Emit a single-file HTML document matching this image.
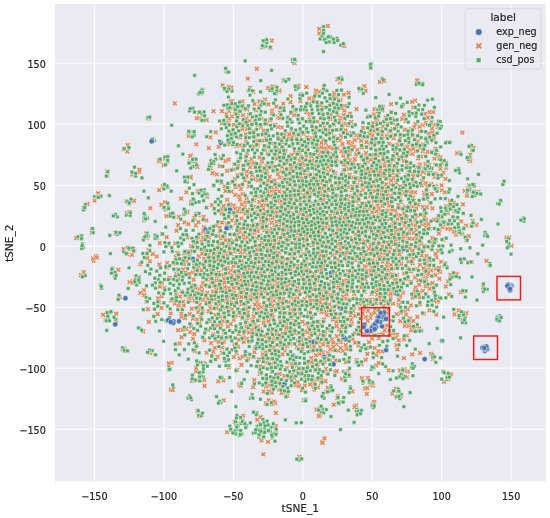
<!DOCTYPE html>
<html><head><meta charset="utf-8"><title>tSNE</title>
<style>
html,body{margin:0;padding:0;background:#fff;width:550px;height:518px;overflow:hidden}
svg{display:block}
#w{}
text{font-family:"DejaVu Sans","Liberation Sans",sans-serif;fill:#262626;stroke:#262626;stroke-width:0.2px}
</style></head><body><div id="w">
<svg width="550" height="518" viewBox="0 0 550 518">
<rect width="550" height="518" fill="#fff"/>
<g>
<rect x="55.0" y="4.0" width="490.6" height="477.5" fill="#eaeaf2"/>
<g stroke="#fff" stroke-width="1"><line x1="94.41" y1="4.0" x2="94.41" y2="481.5"/><line x1="163.86" y1="4.0" x2="163.86" y2="481.5"/><line x1="233.31" y1="4.0" x2="233.31" y2="481.5"/><line x1="302.75" y1="4.0" x2="302.75" y2="481.5"/><line x1="372.19" y1="4.0" x2="372.19" y2="481.5"/><line x1="441.64" y1="4.0" x2="441.64" y2="481.5"/><line x1="511.09" y1="4.0" x2="511.09" y2="481.5"/><line x1="55.0" y1="63.20" x2="545.6" y2="63.20"/><line x1="55.0" y1="124.20" x2="545.6" y2="124.20"/><line x1="55.0" y1="185.20" x2="545.6" y2="185.20"/><line x1="55.0" y1="246.20" x2="545.6" y2="246.20"/><line x1="55.0" y1="307.20" x2="545.6" y2="307.20"/><line x1="55.0" y1="368.20" x2="545.6" y2="368.20"/><line x1="55.0" y1="429.20" x2="545.6" y2="429.20"/></g>
<g stroke="#fff" stroke-width="0.36" transform="scale(1.3325)">
<path fill="#dd8452" d="M245 17.4l1 1 1-1 1 1-1 1 1 1-1 1-1-1-1 1-1-1 1-1-1-1zm-6.4 2.3l1 1 1-1 1 1-1 1 1 1-1 1-1-1-1 1-1-1 1-1-1-1zm1.3 5.3l1 1 1-1 1 1-1 1 1 1-1 1-1-1-1 1-1-1 1-1-1-1zm-44 8.5l1 1 1-1 1 1-1 1 1 1-1 1-1-1-1 1-1-1 1-1-1-1zm6.1 .4l1 1 1-1 1 1-1 1 1 1-1 1-1-1-1 1-1-1 1-1-1-1zm55.2-1.4l1 1 1-1 1 1-1 1 1 1-1 1-1-1-1 1-1-1 1-1-1-1zm-37.2 12.8l1 1 1-1 1 1-1 1 1 1-1 1-1-1-1 1-1-1 1-1-1-1zm57.4 3.5l1 1 1-1 1 1-1 1 1 1-1 1-1-1-1 1-1-1 1-1-1-1zm-108.7 2.7l1 1 1-1 1 1-1 1 1 1-1 1-1-1-1 1-1-1 1-1-1-1zm23-1.9l1 1 1-1 1 1-1 1 1 1-1 1-1-1-1 1-1-1 1-1-1-1zm-6.8 7.4l1 1 1-1 1 1-1 1 1 1-1 1-1-1-1 1-1-1 1-1-1-1zm26.7 1.8l1 1 1-1 1 1-1 1 1 1-1 1-1-1-1 1-1-1 1-1-1-1zm42.4 .9l1 1 1-1 1 1-1 1 1 1-1 1-1-1-1 1-1-1 1-1-1-1zm30.1-.2l1 1 1-1 1 1-1 1 1 1-1 1-1-1-1 1-1-1 1-1-1-1zm28.3-1.3l1 1 1-1 1 1-1 1 1 1-1 1-1-1-1 1-1-1 1-1-1-1zm-146.3 3.8l1 1 1-1 1 1-1 1 1 1-1 1-1-1-1 1-1-1 1-1-1-1zm6.6 1.7l1 1 1-1 1 1-1 1 1 1-1 1-1-1-1 1-1-1 1-1-1-1zm13.9 .3l1 1 1-1 1 1-1 1 1 1-1 1-1-1-1 1-1-1 1-1-1-1zm13.5 .1l1 1 1-1 1 1-1 1 1 1-1 1-1-1-1 1-1-1 1-1-1-1zm8.8 2.5l1 1 1-1 1 1-1 1 1 1-1 1-1-1-1 1-1-1 1-1-1-1zm14.4-3.8l1 1 1-1 1 1-1 1 1 1-1 1-1-1-1 1-1-1 1-1-1-1zm5.6 .5l1 1 1-1 1 1-1 1 1 1-1 1-1-1-1 1-1-1 1-1-1-1zm13.3 0l1 1 1-1 1 1-1 1 1 1-1 1-1-1-1 1-1-1 1-1-1-1zm30.3-.6l1 1 1-1 1 1-1 1 1 1-1 1-1-1-1 1-1-1 1-1-1-1zm-122.4 5.5l1 1 1-1 1 1-1 1 1 1-1 1-1-1-1 1-1-1 1-1-1-1zm67 2l1 1 1-1 1 1-1 1 1 1-1 1-1-1-1 1-1-1 1-1-1-1zm17.2 1.4l1 1 1-1 1 1-1 1 1 1-1 1-1-1-1 1-1-1 1-1-1-1zm20.2 1.3l1 1 1-1 1 1-1 1 1 1-1 1-1-1-1 1-1-1 1-1-1-1zm6.1-5.2l1 1 1-1 1 1-1 1 1 1-1 1-1-1-1 1-1-1 1-1-1-1zm-130.4 7.9l1 1 1-1 1 1-1 1 1 1-1 1-1-1-1 1-1-1 1-1-1-1zm47.3 2.3l1 1 1-1 1 1-1 1 1 1-1 1-1-1-1 1-1-1 1-1-1-1zm16.2-1.8l1 1 1-1 1 1-1 1 1 1-1 1-1-1-1 1-1-1 1-1-1-1zm17.9-.3l1 1 1-1 1 1-1 1 1 1-1 1-1-1-1 1-1-1 1-1-1-1zm5.4-1.2l1 1 1-1 1 1-1 1 1 1-1 1-1-1-1 1-1-1 1-1-1-1zm7.5-.7l1 1 1-1 1 1-1 1 1 1-1 1-1-1-1 1-1-1 1-1-1-1zm6.9 2.1l1 1 1-1 1 1-1 1 1 1-1 1-1-1-1 1-1-1 1-1-1-1zm15.4-.1l1 1 1-1 1 1-1 1 1 1-1 1-1-1-1 1-1-1 1-1-1-1zm10.5 1.6l1 1 1-1 1 1-1 1 1 1-1 1-1-1-1 1-1-1 1-1-1-1zm29.1 .9l1 1 1-1 1 1-1 1 1 1-1 1-1-1-1 1-1-1 1-1-1-1zm6.1-2.2l1 1 1-1 1 1-1 1 1 1-1 1-1-1-1 1-1-1 1-1-1-1zm8.3 1.8l1 1 1-1 1 1-1 1 1 1-1 1-1-1-1 1-1-1 1-1-1-1zm8.4 .7l1 1 1-1 1 1-1 1 1 1-1 1-1-1-1 1-1-1 1-1-1-1zm1.3-5.3l1 1 1-1 1 1-1 1 1 1-1 1-1-1-1 1-1-1 1-1-1-1zm-166.8 5.7l1 1 1-1 1 1-1 1 1 1-1 1-1-1-1 1-1-1 1-1-1-1zm15.5 2.3l1 1 1-1 1 1-1 1 1 1-1 1-1-1-1 1-1-1 1-1-1-1zm11.7 0l1 1 1-1 1 1-1 1 1 1-1 1-1-1-1 1-1-1 1-1-1-1zm13.6-1.2l1 1 1-1 1 1-1 1 1 1-1 1-1-1-1 1-1-1 1-1-1-1zm18.6 .9l1 1 1-1 1 1-1 1 1 1-1 1-1-1-1 1-1-1 1-1-1-1zm6.1 1.3l1 1 1-1 1 1-1 1 1 1-1 1-1-1-1 1-1-1 1-1-1-1zm11.2-1.4l1 1 1-1 1 1-1 1 1 1-1 1-1-1-1 1-1-1 1-1-1-1zm12 3.2l1 1 1-1 1 1-1 1 1 1-1 1-1-1-1 1-1-1 1-1-1-1zm7.4-3.5l1 1 1-1 1 1-1 1 1 1-1 1-1-1-1 1-1-1 1-1-1-1zm7.7 3.3l1 1 1-1 1 1-1 1 1 1-1 1-1-1-1 1-1-1 1-1-1-1zm4.6-3.5l1 1 1-1 1 1-1 1 1 1-1 1-1-1-1 1-1-1 1-1-1-1zm4.9 3.8l1 1 1-1 1 1-1 1 1 1-1 1-1-1-1 1-1-1 1-1-1-1zm9.5-4.4l1 1 1-1 1 1-1 1 1 1-1 1-1-1-1 1-1-1 1-1-1-1zm13.6 .1l1 1 1-1 1 1-1 1 1 1-1 1-1-1-1 1-1-1 1-1-1-1zm37.7 3.4l1 1 1-1 1 1-1 1 1 1-1 1-1-1-1 1-1-1 1-1-1-1zm6.2-1.3l1 1 1-1 1 1-1 1 1 1-1 1-1-1-1 1-1-1 1-1-1-1zm-213.2 4.9l1 1 1-1 1 1-1 1 1 1-1 1-1-1-1 1-1-1 1-1-1-1zm38-.2l1 1 1-1 1 1-1 1 1 1-1 1-1-1-1 1-1-1 1-1-1-1zm5.3 1.3l1 1 1-1 1 1-1 1 1 1-1 1-1-1-1 1-1-1 1-1-1-1zm11.5 2.5l1 1 1-1 1 1-1 1 1 1-1 1-1-1-1 1-1-1 1-1-1-1zm4.5-.5l1 1 1-1 1 1-1 1 1 1-1 1-1-1-1 1-1-1 1-1-1-1zm6.6-2.4l1 1 1-1 1 1-1 1 1 1-1 1-1-1-1 1-1-1 1-1-1-1zm4.7 1.8l1 1 1-1 1 1-1 1 1 1-1 1-1-1-1 1-1-1 1-1-1-1zm17.9 1.4l1 1 1-1 1 1-1 1 1 1-1 1-1-1-1 1-1-1 1-1-1-1zm15.7-2.7l1 1 1-1 1 1-1 1 1 1-1 1-1-1-1 1-1-1 1-1-1-1zm10.9-.6l1 1 1-1 1 1-1 1 1 1-1 1-1-1-1 1-1-1 1-1-1-1zm7 2.4l1 1 1-1 1 1-1 1 1 1-1 1-1-1-1 1-1-1 1-1-1-1zm8.8 .5l1 1 1-1 1 1-1 1 1 1-1 1-1-1-1 1-1-1 1-1-1-1zm15.4 .4l1 1 1-1 1 1-1 1 1 1-1 1-1-1-1 1-1-1 1-1-1-1zm5.5-1.5l1 1 1-1 1 1-1 1 1 1-1 1-1-1-1 1-1-1 1-1-1-1zm19.3 .6l1 1 1-1 1 1-1 1 1 1-1 1-1-1-1 1-1-1 1-1-1-1zm6.6-3.8l1 1 1-1 1 1-1 1 1 1-1 1-1-1-1 1-1-1 1-1-1-1zm4.6 .7l1 1 1-1 1 1-1 1 1 1-1 1-1-1-1 1-1-1 1-1-1-1zm7.7 .4l1 1 1-1 1 1-1 1 1 1-1 1-1-1-1 1-1-1 1-1-1-1zm-119.8 7.5l1 1 1-1 1 1-1 1 1 1-1 1-1-1-1 1-1-1 1-1-1-1zm5.6-3l1 1 1-1 1 1-1 1 1 1-1 1-1-1-1 1-1-1 1-1-1-1zm2.4 4.7l1 1 1-1 1 1-1 1 1 1-1 1-1-1-1 1-1-1 1-1-1-1zm5.7-3.1l1 1 1-1 1 1-1 1 1 1-1 1-1-1-1 1-1-1 1-1-1-1zm15.7 .3l1 1 1-1 1 1-1 1 1 1-1 1-1-1-1 1-1-1 1-1-1-1zm7.3 2.2l1 1 1-1 1 1-1 1 1 1-1 1-1-1-1 1-1-1 1-1-1-1zm53.7-1.9l1 1 1-1 1 1-1 1 1 1-1 1-1-1-1 1-1-1 1-1-1-1zm8.3 2.1l1 1 1-1 1 1-1 1 1 1-1 1-1-1-1 1-1-1 1-1-1-1zm5.1-.2l1 1 1-1 1 1-1 1 1 1-1 1-1-1-1 1-1-1 1-1-1-1zm6.1 .7l1 1 1-1 1 1-1 1 1 1-1 1-1-1-1 1-1-1 1-1-1-1zm5.4-4l1 1 1-1 1 1-1 1 1 1-1 1-1-1-1 1-1-1 1-1-1-1zm6.5 2.8l1 1 1-1 1 1-1 1 1 1-1 1-1-1-1 1-1-1 1-1-1-1zm4.8-.5l1 1 1-1 1 1-1 1 1 1-1 1-1-1-1 1-1-1 1-1-1-1zm6.7 1.8l1 1 1-1 1 1-1 1 1 1-1 1-1-1-1 1-1-1 1-1-1-1zm2-4.9l1 1 1-1 1 1-1 1 1 1-1 1-1-1-1 1-1-1 1-1-1-1zm8.8-.2l1 1 1-1 1 1-1 1 1 1-1 1-1-1-1 1-1-1 1-1-1-1zm-181.2 5.5l1 1 1-1 1 1-1 1 1 1-1 1-1-1-1 1-1-1 1-1-1-1zm12.9 4l1 1 1-1 1 1-1 1 1 1-1 1-1-1-1 1-1-1 1-1-1-1zm15.6-2.3l1 1 1-1 1 1-1 1 1 1-1 1-1-1-1 1-1-1 1-1-1-1zm6.7 2.4l1 1 1-1 1 1-1 1 1 1-1 1-1-1-1 1-1-1 1-1-1-1zm20.5-2.6l1 1 1-1 1 1-1 1 1 1-1 1-1-1-1 1-1-1 1-1-1-1zm8.1 1.3l1 1 1-1 1 1-1 1 1 1-1 1-1-1-1 1-1-1 1-1-1-1zm7.9 1.8l1 1 1-1 1 1-1 1 1 1-1 1-1-1-1 1-1-1 1-1-1-1zm8-2.2l1 1 1-1 1 1-1 1 1 1-1 1-1-1-1 1-1-1 1-1-1-1zm5.8 1.6l1 1 1-1 1 1-1 1 1 1-1 1-1-1-1 1-1-1 1-1-1-1zm8.3 1.3l1 1 1-1 1 1-1 1 1 1-1 1-1-1-1 1-1-1 1-1-1-1zm10.1-4.9l1 1 1-1 1 1-1 1 1 1-1 1-1-1-1 1-1-1 1-1-1-1zm14.9 .4l1 1 1-1 1 1-1 1 1 1-1 1-1-1-1 1-1-1 1-1-1-1zm31.8 3.8l1 1 1-1 1 1-1 1 1 1-1 1-1-1-1 1-1-1 1-1-1-1zm4.9-.3l1 1 1-1 1 1-1 1 1 1-1 1-1-1-1 1-1-1 1-1-1-1zm6.6 .8l1 1 1-1 1 1-1 1 1 1-1 1-1-1-1 1-1-1 1-1-1-1zm15.9-.4l1 1 1-1 1 1-1 1 1 1-1 1-1-1-1 1-1-1 1-1-1-1zm24.1-4.3l1 1 1-1 1 1-1 1 1 1-1 1-1-1-1 1-1-1 1-1-1-1zm-251.2 9.4l1 1 1-1 1 1-1 1 1 1-1 1-1-1-1 1-1-1 1-1-1-1zm51.5-.5l1 1 1-1 1 1-1 1 1 1-1 1-1-1-1 1-1-1 1-1-1-1zm16.9 1.8l1 1 1-1 1 1-1 1 1 1-1 1-1-1-1 1-1-1 1-1-1-1zm13.2-.6l1 1 1-1 1 1-1 1 1 1-1 1-1-1-1 1-1-1 1-1-1-1zm7.3-4l1 1 1-1 1 1-1 1 1 1-1 1-1-1-1 1-1-1 1-1-1-1zm5.7 4.2l1 1 1-1 1 1-1 1 1 1-1 1-1-1-1 1-1-1 1-1-1-1zm11.4 .8l1 1 1-1 1 1-1 1 1 1-1 1-1-1-1 1-1-1 1-1-1-1zm.1-4.9l1 1 1-1 1 1-1 1 1 1-1 1-1-1-1 1-1-1 1-1-1-1zm9.9 1.2l1 1 1-1 1 1-1 1 1 1-1 1-1-1-1 1-1-1 1-1-1-1zm7.2 2.4l1 1 1-1 1 1-1 1 1 1-1 1-1-1-1 1-1-1 1-1-1-1zm6.9 .1l1 1 1-1 1 1-1 1 1 1-1 1-1-1-1 1-1-1 1-1-1-1zm20.9 1l1 1 1-1 1 1-1 1 1 1-1 1-1-1-1 1-1-1 1-1-1-1zm8.5-5.3l1 1 1-1 1 1-1 1 1 1-1 1-1-1-1 1-1-1 1-1-1-1zm9 1.8l1 1 1-1 1 1-1 1 1 1-1 1-1-1-1 1-1-1 1-1-1-1zm16.8-1.1l1 1 1-1 1 1-1 1 1 1-1 1-1-1-1 1-1-1 1-1-1-1zm13.8 3.3l1 1 1-1 1 1-1 1 1 1-1 1-1-1-1 1-1-1 1-1-1-1zm18.2 .6l1 1 1-1 1 1-1 1 1 1-1 1-1-1-1 1-1-1 1-1-1-1zm4.5-1.4l1 1 1-1 1 1-1 1 1 1-1 1-1-1-1 1-1-1 1-1-1-1zm35.1 1.5l1 1 1-1 1 1-1 1 1 1-1 1-1-1-1 1-1-1 1-1-1-1zm-209.4 7l1 1 1-1 1 1-1 1 1 1-1 1-1-1-1 1-1-1 1-1-1-1zm13.4-5.6l1 1 1-1 1 1-1 1 1 1-1 1-1-1-1 1-1-1 1-1-1-1zm49.1 5.2l1 1 1-1 1 1-1 1 1 1-1 1-1-1-1 1-1-1 1-1-1-1zm15.6-1.9l1 1 1-1 1 1-1 1 1 1-1 1-1-1-1 1-1-1 1-1-1-1zm30.2-.6l1 1 1-1 1 1-1 1 1 1-1 1-1-1-1 1-1-1 1-1-1-1zm6.3-2.6l1 1 1-1 1 1-1 1 1 1-1 1-1-1-1 1-1-1 1-1-1-1zm9.4 4.6l1 1 1-1 1 1-1 1 1 1-1 1-1-1-1 1-1-1 1-1-1-1zm7.4-1.1l1 1 1-1 1 1-1 1 1 1-1 1-1-1-1 1-1-1 1-1-1-1zm10.6-2.2l1 1 1-1 1 1-1 1 1 1-1 1-1-1-1 1-1-1 1-1-1-1zm15.7 0l1 1 1-1 1 1-1 1 1 1-1 1-1-1-1 1-1-1 1-1-1-1zm8.5 2.9l1 1 1-1 1 1-1 1 1 1-1 1-1-1-1 1-1-1 1-1-1-1zm11.4-1.6l1 1 1-1 1 1-1 1 1 1-1 1-1-1-1 1-1-1 1-1-1-1zm5.8-2.4l1 1 1-1 1 1-1 1 1 1-1 1-1-1-1 1-1-1 1-1-1-1zm17.9 3.1l1 1 1-1 1 1-1 1 1 1-1 1-1-1-1 1-1-1 1-1-1-1zm8.3 1.4l1 1 1-1 1 1-1 1 1 1-1 1-1-1-1 1-1-1 1-1-1-1zm-233.5 5.2l1 1 1-1 1 1-1 1 1 1-1 1-1-1-1 1-1-1 1-1-1-1zm27.8 1.9l1 1 1-1 1 1-1 1 1 1-1 1-1-1-1 1-1-1 1-1-1-1zm22.1-2.3l1 1 1-1 1 1-1 1 1 1-1 1-1-1-1 1-1-1 1-1-1-1zm15.1-3.3l1 1 1-1 1 1-1 1 1 1-1 1-1-1-1 1-1-1 1-1-1-1zm10.5 .6l1 1 1-1 1 1-1 1 1 1-1 1-1-1-1 1-1-1 1-1-1-1zm15.7-.2l1 1 1-1 1 1-1 1 1 1-1 1-1-1-1 1-1-1 1-1-1-1zm15.3-.4l1 1 1-1 1 1-1 1 1 1-1 1-1-1-1 1-1-1 1-1-1-1zm12.1 1.5l1 1 1-1 1 1-1 1 1 1-1 1-1-1-1 1-1-1 1-1-1-1zm6.1-1.7l1 1 1-1 1 1-1 1 1 1-1 1-1-1-1 1-1-1 1-1-1-1zm15.2 2.4l1 1 1-1 1 1-1 1 1 1-1 1-1-1-1 1-1-1 1-1-1-1zm16.6 1.7l1 1 1-1 1 1-1 1 1 1-1 1-1-1-1 1-1-1 1-1-1-1zm27-.7l1 1 1-1 1 1-1 1 1 1-1 1-1-1-1 1-1-1 1-1-1-1zm13.2-3.1l1 1 1-1 1 1-1 1 1 1-1 1-1-1-1 1-1-1 1-1-1-1zm10 1.4l1 1 1-1 1 1-1 1 1 1-1 1-1-1-1 1-1-1 1-1-1-1zm26.8 1.8l1 1 1-1 1 1-1 1 1 1-1 1-1-1-1 1-1-1 1-1-1-1zm-195.5 3.1l1 1 1-1 1 1-1 1 1 1-1 1-1-1-1 1-1-1 1-1-1-1zm13.1 4.3l1 1 1-1 1 1-1 1 1 1-1 1-1-1-1 1-1-1 1-1-1-1zm4.9-1.1l1 1 1-1 1 1-1 1 1 1-1 1-1-1-1 1-1-1 1-1-1-1zm15.9-1.7l1 1 1-1 1 1-1 1 1 1-1 1-1-1-1 1-1-1 1-1-1-1zm6.6 .4l1 1 1-1 1 1-1 1 1 1-1 1-1-1-1 1-1-1 1-1-1-1zm5.1 .3l1 1 1-1 1 1-1 1 1 1-1 1-1-1-1 1-1-1 1-1-1-1zm8 2.5l1 1 1-1 1 1-1 1 1 1-1 1-1-1-1 1-1-1 1-1-1-1zm8.9-5.1l1 1 1-1 1 1-1 1 1 1-1 1-1-1-1 1-1-1 1-1-1-1zm9.4 .2l1 1 1-1 1 1-1 1 1 1-1 1-1-1-1 1-1-1 1-1-1-1zm7 3.5l1 1 1-1 1 1-1 1 1 1-1 1-1-1-1 1-1-1 1-1-1-1zm15.5-4l1 1 1-1 1 1-1 1 1 1-1 1-1-1-1 1-1-1 1-1-1-1zm17.7 4l1 1 1-1 1 1-1 1 1 1-1 1-1-1-1 1-1-1 1-1-1-1zm9.2-.6l1 1 1-1 1 1-1 1 1 1-1 1-1-1-1 1-1-1 1-1-1-1zm5.2-2.3l1 1 1-1 1 1-1 1 1 1-1 1-1-1-1 1-1-1 1-1-1-1zm36.1 2.6l1 1 1-1 1 1-1 1 1 1-1 1-1-1-1 1-1-1 1-1-1-1zm-239.7 4.9l1 1 1-1 1 1-1 1 1 1-1 1-1-1-1 1-1-1 1-1-1-1zm18.9-.7l1 1 1-1 1 1-1 1 1 1-1 1-1-1-1 1-1-1 1-1-1-1zm5.2-2l1 1 1-1 1 1-1 1 1 1-1 1-1-1-1 1-1-1 1-1-1-1zm38.8 4.4l1 1 1-1 1 1-1 1 1 1-1 1-1-1-1 1-1-1 1-1-1-1zm19.5-2.6l1 1 1-1 1 1-1 1 1 1-1 1-1-1-1 1-1-1 1-1-1-1zm13.5 3.5l1 1 1-1 1 1-1 1 1 1-1 1-1-1-1 1-1-1 1-1-1-1zm5.1-3.7l1 1 1-1 1 1-1 1 1 1-1 1-1-1-1 1-1-1 1-1-1-1zm9 3.7l1 1 1-1 1 1-1 1 1 1-1 1-1-1-1 1-1-1 1-1-1-1zm19.6-1.3l1 1 1-1 1 1-1 1 1 1-1 1-1-1-1 1-1-1 1-1-1-1zm12.4-.6l1 1 1-1 1 1-1 1 1 1-1 1-1-1-1 1-1-1 1-1-1-1zm5.8-2.1l1 1 1-1 1 1-1 1 1 1-1 1-1-1-1 1-1-1 1-1-1-1zm9.2 3.4l1 1 1-1 1 1-1 1 1 1-1 1-1-1-1 1-1-1 1-1-1-1zm6-1.5l1 1 1-1 1 1-1 1 1 1-1 1-1-1-1 1-1-1 1-1-1-1zm48.8-2.2l1 1 1-1 1 1-1 1 1 1-1 1-1-1-1 1-1-1 1-1-1-1zm16.1 4.3l1 1 1-1 1 1-1 1 1 1-1 1-1-1-1 1-1-1 1-1-1-1zm1.3-4.4l1 1 1-1 1 1-1 1 1 1-1 1-1-1-1 1-1-1 1-1-1-1zm6 1.1l1 1 1-1 1 1-1 1 1 1-1 1-1-1-1 1-1-1 1-1-1-1zm16 1.3l1 1 1-1 1 1-1 1 1 1-1 1-1-1-1 1-1-1 1-1-1-1zm-154.7 8.2l1 1 1-1 1 1-1 1 1 1-1 1-1-1-1 1-1-1 1-1-1-1zm10.1-.8l1 1 1-1 1 1-1 1 1 1-1 1-1-1-1 1-1-1 1-1-1-1zm14.5-.5l1 1 1-1 1 1-1 1 1 1-1 1-1-1-1 1-1-1 1-1-1-1zm6 1.1l1 1 1-1 1 1-1 1 1 1-1 1-1-1-1 1-1-1 1-1-1-1zm12.1 .5l1 1 1-1 1 1-1 1 1 1-1 1-1-1-1 1-1-1 1-1-1-1zm29.6 0l1 1 1-1 1 1-1 1 1 1-1 1-1-1-1 1-1-1 1-1-1-1zm9-5.6l1 1 1-1 1 1-1 1 1 1-1 1-1-1-1 1-1-1 1-1-1-1zm3.4 5l1 1 1-1 1 1-1 1 1 1-1 1-1-1-1 1-1-1 1-1-1-1zm6.5-1.5l1 1 1-1 1 1-1 1 1 1-1 1-1-1-1 1-1-1 1-1-1-1zm4.6-2.2l1 1 1-1 1 1-1 1 1 1-1 1-1-1-1 1-1-1 1-1-1-1zm5.1 4.1l1 1 1-1 1 1-1 1 1 1-1 1-1-1-1 1-1-1 1-1-1-1zm8.6-2.9l1 1 1-1 1 1-1 1 1 1-1 1-1-1-1 1-1-1 1-1-1-1zm11.1-.6l1 1 1-1 1 1-1 1 1 1-1 1-1-1-1 1-1-1 1-1-1-1zm19.3-1.5l1 1 1-1 1 1-1 1 1 1-1 1-1-1-1 1-1-1 1-1-1-1zm39.2 3.2l1 1 1-1 1 1-1 1 1 1-1 1-1-1-1 1-1-1 1-1-1-1zm-236.4 3.8l1 1 1-1 1 1-1 1 1 1-1 1-1-1-1 1-1-1 1-1-1-1zm20.4 1.6l1 1 1-1 1 1-1 1 1 1-1 1-1-1-1 1-1-1 1-1-1-1zm11.8 1.7l1 1 1-1 1 1-1 1 1 1-1 1-1-1-1 1-1-1 1-1-1-1zm55.2 .2l1 1 1-1 1 1-1 1 1 1-1 1-1-1-1 1-1-1 1-1-1-1zm6-1.6l1 1 1-1 1 1-1 1 1 1-1 1-1-1-1 1-1-1 1-1-1-1zm12.4-.4l1 1 1-1 1 1-1 1 1 1-1 1-1-1-1 1-1-1 1-1-1-1zm7 1.2l1 1 1-1 1 1-1 1 1 1-1 1-1-1-1 1-1-1 1-1-1-1zm40.2-2.7l1 1 1-1 1 1-1 1 1 1-1 1-1-1-1 1-1-1 1-1-1-1zm28.1 2.3l1 1 1-1 1 1-1 1 1 1-1 1-1-1-1 1-1-1 1-1-1-1zm11-.6l1 1 1-1 1 1-1 1 1 1-1 1-1-1-1 1-1-1 1-1-1-1zm19.9-1.5l1 1 1-1 1 1-1 1 1 1-1 1-1-1-1 1-1-1 1-1-1-1zm19.6-1l1 1 1-1 1 1-1 1 1 1-1 1-1-1-1 1-1-1 1-1-1-1zm8 2l1 1 1-1 1 1-1 1 1 1-1 1-1-1-1 1-1-1 1-1-1-1zm-285.2 3.4l1 1 1-1 1 1-1 1 1 1-1 1-1-1-1 1-1-1 1-1-1-1zm24.7 3.8l1 1 1-1 1 1-1 1 1 1-1 1-1-1-1 1-1-1 1-1-1-1zm37.3-2l1 1 1-1 1 1-1 1 1 1-1 1-1-1-1 1-1-1 1-1-1-1zm7.7 2.5l1 1 1-1 1 1-1 1 1 1-1 1-1-1-1 1-1-1 1-1-1-1zm26.9-1.7l1 1 1-1 1 1-1 1 1 1-1 1-1-1-1 1-1-1 1-1-1-1zm9-2.8l1 1 1-1 1 1-1 1 1 1-1 1-1-1-1 1-1-1 1-1-1-1zm11.2 .8l1 1 1-1 1 1-1 1 1 1-1 1-1-1-1 1-1-1 1-1-1-1zm20.2 3l1 1 1-1 1 1-1 1 1 1-1 1-1-1-1 1-1-1 1-1-1-1zm13.9-.5l1 1 1-1 1 1-1 1 1 1-1 1-1-1-1 1-1-1 1-1-1-1zm21.6 2.1l1 1 1-1 1 1-1 1 1 1-1 1-1-1-1 1-1-1 1-1-1-1zm5.5-.7l1 1 1-1 1 1-1 1 1 1-1 1-1-1-1 1-1-1 1-1-1-1zm3.1-4.5l1 1 1-1 1 1-1 1 1 1-1 1-1-1-1 1-1-1 1-1-1-1zm5.8 2.5l1 1 1-1 1 1-1 1 1 1-1 1-1-1-1 1-1-1 1-1-1-1zm16.2 1.8l1 1 1-1 1 1-1 1 1 1-1 1-1-1-1 1-1-1 1-1-1-1zm11.5-3.2l1 1 1-1 1 1-1 1 1 1-1 1-1-1-1 1-1-1 1-1-1-1zm5.8 2.8l1 1 1-1 1 1-1 1 1 1-1 1-1-1-1 1-1-1 1-1-1-1zm12.4-1.7l1 1 1-1 1 1-1 1 1 1-1 1-1-1-1 1-1-1 1-1-1-1zm15.9 3.1l1 1 1-1 1 1-1 1 1 1-1 1-1-1-1 1-1-1 1-1-1-1zm17.8-.4l1 1 1-1 1 1-1 1 1 1-1 1-1-1-1 1-1-1 1-1-1-1zm-276.8 3.8l1 1 1-1 1 1-1 1 1 1-1 1-1-1-1 1-1-1 1-1-1-1zm49.2 .3l1 1 1-1 1 1-1 1 1 1-1 1-1-1-1 1-1-1 1-1-1-1zm10.4-.3l1 1 1-1 1 1-1 1 1 1-1 1-1-1-1 1-1-1 1-1-1-1zm31.9-.2l1 1 1-1 1 1-1 1 1 1-1 1-1-1-1 1-1-1 1-1-1-1zm5.9 1.1l1 1 1-1 1 1-1 1 1 1-1 1-1-1-1 1-1-1 1-1-1-1zm5.5 .3l1 1 1-1 1 1-1 1 1 1-1 1-1-1-1 1-1-1 1-1-1-1zm4.9-1.3l1 1 1-1 1 1-1 1 1 1-1 1-1-1-1 1-1-1 1-1-1-1zm8.2 .6l1 1 1-1 1 1-1 1 1 1-1 1-1-1-1 1-1-1 1-1-1-1zm5.6 1.2l1 1 1-1 1 1-1 1 1 1-1 1-1-1-1 1-1-1 1-1-1-1zm5.3-2.5l1 1 1-1 1 1-1 1 1 1-1 1-1-1-1 1-1-1 1-1-1-1zm4.5 2.9l1 1 1-1 1 1-1 1 1 1-1 1-1-1-1 1-1-1 1-1-1-1zm11.3-3.8l1 1 1-1 1 1-1 1 1 1-1 1-1-1-1 1-1-1 1-1-1-1zm6 2.9l1 1 1-1 1 1-1 1 1 1-1 1-1-1-1 1-1-1 1-1-1-1zm25.9-.4l1 1 1-1 1 1-1 1 1 1-1 1-1-1-1 1-1-1 1-1-1-1zm20.6 .9l1 1 1-1 1 1-1 1 1 1-1 1-1-1-1 1-1-1 1-1-1-1zm9.4-1.1l1 1 1-1 1 1-1 1 1 1-1 1-1-1-1 1-1-1 1-1-1-1zm9 0l1 1 1-1 1 1-1 1 1 1-1 1-1-1-1 1-1-1 1-1-1-1zm6.1-2.7l1 1 1-1 1 1-1 1 1 1-1 1-1-1-1 1-1-1 1-1-1-1zm13.4 4.1l1 1 1-1 1 1-1 1 1 1-1 1-1-1-1 1-1-1 1-1-1-1zm17-4.4l1 1 1-1 1 1-1 1 1 1-1 1-1-1-1 1-1-1 1-1-1-1zm4.7 5.2l1 1 1-1 1 1-1 1 1 1-1 1-1-1-1 1-1-1 1-1-1-1zm29-5.4l1 1 1-1 1 1-1 1 1 1-1 1-1-1-1 1-1-1 1-1-1-1zm-252.2 6.6l1 1 1-1 1 1-1 1 1 1-1 1-1-1-1 1-1-1 1-1-1-1zm29.7 2.2l1 1 1-1 1 1-1 1 1 1-1 1-1-1-1 1-1-1 1-1-1-1zm13.2-1.8l1 1 1-1 1 1-1 1 1 1-1 1-1-1-1 1-1-1 1-1-1-1zm10.9 1.1l1 1 1-1 1 1-1 1 1 1-1 1-1-1-1 1-1-1 1-1-1-1zm22.7 1.8l1 1 1-1 1 1-1 1 1 1-1 1-1-1-1 1-1-1 1-1-1-1zm4.6-.6l1 1 1-1 1 1-1 1 1 1-1 1-1-1-1 1-1-1 1-1-1-1zm4.9 1.3l1 1 1-1 1 1-1 1 1 1-1 1-1-1-1 1-1-1 1-1-1-1zm20.2 1.1l1 1 1-1 1 1-1 1 1 1-1 1-1-1-1 1-1-1 1-1-1-1zm19-2.1l1 1 1-1 1 1-1 1 1 1-1 1-1-1-1 1-1-1 1-1-1-1zm9-.3l1 1 1-1 1 1-1 1 1 1-1 1-1-1-1 1-1-1 1-1-1-1zm21.7-2.7l1 1 1-1 1 1-1 1 1 1-1 1-1-1-1 1-1-1 1-1-1-1zm11.1 2.6l1 1 1-1 1 1-1 1 1 1-1 1-1-1-1 1-1-1 1-1-1-1zm6.5 1.4l1 1 1-1 1 1-1 1 1 1-1 1-1-1-1 1-1-1 1-1-1-1zm8.6-2.6l1 1 1-1 1 1-1 1 1 1-1 1-1-1-1 1-1-1 1-1-1-1zm21.1 2.8l1 1 1-1 1 1-1 1 1 1-1 1-1-1-1 1-1-1 1-1-1-1zm14.6-2.4l1 1 1-1 1 1-1 1 1 1-1 1-1-1-1 1-1-1 1-1-1-1zm14.6 2.4l1 1 1-1 1 1-1 1 1 1-1 1-1-1-1 1-1-1 1-1-1-1zm5-4.1l1 1 1-1 1 1-1 1 1 1-1 1-1-1-1 1-1-1 1-1-1-1zm10.2 3.9l1 1 1-1 1 1-1 1 1 1-1 1-1-1-1 1-1-1 1-1-1-1zm-234.9 1.6l1 1 1-1 1 1-1 1 1 1-1 1-1-1-1 1-1-1 1-1-1-1zm25.8 3.4l1 1 1-1 1 1-1 1 1 1-1 1-1-1-1 1-1-1 1-1-1-1zm4.7-2.1l1 1 1-1 1 1-1 1 1 1-1 1-1-1-1 1-1-1 1-1-1-1zm8.7 2.2l1 1 1-1 1 1-1 1 1 1-1 1-1-1-1 1-1-1 1-1-1-1zm5.9 1.5l1 1 1-1 1 1-1 1 1 1-1 1-1-1-1 1-1-1 1-1-1-1zm13.6-3.6l1 1 1-1 1 1-1 1 1 1-1 1-1-1-1 1-1-1 1-1-1-1zm21.2 2.3l1 1 1-1 1 1-1 1 1 1-1 1-1-1-1 1-1-1 1-1-1-1zm24.9-.1l1 1 1-1 1 1-1 1 1 1-1 1-1-1-1 1-1-1 1-1-1-1zm18.7 1.4l1 1 1-1 1 1-1 1 1 1-1 1-1-1-1 1-1-1 1-1-1-1zm15.8-1.2l1 1 1-1 1 1-1 1 1 1-1 1-1-1-1 1-1-1 1-1-1-1zm6.1-1.8l1 1 1-1 1 1-1 1 1 1-1 1-1-1-1 1-1-1 1-1-1-1zm23.6 .3l1 1 1-1 1 1-1 1 1 1-1 1-1-1-1 1-1-1 1-1-1-1zm7.3 2.5l1 1 1-1 1 1-1 1 1 1-1 1-1-1-1 1-1-1 1-1-1-1zm5.4-2.8l1 1 1-1 1 1-1 1 1 1-1 1-1-1-1 1-1-1 1-1-1-1zm15.5-1.9l1 1 1-1 1 1-1 1 1 1-1 1-1-1-1 1-1-1 1-1-1-1zm.5 5.1l1 1 1-1 1 1-1 1 1 1-1 1-1-1-1 1-1-1 1-1-1-1zm13.4-2.9l1 1 1-1 1 1-1 1 1 1-1 1-1-1-1 1-1-1 1-1-1-1zm18.3 .3l1 1 1-1 1 1-1 1 1 1-1 1-1-1-1 1-1-1 1-1-1-1zm20.3 .5l1 1 1-1 1 1-1 1 1 1-1 1-1-1-1 1-1-1 1-1-1-1zm-288.6 5.8l1 1 1-1 1 1-1 1 1 1-1 1-1-1-1 1-1-1 1-1-1-1zm17.6 .4l1 1 1-1 1 1-1 1 1 1-1 1-1-1-1 1-1-1 1-1-1-1zm63.8 .5l1 1 1-1 1 1-1 1 1 1-1 1-1-1-1 1-1-1 1-1-1-1zm44.8 1.5l1 1 1-1 1 1-1 1 1 1-1 1-1-1-1 1-1-1 1-1-1-1zm16.9-2.5l1 1 1-1 1 1-1 1 1 1-1 1-1-1-1 1-1-1 1-1-1-1zm7.2-.4l1 1 1-1 1 1-1 1 1 1-1 1-1-1-1 1-1-1 1-1-1-1zm5.7-2l1 1 1-1 1 1-1 1 1 1-1 1-1-1-1 1-1-1 1-1-1-1zm1.2 4.7l1 1 1-1 1 1-1 1 1 1-1 1-1-1-1 1-1-1 1-1-1-1zm8.2-1.6l1 1 1-1 1 1-1 1 1 1-1 1-1-1-1 1-1-1 1-1-1-1zm19-2.3l1 1 1-1 1 1-1 1 1 1-1 1-1-1-1 1-1-1 1-1-1-1zm20.5 2.7l1 1 1-1 1 1-1 1 1 1-1 1-1-1-1 1-1-1 1-1-1-1zm4.9-1l1 1 1-1 1 1-1 1 1 1-1 1-1-1-1 1-1-1 1-1-1-1zm6.7 1.3l1 1 1-1 1 1-1 1 1 1-1 1-1-1-1 1-1-1 1-1-1-1zm4.8-2.2l1 1 1-1 1 1-1 1 1 1-1 1-1-1-1 1-1-1 1-1-1-1zm8.6 1.9l1 1 1-1 1 1-1 1 1 1-1 1-1-1-1 1-1-1 1-1-1-1zm6.2 1.6l1 1 1-1 1 1-1 1 1 1-1 1-1-1-1 1-1-1 1-1-1-1zm7.3-4.5l1 1 1-1 1 1-1 1 1 1-1 1-1-1-1 1-1-1 1-1-1-1zm17.6-.3l1 1 1-1 1 1-1 1 1 1-1 1-1-1-1 1-1-1 1-1-1-1zm17 3.6l1 1 1-1 1 1-1 1 1 1-1 1-1-1-1 1-1-1 1-1-1-1zm-289.8 2.8l1 1 1-1 1 1-1 1 1 1-1 1-1-1-1 1-1-1 1-1-1-1zm52.8-.2l1 1 1-1 1 1-1 1 1 1-1 1-1-1-1 1-1-1 1-1-1-1zm9.9 4l1 1 1-1 1 1-1 1 1 1-1 1-1-1-1 1-1-1 1-1-1-1zm5.2-4.6l1 1 1-1 1 1-1 1 1 1-1 1-1-1-1 1-1-1 1-1-1-1zm6.5 4.7l1 1 1-1 1 1-1 1 1 1-1 1-1-1-1 1-1-1 1-1-1-1zm9.1-4.4l1 1 1-1 1 1-1 1 1 1-1 1-1-1-1 1-1-1 1-1-1-1zm7 2.2l1 1 1-1 1 1-1 1 1 1-1 1-1-1-1 1-1-1 1-1-1-1zm9.2-2.3l1 1 1-1 1 1-1 1 1 1-1 1-1-1-1 1-1-1 1-1-1-1zm8.9 .9l1 1 1-1 1 1-1 1 1 1-1 1-1-1-1 1-1-1 1-1-1-1zm5.5 3.3l1 1 1-1 1 1-1 1 1 1-1 1-1-1-1 1-1-1 1-1-1-1zm11.9-3l1 1 1-1 1 1-1 1 1 1-1 1-1-1-1 1-1-1 1-1-1-1zm56.6-.6l1 1 1-1 1 1-1 1 1 1-1 1-1-1-1 1-1-1 1-1-1-1zm18.7-.8l1 1 1-1 1 1-1 1 1 1-1 1-1-1-1 1-1-1 1-1-1-1zm18.2 3.3l1 1 1-1 1 1-1 1 1 1-1 1-1-1-1 1-1-1 1-1-1-1zm36.1 1.3l1 1 1-1 1 1-1 1 1 1-1 1-1-1-1 1-1-1 1-1-1-1zm10.9-.9l1 1 1-1 1 1-1 1 1 1-1 1-1-1-1 1-1-1 1-1-1-1zm9.3-1.7l1 1 1-1 1 1-1 1 1 1-1 1-1-1-1 1-1-1 1-1-1-1zm18.8-2.7l1 1 1-1 1 1-1 1 1 1-1 1-1-1-1 1-1-1 1-1-1-1zm28.2 1l1 1 1-1 1 1-1 1 1 1-1 1-1-1-1 1-1-1 1-1-1-1zm-280 8.5l1 1 1-1 1 1-1 1 1 1-1 1-1-1-1 1-1-1 1-1-1-1zm11.6 1.1l1 1 1-1 1 1-1 1 1 1-1 1-1-1-1 1-1-1 1-1-1-1zm14.6-4.2l1 1 1-1 1 1-1 1 1 1-1 1-1-1-1 1-1-1 1-1-1-1zm22.2 2.4l1 1 1-1 1 1-1 1 1 1-1 1-1-1-1 1-1-1 1-1-1-1zm8.1 2.4l1 1 1-1 1 1-1 1 1 1-1 1-1-1-1 1-1-1 1-1-1-1zm19.7 .4l1 1 1-1 1 1-1 1 1 1-1 1-1-1-1 1-1-1 1-1-1-1zm15.4-4.1l1 1 1-1 1 1-1 1 1 1-1 1-1-1-1 1-1-1 1-1-1-1zm4.9 2.8l1 1 1-1 1 1-1 1 1 1-1 1-1-1-1 1-1-1 1-1-1-1zm6-2.6l1 1 1-1 1 1-1 1 1 1-1 1-1-1-1 1-1-1 1-1-1-1zm10.3 2.8l1 1 1-1 1 1-1 1 1 1-1 1-1-1-1 1-1-1 1-1-1-1zm6.7-1.3l1 1 1-1 1 1-1 1 1 1-1 1-1-1-1 1-1-1 1-1-1-1zm5.3-2.5l1 1 1-1 1 1-1 1 1 1-1 1-1-1-1 1-1-1 1-1-1-1zm27.4 1.8l1 1 1-1 1 1-1 1 1 1-1 1-1-1-1 1-1-1 1-1-1-1zm8.5 1.1l1 1 1-1 1 1-1 1 1 1-1 1-1-1-1 1-1-1 1-1-1-1zm26.9 1.1l1 1 1-1 1 1-1 1 1 1-1 1-1-1-1 1-1-1 1-1-1-1zm4.5 1.1l1 1 1-1 1 1-1 1 1 1-1 1-1-1-1 1-1-1 1-1-1-1zm14.7-5.4l1 1 1-1 1 1-1 1 1 1-1 1-1-1-1 1-1-1 1-1-1-1zm11.1 4.3l1 1 1-1 1 1-1 1 1 1-1 1-1-1-1 1-1-1 1-1-1-1zm5.6-1.7l1 1 1-1 1 1-1 1 1 1-1 1-1-1-1 1-1-1 1-1-1-1zm5.3 1.9l1 1 1-1 1 1-1 1 1 1-1 1-1-1-1 1-1-1 1-1-1-1zm55-3.7l1 1 1-1 1 1-1 1 1 1-1 1-1-1-1 1-1-1 1-1-1-1zm-288.3 6.5l1 1 1-1 1 1-1 1 1 1-1 1-1-1-1 1-1-1 1-1-1-1zm22.1 1.5l1 1 1-1 1 1-1 1 1 1-1 1-1-1-1 1-1-1 1-1-1-1zm14.2 .6l1 1 1-1 1 1-1 1 1 1-1 1-1-1-1 1-1-1 1-1-1-1zm10.6-1.5l1 1 1-1 1 1-1 1 1 1-1 1-1-1-1 1-1-1 1-1-1-1zm22.3 1l1 1 1-1 1 1-1 1 1 1-1 1-1-1-1 1-1-1 1-1-1-1zm10.8 1.7l1 1 1-1 1 1-1 1 1 1-1 1-1-1-1 1-1-1 1-1-1-1zm6.3-2.6l1 1 1-1 1 1-1 1 1 1-1 1-1-1-1 1-1-1 1-1-1-1zm24.9 .2l1 1 1-1 1 1-1 1 1 1-1 1-1-1-1 1-1-1 1-1-1-1zm18.5 .1l1 1 1-1 1 1-1 1 1 1-1 1-1-1-1 1-1-1 1-1-1-1zm10-.3l1 1 1-1 1 1-1 1 1 1-1 1-1-1-1 1-1-1 1-1-1-1zm11.5 2.4l1 1 1-1 1 1-1 1 1 1-1 1-1-1-1 1-1-1 1-1-1-1zm26.6-1.1l1 1 1-1 1 1-1 1 1 1-1 1-1-1-1 1-1-1 1-1-1-1zm27.8 1.6l1 1 1-1 1 1-1 1 1 1-1 1-1-1-1 1-1-1 1-1-1-1zm5.6-2.1l1 1 1-1 1 1-1 1 1 1-1 1-1-1-1 1-1-1 1-1-1-1zm20.9 .8l1 1 1-1 1 1-1 1 1 1-1 1-1-1-1 1-1-1 1-1-1-1zm-257.3 2.5l1 1 1-1 1 1-1 1 1 1-1 1-1-1-1 1-1-1 1-1-1-1zm35 2.7l1 1 1-1 1 1-1 1 1 1-1 1-1-1-1 1-1-1 1-1-1-1zm7.1-2.2l1 1 1-1 1 1-1 1 1 1-1 1-1-1-1 1-1-1 1-1-1-1zm7.2 2.3l1 1 1-1 1 1-1 1 1 1-1 1-1-1-1 1-1-1 1-1-1-1zm5.6 2.4l1 1 1-1 1 1-1 1 1 1-1 1-1-1-1 1-1-1 1-1-1-1zm15.2-5l1 1 1-1 1 1-1 1 1 1-1 1-1-1-1 1-1-1 1-1-1-1zm18.4 0l1 1 1-1 1 1-1 1 1 1-1 1-1-1-1 1-1-1 1-1-1-1zm9.3 3l1 1 1-1 1 1-1 1 1 1-1 1-1-1-1 1-1-1 1-1-1-1zm17.1-.2l1 1 1-1 1 1-1 1 1 1-1 1-1-1-1 1-1-1 1-1-1-1zm9.5 1.8l1 1 1-1 1 1-1 1 1 1-1 1-1-1-1 1-1-1 1-1-1-1zm10-1.8l1 1 1-1 1 1-1 1 1 1-1 1-1-1-1 1-1-1 1-1-1-1zm11.9-1.7l1 1 1-1 1 1-1 1 1 1-1 1-1-1-1 1-1-1 1-1-1-1zm23.9-.8l1 1 1-1 1 1-1 1 1 1-1 1-1-1-1 1-1-1 1-1-1-1zm15.5 3.1l1 1 1-1 1 1-1 1 1 1-1 1-1-1-1 1-1-1 1-1-1-1zm7.5-1.3l1 1 1-1 1 1-1 1 1 1-1 1-1-1-1 1-1-1 1-1-1-1zm15.7 2.8l1 1 1-1 1 1-1 1 1 1-1 1-1-1-1 1-1-1 1-1-1-1zm.4-5.5l1 1 1-1 1 1-1 1 1 1-1 1-1-1-1 1-1-1 1-1-1-1zm6.6 4.9l1 1 1-1 1 1-1 1 1 1-1 1-1-1-1 1-1-1 1-1-1-1zm29-1.4l1 1 1-1 1 1-1 1 1 1-1 1-1-1-1 1-1-1 1-1-1-1zm7.6-3.3l1 1 1-1 1 1-1 1 1 1-1 1-1-1-1 1-1-1 1-1-1-1zm28.4 1.1l1 1 1-1 1 1-1 1 1 1-1 1-1-1-1 1-1-1 1-1-1-1zm13.9-.8l1 1 1-1 1 1-1 1 1 1-1 1-1-1-1 1-1-1 1-1-1-1zm-304.4 10.7l1 1 1-1 1 1-1 1 1 1-1 1-1-1-1 1-1-1 1-1-1-1zm25.2 .3l1 1 1-1 1 1-1 1 1 1-1 1-1-1-1 1-1-1 1-1-1-1zm45.5-4.5l1 1 1-1 1 1-1 1 1 1-1 1-1-1-1 1-1-1 1-1-1-1zm6.1-.1l1 1 1-1 1 1-1 1 1 1-1 1-1-1-1 1-1-1 1-1-1-1zm9.5 3.8l1 1 1-1 1 1-1 1 1 1-1 1-1-1-1 1-1-1 1-1-1-1zm11.6 .5l1 1 1-1 1 1-1 1 1 1-1 1-1-1-1 1-1-1 1-1-1-1zm5.6-1.9l1 1 1-1 1 1-1 1 1 1-1 1-1-1-1 1-1-1 1-1-1-1zm10 1.7l1 1 1-1 1 1-1 1 1 1-1 1-1-1-1 1-1-1 1-1-1-1zm28.7-2.4l1 1 1-1 1 1-1 1 1 1-1 1-1-1-1 1-1-1 1-1-1-1zm13.9 .8l1 1 1-1 1 1-1 1 1 1-1 1-1-1-1 1-1-1 1-1-1-1zm6.2-1.5l1 1 1-1 1 1-1 1 1 1-1 1-1-1-1 1-1-1 1-1-1-1zm9.1-.7l1 1 1-1 1 1-1 1 1 1-1 1-1-1-1 1-1-1 1-1-1-1zm11.5-.6l1 1 1-1 1 1-1 1 1 1-1 1-1-1-1 1-1-1 1-1-1-1zm6.8-.6l1 1 1-1 1 1-1 1 1 1-1 1-1-1-1 1-1-1 1-1-1-1zm10.6 2.2l1 1 1-1 1 1-1 1 1 1-1 1-1-1-1 1-1-1 1-1-1-1zm9.8-.9l1 1 1-1 1 1-1 1 1 1-1 1-1-1-1 1-1-1 1-1-1-1zm20.1 .3l1 1 1-1 1 1-1 1 1 1-1 1-1-1-1 1-1-1 1-1-1-1zm6.2-1.4l1 1 1-1 1 1-1 1 1 1-1 1-1-1-1 1-1-1 1-1-1-1zm24 4.9l1 1 1-1 1 1-1 1 1 1-1 1-1-1-1 1-1-1 1-1-1-1zm5.7 0l1 1 1-1 1 1-1 1 1 1-1 1-1-1-1 1-1-1 1-1-1-1zm.2-4.6l1 1 1-1 1 1-1 1 1 1-1 1-1-1-1 1-1-1 1-1-1-1zm11.1 4.5l1 1 1-1 1 1-1 1 1 1-1 1-1-1-1 1-1-1 1-1-1-1zm4.7-.7l1 1 1-1 1 1-1 1 1 1-1 1-1-1-1 1-1-1 1-1-1-1zm-241.2 2.5l1 1 1-1 1 1-1 1 1 1-1 1-1-1-1 1-1-1 1-1-1-1zm25.7 .4l1 1 1-1 1 1-1 1 1 1-1 1-1-1-1 1-1-1 1-1-1-1zm7.1 .9l1 1 1-1 1 1-1 1 1 1-1 1-1-1-1 1-1-1 1-1-1-1zm30.8 3.3l1 1 1-1 1 1-1 1 1 1-1 1-1-1-1 1-1-1 1-1-1-1zm27.2-4.1l1 1 1-1 1 1-1 1 1 1-1 1-1-1-1 1-1-1 1-1-1-1zm5.6 .9l1 1 1-1 1 1-1 1 1 1-1 1-1-1-1 1-1-1 1-1-1-1zm17 2.6l1 1 1-1 1 1-1 1 1 1-1 1-1-1-1 1-1-1 1-1-1-1zm11.5-3.9l1 1 1-1 1 1-1 1 1 1-1 1-1-1-1 1-1-1 1-1-1-1zm31.2 2.5l1 1 1-1 1 1-1 1 1 1-1 1-1-1-1 1-1-1 1-1-1-1zm38 2.2l1 1 1-1 1 1-1 1 1 1-1 1-1-1-1 1-1-1 1-1-1-1zm10.2-3.2l1 1 1-1 1 1-1 1 1 1-1 1-1-1-1 1-1-1 1-1-1-1zm8 .6l1 1 1-1 1 1-1 1 1 1-1 1-1-1-1 1-1-1 1-1-1-1zm-238 5.5l1 1 1-1 1 1-1 1 1 1-1 1-1-1-1 1-1-1 1-1-1-1zm32.1 2l1 1 1-1 1 1-1 1 1 1-1 1-1-1-1 1-1-1 1-1-1-1zm12-2.7l1 1 1-1 1 1-1 1 1 1-1 1-1-1-1 1-1-1 1-1-1-1zm24.4 2.8l1 1 1-1 1 1-1 1 1 1-1 1-1-1-1 1-1-1 1-1-1-1zm4.9-1l1 1 1-1 1 1-1 1 1 1-1 1-1-1-1 1-1-1 1-1-1-1zm6-2.3l1 1 1-1 1 1-1 1 1 1-1 1-1-1-1 1-1-1 1-1-1-1zm16.6 1.7l1 1 1-1 1 1-1 1 1 1-1 1-1-1-1 1-1-1 1-1-1-1zm5.8-2l1 1 1-1 1 1-1 1 1 1-1 1-1-1-1 1-1-1 1-1-1-1zm9.7 4l1 1 1-1 1 1-1 1 1 1-1 1-1-1-1 1-1-1 1-1-1-1zm4.8-4.1l1 1 1-1 1 1-1 1 1 1-1 1-1-1-1 1-1-1 1-1-1-1zm29 .3l1 1 1-1 1 1-1 1 1 1-1 1-1-1-1 1-1-1 1-1-1-1zm15.2 .3l1 1 1-1 1 1-1 1 1 1-1 1-1-1-1 1-1-1 1-1-1-1zm9.6 4.2l1 1 1-1 1 1-1 1 1 1-1 1-1-1-1 1-1-1 1-1-1-1zm18-4l1 1 1-1 1 1-1 1 1 1-1 1-1-1-1 1-1-1 1-1-1-1zm7.1 .6l1 1 1-1 1 1-1 1 1 1-1 1-1-1-1 1-1-1 1-1-1-1zm13.3 .2l1 1 1-1 1 1-1 1 1 1-1 1-1-1-1 1-1-1 1-1-1-1zm5.3 1.2l1 1 1-1 1 1-1 1 1 1-1 1-1-1-1 1-1-1 1-1-1-1zm21.5 1.4l1 1 1-1 1 1-1 1 1 1-1 1-1-1-1 1-1-1 1-1-1-1zm6.2 0l1 1 1-1 1 1-1 1 1 1-1 1-1-1-1 1-1-1 1-1-1-1zm17.1-3.4l1 1 1-1 1 1-1 1 1 1-1 1-1-1-1 1-1-1 1-1-1-1zm13.8 3.8l1 1 1-1 1 1-1 1 1 1-1 1-1-1-1 1-1-1 1-1-1-1zm14.4-3.3l1 1 1-1 1 1-1 1 1 1-1 1-1-1-1 1-1-1 1-1-1-1zm-272.9 7.6l1 1 1-1 1 1-1 1 1 1-1 1-1-1-1 1-1-1 1-1-1-1zm54.6 .4l1 1 1-1 1 1-1 1 1 1-1 1-1-1-1 1-1-1 1-1-1-1zm8.1 1.6l1 1 1-1 1 1-1 1 1 1-1 1-1-1-1 1-1-1 1-1-1-1zm3.1-5.3l1 1 1-1 1 1-1 1 1 1-1 1-1-1-1 1-1-1 1-1-1-1zm6.6 .9l1 1 1-1 1 1-1 1 1 1-1 1-1-1-1 1-1-1 1-1-1-1zm39.8-.1l1 1 1-1 1 1-1 1 1 1-1 1-1-1-1 1-1-1 1-1-1-1zm7.7-1.2l1 1 1-1 1 1-1 1 1 1-1 1-1-1-1 1-1-1 1-1-1-1zm13.7 4.3l1 1 1-1 1 1-1 1 1 1-1 1-1-1-1 1-1-1 1-1-1-1zm27-3.4l1 1 1-1 1 1-1 1 1 1-1 1-1-1-1 1-1-1 1-1-1-1zm7.1 2.2l1 1 1-1 1 1-1 1 1 1-1 1-1-1-1 1-1-1 1-1-1-1zm8.3-2l1 1 1-1 1 1-1 1 1 1-1 1-1-1-1 1-1-1 1-1-1-1zm9.2 4.5l1 1 1-1 1 1-1 1 1 1-1 1-1-1-1 1-1-1 1-1-1-1zm3.8-4.5l1 1 1-1 1 1-1 1 1 1-1 1-1-1-1 1-1-1 1-1-1-1zm17-.3l1 1 1-1 1 1-1 1 1 1-1 1-1-1-1 1-1-1 1-1-1-1zm6.6-.6l1 1 1-1 1 1-1 1 1 1-1 1-1-1-1 1-1-1 1-1-1-1zm23.3-.3l1 1 1-1 1 1-1 1 1 1-1 1-1-1-1 1-1-1 1-1-1-1zm1.9 5.7l1 1 1-1 1 1-1 1 1 1-1 1-1-1-1 1-1-1 1-1-1-1zm9.4-4l1 1 1-1 1 1-1 1 1 1-1 1-1-1-1 1-1-1 1-1-1-1zm-227.1 5.4l1 1 1-1 1 1-1 1 1 1-1 1-1-1-1 1-1-1 1-1-1-1zm9.3 .6l1 1 1-1 1 1-1 1 1 1-1 1-1-1-1 1-1-1 1-1-1-1zm12.1 .8l1 1 1-1 1 1-1 1 1 1-1 1-1-1-1 1-1-1 1-1-1-1zm6.1-1.4l1 1 1-1 1 1-1 1 1 1-1 1-1-1-1 1-1-1 1-1-1-1zm21.3-.6l1 1 1-1 1 1-1 1 1 1-1 1-1-1-1 1-1-1 1-1-1-1zm6.3 2.5l1 1 1-1 1 1-1 1 1 1-1 1-1-1-1 1-1-1 1-1-1-1zm7.2-1.7l1 1 1-1 1 1-1 1 1 1-1 1-1-1-1 1-1-1 1-1-1-1zm33.4-.8l1 1 1-1 1 1-1 1 1 1-1 1-1-1-1 1-1-1 1-1-1-1zm5.2 4.1l1 1 1-1 1 1-1 1 1 1-1 1-1-1-1 1-1-1 1-1-1-1zm5.3 .4l1 1 1-1 1 1-1 1 1 1-1 1-1-1-1 1-1-1 1-1-1-1zm17.6 .6l1 1 1-1 1 1-1 1 1 1-1 1-1-1-1 1-1-1 1-1-1-1zm1.7-5.6l1 1 1-1 1 1-1 1 1 1-1 1-1-1-1 1-1-1 1-1-1-1zm3.9 4.5l1 1 1-1 1 1-1 1 1 1-1 1-1-1-1 1-1-1 1-1-1-1zm9.7 1l1 1 1-1 1 1-1 1 1 1-1 1-1-1-1 1-1-1 1-1-1-1zm.4-5.7l1 1 1-1 1 1-1 1 1 1-1 1-1-1-1 1-1-1 1-1-1-1zm36.2 .4l1 1 1-1 1 1-1 1 1 1-1 1-1-1-1 1-1-1 1-1-1-1zm5.8 3.1l1 1 1-1 1 1-1 1 1 1-1 1-1-1-1 1-1-1 1-1-1-1zm7.9 .2l1 1 1-1 1 1-1 1 1 1-1 1-1-1-1 1-1-1 1-1-1-1zm15.8-.4l1 1 1-1 1 1-1 1 1 1-1 1-1-1-1 1-1-1 1-1-1-1zm-227.9 7l1 1 1-1 1 1-1 1 1 1-1 1-1-1-1 1-1-1 1-1-1-1zm23.8-3.3l1 1 1-1 1 1-1 1 1 1-1 1-1-1-1 1-1-1 1-1-1-1zm7.3 3.6l1 1 1-1 1 1-1 1 1 1-1 1-1-1-1 1-1-1 1-1-1-1zm9.8-.5l1 1 1-1 1 1-1 1 1 1-1 1-1-1-1 1-1-1 1-1-1-1zm8 .1l1 1 1-1 1 1-1 1 1 1-1 1-1-1-1 1-1-1 1-1-1-1zm7.8-3.6l1 1 1-1 1 1-1 1 1 1-1 1-1-1-1 1-1-1 1-1-1-1zm6.2 0l1 1 1-1 1 1-1 1 1 1-1 1-1-1-1 1-1-1 1-1-1-1zm7.7-.5l1 1 1-1 1 1-1 1 1 1-1 1-1-1-1 1-1-1 1-1-1-1zm7.4 1.7l1 1 1-1 1 1-1 1 1 1-1 1-1-1-1 1-1-1 1-1-1-1zm9-.8l1 1 1-1 1 1-1 1 1 1-1 1-1-1-1 1-1-1 1-1-1-1zm2.7 4.7l1 1 1-1 1 1-1 1 1 1-1 1-1-1-1 1-1-1 1-1-1-1zm16.7-5.2l1 1 1-1 1 1-1 1 1 1-1 1-1-1-1 1-1-1 1-1-1-1zm10.2 .8l1 1 1-1 1 1-1 1 1 1-1 1-1-1-1 1-1-1 1-1-1-1zm30.9 4.6l1 1 1-1 1 1-1 1 1 1-1 1-1-1-1 1-1-1 1-1-1-1zm20.9-4.8l1 1 1-1 1 1-1 1 1 1-1 1-1-1-1 1-1-1 1-1-1-1zm17.2 .3l1 1 1-1 1 1-1 1 1 1-1 1-1-1-1 1-1-1 1-1-1-1zm8.7-.4l1 1 1-1 1 1-1 1 1 1-1 1-1-1-1 1-1-1 1-1-1-1zm22 1.4l1 1 1-1 1 1-1 1 1 1-1 1-1-1-1 1-1-1 1-1-1-1zm18.8-.6l1 1 1-1 1 1-1 1 1 1-1 1-1-1-1 1-1-1 1-1-1-1zm5.1 3.2l1 1 1-1 1 1-1 1 1 1-1 1-1-1-1 1-1-1 1-1-1-1zm13.7-.2l1 1 1-1 1 1-1 1 1 1-1 1-1-1-1 1-1-1 1-1-1-1zm8.8-.9l1 1 1-1 1 1-1 1 1 1-1 1-1-1-1 1-1-1 1-1-1-1zm-270.7 5.3l1 1 1-1 1 1-1 1 1 1-1 1-1-1-1 1-1-1 1-1-1-1zm7.9 .3l1 1 1-1 1 1-1 1 1 1-1 1-1-1-1 1-1-1 1-1-1-1zm24.6 1l1 1 1-1 1 1-1 1 1 1-1 1-1-1-1 1-1-1 1-1-1-1zm36.1-1.9l1 1 1-1 1 1-1 1 1 1-1 1-1-1-1 1-1-1 1-1-1-1zm10 1.4l1 1 1-1 1 1-1 1 1 1-1 1-1-1-1 1-1-1 1-1-1-1zm7.3-3.4l1 1 1-1 1 1-1 1 1 1-1 1-1-1-1 1-1-1 1-1-1-1zm37.1 .3l1 1 1-1 1 1-1 1 1 1-1 1-1-1-1 1-1-1 1-1-1-1zm16.2 .7l1 1 1-1 1 1-1 1 1 1-1 1-1-1-1 1-1-1 1-1-1-1zm14 4.2l1 1 1-1 1 1-1 1 1 1-1 1-1-1-1 1-1-1 1-1-1-1zm10.7-3l1 1 1-1 1 1-1 1 1 1-1 1-1-1-1 1-1-1 1-1-1-1zm10.7-.9l1 1 1-1 1 1-1 1 1 1-1 1-1-1-1 1-1-1 1-1-1-1zm10.2 3.9l1 1 1-1 1 1-1 1 1 1-1 1-1-1-1 1-1-1 1-1-1-1zm7.2-4.7l1 1 1-1 1 1-1 1 1 1-1 1-1-1-1 1-1-1 1-1-1-1zm6.8 .3l1 1 1-1 1 1-1 1 1 1-1 1-1-1-1 1-1-1 1-1-1-1zm13.2 .2l1 1 1-1 1 1-1 1 1 1-1 1-1-1-1 1-1-1 1-1-1-1zm22-.9l1 1 1-1 1 1-1 1 1 1-1 1-1-1-1 1-1-1 1-1-1-1zm33.8 2.1l1 1 1-1 1 1-1 1 1 1-1 1-1-1-1 1-1-1 1-1-1-1zm-239.5 8.8l1 1 1-1 1 1-1 1 1 1-1 1-1-1-1 1-1-1 1-1-1-1zm29.6-1.1l1 1 1-1 1 1-1 1 1 1-1 1-1-1-1 1-1-1 1-1-1-1zm19.2-.1l1 1 1-1 1 1-1 1 1 1-1 1-1-1-1 1-1-1 1-1-1-1zm20.9-.4l1 1 1-1 1 1-1 1 1 1-1 1-1-1-1 1-1-1 1-1-1-1zm6.9 1.1l1 1 1-1 1 1-1 1 1 1-1 1-1-1-1 1-1-1 1-1-1-1zm7.1-1.1l1 1 1-1 1 1-1 1 1 1-1 1-1-1-1 1-1-1 1-1-1-1zm11.2-2.2l1 1 1-1 1 1-1 1 1 1-1 1-1-1-1 1-1-1 1-1-1-1zm5.5-.1l1 1 1-1 1 1-1 1 1 1-1 1-1-1-1 1-1-1 1-1-1-1zm19.9 4.2l1 1 1-1 1 1-1 1 1 1-1 1-1-1-1 1-1-1 1-1-1-1zm10.9-3.9l1 1 1-1 1 1-1 1 1 1-1 1-1-1-1 1-1-1 1-1-1-1zm6.6 1.8l1 1 1-1 1 1-1 1 1 1-1 1-1-1-1 1-1-1 1-1-1-1zm14.1 .1l1 1 1-1 1 1-1 1 1 1-1 1-1-1-1 1-1-1 1-1-1-1zm14.7-3l1 1 1-1 1 1-1 1 1 1-1 1-1-1-1 1-1-1 1-1-1-1zm4.4 2.9l1 1 1-1 1 1-1 1 1 1-1 1-1-1-1 1-1-1 1-1-1-1zm11.8-2.5l1 1 1-1 1 1-1 1 1 1-1 1-1-1-1 1-1-1 1-1-1-1zm13.5 .2l1 1 1-1 1 1-1 1 1 1-1 1-1-1-1 1-1-1 1-1-1-1zm10.8 1.9l1 1 1-1 1 1-1 1 1 1-1 1-1-1-1 1-1-1 1-1-1-1zm-178.3 6.5l1 1 1-1 1 1-1 1 1 1-1 1-1-1-1 1-1-1 1-1-1-1zm6.4-3.8l1 1 1-1 1 1-1 1 1 1-1 1-1-1-1 1-1-1 1-1-1-1zm2.1 5.1l1 1 1-1 1 1-1 1 1 1-1 1-1-1-1 1-1-1 1-1-1-1zm23.4-5.1l1 1 1-1 1 1-1 1 1 1-1 1-1-1-1 1-1-1 1-1-1-1zm32.5 3.3l1 1 1-1 1 1-1 1 1 1-1 1-1-1-1 1-1-1 1-1-1-1zm5 .4l1 1 1-1 1 1-1 1 1 1-1 1-1-1-1 1-1-1 1-1-1-1zm9.1-1.9l1 1 1-1 1 1-1 1 1 1-1 1-1-1-1 1-1-1 1-1-1-1zm17.7 2.4l1 1 1-1 1 1-1 1 1 1-1 1-1-1-1 1-1-1 1-1-1-1zm8.3-2.4l1 1 1-1 1 1-1 1 1 1-1 1-1-1-1 1-1-1 1-1-1-1zm12 1.3l1 1 1-1 1 1-1 1 1 1-1 1-1-1-1 1-1-1 1-1-1-1zm4.4 1.4l1 1 1-1 1 1-1 1 1 1-1 1-1-1-1 1-1-1 1-1-1-1zm7.5 .9l1 1 1-1 1 1-1 1 1 1-1 1-1-1-1 1-1-1 1-1-1-1zm4-5.2l1 1 1-1 1 1-1 1 1 1-1 1-1-1-1 1-1-1 1-1-1-1zm18.7 1.2l1 1 1-1 1 1-1 1 1 1-1 1-1-1-1 1-1-1 1-1-1-1zm10.6 .5l1 1 1-1 1 1-1 1 1 1-1 1-1-1-1 1-1-1 1-1-1-1zm7.3 .8l1 1 1-1 1 1-1 1 1 1-1 1-1-1-1 1-1-1 1-1-1-1zm-173.3 6.2l1 1 1-1 1 1-1 1 1 1-1 1-1-1-1 1-1-1 1-1-1-1zm21.3-2.7l1 1 1-1 1 1-1 1 1 1-1 1-1-1-1 1-1-1 1-1-1-1zm8 5.6l1 1 1-1 1 1-1 1 1 1-1 1-1-1-1 1-1-1 1-1-1-1zm.3-5.7l1 1 1-1 1 1-1 1 1 1-1 1-1-1-1 1-1-1 1-1-1-1zm14.3 2.8l1 1 1-1 1 1-1 1 1 1-1 1-1-1-1 1-1-1 1-1-1-1zm39.6 1.7l1 1 1-1 1 1-1 1 1 1-1 1-1-1-1 1-1-1 1-1-1-1zm7.3 .6l1 1 1-1 1 1-1 1 1 1-1 1-1-1-1 1-1-1 1-1-1-1zm29.7-2l1 1 1-1 1 1-1 1 1 1-1 1-1-1-1 1-1-1 1-1-1-1zm6.9 .5l1 1 1-1 1 1-1 1 1 1-1 1-1-1-1 1-1-1 1-1-1-1zm9.6 .5l1 1 1-1 1 1-1 1 1 1-1 1-1-1-1 1-1-1 1-1-1-1zm7.9-2.6l1 1 1-1 1 1-1 1 1 1-1 1-1-1-1 1-1-1 1-1-1-1zm-183.4 4.8l1 1 1-1 1 1-1 1 1 1-1 1-1-1-1 1-1-1 1-1-1-1zm19.6 2.3l1 1 1-1 1 1-1 1 1 1-1 1-1-1-1 1-1-1 1-1-1-1zm33-.5l1 1 1-1 1 1-1 1 1 1-1 1-1-1-1 1-1-1 1-1-1-1zm9 1.3l1 1 1-1 1 1-1 1 1 1-1 1-1-1-1 1-1-1 1-1-1-1zm15-2.7l1 1 1-1 1 1-1 1 1 1-1 1-1-1-1 1-1-1 1-1-1-1zm14.5 3.6l1 1 1-1 1 1-1 1 1 1-1 1-1-1-1 1-1-1 1-1-1-1zm6.4-1.4l1 1 1-1 1 1-1 1 1 1-1 1-1-1-1 1-1-1 1-1-1-1zm6.2-1.7l1 1 1-1 1 1-1 1 1 1-1 1-1-1-1 1-1-1 1-1-1-1zm5.3 .9l1 1 1-1 1 1-1 1 1 1-1 1-1-1-1 1-1-1 1-1-1-1zm33.4-.5l1 1 1-1 1 1-1 1 1 1-1 1-1-1-1 1-1-1 1-1-1-1zm6.8 4.3l1 1 1-1 1 1-1 1 1 1-1 1-1-1-1 1-1-1 1-1-1-1zm7.7-4.3l1 1 1-1 1 1-1 1 1 1-1 1-1-1-1 1-1-1 1-1-1-1zm25.3 2.7l1 1 1-1 1 1-1 1 1 1-1 1-1-1-1 1-1-1 1-1-1-1zm5.5-4.3l1 1 1-1 1 1-1 1 1 1-1 1-1-1-1 1-1-1 1-1-1-1zm1.3 5.1l1 1 1-1 1 1-1 1 1 1-1 1-1-1-1 1-1-1 1-1-1-1zm4.5-2.6l1 1 1-1 1 1-1 1 1 1-1 1-1-1-1 1-1-1 1-1-1-1zm11.2-1.6l1 1 1-1 1 1-1 1 1 1-1 1-1-1-1 1-1-1 1-1-1-1zm11.2 3.7l1 1 1-1 1 1-1 1 1 1-1 1-1-1-1 1-1-1 1-1-1-1zm5.9-1l1 1 1-1 1 1-1 1 1 1-1 1-1-1-1 1-1-1 1-1-1-1zm8.3 .6l1 1 1-1 1 1-1 1 1 1-1 1-1-1-1 1-1-1 1-1-1-1zm-194.8 6.8l1 1 1-1 1 1-1 1 1 1-1 1-1-1-1 1-1-1 1-1-1-1zm29.7-1.5l1 1 1-1 1 1-1 1 1 1-1 1-1-1-1 1-1-1 1-1-1-1zm10.1-.4l1 1 1-1 1 1-1 1 1 1-1 1-1-1-1 1-1-1 1-1-1-1zm11.3-1.4l1 1 1-1 1 1-1 1 1 1-1 1-1-1-1 1-1-1 1-1-1-1zm20.3 2.9l1 1 1-1 1 1-1 1 1 1-1 1-1-1-1 1-1-1 1-1-1-1zm7-2.8l1 1 1-1 1 1-1 1 1 1-1 1-1-1-1 1-1-1 1-1-1-1zm13.8 2.3l1 1 1-1 1 1-1 1 1 1-1 1-1-1-1 1-1-1 1-1-1-1zm12.5-2.6l1 1 1-1 1 1-1 1 1 1-1 1-1-1-1 1-1-1 1-1-1-1zm5.4 3.1l1 1 1-1 1 1-1 1 1 1-1 1-1-1-1 1-1-1 1-1-1-1zm8.9-1.5l1 1 1-1 1 1-1 1 1 1-1 1-1-1-1 1-1-1 1-1-1-1zm13.9-1.8l1 1 1-1 1 1-1 1 1 1-1 1-1-1-1 1-1-1 1-1-1-1zm5.7 3l1 1 1-1 1 1-1 1 1 1-1 1-1-1-1 1-1-1 1-1-1-1zm35.7-2.9l1 1 1-1 1 1-1 1 1 1-1 1-1-1-1 1-1-1 1-1-1-1zm-149.8 4.9l1 1 1-1 1 1-1 1 1 1-1 1-1-1-1 1-1-1 1-1-1-1zm18.3 2.2l1 1 1-1 1 1-1 1 1 1-1 1-1-1-1 1-1-1 1-1-1-1zm6.3 1.7l1 1 1-1 1 1-1 1 1 1-1 1-1-1-1 1-1-1 1-1-1-1zm33.2-3.3l1 1 1-1 1 1-1 1 1 1-1 1-1-1-1 1-1-1 1-1-1-1zm19.7 .1l1 1 1-1 1 1-1 1 1 1-1 1-1-1-1 1-1-1 1-1-1-1zm5.7 3.9l1 1 1-1 1 1-1 1 1 1-1 1-1-1-1 1-1-1 1-1-1-1zm24.7 .4l1 1 1-1 1 1-1 1 1 1-1 1-1-1-1 1-1-1 1-1-1-1zm20.9-4.3l1 1 1-1 1 1-1 1 1 1-1 1-1-1-1 1-1-1 1-1-1-1zm9.6 3.6l1 1 1-1 1 1-1 1 1 1-1 1-1-1-1 1-1-1 1-1-1-1zm8.4 0l1 1 1-1 1 1-1 1 1 1-1 1-1-1-1 1-1-1 1-1-1-1zm6 .9l1 1 1-1 1 1-1 1 1 1-1 1-1-1-1 1-1-1 1-1-1-1zm-155.6 1.3l1 1 1-1 1 1-1 1 1 1-1 1-1-1-1 1-1-1 1-1-1-1zm44.5 .4l1 1 1-1 1 1-1 1 1 1-1 1-1-1-1 1-1-1 1-1-1-1zm31.5-1.3l1 1 1-1 1 1-1 1 1 1-1 1-1-1-1 1-1-1 1-1-1-1zm19.3 .9l1 1 1-1 1 1-1 1 1 1-1 1-1-1-1 1-1-1 1-1-1-1zm5.8-.9l1 1 1-1 1 1-1 1 1 1-1 1-1-1-1 1-1-1 1-1-1-1zm4.9 5l1 1 1-1 1 1-1 1 1 1-1 1-1-1-1 1-1-1 1-1-1-1zm15.1-.4l1 1 1-1 1 1-1 1 1 1-1 1-1-1-1 1-1-1 1-1-1-1zm4.6-.3l1 1 1-1 1 1-1 1 1 1-1 1-1-1-1 1-1-1 1-1-1-1zm62.3-2.5l1 1 1-1 1 1-1 1 1 1-1 1-1-1-1 1-1-1 1-1-1-1zm-193.2 4.3l1 1 1-1 1 1-1 1 1 1-1 1-1-1-1 1-1-1 1-1-1-1zm8 0l1 1 1-1 1 1-1 1 1 1-1 1-1-1-1 1-1-1 1-1-1-1zm14.4 .2l1 1 1-1 1 1-1 1 1 1-1 1-1-1-1 1-1-1 1-1-1-1zm11.9 2.9l1 1 1-1 1 1-1 1 1 1-1 1-1-1-1 1-1-1 1-1-1-1zm10.4 2.2l1 1 1-1 1 1-1 1 1 1-1 1-1-1-1 1-1-1 1-1-1-1zm.8-5.4l1 1 1-1 1 1-1 1 1 1-1 1-1-1-1 1-1-1 1-1-1-1zm12.7 .8l1 1 1-1 1 1-1 1 1 1-1 1-1-1-1 1-1-1 1-1-1-1zm11 0l1 1 1-1 1 1-1 1 1 1-1 1-1-1-1 1-1-1 1-1-1-1zm1 5.1l1 1 1-1 1 1-1 1 1 1-1 1-1-1-1 1-1-1 1-1-1-1zm6.4-2.1l1 1 1-1 1 1-1 1 1 1-1 1-1-1-1 1-1-1 1-1-1-1zm13.2-2.1l1 1 1-1 1 1-1 1 1 1-1 1-1-1-1 1-1-1 1-1-1-1zm5.7 .4l1 1 1-1 1 1-1 1 1 1-1 1-1-1-1 1-1-1 1-1-1-1zm39.2 2.3l1 1 1-1 1 1-1 1 1 1-1 1-1-1-1 1-1-1 1-1-1-1zm53.2-3.1l1 1 1-1 1 1-1 1 1 1-1 1-1-1-1 1-1-1 1-1-1-1zm-204.9 5.8l1 1 1-1 1 1-1 1 1 1-1 1-1-1-1 1-1-1 1-1-1-1zm75.8 2.4l1 1 1-1 1 1-1 1 1 1-1 1-1-1-1 1-1-1 1-1-1-1zm5.4-2.3l1 1 1-1 1 1-1 1 1 1-1 1-1-1-1 1-1-1 1-1-1-1zm6.1 4.4l1 1 1-1 1 1-1 1 1 1-1 1-1-1-1 1-1-1 1-1-1-1zm10.8-3.8l1 1 1-1 1 1-1 1 1 1-1 1-1-1-1 1-1-1 1-1-1-1zm18.5 1l1 1 1-1 1 1-1 1 1 1-1 1-1-1-1 1-1-1 1-1-1-1zm19.3-.2l1 1 1-1 1 1-1 1 1 1-1 1-1-1-1 1-1-1 1-1-1-1zm9.7-2.2l1 1 1-1 1 1-1 1 1 1-1 1-1-1-1 1-1-1 1-1-1-1zm20.6 3.7l1 1 1-1 1 1-1 1 1 1-1 1-1-1-1 1-1-1 1-1-1-1zm-126.6 5.2l1 1 1-1 1 1-1 1 1 1-1 1-1-1-1 1-1-1 1-1-1-1zm60.1-.2l1 1 1-1 1 1-1 1 1 1-1 1-1-1-1 1-1-1 1-1-1-1zm25.1-1.3l1 1 1-1 1 1-1 1 1 1-1 1-1-1-1 1-1-1 1-1-1-1zm26.8 4l1 1 1-1 1 1-1 1 1 1-1 1-1-1-1 1-1-1 1-1-1-1zm20.6-5.4l1 1 1-1 1 1-1 1 1 1-1 1-1-1-1 1-1-1 1-1-1-1zm-96.5 5.7l1 1 1-1 1 1-1 1 1 1-1 1-1-1-1 1-1-1 1-1-1-1zm46.5 .4l1 1 1-1 1 1-1 1 1 1-1 1-1-1-1 1-1-1 1-1-1-1zm-101 8.7l1 1 1-1 1 1-1 1 1 1-1 1-1-1-1 1-1-1 1-1-1-1zm31.5 1.1l1 1 1-1 1 1-1 1 1 1-1 1-1-1-1 1-1-1 1-1-1-1zm12.1 1.5l1 1 1-1 1 1-1 1 1 1-1 1-1-1-1 1-1-1 1-1-1-1zm13.9-5.1l1 1 1-1 1 1-1 1 1 1-1 1-1-1-1 1-1-1 1-1-1-1zm33.1 1.3l1 1 1-1 1 1-1 1 1 1-1 1-1-1-1 1-1-1 1-1-1-1zm30.2-1.7l1 1 1-1 1 1-1 1 1 1-1 1-1-1-1 1-1-1 1-1-1-1zm-94.2 7.1l1 1 1-1 1 1-1 1 1 1-1 1-1-1-1 1-1-1 1-1-1-1zm23.3 2.7l1 1 1-1 1 1-1 1 1 1-1 1-1-1-1 1-1-1 1-1-1-1zm-28.9 5l1 1 1-1 1 1-1 1 1 1-1 1-1-1-1 1-1-1 1-1-1-1zm7.9 .4l1 1 1-1 1 1-1 1 1 1-1 1-1-1-1 1-1-1 1-1-1-1zm28.7-1.3l1 1 1-1 1 1-1 1 1 1-1 1-1-1-1 1-1-1 1-1-1-1zm-10.9 7.2l1 1 1-1 1 1-1 1 1 1-1 1-1-1-1 1-1-1 1-1-1-1zm5 1l1 1 1-1 1 1-1 1 1 1-1 1-1-1-1 1-1-1 1-1-1-1zm41 .7l1 1 1-1 1 1-1 1 1 1-1 1-1-1-1 1-1-1 1-1-1-1zm-44.6 8.7l1 1 1-1 1 1-1 1 1 1-1 1-1-1-1 1-1-1 1-1-1-1zm27.1 1.9l1 1 1-1 1 1-1 1 1 1-1 1-1-1-1 1-1-1 1-1-1-1z"/>
<path fill="#dd8452" d="M238.6 23.1l1 1 1-1 1 1-1 1 1 1-1 1-1-1-1 1-1-1 1-1-1-1zm-39.6 6.4l1 1 1-1 1 1-1 1 1 1-1 1-1-1-1 1-1-1 1-1-1-1zm-29.6 22.2l1 1 1-1 1 1-1 1 1 1-1 1-1-1-1 1-1-1 1-1-1-1zm42.6 6.4l1 1 1-1 1 1-1 1 1 1-1 1-1-1-1 1-1-1 1-1-1-1zm42.8-.3l1 1 1-1 1 1-1 1 1 1-1 1-1-1-1 1-1-1 1-1-1-1zm32.5 1l1 1 1-1 1 1-1 1 1 1-1 1-1-1-1 1-1-1 1-1-1-1zm24.8-.4l1 1 1-1 1 1-1 1 1 1-1 1-1-1-1 1-1-1 1-1-1-1zm-141.4 4.9l1 1 1-1 1 1-1 1 1 1-1 1-1-1-1 1-1-1 1-1-1-1zm18.4 3.7l1 1 1-1 1 1-1 1 1 1-1 1-1-1-1 1-1-1 1-1-1-1zm14.6-4.1l1 1 1-1 1 1-1 1 1 1-1 1-1-1-1 1-1-1 1-1-1-1zm4.8 3l1 1 1-1 1 1-1 1 1 1-1 1-1-1-1 1-1-1 1-1-1-1zm14.3-3.7l1 1 1-1 1 1-1 1 1 1-1 1-1-1-1 1-1-1 1-1-1-1zm15.7 4.7l1 1 1-1 1 1-1 1 1 1-1 1-1-1-1 1-1-1 1-1-1-1zm4.6-1l1 1 1-1 1 1-1 1 1 1-1 1-1-1-1 1-1-1 1-1-1-1zm30.2 .2l1 1 1-1 1 1-1 1 1 1-1 1-1-1-1 1-1-1 1-1-1-1zm-75.4 6.6l1 1 1-1 1 1-1 1 1 1-1 1-1-1-1 1-1-1 1-1-1-1zm33.2-.8l1 1 1-1 1 1-1 1 1 1-1 1-1-1-1 1-1-1 1-1-1-1zm26-2.8l1 1 1-1 1 1-1 1 1 1-1 1-1-1-1 1-1-1 1-1-1-1zm-83.6 4.8l1 1 1-1 1 1-1 1 1 1-1 1-1-1-1 1-1-1 1-1-1-1zm7.9 3.2l1 1 1-1 1 1-1 1 1 1-1 1-1-1-1 1-1-1 1-1-1-1zm25 .8l1 1 1-1 1 1-1 1 1 1-1 1-1-1-1 1-1-1 1-1-1-1zm30.6-3.4l1 1 1-1 1 1-1 1 1 1-1 1-1-1-1 1-1-1 1-1-1-1zm4.5 4.1l1 1 1-1 1 1-1 1 1 1-1 1-1-1-1 1-1-1 1-1-1-1zm7.3-4.4l1 1 1-1 1 1-1 1 1 1-1 1-1-1-1 1-1-1 1-1-1-1zm59.4 .2l1 1 1-1 1 1-1 1 1 1-1 1-1-1-1 1-1-1 1-1-1-1zm-164.5 5.7l1 1 1-1 1 1-1 1 1 1-1 1-1-1-1 1-1-1 1-1-1-1zm42.3 4l1 1 1-1 1 1-1 1 1 1-1 1-1-1-1 1-1-1 1-1-1-1zm17.1-.9l1 1 1-1 1 1-1 1 1 1-1 1-1-1-1 1-1-1 1-1-1-1zm16.9 1.1l1 1 1-1 1 1-1 1 1 1-1 1-1-1-1 1-1-1 1-1-1-1zm8.8-2l1 1 1-1 1 1-1 1 1 1-1 1-1-1-1 1-1-1 1-1-1-1zm12.5 1.3l1 1 1-1 1 1-1 1 1 1-1 1-1-1-1 1-1-1 1-1-1-1zm16.1-2.7l1 1 1-1 1 1-1 1 1 1-1 1-1-1-1 1-1-1 1-1-1-1zm22.4 2.9l1 1 1-1 1 1-1 1 1 1-1 1-1-1-1 1-1-1 1-1-1-1zm12.9-1.9l1 1 1-1 1 1-1 1 1 1-1 1-1-1-1 1-1-1 1-1-1-1zm9.5 2.3l1 1 1-1 1 1-1 1 1 1-1 1-1-1-1 1-1-1 1-1-1-1zm-155.5 2.5l1 1 1-1 1 1-1 1 1 1-1 1-1-1-1 1-1-1 1-1-1-1zm43.2 3.3l1 1 1-1 1 1-1 1 1 1-1 1-1-1-1 1-1-1 1-1-1-1zm5.4-2.9l1 1 1-1 1 1-1 1 1 1-1 1-1-1-1 1-1-1 1-1-1-1zm6.4 1l1 1 1-1 1 1-1 1 1 1-1 1-1-1-1 1-1-1 1-1-1-1zm6-2.1l1 1 1-1 1 1-1 1 1 1-1 1-1-1-1 1-1-1 1-1-1-1zm26.8 1.8l1 1 1-1 1 1-1 1 1 1-1 1-1-1-1 1-1-1 1-1-1-1zm12.3-.5l1 1 1-1 1 1-1 1 1 1-1 1-1-1-1 1-1-1 1-1-1-1zm8.1-1.1l1 1 1-1 1 1-1 1 1 1-1 1-1-1-1 1-1-1 1-1-1-1zm48.6 2.6l1 1 1-1 1 1-1 1 1 1-1 1-1-1-1 1-1-1 1-1-1-1zm15.1 1.4l1 1 1-1 1 1-1 1 1 1-1 1-1-1-1 1-1-1 1-1-1-1zm4.4-1l1 1 1-1 1 1-1 1 1 1-1 1-1-1-1 1-1-1 1-1-1-1zm-149.3 7.6l1 1 1-1 1 1-1 1 1 1-1 1-1-1-1 1-1-1 1-1-1-1zm.8-5.2l1 1 1-1 1 1-1 1 1 1-1 1-1-1-1 1-1-1 1-1-1-1zm9.9 3.3l1 1 1-1 1 1-1 1 1 1-1 1-1-1-1 1-1-1 1-1-1-1zm23.3-1.6l1 1 1-1 1 1-1 1 1 1-1 1-1-1-1 1-1-1 1-1-1-1zm26.1 .4l1 1 1-1 1 1-1 1 1 1-1 1-1-1-1 1-1-1 1-1-1-1zm8.6-.1l1 1 1-1 1 1-1 1 1 1-1 1-1-1-1 1-1-1 1-1-1-1zm13.6 .2l1 1 1-1 1 1-1 1 1 1-1 1-1-1-1 1-1-1 1-1-1-1zm24-.6l1 1 1-1 1 1-1 1 1 1-1 1-1-1-1 1-1-1 1-1-1-1zm13.6 1.7l1 1 1-1 1 1-1 1 1 1-1 1-1-1-1 1-1-1 1-1-1-1zm20.3-1.8l1 1 1-1 1 1-1 1 1 1-1 1-1-1-1 1-1-1 1-1-1-1zm13.8 .3l1 1 1-1 1 1-1 1 1 1-1 1-1-1-1 1-1-1 1-1-1-1zm-187.1 6.6l1 1 1-1 1 1-1 1 1 1-1 1-1-1-1 1-1-1 1-1-1-1zm20.3-2.6l1 1 1-1 1 1-1 1 1 1-1 1-1-1-1 1-1-1 1-1-1-1zm30.8 2.2l1 1 1-1 1 1-1 1 1 1-1 1-1-1-1 1-1-1 1-1-1-1zm5-.4l1 1 1-1 1 1-1 1 1 1-1 1-1-1-1 1-1-1 1-1-1-1zm16-.2l1 1 1-1 1 1-1 1 1 1-1 1-1-1-1 1-1-1 1-1-1-1zm8.7 2.7l1 1 1-1 1 1-1 1 1 1-1 1-1-1-1 1-1-1 1-1-1-1zm5.5-3.3l1 1 1-1 1 1-1 1 1 1-1 1-1-1-1 1-1-1 1-1-1-1zm6.2 3.3l1 1 1-1 1 1-1 1 1 1-1 1-1-1-1 1-1-1 1-1-1-1zm45.6-2.1l1 1 1-1 1 1-1 1 1 1-1 1-1-1-1 1-1-1 1-1-1-1zm7-.2l1 1 1-1 1 1-1 1 1 1-1 1-1-1-1 1-1-1 1-1-1-1zm7.2 .1l1 1 1-1 1 1-1 1 1 1-1 1-1-1-1 1-1-1 1-1-1-1zm19.9 .6l1 1 1-1 1 1-1 1 1 1-1 1-1-1-1 1-1-1 1-1-1-1zm12 .6l1 1 1-1 1 1-1 1 1 1-1 1-1-1-1 1-1-1 1-1-1-1zm-151.9 3.5l1 1 1-1 1 1-1 1 1 1-1 1-1-1-1 1-1-1 1-1-1-1zm6.2 2.8l1 1 1-1 1 1-1 1 1 1-1 1-1-1-1 1-1-1 1-1-1-1zm23.6-1.3l1 1 1-1 1 1-1 1 1 1-1 1-1-1-1 1-1-1 1-1-1-1zm8.5 2.4l1 1 1-1 1 1-1 1 1 1-1 1-1-1-1 1-1-1 1-1-1-1zm32.1-2.9l1 1 1-1 1 1-1 1 1 1-1 1-1-1-1 1-1-1 1-1-1-1zm22-2l1 1 1-1 1 1-1 1 1 1-1 1-1-1-1 1-1-1 1-1-1-1zm14.4 3.8l1 1 1-1 1 1-1 1 1 1-1 1-1-1-1 1-1-1 1-1-1-1zm8.6 1l1 1 1-1 1 1-1 1 1 1-1 1-1-1-1 1-1-1 1-1-1-1zm7.6 1l1 1 1-1 1 1-1 1 1 1-1 1-1-1-1 1-1-1 1-1-1-1zm5.1-2.2l1 1 1-1 1 1-1 1 1 1-1 1-1-1-1 1-1-1 1-1-1-1zm4.9-1.5l1 1 1-1 1 1-1 1 1 1-1 1-1-1-1 1-1-1 1-1-1-1zm48.5 3.7l1 1 1-1 1 1-1 1 1 1-1 1-1-1-1 1-1-1 1-1-1-1zm-262.4 1l1 1 1-1 1 1-1 1 1 1-1 1-1-1-1 1-1-1 1-1-1-1zm107.7 2.8l1 1 1-1 1 1-1 1 1 1-1 1-1-1-1 1-1-1 1-1-1-1zm12.1 .8l1 1 1-1 1 1-1 1 1 1-1 1-1-1-1 1-1-1 1-1-1-1zm13.7-3.1l1 1 1-1 1 1-1 1 1 1-1 1-1-1-1 1-1-1 1-1-1-1zm10.5 2.4l1 1 1-1 1 1-1 1 1 1-1 1-1-1-1 1-1-1 1-1-1-1zm20.7 1.9l1 1 1-1 1 1-1 1 1 1-1 1-1-1-1 1-1-1 1-1-1-1zm4.8-1.3l1 1 1-1 1 1-1 1 1 1-1 1-1-1-1 1-1-1 1-1-1-1zm26.2-1l1 1 1-1 1 1-1 1 1 1-1 1-1-1-1 1-1-1 1-1-1-1zm23.2-.9l1 1 1-1 1 1-1 1 1 1-1 1-1-1-1 1-1-1 1-1-1-1zm16.8 3.4l1 1 1-1 1 1-1 1 1 1-1 1-1-1-1 1-1-1 1-1-1-1zm14.3-2l1 1 1-1 1 1-1 1 1 1-1 1-1-1-1 1-1-1 1-1-1-1zm-219.3 4l1 1 1-1 1 1-1 1 1 1-1 1-1-1-1 1-1-1 1-1-1-1zm18.6 2.1l1 1 1-1 1 1-1 1 1 1-1 1-1-1-1 1-1-1 1-1-1-1zm23.3-2.9l1 1 1-1 1 1-1 1 1 1-1 1-1-1-1 1-1-1 1-1-1-1zm6 1.5l1 1 1-1 1 1-1 1 1 1-1 1-1-1-1 1-1-1 1-1-1-1zm25.1 1.5l1 1 1-1 1 1-1 1 1 1-1 1-1-1-1 1-1-1 1-1-1-1zm25.1-2.3l1 1 1-1 1 1-1 1 1 1-1 1-1-1-1 1-1-1 1-1-1-1zm8.1-1.7l1 1 1-1 1 1-1 1 1 1-1 1-1-1-1 1-1-1 1-1-1-1zm4.4 3.2l1 1 1-1 1 1-1 1 1 1-1 1-1-1-1 1-1-1 1-1-1-1zm17.4-3.3l1 1 1-1 1 1-1 1 1 1-1 1-1-1-1 1-1-1 1-1-1-1zm33.3 4.3l1 1 1-1 1 1-1 1 1 1-1 1-1-1-1 1-1-1 1-1-1-1zm14.4-3.5l1 1 1-1 1 1-1 1 1 1-1 1-1-1-1 1-1-1 1-1-1-1zm7.8 4.3l1 1 1-1 1 1-1 1 1 1-1 1-1-1-1 1-1-1 1-1-1-1zm6.6-3.3l1 1 1-1 1 1-1 1 1 1-1 1-1-1-1 1-1-1 1-1-1-1zm-233.3 9.7l1 1 1-1 1 1-1 1 1 1-1 1-1-1-1 1-1-1 1-1-1-1zm24.2-1.3l1 1 1-1 1 1-1 1 1 1-1 1-1-1-1 1-1-1 1-1-1-1zm43.4-2l1 1 1-1 1 1-1 1 1 1-1 1-1-1-1 1-1-1 1-1-1-1zm16.9-.6l1 1 1-1 1 1-1 1 1 1-1 1-1-1-1 1-1-1 1-1-1-1zm17.6 2.7l1 1 1-1 1 1-1 1 1 1-1 1-1-1-1 1-1-1 1-1-1-1zm5-2.1l1 1 1-1 1 1-1 1 1 1-1 1-1-1-1 1-1-1 1-1-1-1zm9.7 3.5l1 1 1-1 1 1-1 1 1 1-1 1-1-1-1 1-1-1 1-1-1-1zm8.2-3.2l1 1 1-1 1 1-1 1 1 1-1 1-1-1-1 1-1-1 1-1-1-1zm10.4 .7l1 1 1-1 1 1-1 1 1 1-1 1-1-1-1 1-1-1 1-1-1-1zm6.9-2.5l1 1 1-1 1 1-1 1 1 1-1 1-1-1-1 1-1-1 1-1-1-1zm7.6 4.1l1 1 1-1 1 1-1 1 1 1-1 1-1-1-1 1-1-1 1-1-1-1zm17.4-4.7l1 1 1-1 1 1-1 1 1 1-1 1-1-1-1 1-1-1 1-1-1-1zm15-.1l1 1 1-1 1 1-1 1 1 1-1 1-1-1-1 1-1-1 1-1-1-1zm8.8 .9l1 1 1-1 1 1-1 1 1 1-1 1-1-1-1 1-1-1 1-1-1-1zm16.7 4.4l1 1 1-1 1 1-1 1 1 1-1 1-1-1-1 1-1-1 1-1-1-1zm6.9-1.9l1 1 1-1 1 1-1 1 1 1-1 1-1-1-1 1-1-1 1-1-1-1zm11.4 1.4l1 1 1-1 1 1-1 1 1 1-1 1-1-1-1 1-1-1 1-1-1-1zm8.1-.8l1 1 1-1 1 1-1 1 1 1-1 1-1-1-1 1-1-1 1-1-1-1zm-171.7 5.7l1 1 1-1 1 1-1 1 1 1-1 1-1-1-1 1-1-1 1-1-1-1zm16.5-2.9l1 1 1-1 1 1-1 1 1 1-1 1-1-1-1 1-1-1 1-1-1-1zm25.5 2.2l1 1 1-1 1 1-1 1 1 1-1 1-1-1-1 1-1-1 1-1-1-1zm23.5-1.5l1 1 1-1 1 1-1 1 1 1-1 1-1-1-1 1-1-1 1-1-1-1zm25.9 3.4l1 1 1-1 1 1-1 1 1 1-1 1-1-1-1 1-1-1 1-1-1-1zm6.4 .5l1 1 1-1 1 1-1 1 1 1-1 1-1-1-1 1-1-1 1-1-1-1zm2.5-5l1 1 1-1 1 1-1 1 1 1-1 1-1-1-1 1-1-1 1-1-1-1zm17.5 4.8l1 1 1-1 1 1-1 1 1 1-1 1-1-1-1 1-1-1 1-1-1-1zm12-1.2l1 1 1-1 1 1-1 1 1 1-1 1-1-1-1 1-1-1 1-1-1-1zm6.8-3.6l1 1 1-1 1 1-1 1 1 1-1 1-1-1-1 1-1-1 1-1-1-1zm12 4.1l1 1 1-1 1 1-1 1 1 1-1 1-1-1-1 1-1-1 1-1-1-1zm28.6-3.7l1 1 1-1 1 1-1 1 1 1-1 1-1-1-1 1-1-1 1-1-1-1zm12.4-.4l1 1 1-1 1 1-1 1 1 1-1 1-1-1-1 1-1-1 1-1-1-1zm1.8 4.7l1 1 1-1 1 1-1 1 1 1-1 1-1-1-1 1-1-1 1-1-1-1zm-212.1 5.6l1 1 1-1 1 1-1 1 1 1-1 1-1-1-1 1-1-1 1-1-1-1zm51.8-2.7l1 1 1-1 1 1-1 1 1 1-1 1-1-1-1 1-1-1 1-1-1-1zm25.1 .1l1 1 1-1 1 1-1 1 1 1-1 1-1-1-1 1-1-1 1-1-1-1zm10.4 1l1 1 1-1 1 1-1 1 1 1-1 1-1-1-1 1-1-1 1-1-1-1zm11.4 .5l1 1 1-1 1 1-1 1 1 1-1 1-1-1-1 1-1-1 1-1-1-1zm31.2-1.2l1 1 1-1 1 1-1 1 1 1-1 1-1-1-1 1-1-1 1-1-1-1zm4.8 1.7l1 1 1-1 1 1-1 1 1 1-1 1-1-1-1 1-1-1 1-1-1-1zm22.5-.3l1 1 1-1 1 1-1 1 1 1-1 1-1-1-1 1-1-1 1-1-1-1zm13.8-.2l1 1 1-1 1 1-1 1 1 1-1 1-1-1-1 1-1-1 1-1-1-1zm10.9 2l1 1 1-1 1 1-1 1 1 1-1 1-1-1-1 1-1-1 1-1-1-1zm.9-5l1 1 1-1 1 1-1 1 1 1-1 1-1-1-1 1-1-1 1-1-1-1zm7.9 2.2l1 1 1-1 1 1-1 1 1 1-1 1-1-1-1 1-1-1 1-1-1-1zm6.5-.4l1 1 1-1 1 1-1 1 1 1-1 1-1-1-1 1-1-1 1-1-1-1zm-245.9 7.5l1 1 1-1 1 1-1 1 1 1-1 1-1-1-1 1-1-1 1-1-1-1zm74.6-1.6l1 1 1-1 1 1-1 1 1 1-1 1-1-1-1 1-1-1 1-1-1-1zm6.3 2.4l1 1 1-1 1 1-1 1 1 1-1 1-1-1-1 1-1-1 1-1-1-1zm21.9 .5l1 1 1-1 1 1-1 1 1 1-1 1-1-1-1 1-1-1 1-1-1-1zm4.4-4.5l1 1 1-1 1 1-1 1 1 1-1 1-1-1-1 1-1-1 1-1-1-1zm22.6 5.2l1 1 1-1 1 1-1 1 1 1-1 1-1-1-1 1-1-1 1-1-1-1zm6-3.2l1 1 1-1 1 1-1 1 1 1-1 1-1-1-1 1-1-1 1-1-1-1zm5.8 2.1l1 1 1-1 1 1-1 1 1 1-1 1-1-1-1 1-1-1 1-1-1-1zm.4-4.4l1 1 1-1 1 1-1 1 1 1-1 1-1-1-1 1-1-1 1-1-1-1zm16.4 1.2l1 1 1-1 1 1-1 1 1 1-1 1-1-1-1 1-1-1 1-1-1-1zm15 .2l1 1 1-1 1 1-1 1 1 1-1 1-1-1-1 1-1-1 1-1-1-1zm4.7 3.5l1 1 1-1 1 1-1 1 1 1-1 1-1-1-1 1-1-1 1-1-1-1zm12.6-3.6l1 1 1-1 1 1-1 1 1 1-1 1-1-1-1 1-1-1 1-1-1-1zm7.6 3.6l1 1 1-1 1 1-1 1 1 1-1 1-1-1-1 1-1-1 1-1-1-1zm18.4-.1l1 1 1-1 1 1-1 1 1 1-1 1-1-1-1 1-1-1 1-1-1-1zm7.6-1.6l1 1 1-1 1 1-1 1 1 1-1 1-1-1-1 1-1-1 1-1-1-1zm9.4 2l1 1 1-1 1 1-1 1 1 1-1 1-1-1-1 1-1-1 1-1-1-1zm26.6-2.4l1 1 1-1 1 1-1 1 1 1-1 1-1-1-1 1-1-1 1-1-1-1zm14.8-1l1 1 1-1 1 1-1 1 1 1-1 1-1-1-1 1-1-1 1-1-1-1zm7.4 2.1l1 1 1-1 1 1-1 1 1 1-1 1-1-1-1 1-1-1 1-1-1-1zm-290.4 7.6l1 1 1-1 1 1-1 1 1 1-1 1-1-1-1 1-1-1 1-1-1-1zm5.3-2.4l1 1 1-1 1 1-1 1 1 1-1 1-1-1-1 1-1-1 1-1-1-1zm23.8 .4l1 1 1-1 1 1-1 1 1 1-1 1-1-1-1 1-1-1 1-1-1-1zm5.9-.4l1 1 1-1 1 1-1 1 1 1-1 1-1-1-1 1-1-1 1-1-1-1zm23.1 1.2l1 1 1-1 1 1-1 1 1 1-1 1-1-1-1 1-1-1 1-1-1-1zm19.7-.5l1 1 1-1 1 1-1 1 1 1-1 1-1-1-1 1-1-1 1-1-1-1zm50.1-3.8l1 1 1-1 1 1-1 1 1 1-1 1-1-1-1 1-1-1 1-1-1-1zm28.1 1.6l1 1 1-1 1 1-1 1 1 1-1 1-1-1-1 1-1-1 1-1-1-1zm9.6-1.2l1 1 1-1 1 1-1 1 1 1-1 1-1-1-1 1-1-1 1-1-1-1zm3.5 4.7l1 1 1-1 1 1-1 1 1 1-1 1-1-1-1 1-1-1 1-1-1-1zm14.1-.4l1 1 1-1 1 1-1 1 1 1-1 1-1-1-1 1-1-1 1-1-1-1zm7.3-2.3l1 1 1-1 1 1-1 1 1 1-1 1-1-1-1 1-1-1 1-1-1-1zm6.8-2.5l1 1 1-1 1 1-1 1 1 1-1 1-1-1-1 1-1-1 1-1-1-1zm14.8-.1l1 1 1-1 1 1-1 1 1 1-1 1-1-1-1 1-1-1 1-1-1-1zm7.5 2.1l1 1 1-1 1 1-1 1 1 1-1 1-1-1-1 1-1-1 1-1-1-1zm35-.1l1 1 1-1 1 1-1 1 1 1-1 1-1-1-1 1-1-1 1-1-1-1zm-223.1 9.8l1 1 1-1 1 1-1 1 1 1-1 1-1-1-1 1-1-1 1-1-1-1zm27.1-1.8l1 1 1-1 1 1-1 1 1 1-1 1-1-1-1 1-1-1 1-1-1-1zm16.3 1.6l1 1 1-1 1 1-1 1 1 1-1 1-1-1-1 1-1-1 1-1-1-1zm18.5-5l1 1 1-1 1 1-1 1 1 1-1 1-1-1-1 1-1-1 1-1-1-1zm8.7 .7l1 1 1-1 1 1-1 1 1 1-1 1-1-1-1 1-1-1 1-1-1-1zm7.6-.4l1 1 1-1 1 1-1 1 1 1-1 1-1-1-1 1-1-1 1-1-1-1zm8.1 1.2l1 1 1-1 1 1-1 1 1 1-1 1-1-1-1 1-1-1 1-1-1-1zm21.4 2.1l1 1 1-1 1 1-1 1 1 1-1 1-1-1-1 1-1-1 1-1-1-1zm6.2-3.4l1 1 1-1 1 1-1 1 1 1-1 1-1-1-1 1-1-1 1-1-1-1zm9.8 .5l1 1 1-1 1 1-1 1 1 1-1 1-1-1-1 1-1-1 1-1-1-1zm5.2-.5l1 1 1-1 1 1-1 1 1 1-1 1-1-1-1 1-1-1 1-1-1-1zm10.1 4.4l1 1 1-1 1 1-1 1 1 1-1 1-1-1-1 1-1-1 1-1-1-1zm5.8-5.1l1 1 1-1 1 1-1 1 1 1-1 1-1-1-1 1-1-1 1-1-1-1zm5.1 3.5l1 1 1-1 1 1-1 1 1 1-1 1-1-1-1 1-1-1 1-1-1-1zm37.5-.3l1 1 1-1 1 1-1 1 1 1-1 1-1-1-1 1-1-1 1-1-1-1zm9.6 .7l1 1 1-1 1 1-1 1 1 1-1 1-1-1-1 1-1-1 1-1-1-1zm5.7-1.1l1 1 1-1 1 1-1 1 1 1-1 1-1-1-1 1-1-1 1-1-1-1zm9.9-1.1l1 1 1-1 1 1-1 1 1 1-1 1-1-1-1 1-1-1 1-1-1-1zm7.6 .2l1 1 1-1 1 1-1 1 1 1-1 1-1-1-1 1-1-1 1-1-1-1zm7.2 1.1l1 1 1-1 1 1-1 1 1 1-1 1-1-1-1 1-1-1 1-1-1-1zm12.5-1.6l1 1 1-1 1 1-1 1 1 1-1 1-1-1-1 1-1-1 1-1-1-1zm-202.9 8l1 1 1-1 1 1-1 1 1 1-1 1-1-1-1 1-1-1 1-1-1-1zm11.6 .8l1 1 1-1 1 1-1 1 1 1-1 1-1-1-1 1-1-1 1-1-1-1zm7-.9l1 1 1-1 1 1-1 1 1 1-1 1-1-1-1 1-1-1 1-1-1-1zm13.5-2.5l1 1 1-1 1 1-1 1 1 1-1 1-1-1-1 1-1-1 1-1-1-1zm25.5-1l1 1 1-1 1 1-1 1 1 1-1 1-1-1-1 1-1-1 1-1-1-1zm4.9 1.9l1 1 1-1 1 1-1 1 1 1-1 1-1-1-1 1-1-1 1-1-1-1zm28.1-.7l1 1 1-1 1 1-1 1 1 1-1 1-1-1-1 1-1-1 1-1-1-1zm33.6 2.8l1 1 1-1 1 1-1 1 1 1-1 1-1-1-1 1-1-1 1-1-1-1zm12.7-1.8l1 1 1-1 1 1-1 1 1 1-1 1-1-1-1 1-1-1 1-1-1-1zm8.2-2.1l1 1 1-1 1 1-1 1 1 1-1 1-1-1-1 1-1-1 1-1-1-1zm7.6 4.4l1 1 1-1 1 1-1 1 1 1-1 1-1-1-1 1-1-1 1-1-1-1zm22.3-.9l1 1 1-1 1 1-1 1 1 1-1 1-1-1-1 1-1-1 1-1-1-1zm16.4 2.3l1 1 1-1 1 1-1 1 1 1-1 1-1-1-1 1-1-1 1-1-1-1zm5.7-.3l1 1 1-1 1 1-1 1 1 1-1 1-1-1-1 1-1-1 1-1-1-1zm5-4.8l1 1 1-1 1 1-1 1 1 1-1 1-1-1-1 1-1-1 1-1-1-1zm-228 5.2l1 1 1-1 1 1-1 1 1 1-1 1-1-1-1 1-1-1 1-1-1-1zm33.1 3l1 1 1-1 1 1-1 1 1 1-1 1-1-1-1 1-1-1 1-1-1-1zm21 1.1l1 1 1-1 1 1-1 1 1 1-1 1-1-1-1 1-1-1 1-1-1-1zm7.9-1.2l1 1 1-1 1 1-1 1 1 1-1 1-1-1-1 1-1-1 1-1-1-1zm13.2-2.3l1 1 1-1 1 1-1 1 1 1-1 1-1-1-1 1-1-1 1-1-1-1zm20.4 1.4l1 1 1-1 1 1-1 1 1 1-1 1-1-1-1 1-1-1 1-1-1-1zm14.9 3.2l1 1 1-1 1 1-1 1 1 1-1 1-1-1-1 1-1-1 1-1-1-1zm4.5-5l1 1 1-1 1 1-1 1 1 1-1 1-1-1-1 1-1-1 1-1-1-1zm7.2-.1l1 1 1-1 1 1-1 1 1 1-1 1-1-1-1 1-1-1 1-1-1-1zm12.4 .1l1 1 1-1 1 1-1 1 1 1-1 1-1-1-1 1-1-1 1-1-1-1zm1.3 5.3l1 1 1-1 1 1-1 1 1 1-1 1-1-1-1 1-1-1 1-1-1-1zm5.7-2.9l1 1 1-1 1 1-1 1 1 1-1 1-1-1-1 1-1-1 1-1-1-1zm20.3 .3l1 1 1-1 1 1-1 1 1 1-1 1-1-1-1 1-1-1 1-1-1-1zm8.6 2.4l1 1 1-1 1 1-1 1 1 1-1 1-1-1-1 1-1-1 1-1-1-1zm18.3-2.2l1 1 1-1 1 1-1 1 1 1-1 1-1-1-1 1-1-1 1-1-1-1zm4.5-2.3l1 1 1-1 1 1-1 1 1 1-1 1-1-1-1 1-1-1 1-1-1-1zm18-.7l1 1 1-1 1 1-1 1 1 1-1 1-1-1-1 1-1-1 1-1-1-1zm.1 5.4l1 1 1-1 1 1-1 1 1 1-1 1-1-1-1 1-1-1 1-1-1-1zm12.2-.3l1 1 1-1 1 1-1 1 1 1-1 1-1-1-1 1-1-1 1-1-1-1zm-243.3 4.7l1 1 1-1 1 1-1 1 1 1-1 1-1-1-1 1-1-1 1-1-1-1zm21 0l1 1 1-1 1 1-1 1 1 1-1 1-1-1-1 1-1-1 1-1-1-1zm12 .5l1 1 1-1 1 1-1 1 1 1-1 1-1-1-1 1-1-1 1-1-1-1zm10.9-2.4l1 1 1-1 1 1-1 1 1 1-1 1-1-1-1 1-1-1 1-1-1-1zm20.2 .4l1 1 1-1 1 1-1 1 1 1-1 1-1-1-1 1-1-1 1-1-1-1zm5.2 1.7l1 1 1-1 1 1-1 1 1 1-1 1-1-1-1 1-1-1 1-1-1-1zm10.6-.4l1 1 1-1 1 1-1 1 1 1-1 1-1-1-1 1-1-1 1-1-1-1zm22.5-.1l1 1 1-1 1 1-1 1 1 1-1 1-1-1-1 1-1-1 1-1-1-1zm7.6-2l1 1 1-1 1 1-1 1 1 1-1 1-1-1-1 1-1-1 1-1-1-1zm9.1 1l1 1 1-1 1 1-1 1 1 1-1 1-1-1-1 1-1-1 1-1-1-1zm29.3 2.1l1 1 1-1 1 1-1 1 1 1-1 1-1-1-1 1-1-1 1-1-1-1zm33.2-.1l1 1 1-1 1 1-1 1 1 1-1 1-1-1-1 1-1-1 1-1-1-1zm12-.7l1 1 1-1 1 1-1 1 1 1-1 1-1-1-1 1-1-1 1-1-1-1zm14.6-1.1l1 1 1-1 1 1-1 1 1 1-1 1-1-1-1 1-1-1 1-1-1-1zm11.3-2l1 1 1-1 1 1-1 1 1 1-1 1-1-1-1 1-1-1 1-1-1-1zm5.3 4.3l1 1 1-1 1 1-1 1 1 1-1 1-1-1-1 1-1-1 1-1-1-1zm16-1.1l1 1 1-1 1 1-1 1 1 1-1 1-1-1-1 1-1-1 1-1-1-1zm16.4-2.4l1 1 1-1 1 1-1 1 1 1-1 1-1-1-1 1-1-1 1-1-1-1zm-284.7 4.4l1 1 1-1 1 1-1 1 1 1-1 1-1-1-1 1-1-1 1-1-1-1zm83.3 3.2l1 1 1-1 1 1-1 1 1 1-1 1-1-1-1 1-1-1 1-1-1-1zm8.1-1.9l1 1 1-1 1 1-1 1 1 1-1 1-1-1-1 1-1-1 1-1-1-1zm11.2-1.3l1 1 1-1 1 1-1 1 1 1-1 1-1-1-1 1-1-1 1-1-1-1zm3.9 5.2l1 1 1-1 1 1-1 1 1 1-1 1-1-1-1 1-1-1 1-1-1-1zm7.5-1.5l1 1 1-1 1 1-1 1 1 1-1 1-1-1-1 1-1-1 1-1-1-1zm5.3-1.7l1 1 1-1 1 1-1 1 1 1-1 1-1-1-1 1-1-1 1-1-1-1zm21.4 3l1 1 1-1 1 1-1 1 1 1-1 1-1-1-1 1-1-1 1-1-1-1zm13-3.6l1 1 1-1 1 1-1 1 1 1-1 1-1-1-1 1-1-1 1-1-1-1zm5.1 3.7l1 1 1-1 1 1-1 1 1 1-1 1-1-1-1 1-1-1 1-1-1-1zm24.2-.5l1 1 1-1 1 1-1 1 1 1-1 1-1-1-1 1-1-1 1-1-1-1zm11-2.2l1 1 1-1 1 1-1 1 1 1-1 1-1-1-1 1-1-1 1-1-1-1zm18.7 1.4l1 1 1-1 1 1-1 1 1 1-1 1-1-1-1 1-1-1 1-1-1-1zm12.8-1.9l1 1 1-1 1 1-1 1 1 1-1 1-1-1-1 1-1-1 1-1-1-1zm12.3 .4l1 1 1-1 1 1-1 1 1 1-1 1-1-1-1 1-1-1 1-1-1-1zm5.3 1.6l1 1 1-1 1 1-1 1 1 1-1 1-1-1-1 1-1-1 1-1-1-1zm20.3-2.4l1 1 1-1 1 1-1 1 1 1-1 1-1-1-1 1-1-1 1-1-1-1zm25.6 1.8l1 1 1-1 1 1-1 1 1 1-1 1-1-1-1 1-1-1 1-1-1-1zm32.1-2.3l1 1 1-1 1 1-1 1 1 1-1 1-1-1-1 1-1-1 1-1-1-1zm-289.6 8.7l1 1 1-1 1 1-1 1 1 1-1 1-1-1-1 1-1-1 1-1-1-1zm49 1.7l1 1 1-1 1 1-1 1 1 1-1 1-1-1-1 1-1-1 1-1-1-1zm58.8-1.8l1 1 1-1 1 1-1 1 1 1-1 1-1-1-1 1-1-1 1-1-1-1zm11.9-2.3l1 1 1-1 1 1-1 1 1 1-1 1-1-1-1 1-1-1 1-1-1-1zm16.7 0l1 1 1-1 1 1-1 1 1 1-1 1-1-1-1 1-1-1 1-1-1-1zm34.3-.3l1 1 1-1 1 1-1 1 1 1-1 1-1-1-1 1-1-1 1-1-1-1zm26.8 .8l1 1 1-1 1 1-1 1 1 1-1 1-1-1-1 1-1-1 1-1-1-1zm19.5 3l1 1 1-1 1 1-1 1 1 1-1 1-1-1-1 1-1-1 1-1-1-1zm6.4-4.7l1 1 1-1 1 1-1 1 1 1-1 1-1-1-1 1-1-1 1-1-1-1zm-246.2 10.7l1 1 1-1 1 1-1 1 1 1-1 1-1-1-1 1-1-1 1-1-1-1zm29.3-2.7l1 1 1-1 1 1-1 1 1 1-1 1-1-1-1 1-1-1 1-1-1-1zm11.6-1l1 1 1-1 1 1-1 1 1 1-1 1-1-1-1 1-1-1 1-1-1-1zm23.7 2.1l1 1 1-1 1 1-1 1 1 1-1 1-1-1-1 1-1-1 1-1-1-1zm9.5 1.6l1 1 1-1 1 1-1 1 1 1-1 1-1-1-1 1-1-1 1-1-1-1zm12.4-2.8l1 1 1-1 1 1-1 1 1 1-1 1-1-1-1 1-1-1 1-1-1-1zm7.5-2l1 1 1-1 1 1-1 1 1 1-1 1-1-1-1 1-1-1 1-1-1-1zm9.9 1.4l1 1 1-1 1 1-1 1 1 1-1 1-1-1-1 1-1-1 1-1-1-1zm4.9 2.7l1 1 1-1 1 1-1 1 1 1-1 1-1-1-1 1-1-1 1-1-1-1zm7.4-2.5l1 1 1-1 1 1-1 1 1 1-1 1-1-1-1 1-1-1 1-1-1-1zm9 .1l1 1 1-1 1 1-1 1 1 1-1 1-1-1-1 1-1-1 1-1-1-1zm14.5-1.4l1 1 1-1 1 1-1 1 1 1-1 1-1-1-1 1-1-1 1-1-1-1zm4.7 5.1l1 1 1-1 1 1-1 1 1 1-1 1-1-1-1 1-1-1 1-1-1-1zm.8-4.6l1 1 1-1 1 1-1 1 1 1-1 1-1-1-1 1-1-1 1-1-1-1zm4.5-.9l1 1 1-1 1 1-1 1 1 1-1 1-1-1-1 1-1-1 1-1-1-1zm2 4.9l1 1 1-1 1 1-1 1 1 1-1 1-1-1-1 1-1-1 1-1-1-1zm14.8 .7l1 1 1-1 1 1-1 1 1 1-1 1-1-1-1 1-1-1 1-1-1-1zm13.3-3.3l1 1 1-1 1 1-1 1 1 1-1 1-1-1-1 1-1-1 1-1-1-1zm10.5-1.8l1 1 1-1 1 1-1 1 1 1-1 1-1-1-1 1-1-1 1-1-1-1zm16.9 5.3l1 1 1-1 1 1-1 1 1 1-1 1-1-1-1 1-1-1 1-1-1-1zm4.5-2.5l1 1 1-1 1 1-1 1 1 1-1 1-1-1-1 1-1-1 1-1-1-1zm7.3-1.9l1 1 1-1 1 1-1 1 1 1-1 1-1-1-1 1-1-1 1-1-1-1zm7.4-.8l1 1 1-1 1 1-1 1 1 1-1 1-1-1-1 1-1-1 1-1-1-1zm23.9 2.5l1 1 1-1 1 1-1 1 1 1-1 1-1-1-1 1-1-1 1-1-1-1zm6.8-1.7l1 1 1-1 1 1-1 1 1 1-1 1-1-1-1 1-1-1 1-1-1-1zm-167 8.1l1 1 1-1 1 1-1 1 1 1-1 1-1-1-1 1-1-1 1-1-1-1zm28.7 1.1l1 1 1-1 1 1-1 1 1 1-1 1-1-1-1 1-1-1 1-1-1-1zm24.2-.5l1 1 1-1 1 1-1 1 1 1-1 1-1-1-1 1-1-1 1-1-1-1zm11.2 .1l1 1 1-1 1 1-1 1 1 1-1 1-1-1-1 1-1-1 1-1-1-1zm5.8 1l1 1 1-1 1 1-1 1 1 1-1 1-1-1-1 1-1-1 1-1-1-1zm15.7-1.4l1 1 1-1 1 1-1 1 1 1-1 1-1-1-1 1-1-1 1-1-1-1zm9.3-2l1 1 1-1 1 1-1 1 1 1-1 1-1-1-1 1-1-1 1-1-1-1zm11.7-1.7l1 1 1-1 1 1-1 1 1 1-1 1-1-1-1 1-1-1 1-1-1-1zm23.7 4.7l1 1 1-1 1 1-1 1 1 1-1 1-1-1-1 1-1-1 1-1-1-1zm10.9-1.9l1 1 1-1 1 1-1 1 1 1-1 1-1-1-1 1-1-1 1-1-1-1zm5.4-1.7l1 1 1-1 1 1-1 1 1 1-1 1-1-1-1 1-1-1 1-1-1-1zm24.6 .2l1 1 1-1 1 1-1 1 1 1-1 1-1-1-1 1-1-1 1-1-1-1zm22.9 .1l1 1 1-1 1 1-1 1 1 1-1 1-1-1-1 1-1-1 1-1-1-1zm-291.1 7.6l1 1 1-1 1 1-1 1 1 1-1 1-1-1-1 1-1-1 1-1-1-1zm25.9-1.7l1 1 1-1 1 1-1 1 1 1-1 1-1-1-1 1-1-1 1-1-1-1zm50.3 2.1l1 1 1-1 1 1-1 1 1 1-1 1-1-1-1 1-1-1 1-1-1-1zm5.3-.1l1 1 1-1 1 1-1 1 1 1-1 1-1-1-1 1-1-1 1-1-1-1zm4.9 .1l1 1 1-1 1 1-1 1 1 1-1 1-1-1-1 1-1-1 1-1-1-1zm11.7 .6l1 1 1-1 1 1-1 1 1 1-1 1-1-1-1 1-1-1 1-1-1-1zm12.6-2.2l1 1 1-1 1 1-1 1 1 1-1 1-1-1-1 1-1-1 1-1-1-1zm18.2 1.9l1 1 1-1 1 1-1 1 1 1-1 1-1-1-1 1-1-1 1-1-1-1zm4.7-2.4l1 1 1-1 1 1-1 1 1 1-1 1-1-1-1 1-1-1 1-1-1-1zm26.6 3.6l1 1 1-1 1 1-1 1 1 1-1 1-1-1-1 1-1-1 1-1-1-1zm12.4-1l1 1 1-1 1 1-1 1 1 1-1 1-1-1-1 1-1-1 1-1-1-1zm5.3-2.8l1 1 1-1 1 1-1 1 1 1-1 1-1-1-1 1-1-1 1-1-1-1zm11 2.3l1 1 1-1 1 1-1 1 1 1-1 1-1-1-1 1-1-1 1-1-1-1zm18.2 1l1 1 1-1 1 1-1 1 1 1-1 1-1-1-1 1-1-1 1-1-1-1zm11.9-.5l1 1 1-1 1 1-1 1 1 1-1 1-1-1-1 1-1-1 1-1-1-1zm36.7-.6l1 1 1-1 1 1-1 1 1 1-1 1-1-1-1 1-1-1 1-1-1-1zm4.9-1.6l1 1 1-1 1 1-1 1 1 1-1 1-1-1-1 1-1-1 1-1-1-1zm6.8 1.2l1 1 1-1 1 1-1 1 1 1-1 1-1-1-1 1-1-1 1-1-1-1zm-228.7 5.7l1 1 1-1 1 1-1 1 1 1-1 1-1-1-1 1-1-1 1-1-1-1zm20 2.5l1 1 1-1 1 1-1 1 1 1-1 1-1-1-1 1-1-1 1-1-1-1zm23.7-2.5l1 1 1-1 1 1-1 1 1 1-1 1-1-1-1 1-1-1 1-1-1-1zm9.1 .3l1 1 1-1 1 1-1 1 1 1-1 1-1-1-1 1-1-1 1-1-1-1zm9.6 .3l1 1 1-1 1 1-1 1 1 1-1 1-1-1-1 1-1-1 1-1-1-1zm12.3 1.8l1 1 1-1 1 1-1 1 1 1-1 1-1-1-1 1-1-1 1-1-1-1zm30.7-4.5l1 1 1-1 1 1-1 1 1 1-1 1-1-1-1 1-1-1 1-1-1-1zm6.8 1.7l1 1 1-1 1 1-1 1 1 1-1 1-1-1-1 1-1-1 1-1-1-1zm14.9 0l1 1 1-1 1 1-1 1 1 1-1 1-1-1-1 1-1-1 1-1-1-1zm9.5 1.2l1 1 1-1 1 1-1 1 1 1-1 1-1-1-1 1-1-1 1-1-1-1zm32.9 .9l1 1 1-1 1 1-1 1 1 1-1 1-1-1-1 1-1-1 1-1-1-1zm28.4-1l1 1 1-1 1 1-1 1 1 1-1 1-1-1-1 1-1-1 1-1-1-1zm12-2.4l1 1 1-1 1 1-1 1 1 1-1 1-1-1-1 1-1-1 1-1-1-1zm18.3 1.1l1 1 1-1 1 1-1 1 1 1-1 1-1-1-1 1-1-1 1-1-1-1zm6.5 1.9l1 1 1-1 1 1-1 1 1 1-1 1-1-1-1 1-1-1 1-1-1-1zm-185 4.2l1 1 1-1 1 1-1 1 1 1-1 1-1-1-1 1-1-1 1-1-1-1zm17.5 .2l1 1 1-1 1 1-1 1 1 1-1 1-1-1-1 1-1-1 1-1-1-1zm25.4 1.8l1 1 1-1 1 1-1 1 1 1-1 1-1-1-1 1-1-1 1-1-1-1zm18.5-3.1l1 1 1-1 1 1-1 1 1 1-1 1-1-1-1 1-1-1 1-1-1-1zm10.5 2l1 1 1-1 1 1-1 1 1 1-1 1-1-1-1 1-1-1 1-1-1-1zm9.6 2.6l1 1 1-1 1 1-1 1 1 1-1 1-1-1-1 1-1-1 1-1-1-1zm9.8-4.1l1 1 1-1 1 1-1 1 1 1-1 1-1-1-1 1-1-1 1-1-1-1zm18.4 1.4l1 1 1-1 1 1-1 1 1 1-1 1-1-1-1 1-1-1 1-1-1-1zm7.8 2.4l1 1 1-1 1 1-1 1 1 1-1 1-1-1-1 1-1-1 1-1-1-1zm4.9 .6l1 1 1-1 1 1-1 1 1 1-1 1-1-1-1 1-1-1 1-1-1-1zm6.5-4.2l1 1 1-1 1 1-1 1 1 1-1 1-1-1-1 1-1-1 1-1-1-1zm7.7-.2l1 1 1-1 1 1-1 1 1 1-1 1-1-1-1 1-1-1 1-1-1-1zm7 3l1 1 1-1 1 1-1 1 1 1-1 1-1-1-1 1-1-1 1-1-1-1zm5-2.8l1 1 1-1 1 1-1 1 1 1-1 1-1-1-1 1-1-1 1-1-1-1zm12 .8l1 1 1-1 1 1-1 1 1 1-1 1-1-1-1 1-1-1 1-1-1-1zm-206.5 4.1l1 1 1-1 1 1-1 1 1 1-1 1-1-1-1 1-1-1 1-1-1-1zm13.3 4l1 1 1-1 1 1-1 1 1 1-1 1-1-1-1 1-1-1 1-1-1-1zm16.4-1.3l1 1 1-1 1 1-1 1 1 1-1 1-1-1-1 1-1-1 1-1-1-1zm11.5-2.9l1 1 1-1 1 1-1 1 1 1-1 1-1-1-1 1-1-1 1-1-1-1zm11.9 2.7l1 1 1-1 1 1-1 1 1 1-1 1-1-1-1 1-1-1 1-1-1-1zm15.4 .8l1 1 1-1 1 1-1 1 1 1-1 1-1-1-1 1-1-1 1-1-1-1zm13.5-1.1l1 1 1-1 1 1-1 1 1 1-1 1-1-1-1 1-1-1 1-1-1-1zm13.8 2.9l1 1 1-1 1 1-1 1 1 1-1 1-1-1-1 1-1-1 1-1-1-1zm3.7-5.6l1 1 1-1 1 1-1 1 1 1-1 1-1-1-1 1-1-1 1-1-1-1zm32.4 2.2l1 1 1-1 1 1-1 1 1 1-1 1-1-1-1 1-1-1 1-1-1-1zm22.7 2.7l1 1 1-1 1 1-1 1 1 1-1 1-1-1-1 1-1-1 1-1-1-1zm23.1-3.1l1 1 1-1 1 1-1 1 1 1-1 1-1-1-1 1-1-1 1-1-1-1zm28.6 .1l1 1 1-1 1 1-1 1 1 1-1 1-1-1-1 1-1-1 1-1-1-1zm34.2-2l1 1 1-1 1 1-1 1 1 1-1 1-1-1-1 1-1-1 1-1-1-1zm-224.7 11.9l1 1 1-1 1 1-1 1 1 1-1 1-1-1-1 1-1-1 1-1-1-1zm16.6-1.8l1 1 1-1 1 1-1 1 1 1-1 1-1-1-1 1-1-1 1-1-1-1zm12-.5l1 1 1-1 1 1-1 1 1 1-1 1-1-1-1 1-1-1 1-1-1-1zm7.7-.7l1 1 1-1 1 1-1 1 1 1-1 1-1-1-1 1-1-1 1-1-1-1zm9.9-2.3l1 1 1-1 1 1-1 1 1 1-1 1-1-1-1 1-1-1 1-1-1-1zm10.4 2.2l1 1 1-1 1 1-1 1 1 1-1 1-1-1-1 1-1-1 1-1-1-1zm18.3 2.3l1 1 1-1 1 1-1 1 1 1-1 1-1-1-1 1-1-1 1-1-1-1zm12-.9l1 1 1-1 1 1-1 1 1 1-1 1-1-1-1 1-1-1 1-1-1-1zm8.7-2.6l1 1 1-1 1 1-1 1 1 1-1 1-1-1-1 1-1-1 1-1-1-1zm9.3-.5l1 1 1-1 1 1-1 1 1 1-1 1-1-1-1 1-1-1 1-1-1-1zm18.9 .6l1 1 1-1 1 1-1 1 1 1-1 1-1-1-1 1-1-1 1-1-1-1zm27 .9l1 1 1-1 1 1-1 1 1 1-1 1-1-1-1 1-1-1 1-1-1-1zm10.2-.2l1 1 1-1 1 1-1 1 1 1-1 1-1-1-1 1-1-1 1-1-1-1zm12.7 .2l1 1 1-1 1 1-1 1 1 1-1 1-1-1-1 1-1-1 1-1-1-1zm4.5-2.6l1 1 1-1 1 1-1 1 1 1-1 1-1-1-1 1-1-1 1-1-1-1zm28.5 1.4l1 1 1-1 1 1-1 1 1 1-1 1-1-1-1 1-1-1 1-1-1-1zm-250.5 9.6l1 1 1-1 1 1-1 1 1 1-1 1-1-1-1 1-1-1 1-1-1-1zm79.2-2.4l1 1 1-1 1 1-1 1 1 1-1 1-1-1-1 1-1-1 1-1-1-1zm5 2.6l1 1 1-1 1 1-1 1 1 1-1 1-1-1-1 1-1-1 1-1-1-1zm5.8-5.2l1 1 1-1 1 1-1 1 1 1-1 1-1-1-1 1-1-1 1-1-1-1zm13.3 5.5l1 1 1-1 1 1-1 1 1 1-1 1-1-1-1 1-1-1 1-1-1-1zm10.1-3.3l1 1 1-1 1 1-1 1 1 1-1 1-1-1-1 1-1-1 1-1-1-1zm7.5 3.1l1 1 1-1 1 1-1 1 1 1-1 1-1-1-1 1-1-1 1-1-1-1zm6.2-.9l1 1 1-1 1 1-1 1 1 1-1 1-1-1-1 1-1-1 1-1-1-1zm10-.7l1 1 1-1 1 1-1 1 1 1-1 1-1-1-1 1-1-1 1-1-1-1zm17.1-.6l1 1 1-1 1 1-1 1 1 1-1 1-1-1-1 1-1-1 1-1-1-1zm19.2-.7l1 1 1-1 1 1-1 1 1 1-1 1-1-1-1 1-1-1 1-1-1-1zm7.4-2.1l1 1 1-1 1 1-1 1 1 1-1 1-1-1-1 1-1-1 1-1-1-1zm30.2 .7l1 1 1-1 1 1-1 1 1 1-1 1-1-1-1 1-1-1 1-1-1-1zm12.3 2.6l1 1 1-1 1 1-1 1 1 1-1 1-1-1-1 1-1-1 1-1-1-1zm17.4 .5l1 1 1-1 1 1-1 1 1 1-1 1-1-1-1 1-1-1 1-1-1-1zm-181.8 2.6l1 1 1-1 1 1-1 1 1 1-1 1-1-1-1 1-1-1 1-1-1-1zm8.4 1.3l1 1 1-1 1 1-1 1 1 1-1 1-1-1-1 1-1-1 1-1-1-1zm5.1 3.4l1 1 1-1 1 1-1 1 1 1-1 1-1-1-1 1-1-1 1-1-1-1zm1-4.8l1 1 1-1 1 1-1 1 1 1-1 1-1-1-1 1-1-1 1-1-1-1zm24.6 2.2l1 1 1-1 1 1-1 1 1 1-1 1-1-1-1 1-1-1 1-1-1-1zm39.4 2.6l1 1 1-1 1 1-1 1 1 1-1 1-1-1-1 1-1-1 1-1-1-1zm6.7-2l1 1 1-1 1 1-1 1 1 1-1 1-1-1-1 1-1-1 1-1-1-1zm13.8 1.2l1 1 1-1 1 1-1 1 1 1-1 1-1-1-1 1-1-1 1-1-1-1zm39.3-3.8l1 1 1-1 1 1-1 1 1 1-1 1-1-1-1 1-1-1 1-1-1-1zm18.6 2.4l1 1 1-1 1 1-1 1 1 1-1 1-1-1-1 1-1-1 1-1-1-1zm11.1 .6l1 1 1-1 1 1-1 1 1 1-1 1-1-1-1 1-1-1 1-1-1-1zm44.4-3.2l1 1 1-1 1 1-1 1 1 1-1 1-1-1-1 1-1-1 1-1-1-1zm-215.1 10l1 1 1-1 1 1-1 1 1 1-1 1-1-1-1 1-1-1 1-1-1-1zm9.8-2.8l1 1 1-1 1 1-1 1 1 1-1 1-1-1-1 1-1-1 1-1-1-1zm17.2-1.6l1 1 1-1 1 1-1 1 1 1-1 1-1-1-1 1-1-1 1-1-1-1zm10.4 1.6l1 1 1-1 1 1-1 1 1 1-1 1-1-1-1 1-1-1 1-1-1-1zm46.4 2.1l1 1 1-1 1 1-1 1 1 1-1 1-1-1-1 1-1-1 1-1-1-1zm23.7-3.5l1 1 1-1 1 1-1 1 1 1-1 1-1-1-1 1-1-1 1-1-1-1zm17.5-.4l1 1 1-1 1 1-1 1 1 1-1 1-1-1-1 1-1-1 1-1-1-1zm10.1 3.2l1 1 1-1 1 1-1 1 1 1-1 1-1-1-1 1-1-1 1-1-1-1zm47 2.1l1 1 1-1 1 1-1 1 1 1-1 1-1-1-1 1-1-1 1-1-1-1zm-169.9 2.3l1 1 1-1 1 1-1 1 1 1-1 1-1-1-1 1-1-1 1-1-1-1zm6.5 2l1 1 1-1 1 1-1 1 1 1-1 1-1-1-1 1-1-1 1-1-1-1zm10.4-.1l1 1 1-1 1 1-1 1 1 1-1 1-1-1-1 1-1-1 1-1-1-1zm9.5 .3l1 1 1-1 1 1-1 1 1 1-1 1-1-1-1 1-1-1 1-1-1-1zm10.6-2.4l1 1 1-1 1 1-1 1 1 1-1 1-1-1-1 1-1-1 1-1-1-1zm9.5-.6l1 1 1-1 1 1-1 1 1 1-1 1-1-1-1 1-1-1 1-1-1-1zm5.7 2.1l1 1 1-1 1 1-1 1 1 1-1 1-1-1-1 1-1-1 1-1-1-1zm29.7 .8l1 1 1-1 1 1-1 1 1 1-1 1-1-1-1 1-1-1 1-1-1-1zm11.1-.4l1 1 1-1 1 1-1 1 1 1-1 1-1-1-1 1-1-1 1-1-1-1zm4.7 .4l1 1 1-1 1 1-1 1 1 1-1 1-1-1-1 1-1-1 1-1-1-1zm12.2-2l1 1 1-1 1 1-1 1 1 1-1 1-1-1-1 1-1-1 1-1-1-1zm24.6 0l1 1 1-1 1 1-1 1 1 1-1 1-1-1-1 1-1-1 1-1-1-1zm14.9-.6l1 1 1-1 1 1-1 1 1 1-1 1-1-1-1 1-1-1 1-1-1-1zm8 4.3l1 1 1-1 1 1-1 1 1 1-1 1-1-1-1 1-1-1 1-1-1-1zm-168.4 3.2l1 1 1-1 1 1-1 1 1 1-1 1-1-1-1 1-1-1 1-1-1-1zm12.4 1.4l1 1 1-1 1 1-1 1 1 1-1 1-1-1-1 1-1-1 1-1-1-1zm11.1-1.7l1 1 1-1 1 1-1 1 1 1-1 1-1-1-1 1-1-1 1-1-1-1zm47.2 3.2l1 1 1-1 1 1-1 1 1 1-1 1-1-1-1 1-1-1 1-1-1-1zm4.6-5l1 1 1-1 1 1-1 1 1 1-1 1-1-1-1 1-1-1 1-1-1-1zm7.6 2.6l1 1 1-1 1 1-1 1 1 1-1 1-1-1-1 1-1-1 1-1-1-1zm10.6-.7l1 1 1-1 1 1-1 1 1 1-1 1-1-1-1 1-1-1 1-1-1-1zm27.5-1l1 1 1-1 1 1-1 1 1 1-1 1-1-1-1 1-1-1 1-1-1-1zm10.6 .6l1 1 1-1 1 1-1 1 1 1-1 1-1-1-1 1-1-1 1-1-1-1zm9 3.6l1 1 1-1 1 1-1 1 1 1-1 1-1-1-1 1-1-1 1-1-1-1zm22.1-1.8l1 1 1-1 1 1-1 1 1 1-1 1-1-1-1 1-1-1 1-1-1-1zm-205.1 3.2l1 1 1-1 1 1-1 1 1 1-1 1-1-1-1 1-1-1 1-1-1-1zm20.2 2.8l1 1 1-1 1 1-1 1 1 1-1 1-1-1-1 1-1-1 1-1-1-1zm47.3-.9l1 1 1-1 1 1-1 1 1 1-1 1-1-1-1 1-1-1 1-1-1-1zm17.6 .9l1 1 1-1 1 1-1 1 1 1-1 1-1-1-1 1-1-1 1-1-1-1zm36.3-1.6l1 1 1-1 1 1-1 1 1 1-1 1-1-1-1 1-1-1 1-1-1-1zm19.5 .1l1 1 1-1 1 1-1 1 1 1-1 1-1-1-1 1-1-1 1-1-1-1zm9.1 1l1 1 1-1 1 1-1 1 1 1-1 1-1-1-1 1-1-1 1-1-1-1zm11.5-1.4l1 1 1-1 1 1-1 1 1 1-1 1-1-1-1 1-1-1 1-1-1-1zm6.4-1.2l1 1 1-1 1 1-1 1 1 1-1 1-1-1-1 1-1-1 1-1-1-1zm23.6 1.6l1 1 1-1 1 1-1 1 1 1-1 1-1-1-1 1-1-1 1-1-1-1zm-157.3 9.2l1 1 1-1 1 1-1 1 1 1-1 1-1-1-1 1-1-1 1-1-1-1zm26.2-.4l1 1 1-1 1 1-1 1 1 1-1 1-1-1-1 1-1-1 1-1-1-1zm37.6-4.3l1 1 1-1 1 1-1 1 1 1-1 1-1-1-1 1-1-1 1-1-1-1zm28.6 5.2l1 1 1-1 1 1-1 1 1 1-1 1-1-1-1 1-1-1 1-1-1-1zm.1-4.9l1 1 1-1 1 1-1 1 1 1-1 1-1-1-1 1-1-1 1-1-1-1zm11.2 3.4l1 1 1-1 1 1-1 1 1 1-1 1-1-1-1 1-1-1 1-1-1-1zm13.3-.2l1 1 1-1 1 1-1 1 1 1-1 1-1-1-1 1-1-1 1-1-1-1zm8.2-1l1 1 1-1 1 1-1 1 1 1-1 1-1-1-1 1-1-1 1-1-1-1zm7.6 1.3l1 1 1-1 1 1-1 1 1 1-1 1-1-1-1 1-1-1 1-1-1-1zm24.9 .7l1 1 1-1 1 1-1 1 1 1-1 1-1-1-1 1-1-1 1-1-1-1zm40.6-3.1l1 1 1-1 1 1-1 1 1 1-1 1-1-1-1 1-1-1 1-1-1-1zm-177.8 9.3l1 1 1-1 1 1-1 1 1 1-1 1-1-1-1 1-1-1 1-1-1-1zm24.9-4.2l1 1 1-1 1 1-1 1 1 1-1 1-1-1-1 1-1-1 1-1-1-1zm9.2-.7l1 1 1-1 1 1-1 1 1 1-1 1-1-1-1 1-1-1 1-1-1-1zm16.8 1.9l1 1 1-1 1 1-1 1 1 1-1 1-1-1-1 1-1-1 1-1-1-1zm31.4 1.2l1 1 1-1 1 1-1 1 1 1-1 1-1-1-1 1-1-1 1-1-1-1zm10.1 .9l1 1 1-1 1 1-1 1 1 1-1 1-1-1-1 1-1-1 1-1-1-1zm5-1l1 1 1-1 1 1-1 1 1 1-1 1-1-1-1 1-1-1 1-1-1-1zm8.2 1.7l1 1 1-1 1 1-1 1 1 1-1 1-1-1-1 1-1-1 1-1-1-1zm18.5-5.3l1 1 1-1 1 1-1 1 1 1-1 1-1-1-1 1-1-1 1-1-1-1zm32.4 3.9l1 1 1-1 1 1-1 1 1 1-1 1-1-1-1 1-1-1 1-1-1-1zm-96.4 5.7l1 1 1-1 1 1-1 1 1 1-1 1-1-1-1 1-1-1 1-1-1-1zm6.3-.7l1 1 1-1 1 1-1 1 1 1-1 1-1-1-1 1-1-1 1-1-1-1zm10.4-1.3l1 1 1-1 1 1-1 1 1 1-1 1-1-1-1 1-1-1 1-1-1-1zm14.2 4l1 1 1-1 1 1-1 1 1 1-1 1-1-1-1 1-1-1 1-1-1-1zm23.8-3.5l1 1 1-1 1 1-1 1 1 1-1 1-1-1-1 1-1-1 1-1-1-1zm40.2 1l1 1 1-1 1 1-1 1 1 1-1 1-1-1-1 1-1-1 1-1-1-1zm33.5-1.9l1 1 1-1 1 1-1 1 1 1-1 1-1-1-1 1-1-1 1-1-1-1zm-191.6 5.6l1 1 1-1 1 1-1 1 1 1-1 1-1-1-1 1-1-1 1-1-1-1zm9.5 3.6l1 1 1-1 1 1-1 1 1 1-1 1-1-1-1 1-1-1 1-1-1-1zm10.3-3.5l1 1 1-1 1 1-1 1 1 1-1 1-1-1-1 1-1-1 1-1-1-1zm16.8 3.4l1 1 1-1 1 1-1 1 1 1-1 1-1-1-1 1-1-1 1-1-1-1zm23.5 1.6l1 1 1-1 1 1-1 1 1 1-1 1-1-1-1 1-1-1 1-1-1-1zm24.6-1.7l1 1 1-1 1 1-1 1 1 1-1 1-1-1-1 1-1-1 1-1-1-1zm6.6 .5l1 1 1-1 1 1-1 1 1 1-1 1-1-1-1 1-1-1 1-1-1-1zm10.7 1l1 1 1-1 1 1-1 1 1 1-1 1-1-1-1 1-1-1 1-1-1-1zm33.7-2l1 1 1-1 1 1-1 1 1 1-1 1-1-1-1 1-1-1 1-1-1-1zm-150.1 3.8l1 1 1-1 1 1-1 1 1 1-1 1-1-1-1 1-1-1 1-1-1-1zm84.9 1.5l1 1 1-1 1 1-1 1 1 1-1 1-1-1-1 1-1-1 1-1-1-1zm50-.5l1 1 1-1 1 1-1 1 1 1-1 1-1-1-1 1-1-1 1-1-1-1zm10.8 1.9l1 1 1-1 1 1-1 1 1 1-1 1-1-1-1 1-1-1 1-1-1-1zm-73.7 4.9l1 1 1-1 1 1-1 1 1 1-1 1-1-1-1 1-1-1 1-1-1-1zm5 2l1 1 1-1 1 1-1 1 1 1-1 1-1-1-1 1-1-1 1-1-1-1zm46.9-5.2l1 1 1-1 1 1-1 1 1 1-1 1-1-1-1 1-1-1 1-1-1-1zm27.4 4.3l1 1 1-1 1 1-1 1 1 1-1 1-1-1-1 1-1-1 1-1-1-1zm20.2-4.3l1 1 1-1 1 1-1 1 1 1-1 1-1-1-1 1-1-1 1-1-1-1zm-152.9 11l1 1 1-1 1 1-1 1 1 1-1 1-1-1-1 1-1-1 1-1-1-1zm89.3-1l1 1 1-1 1 1-1 1 1 1-1 1-1-1-1 1-1-1 1-1-1-1zm31.1 1.3l1 1 1-1 1 1-1 1 1 1-1 1-1-1-1 1-1-1 1-1-1-1zm-86 3.3l1 1 1-1 1 1-1 1 1 1-1 1-1-1-1 1-1-1 1-1-1-1zm13 1.2l1 1 1-1 1 1-1 1 1 1-1 1-1-1-1 1-1-1 1-1-1-1zm43.6-.8l1 1 1-1 1 1-1 1 1 1-1 1-1-1-1 1-1-1 1-1-1-1zm-61.6 5.6l1 1 1-1 1 1-1 1 1 1-1 1-1-1-1 1-1-1 1-1-1-1zm5.3-.2l1 1 1-1 1 1-1 1 1 1-1 1-1-1-1 1-1-1 1-1-1-1zm24.1 1.9l1 1 1-1 1 1-1 1 1 1-1 1-1-1-1 1-1-1 1-1-1-1zm-30.1 5.3l1 1 1-1 1 1-1 1 1 1-1 1-1-1-1 1-1-1 1-1-1-1zm64.9 6.8l1 1 1-1 1 1-1 1 1 1-1 1-1-1-1 1-1-1 1-1-1-1zm-17.7 12.9l1 1 1-1 1 1-1 1 1 1-1 1-1-1-1 1-1-1 1-1-1-1z"/>
<path fill="#dd8452" d="M203 28.5l1 1 1-1 1 1-1 1 1 1-1 1-1-1-1 1-1-1 1-1-1-1zm49.2 29.1l1 1 1-1 1 1-1 1 1 1-1 1-1-1-1 1-1-1 1-1-1-1zm-16.2 8.4l1 1 1-1 1 1-1 1 1 1-1 1-1-1-1 1-1-1 1-1-1-1zm33.8-1.4l1 1 1-1 1 1-1 1 1 1-1 1-1-1-1 1-1-1 1-1-1-1zm-18.2 6.5l1 1 1-1 1 1-1 1 1 1-1 1-1-1-1 1-1-1 1-1-1-1zm-79.4 3.1l1 1 1-1 1 1-1 1 1 1-1 1-1-1-1 1-1-1 1-1-1-1zm22.1 2.7l1 1 1-1 1 1-1 1 1 1-1 1-1-1-1 1-1-1 1-1-1-1zm6-.6l1 1 1-1 1 1-1 1 1 1-1 1-1-1-1 1-1-1 1-1-1-1zm39.2 .7l1 1 1-1 1 1-1 1 1 1-1 1-1-1-1 1-1-1 1-1-1-1zm10.5 .9l1 1 1-1 1 1-1 1 1 1-1 1-1-1-1 1-1-1 1-1-1-1zm-101.6 4.8l1 1 1-1 1 1-1 1 1 1-1 1-1-1-1 1-1-1 1-1-1-1zm30-2.3l1 1 1-1 1 1-1 1 1 1-1 1-1-1-1 1-1-1 1-1-1-1zm39.2 2.6l1 1 1-1 1 1-1 1 1 1-1 1-1-1-1 1-1-1 1-1-1-1zm37.8-3.8l1 1 1-1 1 1-1 1 1 1-1 1-1-1-1 1-1-1 1-1-1-1zm6.3 4.1l1 1 1-1 1 1-1 1 1 1-1 1-1-1-1 1-1-1 1-1-1-1zm14.7 1.6l1 1 1-1 1 1-1 1 1 1-1 1-1-1-1 1-1-1 1-1-1-1zm5.9-3.2l1 1 1-1 1 1-1 1 1 1-1 1-1-1-1 1-1-1 1-1-1-1zm-98.5 5.4l1 1 1-1 1 1-1 1 1 1-1 1-1-1-1 1-1-1 1-1-1-1zm13.9 1l1 1 1-1 1 1-1 1 1 1-1 1-1-1-1 1-1-1 1-1-1-1zm11.3-1.5l1 1 1-1 1 1-1 1 1 1-1 1-1-1-1 1-1-1 1-1-1-1zm22.3 .9l1 1 1-1 1 1-1 1 1 1-1 1-1-1-1 1-1-1 1-1-1-1zm5.8 1.7l1 1 1-1 1 1-1 1 1 1-1 1-1-1-1 1-1-1 1-1-1-1zm16.9-.6l1 1 1-1 1 1-1 1 1 1-1 1-1-1-1 1-1-1 1-1-1-1zm28.1-1.4l1 1 1-1 1 1-1 1 1 1-1 1-1-1-1 1-1-1 1-1-1-1zm7.8 3.7l1 1 1-1 1 1-1 1 1 1-1 1-1-1-1 1-1-1 1-1-1-1zm20.9 .1l1 1 1-1 1 1-1 1 1 1-1 1-1-1-1 1-1-1 1-1-1-1zm9.3-4.7l1 1 1-1 1 1-1 1 1 1-1 1-1-1-1 1-1-1 1-1-1-1zm-143 5.9l1 1 1-1 1 1-1 1 1 1-1 1-1-1-1 1-1-1 1-1-1-1zm15.3-.2l1 1 1-1 1 1-1 1 1 1-1 1-1-1-1 1-1-1 1-1-1-1zm4.5 4l1 1 1-1 1 1-1 1 1 1-1 1-1-1-1 1-1-1 1-1-1-1zm8.7-4.3l1 1 1-1 1 1-1 1 1 1-1 1-1-1-1 1-1-1 1-1-1-1zm23.3 5l1 1 1-1 1 1-1 1 1 1-1 1-1-1-1 1-1-1 1-1-1-1zm7.8-1.7l1 1 1-1 1 1-1 1 1 1-1 1-1-1-1 1-1-1 1-1-1-1zm5 1.3l1 1 1-1 1 1-1 1 1 1-1 1-1-1-1 1-1-1 1-1-1-1zm18.4-4.5l1 1 1-1 1 1-1 1 1 1-1 1-1-1-1 1-1-1 1-1-1-1zm17.2 .5l1 1 1-1 1 1-1 1 1 1-1 1-1-1-1 1-1-1 1-1-1-1zm-102.2 7l1 1 1-1 1 1-1 1 1 1-1 1-1-1-1 1-1-1 1-1-1-1zm8.3-.5l1 1 1-1 1 1-1 1 1 1-1 1-1-1-1 1-1-1 1-1-1-1zm5.3 1l1 1 1-1 1 1-1 1 1 1-1 1-1-1-1 1-1-1 1-1-1-1zm10.2 2.3l1 1 1-1 1 1-1 1 1 1-1 1-1-1-1 1-1-1 1-1-1-1zm10.1 .4l1 1 1-1 1 1-1 1 1 1-1 1-1-1-1 1-1-1 1-1-1-1zm11.2-3.6l1 1 1-1 1 1-1 1 1 1-1 1-1-1-1 1-1-1 1-1-1-1zm14.8 1.1l1 1 1-1 1 1-1 1 1 1-1 1-1-1-1 1-1-1 1-1-1-1zm6.4 3l1 1 1-1 1 1-1 1 1 1-1 1-1-1-1 1-1-1 1-1-1-1zm5.8-.6l1 1 1-1 1 1-1 1 1 1-1 1-1-1-1 1-1-1 1-1-1-1zm9.5-4.4l1 1 1-1 1 1-1 1 1 1-1 1-1-1-1 1-1-1 1-1-1-1zm9.8 1.4l1 1 1-1 1 1-1 1 1 1-1 1-1-1-1 1-1-1 1-1-1-1zm9.7-1l1 1 1-1 1 1-1 1 1 1-1 1-1-1-1 1-1-1 1-1-1-1zm32.8 1.4l1 1 1-1 1 1-1 1 1 1-1 1-1-1-1 1-1-1 1-1-1-1zm-138 5.9l1 1 1-1 1 1-1 1 1 1-1 1-1-1-1 1-1-1 1-1-1-1zm11.7 1.3l1 1 1-1 1 1-1 1 1 1-1 1-1-1-1 1-1-1 1-1-1-1zm40.7-3l1 1 1-1 1 1-1 1 1 1-1 1-1-1-1 1-1-1 1-1-1-1zm8.2 .8l1 1 1-1 1 1-1 1 1 1-1 1-1-1-1 1-1-1 1-1-1-1zm30.3 2.5l1 1 1-1 1 1-1 1 1 1-1 1-1-1-1 1-1-1 1-1-1-1zm15-1.6l1 1 1-1 1 1-1 1 1 1-1 1-1-1-1 1-1-1 1-1-1-1zm5.1-.1l1 1 1-1 1 1-1 1 1 1-1 1-1-1-1 1-1-1 1-1-1-1zm8.9 .2l1 1 1-1 1 1-1 1 1 1-1 1-1-1-1 1-1-1 1-1-1-1zm6.6 .8l1 1 1-1 1 1-1 1 1 1-1 1-1-1-1 1-1-1 1-1-1-1zm7.1 1.8l1 1 1-1 1 1-1 1 1 1-1 1-1-1-1 1-1-1 1-1-1-1zm4.7-1.7l1 1 1-1 1 1-1 1 1 1-1 1-1-1-1 1-1-1 1-1-1-1zm5.1 2.3l1 1 1-1 1 1-1 1 1 1-1 1-1-1-1 1-1-1 1-1-1-1zm9.5-5.4l1 1 1-1 1 1-1 1 1 1-1 1-1-1-1 1-1-1 1-1-1-1zm-229.3 8.1l1 1 1-1 1 1-1 1 1 1-1 1-1-1-1 1-1-1 1-1-1-1zm47.2 3.3l1 1 1-1 1 1-1 1 1 1-1 1-1-1-1 1-1-1 1-1-1-1zm56-4.8l1 1 1-1 1 1-1 1 1 1-1 1-1-1-1 1-1-1 1-1-1-1zm4.4 .8l1 1 1-1 1 1-1 1 1 1-1 1-1-1-1 1-1-1 1-1-1-1zm5.3 2.7l1 1 1-1 1 1-1 1 1 1-1 1-1-1-1 1-1-1 1-1-1-1zm5.7-2.6l1 1 1-1 1 1-1 1 1 1-1 1-1-1-1 1-1-1 1-1-1-1zm4.7 3.2l1 1 1-1 1 1-1 1 1 1-1 1-1-1-1 1-1-1 1-1-1-1zm5.5-2l1 1 1-1 1 1-1 1 1 1-1 1-1-1-1 1-1-1 1-1-1-1zm9.2 2.8l1 1 1-1 1 1-1 1 1 1-1 1-1-1-1 1-1-1 1-1-1-1zm15.9-1.5l1 1 1-1 1 1-1 1 1 1-1 1-1-1-1 1-1-1 1-1-1-1zm9.3-1.2l1 1 1-1 1 1-1 1 1 1-1 1-1-1-1 1-1-1 1-1-1-1zm37.7-.8l1 1 1-1 1 1-1 1 1 1-1 1-1-1-1 1-1-1 1-1-1-1zm6.2 1.2l1 1 1-1 1 1-1 1 1 1-1 1-1-1-1 1-1-1 1-1-1-1zm25.1-.2l1 1 1-1 1 1-1 1 1 1-1 1-1-1-1 1-1-1 1-1-1-1zm-202.4 7l1 1 1-1 1 1-1 1 1 1-1 1-1-1-1 1-1-1 1-1-1-1zm21.5 .1l1 1 1-1 1 1-1 1 1 1-1 1-1-1-1 1-1-1 1-1-1-1zm40.7 .2l1 1 1-1 1 1-1 1 1 1-1 1-1-1-1 1-1-1 1-1-1-1zm16.9 .8l1 1 1-1 1 1-1 1 1 1-1 1-1-1-1 1-1-1 1-1-1-1zm8.8-3.6l1 1 1-1 1 1-1 1 1 1-1 1-1-1-1 1-1-1 1-1-1-1zm14.5 .7l1 1 1-1 1 1-1 1 1 1-1 1-1-1-1 1-1-1 1-1-1-1zm37.5 2.6l1 1 1-1 1 1-1 1 1 1-1 1-1-1-1 1-1-1 1-1-1-1zm15.7-3.2l1 1 1-1 1 1-1 1 1 1-1 1-1-1-1 1-1-1 1-1-1-1zm8 2.2l1 1 1-1 1 1-1 1 1 1-1 1-1-1-1 1-1-1 1-1-1-1zm-130.9 4.9l1 1 1-1 1 1-1 1 1 1-1 1-1-1-1 1-1-1 1-1-1-1zm17.8-2.9l1 1 1-1 1 1-1 1 1 1-1 1-1-1-1 1-1-1 1-1-1-1zm9.4 5.3l1 1 1-1 1 1-1 1 1 1-1 1-1-1-1 1-1-1 1-1-1-1zm28.4-.7l1 1 1-1 1 1-1 1 1 1-1 1-1-1-1 1-1-1 1-1-1-1zm12.6 .2l1 1 1-1 1 1-1 1 1 1-1 1-1-1-1 1-1-1 1-1-1-1zm10.3-3.7l1 1 1-1 1 1-1 1 1 1-1 1-1-1-1 1-1-1 1-1-1-1zm8 2.8l1 1 1-1 1 1-1 1 1 1-1 1-1-1-1 1-1-1 1-1-1-1zm14.7-1.7l1 1 1-1 1 1-1 1 1 1-1 1-1-1-1 1-1-1 1-1-1-1zm15.1-2.2l1 1 1-1 1 1-1 1 1 1-1 1-1-1-1 1-1-1 1-1-1-1zm11 3.3l1 1 1-1 1 1-1 1 1 1-1 1-1-1-1 1-1-1 1-1-1-1zm12.3-1.1l1 1 1-1 1 1-1 1 1 1-1 1-1-1-1 1-1-1 1-1-1-1zm14.4 2.8l1 1 1-1 1 1-1 1 1 1-1 1-1-1-1 1-1-1 1-1-1-1zm-133.6 3l1 1 1-1 1 1-1 1 1 1-1 1-1-1-1 1-1-1 1-1-1-1zm22-.8l1 1 1-1 1 1-1 1 1 1-1 1-1-1-1 1-1-1 1-1-1-1zm30.8 1.3l1 1 1-1 1 1-1 1 1 1-1 1-1-1-1 1-1-1 1-1-1-1zm8-.8l1 1 1-1 1 1-1 1 1 1-1 1-1-1-1 1-1-1 1-1-1-1zm25.5 2l1 1 1-1 1 1-1 1 1 1-1 1-1-1-1 1-1-1 1-1-1-1zm8.8-2.7l1 1 1-1 1 1-1 1 1 1-1 1-1-1-1 1-1-1 1-1-1-1zm12.2 1.4l1 1 1-1 1 1-1 1 1 1-1 1-1-1-1 1-1-1 1-1-1-1zm9.3 1.7l1 1 1-1 1 1-1 1 1 1-1 1-1-1-1 1-1-1 1-1-1-1zm27.9-2.7l1 1 1-1 1 1-1 1 1 1-1 1-1-1-1 1-1-1 1-1-1-1zm-198.9 9.7l1 1 1-1 1 1-1 1 1 1-1 1-1-1-1 1-1-1 1-1-1-1zm55.5-1.2l1 1 1-1 1 1-1 1 1 1-1 1-1-1-1 1-1-1 1-1-1-1zm32.4 1.2l1 1 1-1 1 1-1 1 1 1-1 1-1-1-1 1-1-1 1-1-1-1zm.2-4.4l1 1 1-1 1 1-1 1 1 1-1 1-1-1-1 1-1-1 1-1-1-1zm7.2-.9l1 1 1-1 1 1-1 1 1 1-1 1-1-1-1 1-1-1 1-1-1-1zm5.2 3.9l1 1 1-1 1 1-1 1 1 1-1 1-1-1-1 1-1-1 1-1-1-1zm11.7 1.9l1 1 1-1 1 1-1 1 1 1-1 1-1-1-1 1-1-1 1-1-1-1zm4.7-3.5l1 1 1-1 1 1-1 1 1 1-1 1-1-1-1 1-1-1 1-1-1-1zm13.7-1.3l1 1 1-1 1 1-1 1 1 1-1 1-1-1-1 1-1-1 1-1-1-1zm35 2.1l1 1 1-1 1 1-1 1 1 1-1 1-1-1-1 1-1-1 1-1-1-1zm13.6-.5l1 1 1-1 1 1-1 1 1 1-1 1-1-1-1 1-1-1 1-1-1-1zm13.1 1.3l1 1 1-1 1 1-1 1 1 1-1 1-1-1-1 1-1-1 1-1-1-1zm7.2-.9l1 1 1-1 1 1-1 1 1 1-1 1-1-1-1 1-1-1 1-1-1-1zm28.2 .9l1 1 1-1 1 1-1 1 1 1-1 1-1-1-1 1-1-1 1-1-1-1zm-202.9 4.5l1 1 1-1 1 1-1 1 1 1-1 1-1-1-1 1-1-1 1-1-1-1zm24.9 .2l1 1 1-1 1 1-1 1 1 1-1 1-1-1-1 1-1-1 1-1-1-1zm8.5 1.8l1 1 1-1 1 1-1 1 1 1-1 1-1-1-1 1-1-1 1-1-1-1zm9.5-.3l1 1 1-1 1 1-1 1 1 1-1 1-1-1-1 1-1-1 1-1-1-1zm11.9-1.8l1 1 1-1 1 1-1 1 1 1-1 1-1-1-1 1-1-1 1-1-1-1zm56.1-1.2l1 1 1-1 1 1-1 1 1 1-1 1-1-1-1 1-1-1 1-1-1-1zm18.9 1.6l1 1 1-1 1 1-1 1 1 1-1 1-1-1-1 1-1-1 1-1-1-1zm16.6-2.7l1 1 1-1 1 1-1 1 1 1-1 1-1-1-1 1-1-1 1-1-1-1zm8 3.5l1 1 1-1 1 1-1 1 1 1-1 1-1-1-1 1-1-1 1-1-1-1zm5.6-.5l1 1 1-1 1 1-1 1 1 1-1 1-1-1-1 1-1-1 1-1-1-1zm28.3-2.3l1 1 1-1 1 1-1 1 1 1-1 1-1-1-1 1-1-1 1-1-1-1zm13.3 4.9l1 1 1-1 1 1-1 1 1 1-1 1-1-1-1 1-1-1 1-1-1-1zm-254.8 4.6l1 1 1-1 1 1-1 1 1 1-1 1-1-1-1 1-1-1 1-1-1-1zm88.5 .5l1 1 1-1 1 1-1 1 1 1-1 1-1-1-1 1-1-1 1-1-1-1zm12.7-1.9l1 1 1-1 1 1-1 1 1 1-1 1-1-1-1 1-1-1 1-1-1-1zm31.8-.2l1 1 1-1 1 1-1 1 1 1-1 1-1-1-1 1-1-1 1-1-1-1zm10.5 2.6l1 1 1-1 1 1-1 1 1 1-1 1-1-1-1 1-1-1 1-1-1-1zm15.9 .1l1 1 1-1 1 1-1 1 1 1-1 1-1-1-1 1-1-1 1-1-1-1zm3.2-5l1 1 1-1 1 1-1 1 1 1-1 1-1-1-1 1-1-1 1-1-1-1zm2.1 5.2l1 1 1-1 1 1-1 1 1 1-1 1-1-1-1 1-1-1 1-1-1-1zm6.7-1.6l1 1 1-1 1 1-1 1 1 1-1 1-1-1-1 1-1-1 1-1-1-1zm26.5-3.8l1 1 1-1 1 1-1 1 1 1-1 1-1-1-1 1-1-1 1-1-1-1zm-172.5 6.5l1 1 1-1 1 1-1 1 1 1-1 1-1-1-1 1-1-1 1-1-1-1zm50.7 5.2l1 1 1-1 1 1-1 1 1 1-1 1-1-1-1 1-1-1 1-1-1-1zm9.5-.2l1 1 1-1 1 1-1 1 1 1-1 1-1-1-1 1-1-1 1-1-1-1zm6.5-1.5l1 1 1-1 1 1-1 1 1 1-1 1-1-1-1 1-1-1 1-1-1-1zm11.5 1.7l1 1 1-1 1 1-1 1 1 1-1 1-1-1-1 1-1-1 1-1-1-1zm19-4.6l1 1 1-1 1 1-1 1 1 1-1 1-1-1-1 1-1-1 1-1-1-1zm5.5 .8l1 1 1-1 1 1-1 1 1 1-1 1-1-1-1 1-1-1 1-1-1-1zm6.6 1l1 1 1-1 1 1-1 1 1 1-1 1-1-1-1 1-1-1 1-1-1-1zm52.1 2.2l1 1 1-1 1 1-1 1 1 1-1 1-1-1-1 1-1-1 1-1-1-1zm8.2-.3l1 1 1-1 1 1-1 1 1 1-1 1-1-1-1 1-1-1 1-1-1-1zm8.3-4.4l1 1 1-1 1 1-1 1 1 1-1 1-1-1-1 1-1-1 1-1-1-1zm4.9 1.6l1 1 1-1 1 1-1 1 1 1-1 1-1-1-1 1-1-1 1-1-1-1zm8.5 1.3l1 1 1-1 1 1-1 1 1 1-1 1-1-1-1 1-1-1 1-1-1-1zm7.9-1l1 1 1-1 1 1-1 1 1 1-1 1-1-1-1 1-1-1 1-1-1-1zm14.6-.9l1 1 1-1 1 1-1 1 1 1-1 1-1-1-1 1-1-1 1-1-1-1zm-226.3 7.5l1 1 1-1 1 1-1 1 1 1-1 1-1-1-1 1-1-1 1-1-1-1zm21.5-1.4l1 1 1-1 1 1-1 1 1 1-1 1-1-1-1 1-1-1 1-1-1-1zm17.2-.5l1 1 1-1 1 1-1 1 1 1-1 1-1-1-1 1-1-1 1-1-1-1zm58.2-.1l1 1 1-1 1 1-1 1 1 1-1 1-1-1-1 1-1-1 1-1-1-1zm21.6 4.5l1 1 1-1 1 1-1 1 1 1-1 1-1-1-1 1-1-1 1-1-1-1zm13-1.2l1 1 1-1 1 1-1 1 1 1-1 1-1-1-1 1-1-1 1-1-1-1zm28.2-3.9l1 1 1-1 1 1-1 1 1 1-1 1-1-1-1 1-1-1 1-1-1-1zm5.7 2.1l1 1 1-1 1 1-1 1 1 1-1 1-1-1-1 1-1-1 1-1-1-1zm44.6 .4l1 1 1-1 1 1-1 1 1 1-1 1-1-1-1 1-1-1 1-1-1-1zm-169.7 4.6l1 1 1-1 1 1-1 1 1 1-1 1-1-1-1 1-1-1 1-1-1-1zm6-1.3l1 1 1-1 1 1-1 1 1 1-1 1-1-1-1 1-1-1 1-1-1-1zm10.1 5.5l1 1 1-1 1 1-1 1 1 1-1 1-1-1-1 1-1-1 1-1-1-1zm8.6 0l1 1 1-1 1 1-1 1 1 1-1 1-1-1-1 1-1-1 1-1-1-1zm.4-5.4l1 1 1-1 1 1-1 1 1 1-1 1-1-1-1 1-1-1 1-1-1-1zm35.8 4.1l1 1 1-1 1 1-1 1 1 1-1 1-1-1-1 1-1-1 1-1-1-1zm6.1 0l1 1 1-1 1 1-1 1 1 1-1 1-1-1-1 1-1-1 1-1-1-1zm5-1.7l1 1 1-1 1 1-1 1 1 1-1 1-1-1-1 1-1-1 1-1-1-1zm6 1.7l1 1 1-1 1 1-1 1 1 1-1 1-1-1-1 1-1-1 1-1-1-1zm14.6-.5l1 1 1-1 1 1-1 1 1 1-1 1-1-1-1 1-1-1 1-1-1-1zm16.2-3.1l1 1 1-1 1 1-1 1 1 1-1 1-1-1-1 1-1-1 1-1-1-1zm15.1 4.4l1 1 1-1 1 1-1 1 1 1-1 1-1-1-1 1-1-1 1-1-1-1zm7.6-3.7l1 1 1-1 1 1-1 1 1 1-1 1-1-1-1 1-1-1 1-1-1-1zm23 2.4l1 1 1-1 1 1-1 1 1 1-1 1-1-1-1 1-1-1 1-1-1-1zm5.2-1l1 1 1-1 1 1-1 1 1 1-1 1-1-1-1 1-1-1 1-1-1-1zm7.7 .1l1 1 1-1 1 1-1 1 1 1-1 1-1-1-1 1-1-1 1-1-1-1zm15-.7l1 1 1-1 1 1-1 1 1 1-1 1-1-1-1 1-1-1 1-1-1-1zm18.5 1.8l1 1 1-1 1 1-1 1 1 1-1 1-1-1-1 1-1-1 1-1-1-1zm-195.3 6.4l1 1 1-1 1 1-1 1 1 1-1 1-1-1-1 1-1-1 1-1-1-1zm33.4 0l1 1 1-1 1 1-1 1 1 1-1 1-1-1-1 1-1-1 1-1-1-1zm8.3-4.6l1 1 1-1 1 1-1 1 1 1-1 1-1-1-1 1-1-1 1-1-1-1zm7.8 3.8l1 1 1-1 1 1-1 1 1 1-1 1-1-1-1 1-1-1 1-1-1-1zm32.1-2.5l1 1 1-1 1 1-1 1 1 1-1 1-1-1-1 1-1-1 1-1-1-1zm12.7-.8l1 1 1-1 1 1-1 1 1 1-1 1-1-1-1 1-1-1 1-1-1-1zm7.1 3.9l1 1 1-1 1 1-1 1 1 1-1 1-1-1-1 1-1-1 1-1-1-1zm12.2-4l1 1 1-1 1 1-1 1 1 1-1 1-1-1-1 1-1-1 1-1-1-1zm18 1.7l1 1 1-1 1 1-1 1 1 1-1 1-1-1-1 1-1-1 1-1-1-1zm16.3 2.9l1 1 1-1 1 1-1 1 1 1-1 1-1-1-1 1-1-1 1-1-1-1zm4.9-1.3l1 1 1-1 1 1-1 1 1 1-1 1-1-1-1 1-1-1 1-1-1-1zm15-3l1 1 1-1 1 1-1 1 1 1-1 1-1-1-1 1-1-1 1-1-1-1zm19.8 4.3l1 1 1-1 1 1-1 1 1 1-1 1-1-1-1 1-1-1 1-1-1-1zm-195.9 6.9l1 1 1-1 1 1-1 1 1 1-1 1-1-1-1 1-1-1 1-1-1-1zm18.4-.1l1 1 1-1 1 1-1 1 1 1-1 1-1-1-1 1-1-1 1-1-1-1zm3.7-5l1 1 1-1 1 1-1 1 1 1-1 1-1-1-1 1-1-1 1-1-1-1zm9.2 .3l1 1 1-1 1 1-1 1 1 1-1 1-1-1-1 1-1-1 1-1-1-1zm4.5 3.7l1 1 1-1 1 1-1 1 1 1-1 1-1-1-1 1-1-1 1-1-1-1zm11-2.9l1 1 1-1 1 1-1 1 1 1-1 1-1-1-1 1-1-1 1-1-1-1zm6-.1l1 1 1-1 1 1-1 1 1 1-1 1-1-1-1 1-1-1 1-1-1-1zm13.4-1.5l1 1 1-1 1 1-1 1 1 1-1 1-1-1-1 1-1-1 1-1-1-1zm2.2 5.3l1 1 1-1 1 1-1 1 1 1-1 1-1-1-1 1-1-1 1-1-1-1zm8.4-1.6l1 1 1-1 1 1-1 1 1 1-1 1-1-1-1 1-1-1 1-1-1-1zm5.4-.3l1 1 1-1 1 1-1 1 1 1-1 1-1-1-1 1-1-1 1-1-1-1zm11.8 2.1l1 1 1-1 1 1-1 1 1 1-1 1-1-1-1 1-1-1 1-1-1-1zm6.4-.5l1 1 1-1 1 1-1 1 1 1-1 1-1-1-1 1-1-1 1-1-1-1zm19.4-1.5l1 1 1-1 1 1-1 1 1 1-1 1-1-1-1 1-1-1 1-1-1-1zm4.8 1.3l1 1 1-1 1 1-1 1 1 1-1 1-1-1-1 1-1-1 1-1-1-1zm5.2-4.3l1 1 1-1 1 1-1 1 1 1-1 1-1-1-1 1-1-1 1-1-1-1zm20.6 2.8l1 1 1-1 1 1-1 1 1 1-1 1-1-1-1 1-1-1 1-1-1-1zm16.2-1.5l1 1 1-1 1 1-1 1 1 1-1 1-1-1-1 1-1-1 1-1-1-1zm14.3 1.1l1 1 1-1 1 1-1 1 1 1-1 1-1-1-1 1-1-1 1-1-1-1zm-229.8 6.8l1 1 1-1 1 1-1 1 1 1-1 1-1-1-1 1-1-1 1-1-1-1zm46.9 1.4l1 1 1-1 1 1-1 1 1 1-1 1-1-1-1 1-1-1 1-1-1-1zm8.8-.9l1 1 1-1 1 1-1 1 1 1-1 1-1-1-1 1-1-1 1-1-1-1zm19.6-2.3l1 1 1-1 1 1-1 1 1 1-1 1-1-1-1 1-1-1 1-1-1-1zm10.9 3.7l1 1 1-1 1 1-1 1 1 1-1 1-1-1-1 1-1-1 1-1-1-1zm15.4-5.4l1 1 1-1 1 1-1 1 1 1-1 1-1-1-1 1-1-1 1-1-1-1zm23.5 2.9l1 1 1-1 1 1-1 1 1 1-1 1-1-1-1 1-1-1 1-1-1-1zm28.2 1.3l1 1 1-1 1 1-1 1 1 1-1 1-1-1-1 1-1-1 1-1-1-1zm8.6-3.4l1 1 1-1 1 1-1 1 1 1-1 1-1-1-1 1-1-1 1-1-1-1zm33.8 1.3l1 1 1-1 1 1-1 1 1 1-1 1-1-1-1 1-1-1 1-1-1-1zm5.1 .3l1 1 1-1 1 1-1 1 1 1-1 1-1-1-1 1-1-1 1-1-1-1zm15.5-.4l1 1 1-1 1 1-1 1 1 1-1 1-1-1-1 1-1-1 1-1-1-1zm4.9-1l1 1 1-1 1 1-1 1 1 1-1 1-1-1-1 1-1-1 1-1-1-1zm-246.5 7.6l1 1 1-1 1 1-1 1 1 1-1 1-1-1-1 1-1-1 1-1-1-1zm42.6-1.7l1 1 1-1 1 1-1 1 1 1-1 1-1-1-1 1-1-1 1-1-1-1zm18.5-.7l1 1 1-1 1 1-1 1 1 1-1 1-1-1-1 1-1-1 1-1-1-1zm4.6 4.6l1 1 1-1 1 1-1 1 1 1-1 1-1-1-1 1-1-1 1-1-1-1zm15.5-.2l1 1 1-1 1 1-1 1 1 1-1 1-1-1-1 1-1-1 1-1-1-1zm8.2-2.8l1 1 1-1 1 1-1 1 1 1-1 1-1-1-1 1-1-1 1-1-1-1zm6 .2l1 1 1-1 1 1-1 1 1 1-1 1-1-1-1 1-1-1 1-1-1-1zm24.2-.6l1 1 1-1 1 1-1 1 1 1-1 1-1-1-1 1-1-1 1-1-1-1zm5.8 3.7l1 1 1-1 1 1-1 1 1 1-1 1-1-1-1 1-1-1 1-1-1-1zm3.5-5l1 1 1-1 1 1-1 1 1 1-1 1-1-1-1 1-1-1 1-1-1-1zm6-.5l1 1 1-1 1 1-1 1 1 1-1 1-1-1-1 1-1-1 1-1-1-1zm12.6 2.9l1 1 1-1 1 1-1 1 1 1-1 1-1-1-1 1-1-1 1-1-1-1zm18.6-.9l1 1 1-1 1 1-1 1 1 1-1 1-1-1-1 1-1-1 1-1-1-1zm20.9 1.6l1 1 1-1 1 1-1 1 1 1-1 1-1-1-1 1-1-1 1-1-1-1zm21.3-3.1l1 1 1-1 1 1-1 1 1 1-1 1-1-1-1 1-1-1 1-1-1-1zm6.5 3.7l1 1 1-1 1 1-1 1 1 1-1 1-1-1-1 1-1-1 1-1-1-1zm6.3 .8l1 1 1-1 1 1-1 1 1 1-1 1-1-1-1 1-1-1 1-1-1-1zm-161.3 1.4l1 1 1-1 1 1-1 1 1 1-1 1-1-1-1 1-1-1 1-1-1-1zm15.9-.3l1 1 1-1 1 1-1 1 1 1-1 1-1-1-1 1-1-1 1-1-1-1zm43.6 2.7l1 1 1-1 1 1-1 1 1 1-1 1-1-1-1 1-1-1 1-1-1-1zm7.5 2.2l1 1 1-1 1 1-1 1 1 1-1 1-1-1-1 1-1-1 1-1-1-1zm16.9 0l1 1 1-1 1 1-1 1 1 1-1 1-1-1-1 1-1-1 1-1-1-1zm14-2.6l1 1 1-1 1 1-1 1 1 1-1 1-1-1-1 1-1-1 1-1-1-1zm12.9 1.4l1 1 1-1 1 1-1 1 1 1-1 1-1-1-1 1-1-1 1-1-1-1zm6.7-2.3l1 1 1-1 1 1-1 1 1 1-1 1-1-1-1 1-1-1 1-1-1-1zm24.9-1.2l1 1 1-1 1 1-1 1 1 1-1 1-1-1-1 1-1-1 1-1-1-1zm45.4 .4l1 1 1-1 1 1-1 1 1 1-1 1-1-1-1 1-1-1 1-1-1-1zm2.3 4.9l1 1 1-1 1 1-1 1 1 1-1 1-1-1-1 1-1-1 1-1-1-1zm7.8 .1l1 1 1-1 1 1-1 1 1 1-1 1-1-1-1 1-1-1 1-1-1-1zm-193.3 5.4l1 1 1-1 1 1-1 1 1 1-1 1-1-1-1 1-1-1 1-1-1-1zm5.5-.8l1 1 1-1 1 1-1 1 1 1-1 1-1-1-1 1-1-1 1-1-1-1zm4.9-2.2l1 1 1-1 1 1-1 1 1 1-1 1-1-1-1 1-1-1 1-1-1-1zm4.7-.4l1 1 1-1 1 1-1 1 1 1-1 1-1-1-1 1-1-1 1-1-1-1zm7.1-.8l1 1 1-1 1 1-1 1 1 1-1 1-1-1-1 1-1-1 1-1-1-1zm13 2.6l1 1 1-1 1 1-1 1 1 1-1 1-1-1-1 1-1-1 1-1-1-1zm4.6-.8l1 1 1-1 1 1-1 1 1 1-1 1-1-1-1 1-1-1 1-1-1-1zm29.8 .1l1 1 1-1 1 1-1 1 1 1-1 1-1-1-1 1-1-1 1-1-1-1zm14.3 0l1 1 1-1 1 1-1 1 1 1-1 1-1-1-1 1-1-1 1-1-1-1zm10.8 1.8l1 1 1-1 1 1-1 1 1 1-1 1-1-1-1 1-1-1 1-1-1-1zm9.5 .2l1 1 1-1 1 1-1 1 1 1-1 1-1-1-1 1-1-1 1-1-1-1zm8.8 .8l1 1 1-1 1 1-1 1 1 1-1 1-1-1-1 1-1-1 1-1-1-1zm6-.6l1 1 1-1 1 1-1 1 1 1-1 1-1-1-1 1-1-1 1-1-1-1zm17.2 .1l1 1 1-1 1 1-1 1 1 1-1 1-1-1-1 1-1-1 1-1-1-1zm15.7-4.2l1 1 1-1 1 1-1 1 1 1-1 1-1-1-1 1-1-1 1-1-1-1zm-188.6 8.8l1 1 1-1 1 1-1 1 1 1-1 1-1-1-1 1-1-1 1-1-1-1zm4.6-3l1 1 1-1 1 1-1 1 1 1-1 1-1-1-1 1-1-1 1-1-1-1zm48.1 4.4l1 1 1-1 1 1-1 1 1 1-1 1-1-1-1 1-1-1 1-1-1-1zm42.6-3.6l1 1 1-1 1 1-1 1 1 1-1 1-1-1-1 1-1-1 1-1-1-1zm7.6 2.9l1 1 1-1 1 1-1 1 1 1-1 1-1-1-1 1-1-1 1-1-1-1zm14.5-1.8l1 1 1-1 1 1-1 1 1 1-1 1-1-1-1 1-1-1 1-1-1-1zm6.4 2.4l1 1 1-1 1 1-1 1 1 1-1 1-1-1-1 1-1-1 1-1-1-1zm12-.3l1 1 1-1 1 1-1 1 1 1-1 1-1-1-1 1-1-1 1-1-1-1zm8.9 .8l1 1 1-1 1 1-1 1 1 1-1 1-1-1-1 1-1-1 1-1-1-1zm22-5l1 1 1-1 1 1-1 1 1 1-1 1-1-1-1 1-1-1 1-1-1-1zm41.8 3.6l1 1 1-1 1 1-1 1 1 1-1 1-1-1-1 1-1-1 1-1-1-1zm9.3-3.4l1 1 1-1 1 1-1 1 1 1-1 1-1-1-1 1-1-1 1-1-1-1zm-194.1 8.3l1 1 1-1 1 1-1 1 1 1-1 1-1-1-1 1-1-1 1-1-1-1zm23.2-.3l1 1 1-1 1 1-1 1 1 1-1 1-1-1-1 1-1-1 1-1-1-1zm5.1 2.8l1 1 1-1 1 1-1 1 1 1-1 1-1-1-1 1-1-1 1-1-1-1zm8.2 .2l1 1 1-1 1 1-1 1 1 1-1 1-1-1-1 1-1-1 1-1-1-1zm14.2-5.3l1 1 1-1 1 1-1 1 1 1-1 1-1-1-1 1-1-1 1-1-1-1zm6.1-.2l1 1 1-1 1 1-1 1 1 1-1 1-1-1-1 1-1-1 1-1-1-1zm23.5 3.3l1 1 1-1 1 1-1 1 1 1-1 1-1-1-1 1-1-1 1-1-1-1zm31.4 .4l1 1 1-1 1 1-1 1 1 1-1 1-1-1-1 1-1-1 1-1-1-1zm4.9-2l1 1 1-1 1 1-1 1 1 1-1 1-1-1-1 1-1-1 1-1-1-1zm16.7 .8l1 1 1-1 1 1-1 1 1 1-1 1-1-1-1 1-1-1 1-1-1-1zm18.4-1.8l1 1 1-1 1 1-1 1 1 1-1 1-1-1-1 1-1-1 1-1-1-1zm8.2 4l1 1 1-1 1 1-1 1 1 1-1 1-1-1-1 1-1-1 1-1-1-1zm10.6-3.3l1 1 1-1 1 1-1 1 1 1-1 1-1-1-1 1-1-1 1-1-1-1zm6.5 3l1 1 1-1 1 1-1 1 1 1-1 1-1-1-1 1-1-1 1-1-1-1zm14.1-4.1l1 1 1-1 1 1-1 1 1 1-1 1-1-1-1 1-1-1 1-1-1-1zm-206.3 7.8l1 1 1-1 1 1-1 1 1 1-1 1-1-1-1 1-1-1 1-1-1-1zm13.2 .8l1 1 1-1 1 1-1 1 1 1-1 1-1-1-1 1-1-1 1-1-1-1zm10.6-1.8l1 1 1-1 1 1-1 1 1 1-1 1-1-1-1 1-1-1 1-1-1-1zm34.7 1.6l1 1 1-1 1 1-1 1 1 1-1 1-1-1-1 1-1-1 1-1-1-1zm22.8-1.7l1 1 1-1 1 1-1 1 1 1-1 1-1-1-1 1-1-1 1-1-1-1zm16.1 2l1 1 1-1 1 1-1 1 1 1-1 1-1-1-1 1-1-1 1-1-1-1zm15.2 2.1l1 1 1-1 1 1-1 1 1 1-1 1-1-1-1 1-1-1 1-1-1-1zm7.8 0l1 1 1-1 1 1-1 1 1 1-1 1-1-1-1 1-1-1 1-1-1-1zm14.9-.1l1 1 1-1 1 1-1 1 1 1-1 1-1-1-1 1-1-1 1-1-1-1zm19 .5l1 1 1-1 1 1-1 1 1 1-1 1-1-1-1 1-1-1 1-1-1-1zm22.6-2l1 1 1-1 1 1-1 1 1 1-1 1-1-1-1 1-1-1 1-1-1-1zm7.9 .7l1 1 1-1 1 1-1 1 1 1-1 1-1-1-1 1-1-1 1-1-1-1zm16.7-.3l1 1 1-1 1 1-1 1 1 1-1 1-1-1-1 1-1-1 1-1-1-1zm5.2-.1l1 1 1-1 1 1-1 1 1 1-1 1-1-1-1 1-1-1 1-1-1-1zm-180.8 6.1l1 1 1-1 1 1-1 1 1 1-1 1-1-1-1 1-1-1 1-1-1-1zm8.1-3.9l1 1 1-1 1 1-1 1 1 1-1 1-1-1-1 1-1-1 1-1-1-1zm6.8-.2l1 1 1-1 1 1-1 1 1 1-1 1-1-1-1 1-1-1 1-1-1-1zm32.3 3.2l1 1 1-1 1 1-1 1 1 1-1 1-1-1-1 1-1-1 1-1-1-1zm12.7 .4l1 1 1-1 1 1-1 1 1 1-1 1-1-1-1 1-1-1 1-1-1-1zm62.7-3.3l1 1 1-1 1 1-1 1 1 1-1 1-1-1-1 1-1-1 1-1-1-1zm72.2 .1l1 1 1-1 1 1-1 1 1 1-1 1-1-1-1 1-1-1 1-1-1-1zm-247.6 9.2l1 1 1-1 1 1-1 1 1 1-1 1-1-1-1 1-1-1 1-1-1-1zm61.1 .9l1 1 1-1 1 1-1 1 1 1-1 1-1-1-1 1-1-1 1-1-1-1zm9.7-2l1 1 1-1 1 1-1 1 1 1-1 1-1-1-1 1-1-1 1-1-1-1zm19.3 2.1l1 1 1-1 1 1-1 1 1 1-1 1-1-1-1 1-1-1 1-1-1-1zm10.3-2.7l1 1 1-1 1 1-1 1 1 1-1 1-1-1-1 1-1-1 1-1-1-1zm17.4-1.8l1 1 1-1 1 1-1 1 1 1-1 1-1-1-1 1-1-1 1-1-1-1zm12.6 4.6l1 1 1-1 1 1-1 1 1 1-1 1-1-1-1 1-1-1 1-1-1-1zm9.3 .8l1 1 1-1 1 1-1 1 1 1-1 1-1-1-1 1-1-1 1-1-1-1zm20.8-5.5l1 1 1-1 1 1-1 1 1 1-1 1-1-1-1 1-1-1 1-1-1-1zm6.9 5.4l1 1 1-1 1 1-1 1 1 1-1 1-1-1-1 1-1-1 1-1-1-1zm12.8-2.3l1 1 1-1 1 1-1 1 1 1-1 1-1-1-1 1-1-1 1-1-1-1zm8.8-2.6l1 1 1-1 1 1-1 1 1 1-1 1-1-1-1 1-1-1 1-1-1-1zm15.8 4.6l1 1 1-1 1 1-1 1 1 1-1 1-1-1-1 1-1-1 1-1-1-1zm5.5-4.5l1 1 1-1 1 1-1 1 1 1-1 1-1-1-1 1-1-1 1-1-1-1zm6.1 3.9l1 1 1-1 1 1-1 1 1 1-1 1-1-1-1 1-1-1 1-1-1-1zm7 .5l1 1 1-1 1 1-1 1 1 1-1 1-1-1-1 1-1-1 1-1-1-1zm41.4-1.2l1 1 1-1 1 1-1 1 1 1-1 1-1-1-1 1-1-1 1-1-1-1zm-155.7 2.2l1 1 1-1 1 1-1 1 1 1-1 1-1-1-1 1-1-1 1-1-1-1zm8.3 2.3l1 1 1-1 1 1-1 1 1 1-1 1-1-1-1 1-1-1 1-1-1-1zm6.1-1.3l1 1 1-1 1 1-1 1 1 1-1 1-1-1-1 1-1-1 1-1-1-1zm26.8-.7l1 1 1-1 1 1-1 1 1 1-1 1-1-1-1 1-1-1 1-1-1-1zm7.4 4.2l1 1 1-1 1 1-1 1 1 1-1 1-1-1-1 1-1-1 1-1-1-1zm36.9-.9l1 1 1-1 1 1-1 1 1 1-1 1-1-1-1 1-1-1 1-1-1-1zm24.5 .2l1 1 1-1 1 1-1 1 1 1-1 1-1-1-1 1-1-1 1-1-1-1zm-160.7 5.7l1 1 1-1 1 1-1 1 1 1-1 1-1-1-1 1-1-1 1-1-1-1zm21.2-.3l1 1 1-1 1 1-1 1 1 1-1 1-1-1-1 1-1-1 1-1-1-1zm27.8 1.1l1 1 1-1 1 1-1 1 1 1-1 1-1-1-1 1-1-1 1-1-1-1zm6.7-.3l1 1 1-1 1 1-1 1 1 1-1 1-1-1-1 1-1-1 1-1-1-1zm19.2 1.2l1 1 1-1 1 1-1 1 1 1-1 1-1-1-1 1-1-1 1-1-1-1zm21.2-.2l1 1 1-1 1 1-1 1 1 1-1 1-1-1-1 1-1-1 1-1-1-1zm18.6-.8l1 1 1-1 1 1-1 1 1 1-1 1-1-1-1 1-1-1 1-1-1-1zm38 .9l1 1 1-1 1 1-1 1 1 1-1 1-1-1-1 1-1-1 1-1-1-1zm14.2-3.6l1 1 1-1 1 1-1 1 1 1-1 1-1-1-1 1-1-1 1-1-1-1zm-146.4 6.2l1 1 1-1 1 1-1 1 1 1-1 1-1-1-1 1-1-1 1-1-1-1zm18.9-.2l1 1 1-1 1 1-1 1 1 1-1 1-1-1-1 1-1-1 1-1-1-1zm10 3.7l1 1 1-1 1 1-1 1 1 1-1 1-1-1-1 1-1-1 1-1-1-1zm18.8 0l1 1 1-1 1 1-1 1 1 1-1 1-1-1-1 1-1-1 1-1-1-1zm16.4-4.4l1 1 1-1 1 1-1 1 1 1-1 1-1-1-1 1-1-1 1-1-1-1zm19.6-.5l1 1 1-1 1 1-1 1 1 1-1 1-1-1-1 1-1-1 1-1-1-1zm22.3 .6l1 1 1-1 1 1-1 1 1 1-1 1-1-1-1 1-1-1 1-1-1-1zm10.4 .7l1 1 1-1 1 1-1 1 1 1-1 1-1-1-1 1-1-1 1-1-1-1zm7.9 .3l1 1 1-1 1 1-1 1 1 1-1 1-1-1-1 1-1-1 1-1-1-1zm-120.2 5.5l1 1 1-1 1 1-1 1 1 1-1 1-1-1-1 1-1-1 1-1-1-1zm38.1 3.4l1 1 1-1 1 1-1 1 1 1-1 1-1-1-1 1-1-1 1-1-1-1zm8.3-1l1 1 1-1 1 1-1 1 1 1-1 1-1-1-1 1-1-1 1-1-1-1zm12.7-3.2l1 1 1-1 1 1-1 1 1 1-1 1-1-1-1 1-1-1 1-1-1-1zm23.6 .6l1 1 1-1 1 1-1 1 1 1-1 1-1-1-1 1-1-1 1-1-1-1zm12.6-1.1l1 1 1-1 1 1-1 1 1 1-1 1-1-1-1 1-1-1 1-1-1-1zm-20 7.8l1 1 1-1 1 1-1 1 1 1-1 1-1-1-1 1-1-1 1-1-1-1zm17.7 .3l1 1 1-1 1 1-1 1 1 1-1 1-1-1-1 1-1-1 1-1-1-1zm-97.9 4l1 1 1-1 1 1-1 1 1 1-1 1-1-1-1 1-1-1 1-1-1-1zm16.1 .6l1 1 1-1 1 1-1 1 1 1-1 1-1-1-1 1-1-1 1-1-1-1zm10.9 1.2l1 1 1-1 1 1-1 1 1 1-1 1-1-1-1 1-1-1 1-1-1-1zm81.3 1l1 1 1-1 1 1-1 1 1 1-1 1-1-1-1 1-1-1 1-1-1-1zm6.7-.2l1 1 1-1 1 1-1 1 1 1-1 1-1-1-1 1-1-1 1-1-1-1zm-127.1 6.1l1 1 1-1 1 1-1 1 1 1-1 1-1-1-1 1-1-1 1-1-1-1zm48-1.2l1 1 1-1 1 1-1 1 1 1-1 1-1-1-1 1-1-1 1-1-1-1zm8.7 4.1l1 1 1-1 1 1-1 1 1 1-1 1-1-1-1 1-1-1 1-1-1-1zm11.3-2.8l1 1 1-1 1 1-1 1 1 1-1 1-1-1-1 1-1-1 1-1-1-1zm7.6-1.8l1 1 1-1 1 1-1 1 1 1-1 1-1-1-1 1-1-1 1-1-1-1zm12.2 1l1 1 1-1 1 1-1 1 1 1-1 1-1-1-1 1-1-1 1-1-1-1zm7.9 3.7l1 1 1-1 1 1-1 1 1 1-1 1-1-1-1 1-1-1 1-1-1-1zm60.6-.8l1 1 1-1 1 1-1 1 1 1-1 1-1-1-1 1-1-1 1-1-1-1zm-93.9 2.3l1 1 1-1 1 1-1 1 1 1-1 1-1-1-1 1-1-1 1-1-1-1zm6.8 3.2l1 1 1-1 1 1-1 1 1 1-1 1-1-1-1 1-1-1 1-1-1-1zm18.1 .3l1 1 1-1 1 1-1 1 1 1-1 1-1-1-1 1-1-1 1-1-1-1zm6.6-.3l1 1 1-1 1 1-1 1 1 1-1 1-1-1-1 1-1-1 1-1-1-1zm20.8-1.6l1 1 1-1 1 1-1 1 1 1-1 1-1-1-1 1-1-1 1-1-1-1zm43.3 1l1 1 1-1 1 1-1 1 1 1-1 1-1-1-1 1-1-1 1-1-1-1zm31.3 1.3l1 1 1-1 1 1-1 1 1 1-1 1-1-1-1 1-1-1 1-1-1-1zm-188.8 1.1l1 1 1-1 1 1-1 1 1 1-1 1-1-1-1 1-1-1 1-1-1-1zm54.2 3.6l1 1 1-1 1 1-1 1 1 1-1 1-1-1-1 1-1-1 1-1-1-1zm22.5 .6l1 1 1-1 1 1-1 1 1 1-1 1-1-1-1 1-1-1 1-1-1-1zm51.1 1.4l1 1 1-1 1 1-1 1 1 1-1 1-1-1-1 1-1-1 1-1-1-1zm2.3-4.7l1 1 1-1 1 1-1 1 1 1-1 1-1-1-1 1-1-1 1-1-1-1zm-76.3 7.2l1 1 1-1 1 1-1 1 1 1-1 1-1-1-1 1-1-1 1-1-1-1zm9.6 1.1l1 1 1-1 1 1-1 1 1 1-1 1-1-1-1 1-1-1 1-1-1-1zm24.8-2.4l1 1 1-1 1 1-1 1 1 1-1 1-1-1-1 1-1-1 1-1-1-1zm62.5 .7l1 1 1-1 1 1-1 1 1 1-1 1-1-1-1 1-1-1 1-1-1-1zm-99 9.6l1 1 1-1 1 1-1 1 1 1-1 1-1-1-1 1-1-1 1-1-1-1zm5.9-1.4l1 1 1-1 1 1-1 1 1 1-1 1-1-1-1 1-1-1 1-1-1-1zm92.2-3.2l1 1 1-1 1 1-1 1 1 1-1 1-1-1-1 1-1-1 1-1-1-1zm-56.9 8.1l1 1 1-1 1 1-1 1 1 1-1 1-1-1-1 1-1-1 1-1-1-1zm26.6-1.9l1 1 1-1 1 1-1 1 1 1-1 1-1-1-1 1-1-1 1-1-1-1zm-25.3 28l1 1 1-1 1 1-1 1 1 1-1 1-1-1-1 1-1-1 1-1-1-1z"/>
<path fill="#dd8452" d="M269.4 66l1 1 1-1 1 1-1 1 1 1-1 1-1-1-1 1-1-1 1-1-1-1zm-33.6 2.7l1 1 1-1 1 1-1 1 1 1-1 1-1-1-1 1-1-1 1-1-1-1zm13.2 1.5l1 1 1-1 1 1-1 1 1 1-1 1-1-1-1 1-1-1 1-1-1-1zm-69 8.1l1 1 1-1 1 1-1 1 1 1-1 1-1-1-1 1-1-1 1-1-1-1zm13.6-4.2l1 1 1-1 1 1-1 1 1 1-1 1-1-1-1 1-1-1 1-1-1-1zm-17.3 9.1l1 1 1-1 1 1-1 1 1 1-1 1-1-1-1 1-1-1 1-1-1-1zm14.8-2.3l1 1 1-1 1 1-1 1 1 1-1 1-1-1-1 1-1-1 1-1-1-1zm40.4 2.5l1 1 1-1 1 1-1 1 1 1-1 1-1-1-1 1-1-1 1-1-1-1zm20.7 1l1 1 1-1 1 1-1 1 1 1-1 1-1-1-1 1-1-1 1-1-1-1zm33.7-3.5l1 1 1-1 1 1-1 1 1 1-1 1-1-1-1 1-1-1 1-1-1-1zm35.5 1.3l1 1 1-1 1 1-1 1 1 1-1 1-1-1-1 1-1-1 1-1-1-1zm-137.5 8.1l1 1 1-1 1 1-1 1 1 1-1 1-1-1-1 1-1-1 1-1-1-1zm45.6-1l1 1 1-1 1 1-1 1 1 1-1 1-1-1-1 1-1-1 1-1-1-1zm28-2.3l1 1 1-1 1 1-1 1 1 1-1 1-1-1-1 1-1-1 1-1-1-1zm21.5 3.4l1 1 1-1 1 1-1 1 1 1-1 1-1-1-1 1-1-1 1-1-1-1zm15-.1l1 1 1-1 1 1-1 1 1 1-1 1-1-1-1 1-1-1 1-1-1-1zm-69.6 6.3l1 1 1-1 1 1-1 1 1 1-1 1-1-1-1 1-1-1 1-1-1-1zm29.5-1.3l1 1 1-1 1 1-1 1 1 1-1 1-1-1-1 1-1-1 1-1-1-1zm-63.8 7.5l1 1 1-1 1 1-1 1 1 1-1 1-1-1-1 1-1-1 1-1-1-1zm28-2.1l1 1 1-1 1 1-1 1 1 1-1 1-1-1-1 1-1-1 1-1-1-1zm16.5-3.5l1 1 1-1 1 1-1 1 1 1-1 1-1-1-1 1-1-1 1-1-1-1zm10.7 2l1 1 1-1 1 1-1 1 1 1-1 1-1-1-1 1-1-1 1-1-1-1zm4.6 1.4l1 1 1-1 1 1-1 1 1 1-1 1-1-1-1 1-1-1 1-1-1-1zm18.3 .6l1 1 1-1 1 1-1 1 1 1-1 1-1-1-1 1-1-1 1-1-1-1zm39.6-3.8l1 1 1-1 1 1-1 1 1 1-1 1-1-1-1 1-1-1 1-1-1-1zm11.8 4.2l1 1 1-1 1 1-1 1 1 1-1 1-1-1-1 1-1-1 1-1-1-1zm-149.6 4.5l1 1 1-1 1 1-1 1 1 1-1 1-1-1-1 1-1-1 1-1-1-1zm27.8 1.5l1 1 1-1 1 1-1 1 1 1-1 1-1-1-1 1-1-1 1-1-1-1zm36.6-2.9l1 1 1-1 1 1-1 1 1 1-1 1-1-1-1 1-1-1 1-1-1-1zm5.8 .7l1 1 1-1 1 1-1 1 1 1-1 1-1-1-1 1-1-1 1-1-1-1zm33.7 3l1 1 1-1 1 1-1 1 1 1-1 1-1-1-1 1-1-1 1-1-1-1zm10.9-3.8l1 1 1-1 1 1-1 1 1 1-1 1-1-1-1 1-1-1 1-1-1-1zm13.9-.4l1 1 1-1 1 1-1 1 1 1-1 1-1-1-1 1-1-1 1-1-1-1zm13.7-.1l1 1 1-1 1 1-1 1 1 1-1 1-1-1-1 1-1-1 1-1-1-1zm-106.3 7.4l1 1 1-1 1 1-1 1 1 1-1 1-1-1-1 1-1-1 1-1-1-1zm42.7-2l1 1 1-1 1 1-1 1 1 1-1 1-1-1-1 1-1-1 1-1-1-1zm6.4 2.1l1 1 1-1 1 1-1 1 1 1-1 1-1-1-1 1-1-1 1-1-1-1zm5.5-.5l1 1 1-1 1 1-1 1 1 1-1 1-1-1-1 1-1-1 1-1-1-1zm18.6 3.1l1 1 1-1 1 1-1 1 1 1-1 1-1-1-1 1-1-1 1-1-1-1zm26.1-1.1l1 1 1-1 1 1-1 1 1 1-1 1-1-1-1 1-1-1 1-1-1-1zm10.9-1.6l1 1 1-1 1 1-1 1 1 1-1 1-1-1-1 1-1-1 1-1-1-1zm-137.6 6.5l1 1 1-1 1 1-1 1 1 1-1 1-1-1-1 1-1-1 1-1-1-1zm9-.6l1 1 1-1 1 1-1 1 1 1-1 1-1-1-1 1-1-1 1-1-1-1zm19.2-.3l1 1 1-1 1 1-1 1 1 1-1 1-1-1-1 1-1-1 1-1-1-1zm5.1 3.1l1 1 1-1 1 1-1 1 1 1-1 1-1-1-1 1-1-1 1-1-1-1zm4.9-1.9l1 1 1-1 1 1-1 1 1 1-1 1-1-1-1 1-1-1 1-1-1-1zm6.9 .3l1 1 1-1 1 1-1 1 1 1-1 1-1-1-1 1-1-1 1-1-1-1zm8 2.2l1 1 1-1 1 1-1 1 1 1-1 1-1-1-1 1-1-1 1-1-1-1zm5.1-1.2l1 1 1-1 1 1-1 1 1 1-1 1-1-1-1 1-1-1 1-1-1-1zm9-2.4l1 1 1-1 1 1-1 1 1 1-1 1-1-1-1 1-1-1 1-1-1-1zm13.3 2.9l1 1 1-1 1 1-1 1 1 1-1 1-1-1-1 1-1-1 1-1-1-1zm33.2 .3l1 1 1-1 1 1-1 1 1 1-1 1-1-1-1 1-1-1 1-1-1-1zm4.5-.1l1 1 1-1 1 1-1 1 1 1-1 1-1-1-1 1-1-1 1-1-1-1zm32.6-4.4l1 1 1-1 1 1-1 1 1 1-1 1-1-1-1 1-1-1 1-1-1-1zm-207.7 6l1 1 1-1 1 1-1 1 1 1-1 1-1-1-1 1-1-1 1-1-1-1zm59.6 .5l1 1 1-1 1 1-1 1 1 1-1 1-1-1-1 1-1-1 1-1-1-1zm60.4 .9l1 1 1-1 1 1-1 1 1 1-1 1-1-1-1 1-1-1 1-1-1-1zm19 1.6l1 1 1-1 1 1-1 1 1 1-1 1-1-1-1 1-1-1 1-1-1-1zm19.2-3.6l1 1 1-1 1 1-1 1 1 1-1 1-1-1-1 1-1-1 1-1-1-1zm20.5 4.4l1 1 1-1 1 1-1 1 1 1-1 1-1-1-1 1-1-1 1-1-1-1zm17.6-.1l1 1 1-1 1 1-1 1 1 1-1 1-1-1-1 1-1-1 1-1-1-1zm-129.9 3.7l1 1 1-1 1 1-1 1 1 1-1 1-1-1-1 1-1-1 1-1-1-1zm8.1 .3l1 1 1-1 1 1-1 1 1 1-1 1-1-1-1 1-1-1 1-1-1-1zm5 1.1l1 1 1-1 1 1-1 1 1 1-1 1-1-1-1 1-1-1 1-1-1-1zm10.9 1l1 1 1-1 1 1-1 1 1 1-1 1-1-1-1 1-1-1 1-1-1-1zm5.8-1.3l1 1 1-1 1 1-1 1 1 1-1 1-1-1-1 1-1-1 1-1-1-1zm26.7-1.5l1 1 1-1 1 1-1 1 1 1-1 1-1-1-1 1-1-1 1-1-1-1zm16.7 .4l1 1 1-1 1 1-1 1 1 1-1 1-1-1-1 1-1-1 1-1-1-1zm20.3-.8l1 1 1-1 1 1-1 1 1 1-1 1-1-1-1 1-1-1 1-1-1-1zm2.5 4.4l1 1 1-1 1 1-1 1 1 1-1 1-1-1-1 1-1-1 1-1-1-1zm9.9-4.9l1 1 1-1 1 1-1 1 1 1-1 1-1-1-1 1-1-1 1-1-1-1zm18 1.9l1 1 1-1 1 1-1 1 1 1-1 1-1-1-1 1-1-1 1-1-1-1zm10.4-1.7l1 1 1-1 1 1-1 1 1 1-1 1-1-1-1 1-1-1 1-1-1-1zm-139.7 5.1l1 1 1-1 1 1-1 1 1 1-1 1-1-1-1 1-1-1 1-1-1-1zm32.4 3l1 1 1-1 1 1-1 1 1 1-1 1-1-1-1 1-1-1 1-1-1-1zm10.8 2.3l1 1 1-1 1 1-1 1 1 1-1 1-1-1-1 1-1-1 1-1-1-1zm11.1-1.5l1 1 1-1 1 1-1 1 1 1-1 1-1-1-1 1-1-1 1-1-1-1zm15.8 .3l1 1 1-1 1 1-1 1 1 1-1 1-1-1-1 1-1-1 1-1-1-1zm39.6-3.9l1 1 1-1 1 1-1 1 1 1-1 1-1-1-1 1-1-1 1-1-1-1zm27.3 4.6l1 1 1-1 1 1-1 1 1 1-1 1-1-1-1 1-1-1 1-1-1-1zm5.7-.5l1 1 1-1 1 1-1 1 1 1-1 1-1-1-1 1-1-1 1-1-1-1zm-174.9 4.9l1 1 1-1 1 1-1 1 1 1-1 1-1-1-1 1-1-1 1-1-1-1zm19.8-2.9l1 1 1-1 1 1-1 1 1 1-1 1-1-1-1 1-1-1 1-1-1-1zm29.2 1.9l1 1 1-1 1 1-1 1 1 1-1 1-1-1-1 1-1-1 1-1-1-1zm5.8 0l1 1 1-1 1 1-1 1 1 1-1 1-1-1-1 1-1-1 1-1-1-1zm86.5-.7l1 1 1-1 1 1-1 1 1 1-1 1-1-1-1 1-1-1 1-1-1-1zm8.3-.5l1 1 1-1 1 1-1 1 1 1-1 1-1-1-1 1-1-1 1-1-1-1zm4.9 1l1 1 1-1 1 1-1 1 1 1-1 1-1-1-1 1-1-1 1-1-1-1zm48.2 .1l1 1 1-1 1 1-1 1 1 1-1 1-1-1-1 1-1-1 1-1-1-1zm-159.7 8.1l1 1 1-1 1 1-1 1 1 1-1 1-1-1-1 1-1-1 1-1-1-1zm5.3-1.1l1 1 1-1 1 1-1 1 1 1-1 1-1-1-1 1-1-1 1-1-1-1zm16.4 .6l1 1 1-1 1 1-1 1 1 1-1 1-1-1-1 1-1-1 1-1-1-1zm23.6-1.8l1 1 1-1 1 1-1 1 1 1-1 1-1-1-1 1-1-1 1-1-1-1zm12.1-.1l1 1 1-1 1 1-1 1 1 1-1 1-1-1-1 1-1-1 1-1-1-1zm11.3 2.4l1 1 1-1 1 1-1 1 1 1-1 1-1-1-1 1-1-1 1-1-1-1zm6.3-1l1 1 1-1 1 1-1 1 1 1-1 1-1-1-1 1-1-1 1-1-1-1zm10.8-3l1 1 1-1 1 1-1 1 1 1-1 1-1-1-1 1-1-1 1-1-1-1zm19.8 .3l1 1 1-1 1 1-1 1 1 1-1 1-1-1-1 1-1-1 1-1-1-1zm9.7 .4l1 1 1-1 1 1-1 1 1 1-1 1-1-1-1 1-1-1 1-1-1-1zm27.7 2.2l1 1 1-1 1 1-1 1 1 1-1 1-1-1-1 1-1-1 1-1-1-1zm-156.2 3l1 1 1-1 1 1-1 1 1 1-1 1-1-1-1 1-1-1 1-1-1-1zm21 3.1l1 1 1-1 1 1-1 1 1 1-1 1-1-1-1 1-1-1 1-1-1-1zm15.1 1.2l1 1 1-1 1 1-1 1 1 1-1 1-1-1-1 1-1-1 1-1-1-1zm8.3 .4l1 1 1-1 1 1-1 1 1 1-1 1-1-1-1 1-1-1 1-1-1-1zm5.4-4.5l1 1 1-1 1 1-1 1 1 1-1 1-1-1-1 1-1-1 1-1-1-1zm24.1 3.1l1 1 1-1 1 1-1 1 1 1-1 1-1-1-1 1-1-1 1-1-1-1zm10.7 1.3l1 1 1-1 1 1-1 1 1 1-1 1-1-1-1 1-1-1 1-1-1-1zm5.2 0l1 1 1-1 1 1-1 1 1 1-1 1-1-1-1 1-1-1 1-1-1-1zm9.9-2.3l1 1 1-1 1 1-1 1 1 1-1 1-1-1-1 1-1-1 1-1-1-1zm10.8-1.4l1 1 1-1 1 1-1 1 1 1-1 1-1-1-1 1-1-1 1-1-1-1zm45.3 .7l1 1 1-1 1 1-1 1 1 1-1 1-1-1-1 1-1-1 1-1-1-1zm-162.5 4.6l1 1 1-1 1 1-1 1 1 1-1 1-1-1-1 1-1-1 1-1-1-1zm9.6 .6l1 1 1-1 1 1-1 1 1 1-1 1-1-1-1 1-1-1 1-1-1-1zm23.6-.9l1 1 1-1 1 1-1 1 1 1-1 1-1-1-1 1-1-1 1-1-1-1zm15.7 3.5l1 1 1-1 1 1-1 1 1 1-1 1-1-1-1 1-1-1 1-1-1-1zm13.3 1.7l1 1 1-1 1 1-1 1 1 1-1 1-1-1-1 1-1-1 1-1-1-1zm5.5-3l1 1 1-1 1 1-1 1 1 1-1 1-1-1-1 1-1-1 1-1-1-1zm13 1.4l1 1 1-1 1 1-1 1 1 1-1 1-1-1-1 1-1-1 1-1-1-1zm9.3-.1l1 1 1-1 1 1-1 1 1 1-1 1-1-1-1 1-1-1 1-1-1-1zm11 1.6l1 1 1-1 1 1-1 1 1 1-1 1-1-1-1 1-1-1 1-1-1-1zm8.6-2.5l1 1 1-1 1 1-1 1 1 1-1 1-1-1-1 1-1-1 1-1-1-1zm10.7 .4l1 1 1-1 1 1-1 1 1 1-1 1-1-1-1 1-1-1 1-1-1-1zm21-1.1l1 1 1-1 1 1-1 1 1 1-1 1-1-1-1 1-1-1 1-1-1-1zm13 3.1l1 1 1-1 1 1-1 1 1 1-1 1-1-1-1 1-1-1 1-1-1-1zm-134.7 4.1l1 1 1-1 1 1-1 1 1 1-1 1-1-1-1 1-1-1 1-1-1-1zm19.4-2.2l1 1 1-1 1 1-1 1 1 1-1 1-1-1-1 1-1-1 1-1-1-1zm11.2 1.7l1 1 1-1 1 1-1 1 1 1-1 1-1-1-1 1-1-1 1-1-1-1zm28.5 2.3l1 1 1-1 1 1-1 1 1 1-1 1-1-1-1 1-1-1 1-1-1-1zm33.6-.3l1 1 1-1 1 1-1 1 1 1-1 1-1-1-1 1-1-1 1-1-1-1zm24.9-.8l1 1 1-1 1 1-1 1 1 1-1 1-1-1-1 1-1-1 1-1-1-1zm9.8-.9l1 1 1-1 1 1-1 1 1 1-1 1-1-1-1 1-1-1 1-1-1-1zm12.9 .1l1 1 1-1 1 1-1 1 1 1-1 1-1-1-1 1-1-1 1-1-1-1zm11.5-2.2l1 1 1-1 1 1-1 1 1 1-1 1-1-1-1 1-1-1 1-1-1-1zm7.9 2.8l1 1 1-1 1 1-1 1 1 1-1 1-1-1-1 1-1-1 1-1-1-1zm-197.7 4.1l1 1 1-1 1 1-1 1 1 1-1 1-1-1-1 1-1-1 1-1-1-1zm8.5 .6l1 1 1-1 1 1-1 1 1 1-1 1-1-1-1 1-1-1 1-1-1-1zm9.3 2.3l1 1 1-1 1 1-1 1 1 1-1 1-1-1-1 1-1-1 1-1-1-1zm11.6-4.4l1 1 1-1 1 1-1 1 1 1-1 1-1-1-1 1-1-1 1-1-1-1zm7.6 2l1 1 1-1 1 1-1 1 1 1-1 1-1-1-1 1-1-1 1-1-1-1zm8.6-.3l1 1 1-1 1 1-1 1 1 1-1 1-1-1-1 1-1-1 1-1-1-1zm12.9 1.3l1 1 1-1 1 1-1 1 1 1-1 1-1-1-1 1-1-1 1-1-1-1zm35.6 .9l1 1 1-1 1 1-1 1 1 1-1 1-1-1-1 1-1-1 1-1-1-1zm25.1-3.7l1 1 1-1 1 1-1 1 1 1-1 1-1-1-1 1-1-1 1-1-1-1zm6.4 .2l1 1 1-1 1 1-1 1 1 1-1 1-1-1-1 1-1-1 1-1-1-1zm13.6 4.7l1 1 1-1 1 1-1 1 1 1-1 1-1-1-1 1-1-1 1-1-1-1zm6.2-5.1l1 1 1-1 1 1-1 1 1 1-1 1-1-1-1 1-1-1 1-1-1-1zm8.8 3.2l1 1 1-1 1 1-1 1 1 1-1 1-1-1-1 1-1-1 1-1-1-1zm9.4-1.2l1 1 1-1 1 1-1 1 1 1-1 1-1-1-1 1-1-1 1-1-1-1zm22.2-.4l1 1 1-1 1 1-1 1 1 1-1 1-1-1-1 1-1-1 1-1-1-1zm-172.9 7.3l1 1 1-1 1 1-1 1 1 1-1 1-1-1-1 1-1-1 1-1-1-1zm16.4-2.5l1 1 1-1 1 1-1 1 1 1-1 1-1-1-1 1-1-1 1-1-1-1zm5.7 3.8l1 1 1-1 1 1-1 1 1 1-1 1-1-1-1 1-1-1 1-1-1-1zm5.3 .6l1 1 1-1 1 1-1 1 1 1-1 1-1-1-1 1-1-1 1-1-1-1zm5.9-4.3l1 1 1-1 1 1-1 1 1 1-1 1-1-1-1 1-1-1 1-1-1-1zm19.6 .5l1 1 1-1 1 1-1 1 1 1-1 1-1-1-1 1-1-1 1-1-1-1zm8.1 0l1 1 1-1 1 1-1 1 1 1-1 1-1-1-1 1-1-1 1-1-1-1zm6.9 3.1l1 1 1-1 1 1-1 1 1 1-1 1-1-1-1 1-1-1 1-1-1-1zm25.8-3.1l1 1 1-1 1 1-1 1 1 1-1 1-1-1-1 1-1-1 1-1-1-1zm5.2-.1l1 1 1-1 1 1-1 1 1 1-1 1-1-1-1 1-1-1 1-1-1-1zm34.3 .6l1 1 1-1 1 1-1 1 1 1-1 1-1-1-1 1-1-1 1-1-1-1zm7.3 .3l1 1 1-1 1 1-1 1 1 1-1 1-1-1-1 1-1-1 1-1-1-1zm-208.9 8.8l1 1 1-1 1 1-1 1 1 1-1 1-1-1-1 1-1-1 1-1-1-1zm42.6-3.5l1 1 1-1 1 1-1 1 1 1-1 1-1-1-1 1-1-1 1-1-1-1zm10 .5l1 1 1-1 1 1-1 1 1 1-1 1-1-1-1 1-1-1 1-1-1-1zm11 1.5l1 1 1-1 1 1-1 1 1 1-1 1-1-1-1 1-1-1 1-1-1-1zm20-2l1 1 1-1 1 1-1 1 1 1-1 1-1-1-1 1-1-1 1-1-1-1zm22.1 1.8l1 1 1-1 1 1-1 1 1 1-1 1-1-1-1 1-1-1 1-1-1-1zm19.3 .5l1 1 1-1 1 1-1 1 1 1-1 1-1-1-1 1-1-1 1-1-1-1zm17.9-2.1l1 1 1-1 1 1-1 1 1 1-1 1-1-1-1 1-1-1 1-1-1-1zm12.1-.1l1 1 1-1 1 1-1 1 1 1-1 1-1-1-1 1-1-1 1-1-1-1zm11.2 1.4l1 1 1-1 1 1-1 1 1 1-1 1-1-1-1 1-1-1 1-1-1-1zm6.8-2.3l1 1 1-1 1 1-1 1 1 1-1 1-1-1-1 1-1-1 1-1-1-1zm5.7 2.3l1 1 1-1 1 1-1 1 1 1-1 1-1-1-1 1-1-1 1-1-1-1zm21.5 2.5l1 1 1-1 1 1-1 1 1 1-1 1-1-1-1 1-1-1 1-1-1-1zm-228.3 4.7l1 1 1-1 1 1-1 1 1 1-1 1-1-1-1 1-1-1 1-1-1-1zm37.8 .4l1 1 1-1 1 1-1 1 1 1-1 1-1-1-1 1-1-1 1-1-1-1zm29.8-.8l1 1 1-1 1 1-1 1 1 1-1 1-1-1-1 1-1-1 1-1-1-1zm8.9-.6l1 1 1-1 1 1-1 1 1 1-1 1-1-1-1 1-1-1 1-1-1-1zm20.6-2l1 1 1-1 1 1-1 1 1 1-1 1-1-1-1 1-1-1 1-1-1-1zm10.6-1.2l1 1 1-1 1 1-1 1 1 1-1 1-1-1-1 1-1-1 1-1-1-1zm36.5 5.3l1 1 1-1 1 1-1 1 1 1-1 1-1-1-1 1-1-1 1-1-1-1zm16.8-.3l1 1 1-1 1 1-1 1 1 1-1 1-1-1-1 1-1-1 1-1-1-1zm9.3 .9l1 1 1-1 1 1-1 1 1 1-1 1-1-1-1 1-1-1 1-1-1-1zm10.3-.6l1 1 1-1 1 1-1 1 1 1-1 1-1-1-1 1-1-1 1-1-1-1zm7 .7l1 1 1-1 1 1-1 1 1 1-1 1-1-1-1 1-1-1 1-1-1-1zm25.6-5.3l1 1 1-1 1 1-1 1 1 1-1 1-1-1-1 1-1-1 1-1-1-1zm30.5 1.9l1 1 1-1 1 1-1 1 1 1-1 1-1-1-1 1-1-1 1-1-1-1zm-186.6 6.1l1 1 1-1 1 1-1 1 1 1-1 1-1-1-1 1-1-1 1-1-1-1zm8.2 .5l1 1 1-1 1 1-1 1 1 1-1 1-1-1-1 1-1-1 1-1-1-1zm19 .1l1 1 1-1 1 1-1 1 1 1-1 1-1-1-1 1-1-1 1-1-1-1zm18.1 1.3l1 1 1-1 1 1-1 1 1 1-1 1-1-1-1 1-1-1 1-1-1-1zm4.6 1.4l1 1 1-1 1 1-1 1 1 1-1 1-1-1-1 1-1-1 1-1-1-1zm9.4-4.5l1 1 1-1 1 1-1 1 1 1-1 1-1-1-1 1-1-1 1-1-1-1zm12.4 1.2l1 1 1-1 1 1-1 1 1 1-1 1-1-1-1 1-1-1 1-1-1-1zm19.8 2.2l1 1 1-1 1 1-1 1 1 1-1 1-1-1-1 1-1-1 1-1-1-1zm5.8-.7l1 1 1-1 1 1-1 1 1 1-1 1-1-1-1 1-1-1 1-1-1-1zm5.1-.6l1 1 1-1 1 1-1 1 1 1-1 1-1-1-1 1-1-1 1-1-1-1zm58.6-1.6l1 1 1-1 1 1-1 1 1 1-1 1-1-1-1 1-1-1 1-1-1-1zm5.1-1.2l1 1 1-1 1 1-1 1 1 1-1 1-1-1-1 1-1-1 1-1-1-1zm-163.5 9.9l1 1 1-1 1 1-1 1 1 1-1 1-1-1-1 1-1-1 1-1-1-1zm29.9-4.6l1 1 1-1 1 1-1 1 1 1-1 1-1-1-1 1-1-1 1-1-1-1zm5.2 5.2l1 1 1-1 1 1-1 1 1 1-1 1-1-1-1 1-1-1 1-1-1-1zm19.5-4.4l1 1 1-1 1 1-1 1 1 1-1 1-1-1-1 1-1-1 1-1-1-1zm8.5 3.3l1 1 1-1 1 1-1 1 1 1-1 1-1-1-1 1-1-1 1-1-1-1zm13 .1l1 1 1-1 1 1-1 1 1 1-1 1-1-1-1 1-1-1 1-1-1-1zm55.5-1.1l1 1 1-1 1 1-1 1 1 1-1 1-1-1-1 1-1-1 1-1-1-1zm12.1 2.6l1 1 1-1 1 1-1 1 1 1-1 1-1-1-1 1-1-1 1-1-1-1zm9.7-4l1 1 1-1 1 1-1 1 1 1-1 1-1-1-1 1-1-1 1-1-1-1zm6.2 2.9l1 1 1-1 1 1-1 1 1 1-1 1-1-1-1 1-1-1 1-1-1-1zm28.6-3.3l1 1 1-1 1 1-1 1 1 1-1 1-1-1-1 1-1-1 1-1-1-1zm-223.4 9.2l1 1 1-1 1 1-1 1 1 1-1 1-1-1-1 1-1-1 1-1-1-1zm58.2-4.4l1 1 1-1 1 1-1 1 1 1-1 1-1-1-1 1-1-1 1-1-1-1zm15.9 3.9l1 1 1-1 1 1-1 1 1 1-1 1-1-1-1 1-1-1 1-1-1-1zm13.1-1.3l1 1 1-1 1 1-1 1 1 1-1 1-1-1-1 1-1-1 1-1-1-1zm17.4-1.6l1 1 1-1 1 1-1 1 1 1-1 1-1-1-1 1-1-1 1-1-1-1zm42.8-.2l1 1 1-1 1 1-1 1 1 1-1 1-1-1-1 1-1-1 1-1-1-1zm19.9 3l1 1 1-1 1 1-1 1 1 1-1 1-1-1-1 1-1-1 1-1-1-1zm33.7 1.9l1 1 1-1 1 1-1 1 1 1-1 1-1-1-1 1-1-1 1-1-1-1zm21.6-.9l1 1 1-1 1 1-1 1 1 1-1 1-1-1-1 1-1-1 1-1-1-1zm-183.5 6.5l1 1 1-1 1 1-1 1 1 1-1 1-1-1-1 1-1-1 1-1-1-1zm7.6-4.6l1 1 1-1 1 1-1 1 1 1-1 1-1-1-1 1-1-1 1-1-1-1zm21.5 4.5l1 1 1-1 1 1-1 1 1 1-1 1-1-1-1 1-1-1 1-1-1-1zm10-2.2l1 1 1-1 1 1-1 1 1 1-1 1-1-1-1 1-1-1 1-1-1-1zm6.5-.8l1 1 1-1 1 1-1 1 1 1-1 1-1-1-1 1-1-1 1-1-1-1zm7.7 1.4l1 1 1-1 1 1-1 1 1 1-1 1-1-1-1 1-1-1 1-1-1-1zm10.5-.7l1 1 1-1 1 1-1 1 1 1-1 1-1-1-1 1-1-1 1-1-1-1zm5.1-1.9l1 1 1-1 1 1-1 1 1 1-1 1-1-1-1 1-1-1 1-1-1-1zm21.2 1.2l1 1 1-1 1 1-1 1 1 1-1 1-1-1-1 1-1-1 1-1-1-1zm11.4 2l1 1 1-1 1 1-1 1 1 1-1 1-1-1-1 1-1-1 1-1-1-1zm16.1-1.8l1 1 1-1 1 1-1 1 1 1-1 1-1-1-1 1-1-1 1-1-1-1zm26.7 3l1 1 1-1 1 1-1 1 1 1-1 1-1-1-1 1-1-1 1-1-1-1zm10.9-4.8l1 1 1-1 1 1-1 1 1 1-1 1-1-1-1 1-1-1 1-1-1-1zm-160.1 10.8l1 1 1-1 1 1-1 1 1 1-1 1-1-1-1 1-1-1 1-1-1-1zm22.6-1.8l1 1 1-1 1 1-1 1 1 1-1 1-1-1-1 1-1-1 1-1-1-1zm10.9 1l1 1 1-1 1 1-1 1 1 1-1 1-1-1-1 1-1-1 1-1-1-1zm5.5 .8l1 1 1-1 1 1-1 1 1 1-1 1-1-1-1 1-1-1 1-1-1-1zm7.1 .3l1 1 1-1 1 1-1 1 1 1-1 1-1-1-1 1-1-1 1-1-1-1zm12.4-1.4l1 1 1-1 1 1-1 1 1 1-1 1-1-1-1 1-1-1 1-1-1-1zm13.2-.4l1 1 1-1 1 1-1 1 1 1-1 1-1-1-1 1-1-1 1-1-1-1zm17.9-2.4l1 1 1-1 1 1-1 1 1 1-1 1-1-1-1 1-1-1 1-1-1-1zm26.8 .6l1 1 1-1 1 1-1 1 1 1-1 1-1-1-1 1-1-1 1-1-1-1zm12.2-.7l1 1 1-1 1 1-1 1 1 1-1 1-1-1-1 1-1-1 1-1-1-1zm6.6 3.3l1 1 1-1 1 1-1 1 1 1-1 1-1-1-1 1-1-1 1-1-1-1zm15 .8l1 1 1-1 1 1-1 1 1 1-1 1-1-1-1 1-1-1 1-1-1-1zm11.5-4.2l1 1 1-1 1 1-1 1 1 1-1 1-1-1-1 1-1-1 1-1-1-1zm7.4 1.5l1 1 1-1 1 1-1 1 1 1-1 1-1-1-1 1-1-1 1-1-1-1zm14.2-2.5l1 1 1-1 1 1-1 1 1 1-1 1-1-1-1 1-1-1 1-1-1-1zm-168.6 6.1l1 1 1-1 1 1-1 1 1 1-1 1-1-1-1 1-1-1 1-1-1-1zm55.5 4.3l1 1 1-1 1 1-1 1 1 1-1 1-1-1-1 1-1-1 1-1-1-1zm8.2-3.6l1 1 1-1 1 1-1 1 1 1-1 1-1-1-1 1-1-1 1-1-1-1zm21.6 1.7l1 1 1-1 1 1-1 1 1 1-1 1-1-1-1 1-1-1 1-1-1-1zm22.6-2.4l1 1 1-1 1 1-1 1 1 1-1 1-1-1-1 1-1-1 1-1-1-1zm6.9 2.7l1 1 1-1 1 1-1 1 1 1-1 1-1-1-1 1-1-1 1-1-1-1zm5.1 1.9l1 1 1-1 1 1-1 1 1 1-1 1-1-1-1 1-1-1 1-1-1-1zm8.5-.9l1 1 1-1 1 1-1 1 1 1-1 1-1-1-1 1-1-1 1-1-1-1zm18.1-3l1 1 1-1 1 1-1 1 1 1-1 1-1-1-1 1-1-1 1-1-1-1zm33.4-.7l1 1 1-1 1 1-1 1 1 1-1 1-1-1-1 1-1-1 1-1-1-1zm-177.3 8.6l1 1 1-1 1 1-1 1 1 1-1 1-1-1-1 1-1-1 1-1-1-1zm22.7-1.7l1 1 1-1 1 1-1 1 1 1-1 1-1-1-1 1-1-1 1-1-1-1zm7.2-.3l1 1 1-1 1 1-1 1 1 1-1 1-1-1-1 1-1-1 1-1-1-1zm16.1 2.6l1 1 1-1 1 1-1 1 1 1-1 1-1-1-1 1-1-1 1-1-1-1zm6 .3l1 1 1-1 1 1-1 1 1 1-1 1-1-1-1 1-1-1 1-1-1-1zm7-2.2l1 1 1-1 1 1-1 1 1 1-1 1-1-1-1 1-1-1 1-1-1-1zm10.1-.5l1 1 1-1 1 1-1 1 1 1-1 1-1-1-1 1-1-1 1-1-1-1zm6.8 1.1l1 1 1-1 1 1-1 1 1 1-1 1-1-1-1 1-1-1 1-1-1-1zm14.7-.8l1 1 1-1 1 1-1 1 1 1-1 1-1-1-1 1-1-1 1-1-1-1zm4.9 .9l1 1 1-1 1 1-1 1 1 1-1 1-1-1-1 1-1-1 1-1-1-1zm46.2 1.4l1 1 1-1 1 1-1 1 1 1-1 1-1-1-1 1-1-1 1-1-1-1zm15.6-3.1l1 1 1-1 1 1-1 1 1 1-1 1-1-1-1 1-1-1 1-1-1-1zm38.3 1l1 1 1-1 1 1-1 1 1 1-1 1-1-1-1 1-1-1 1-1-1-1zm-205.4 5.8l1 1 1-1 1 1-1 1 1 1-1 1-1-1-1 1-1-1 1-1-1-1zm29.5-.3l1 1 1-1 1 1-1 1 1 1-1 1-1-1-1 1-1-1 1-1-1-1zm20.9 1.6l1 1 1-1 1 1-1 1 1 1-1 1-1-1-1 1-1-1 1-1-1-1zm8.6 2.1l1 1 1-1 1 1-1 1 1 1-1 1-1-1-1 1-1-1 1-1-1-1zm8-.7l1 1 1-1 1 1-1 1 1 1-1 1-1-1-1 1-1-1 1-1-1-1zm45.6-3.8l1 1 1-1 1 1-1 1 1 1-1 1-1-1-1 1-1-1 1-1-1-1zm6.8 .7l1 1 1-1 1 1-1 1 1 1-1 1-1-1-1 1-1-1 1-1-1-1zm24.4 .4l1 1 1-1 1 1-1 1 1 1-1 1-1-1-1 1-1-1 1-1-1-1zm24.6 2.8l1 1 1-1 1 1-1 1 1 1-1 1-1-1-1 1-1-1 1-1-1-1zm-127 5.5l1 1 1-1 1 1-1 1 1 1-1 1-1-1-1 1-1-1 1-1-1-1zm32.2-1.9l1 1 1-1 1 1-1 1 1 1-1 1-1-1-1 1-1-1 1-1-1-1zm35.4 2.5l1 1 1-1 1 1-1 1 1 1-1 1-1-1-1 1-1-1 1-1-1-1zm27.7 .2l1 1 1-1 1 1-1 1 1 1-1 1-1-1-1 1-1-1 1-1-1-1zm33 0l1 1 1-1 1 1-1 1 1 1-1 1-1-1-1 1-1-1 1-1-1-1zm-129.4 7l1 1 1-1 1 1-1 1 1 1-1 1-1-1-1 1-1-1 1-1-1-1zm42.1-4.8l1 1 1-1 1 1-1 1 1 1-1 1-1-1-1 1-1-1 1-1-1-1zm11.9-.2l1 1 1-1 1 1-1 1 1 1-1 1-1-1-1 1-1-1 1-1-1-1zm46.2 4.3l1 1 1-1 1 1-1 1 1 1-1 1-1-1-1 1-1-1 1-1-1-1zm4.9-.3l1 1 1-1 1 1-1 1 1 1-1 1-1-1-1 1-1-1 1-1-1-1zm8.4-2.1l1 1 1-1 1 1-1 1 1 1-1 1-1-1-1 1-1-1 1-1-1-1zm-124.6 4.7l1 1 1-1 1 1-1 1 1 1-1 1-1-1-1 1-1-1 1-1-1-1zm19.2 0l1 1 1-1 1 1-1 1 1 1-1 1-1-1-1 1-1-1 1-1-1-1zm14.7-.7l1 1 1-1 1 1-1 1 1 1-1 1-1-1-1 1-1-1 1-1-1-1zm10.5 1.4l1 1 1-1 1 1-1 1 1 1-1 1-1-1-1 1-1-1 1-1-1-1zm12.5 1.1l1 1 1-1 1 1-1 1 1 1-1 1-1-1-1 1-1-1 1-1-1-1zm10.7 1.9l1 1 1-1 1 1-1 1 1 1-1 1-1-1-1 1-1-1 1-1-1-1zm4.5 .4l1 1 1-1 1 1-1 1 1 1-1 1-1-1-1 1-1-1 1-1-1-1zm6-1.6l1 1 1-1 1 1-1 1 1 1-1 1-1-1-1 1-1-1 1-1-1-1zm-46.8 5.2l1 1 1-1 1 1-1 1 1 1-1 1-1-1-1 1-1-1 1-1-1-1zm8.4-1.2l1 1 1-1 1 1-1 1 1 1-1 1-1-1-1 1-1-1 1-1-1-1zm32.2 2.6l1 1 1-1 1 1-1 1 1 1-1 1-1-1-1 1-1-1 1-1-1-1zm15.7-4.3l1 1 1-1 1 1-1 1 1 1-1 1-1-1-1 1-1-1 1-1-1-1zm-92.4 6.5l1 1 1-1 1 1-1 1 1 1-1 1-1-1-1 1-1-1 1-1-1-1zm18.9-.1l1 1 1-1 1 1-1 1 1 1-1 1-1-1-1 1-1-1 1-1-1-1zm33.6 4.5l1 1 1-1 1 1-1 1 1 1-1 1-1-1-1 1-1-1 1-1-1-1zm18.2-.4l1 1 1-1 1 1-1 1 1 1-1 1-1-1-1 1-1-1 1-1-1-1zm-27 3.1l1 1 1-1 1 1-1 1 1 1-1 1-1-1-1 1-1-1 1-1-1-1zm15.2 3.2l1 1 1-1 1 1-1 1 1 1-1 1-1-1-1 1-1-1 1-1-1-1zm-22.5 4.7l1 1 1-1 1 1-1 1 1 1-1 1-1-1-1 1-1-1 1-1-1-1zm9.8 2.1l1 1 1-1 1 1-1 1 1 1-1 1-1-1-1 1-1-1 1-1-1-1zm22.8-2l1 1 1-1 1 1-1 1 1 1-1 1-1-1-1 1-1-1 1-1-1-1zm26.1 2.1l1 1 1-1 1 1-1 1 1 1-1 1-1-1-1 1-1-1 1-1-1-1zm-25.7 3.5l1 1 1-1 1 1-1 1 1 1-1 1-1-1-1 1-1-1 1-1-1-1zm5.9 2.2l1 1 1-1 1 1-1 1 1 1-1 1-1-1-1 1-1-1 1-1-1-1zm5.7-4.7l1 1 1-1 1 1-1 1 1 1-1 1-1-1-1 1-1-1 1-1-1-1zm34.3 2l1 1 1-1 1 1-1 1 1 1-1 1-1-1-1 1-1-1 1-1-1-1zm-80.8 5.9l1 1 1-1 1 1-1 1 1 1-1 1-1-1-1 1-1-1 1-1-1-1zm101 3l1 1 1-1 1 1-1 1 1 1-1 1-1-1-1 1-1-1 1-1-1-1zm-32.7 8.6l1 1 1-1 1 1-1 1 1 1-1 1-1-1-1 1-1-1 1-1-1-1zm-22.6 23.5l1 1 1-1 1 1-1 1 1 1-1 1-1-1-1 1-1-1 1-1-1-1z"/>
<path fill="#dd8452" d="M249.8 67.6l1 1 1-1 1 1-1 1 1 1-1 1-1-1-1 1-1-1 1-1-1-1zm-76.4 11.2l1 1 1-1 1 1-1 1 1 1-1 1-1-1-1 1-1-1 1-1-1-1zm7.5-4.7l1 1 1-1 1 1-1 1 1 1-1 1-1-1-1 1-1-1 1-1-1-1zm9 1.9l1 1 1-1 1 1-1 1 1 1-1 1-1-1-1 1-1-1 1-1-1-1zm-12.1 8.3l1 1 1-1 1 1-1 1 1 1-1 1-1-1-1 1-1-1 1-1-1-1zm-4.8 1l1 1 1-1 1 1-1 1 1 1-1 1-1-1-1 1-1-1 1-1-1-1zm13.2 3.6l1 1 1-1 1 1-1 1 1 1-1 1-1-1-1 1-1-1 1-1-1-1zm-6.6 2.7l1 1 1-1 1 1-1 1 1 1-1 1-1-1-1 1-1-1 1-1-1-1zm70.1 0l1 1 1-1 1 1-1 1 1 1-1 1-1-1-1 1-1-1 1-1-1-1zm32.8 2.9l1 1 1-1 1 1-1 1 1 1-1 1-1-1-1 1-1-1 1-1-1-1zm27.3-1l1 1 1-1 1 1-1 1 1 1-1 1-1-1-1 1-1-1 1-1-1-1zm-93.7 5.3l1 1 1-1 1 1-1 1 1 1-1 1-1-1-1 1-1-1 1-1-1-1zm53.5 .2l1 1 1-1 1 1-1 1 1 1-1 1-1-1-1 1-1-1 1-1-1-1zm16.3 3.3l1 1 1-1 1 1-1 1 1 1-1 1-1-1-1 1-1-1 1-1-1-1zm35.1-4.2l1 1 1-1 1 1-1 1 1 1-1 1-1-1-1 1-1-1 1-1-1-1zm-148 5.9l1 1 1-1 1 1-1 1 1 1-1 1-1-1-1 1-1-1 1-1-1-1zm23-.4l1 1 1-1 1 1-1 1 1 1-1 1-1-1-1 1-1-1 1-1-1-1zm10.6 4.6l1 1 1-1 1 1-1 1 1 1-1 1-1-1-1 1-1-1 1-1-1-1zm44.4-4.8l1 1 1-1 1 1-1 1 1 1-1 1-1-1-1 1-1-1 1-1-1-1zm19.5 5.3l1 1 1-1 1 1-1 1 1 1-1 1-1-1-1 1-1-1 1-1-1-1zm15.1-1.1l1 1 1-1 1 1-1 1 1 1-1 1-1-1-1 1-1-1 1-1-1-1zm-101.1 5.5l1 1 1-1 1 1-1 1 1 1-1 1-1-1-1 1-1-1 1-1-1-1zm58.4-3.8l1 1 1-1 1 1-1 1 1 1-1 1-1-1-1 1-1-1 1-1-1-1zm38.6 2.8l1 1 1-1 1 1-1 1 1 1-1 1-1-1-1 1-1-1 1-1-1-1zm25-1.7l1 1 1-1 1 1-1 1 1 1-1 1-1-1-1 1-1-1 1-1-1-1zm-188 7.9l1 1 1-1 1 1-1 1 1 1-1 1-1-1-1 1-1-1 1-1-1-1zm71 1.9l1 1 1-1 1 1-1 1 1 1-1 1-1-1-1 1-1-1 1-1-1-1zm25.3 0l1 1 1-1 1 1-1 1 1 1-1 1-1-1-1 1-1-1 1-1-1-1zm10.9 .3l1 1 1-1 1 1-1 1 1 1-1 1-1-1-1 1-1-1 1-1-1-1zm14.3-2.1l1 1 1-1 1 1-1 1 1 1-1 1-1-1-1 1-1-1 1-1-1-1zm9.2 .3l1 1 1-1 1 1-1 1 1 1-1 1-1-1-1 1-1-1 1-1-1-1zm6 .7l1 1 1-1 1 1-1 1 1 1-1 1-1-1-1 1-1-1 1-1-1-1zm6.4-.9l1 1 1-1 1 1-1 1 1 1-1 1-1-1-1 1-1-1 1-1-1-1zm15.5-.6l1 1 1-1 1 1-1 1 1 1-1 1-1-1-1 1-1-1 1-1-1-1zm13.5 .3l1 1 1-1 1 1-1 1 1 1-1 1-1-1-1 1-1-1 1-1-1-1zm12.4-2.8l1 1 1-1 1 1-1 1 1 1-1 1-1-1-1 1-1-1 1-1-1-1zm27.7 4.7l1 1 1-1 1 1-1 1 1 1-1 1-1-1-1 1-1-1 1-1-1-1zm-153 2.4l1 1 1-1 1 1-1 1 1 1-1 1-1-1-1 1-1-1 1-1-1-1zm6.8-1l1 1 1-1 1 1-1 1 1 1-1 1-1-1-1 1-1-1 1-1-1-1zm9.2 4.2l1 1 1-1 1 1-1 1 1 1-1 1-1-1-1 1-1-1 1-1-1-1zm5.3-.1l1 1 1-1 1 1-1 1 1 1-1 1-1-1-1 1-1-1 1-1-1-1zm20.7 1.1l1 1 1-1 1 1-1 1 1 1-1 1-1-1-1 1-1-1 1-1-1-1zm12.2-2.8l1 1 1-1 1 1-1 1 1 1-1 1-1-1-1 1-1-1 1-1-1-1zm6.9 2.1l1 1 1-1 1 1-1 1 1 1-1 1-1-1-1 1-1-1 1-1-1-1zm8.2-.3l1 1 1-1 1 1-1 1 1 1-1 1-1-1-1 1-1-1 1-1-1-1zm18.6 1.3l1 1 1-1 1 1-1 1 1 1-1 1-1-1-1 1-1-1 1-1-1-1zm23.5-2.6l1 1 1-1 1 1-1 1 1 1-1 1-1-1-1 1-1-1 1-1-1-1zm15.6-1.9l1 1 1-1 1 1-1 1 1 1-1 1-1-1-1 1-1-1 1-1-1-1zm9.3-1l1 1 1-1 1 1-1 1 1 1-1 1-1-1-1 1-1-1 1-1-1-1zm2.6 5.5l1 1 1-1 1 1-1 1 1 1-1 1-1-1-1 1-1-1 1-1-1-1zm4.6-5.4l1 1 1-1 1 1-1 1 1 1-1 1-1-1-1 1-1-1 1-1-1-1zm-107.2 7l1 1 1-1 1 1-1 1 1 1-1 1-1-1-1 1-1-1 1-1-1-1zm32.7 2.3l1 1 1-1 1 1-1 1 1 1-1 1-1-1-1 1-1-1 1-1-1-1zm10.1-2.1l1 1 1-1 1 1-1 1 1 1-1 1-1-1-1 1-1-1 1-1-1-1zm31 1.4l1 1 1-1 1 1-1 1 1 1-1 1-1-1-1 1-1-1 1-1-1-1zm10.2-3l1 1 1-1 1 1-1 1 1 1-1 1-1-1-1 1-1-1 1-1-1-1zm11.1 3.4l1 1 1-1 1 1-1 1 1 1-1 1-1-1-1 1-1-1 1-1-1-1zm16.9-2.3l1 1 1-1 1 1-1 1 1 1-1 1-1-1-1 1-1-1 1-1-1-1zm-158.3 9.5l1 1 1-1 1 1-1 1 1 1-1 1-1-1-1 1-1-1 1-1-1-1zm27.6-3.8l1 1 1-1 1 1-1 1 1 1-1 1-1-1-1 1-1-1 1-1-1-1zm7.2 .7l1 1 1-1 1 1-1 1 1 1-1 1-1-1-1 1-1-1 1-1-1-1zm23.2 0l1 1 1-1 1 1-1 1 1 1-1 1-1-1-1 1-1-1 1-1-1-1zm11.9-.4l1 1 1-1 1 1-1 1 1 1-1 1-1-1-1 1-1-1 1-1-1-1zm43.6 .1l1 1 1-1 1 1-1 1 1 1-1 1-1-1-1 1-1-1 1-1-1-1zm18 3.5l1 1 1-1 1 1-1 1 1 1-1 1-1-1-1 1-1-1 1-1-1-1zm27 .5l1 1 1-1 1 1-1 1 1 1-1 1-1-1-1 1-1-1 1-1-1-1zm-131.1 6.7l1 1 1-1 1 1-1 1 1 1-1 1-1-1-1 1-1-1 1-1-1-1zm26.9-4.3l1 1 1-1 1 1-1 1 1 1-1 1-1-1-1 1-1-1 1-1-1-1zm18 3.2l1 1 1-1 1 1-1 1 1 1-1 1-1-1-1 1-1-1 1-1-1-1zm10.7-4.5l1 1 1-1 1 1-1 1 1 1-1 1-1-1-1 1-1-1 1-1-1-1zm4.5 .7l1 1 1-1 1 1-1 1 1 1-1 1-1-1-1 1-1-1 1-1-1-1zm12 4.9l1 1 1-1 1 1-1 1 1 1-1 1-1-1-1 1-1-1 1-1-1-1zm13.2-3.7l1 1 1-1 1 1-1 1 1 1-1 1-1-1-1 1-1-1 1-1-1-1zm13.8 1.3l1 1 1-1 1 1-1 1 1 1-1 1-1-1-1 1-1-1 1-1-1-1zm25.2-1.1l1 1 1-1 1 1-1 1 1 1-1 1-1-1-1 1-1-1 1-1-1-1zm-165 4.1l1 1 1-1 1 1-1 1 1 1-1 1-1-1-1 1-1-1 1-1-1-1zm24.6 2.1l1 1 1-1 1 1-1 1 1 1-1 1-1-1-1 1-1-1 1-1-1-1zm10.5 .7l1 1 1-1 1 1-1 1 1 1-1 1-1-1-1 1-1-1 1-1-1-1zm29.5 1.5l1 1 1-1 1 1-1 1 1 1-1 1-1-1-1 1-1-1 1-1-1-1zm70.9-.3l1 1 1-1 1 1-1 1 1 1-1 1-1-1-1 1-1-1 1-1-1-1zm10.1 0l1 1 1-1 1 1-1 1 1 1-1 1-1-1-1 1-1-1 1-1-1-1zm9.6-1l1 1 1-1 1 1-1 1 1 1-1 1-1-1-1 1-1-1 1-1-1-1zm27.3 .5l1 1 1-1 1 1-1 1 1 1-1 1-1-1-1 1-1-1 1-1-1-1zm-161.5 5.6l1 1 1-1 1 1-1 1 1 1-1 1-1-1-1 1-1-1 1-1-1-1zm27.4-3.1l1 1 1-1 1 1-1 1 1 1-1 1-1-1-1 1-1-1 1-1-1-1zm11.2-.4l1 1 1-1 1 1-1 1 1 1-1 1-1-1-1 1-1-1 1-1-1-1zm6.9 4.7l1 1 1-1 1 1-1 1 1 1-1 1-1-1-1 1-1-1 1-1-1-1zm20-.1l1 1 1-1 1 1-1 1 1 1-1 1-1-1-1 1-1-1 1-1-1-1zm10.3-.6l1 1 1-1 1 1-1 1 1 1-1 1-1-1-1 1-1-1 1-1-1-1zm8.9 1.4l1 1 1-1 1 1-1 1 1 1-1 1-1-1-1 1-1-1 1-1-1-1zm3.4-4.7l1 1 1-1 1 1-1 1 1 1-1 1-1-1-1 1-1-1 1-1-1-1zm5.2 .5l1 1 1-1 1 1-1 1 1 1-1 1-1-1-1 1-1-1 1-1-1-1zm71.2 3.9l1 1 1-1 1 1-1 1 1 1-1 1-1-1-1 1-1-1 1-1-1-1zm-153.8 2.4l1 1 1-1 1 1-1 1 1 1-1 1-1-1-1 1-1-1 1-1-1-1zm22.7 1.2l1 1 1-1 1 1-1 1 1 1-1 1-1-1-1 1-1-1 1-1-1-1zm5.9-.5l1 1 1-1 1 1-1 1 1 1-1 1-1-1-1 1-1-1 1-1-1-1zm12.9-2.2l1 1 1-1 1 1-1 1 1 1-1 1-1-1-1 1-1-1 1-1-1-1zm17.1 4.6l1 1 1-1 1 1-1 1 1 1-1 1-1-1-1 1-1-1 1-1-1-1zm34.7-1.2l1 1 1-1 1 1-1 1 1 1-1 1-1-1-1 1-1-1 1-1-1-1zm12.5-2.1l1 1 1-1 1 1-1 1 1 1-1 1-1-1-1 1-1-1 1-1-1-1zm4.7 .5l1 1 1-1 1 1-1 1 1 1-1 1-1-1-1 1-1-1 1-1-1-1zm14.1 3.7l1 1 1-1 1 1-1 1 1 1-1 1-1-1-1 1-1-1 1-1-1-1zm-152.3 5.9l1 1 1-1 1 1-1 1 1 1-1 1-1-1-1 1-1-1 1-1-1-1zm31.1-2.4l1 1 1-1 1 1-1 1 1 1-1 1-1-1-1 1-1-1 1-1-1-1zm5.5-3.2l1 1 1-1 1 1-1 1 1 1-1 1-1-1-1 1-1-1 1-1-1-1zm15.1 1.5l1 1 1-1 1 1-1 1 1 1-1 1-1-1-1 1-1-1 1-1-1-1zm25.4 .6l1 1 1-1 1 1-1 1 1 1-1 1-1-1-1 1-1-1 1-1-1-1zm18.4-1.7l1 1 1-1 1 1-1 1 1 1-1 1-1-1-1 1-1-1 1-1-1-1zm8.3 1.3l1 1 1-1 1 1-1 1 1 1-1 1-1-1-1 1-1-1 1-1-1-1zm4.3 0l1 1 1-1 1 1-1 1 1 1-1 1-1-1-1 1-1-1 1-1-1-1zm27.5-.2l1 1 1-1 1 1-1 1 1 1-1 1-1-1-1 1-1-1 1-1-1-1zm40.6 .7l1 1 1-1 1 1-1 1 1 1-1 1-1-1-1 1-1-1 1-1-1-1zm19.1-1.7l1 1 1-1 1 1-1 1 1 1-1 1-1-1-1 1-1-1 1-1-1-1zm-177.1 9.9l1 1 1-1 1 1-1 1 1 1-1 1-1-1-1 1-1-1 1-1-1-1zm26.8-3.7l1 1 1-1 1 1-1 1 1 1-1 1-1-1-1 1-1-1 1-1-1-1zm9-.1l1 1 1-1 1 1-1 1 1 1-1 1-1-1-1 1-1-1 1-1-1-1zm5.7 5.4l1 1 1-1 1 1-1 1 1 1-1 1-1-1-1 1-1-1 1-1-1-1zm7.5-3l1 1 1-1 1 1-1 1 1 1-1 1-1-1-1 1-1-1 1-1-1-1zm26.6 3l1 1 1-1 1 1-1 1 1 1-1 1-1-1-1 1-1-1 1-1-1-1zm7.8-2.8l1 1 1-1 1 1-1 1 1 1-1 1-1-1-1 1-1-1 1-1-1-1zm5.9 1.3l1 1 1-1 1 1-1 1 1 1-1 1-1-1-1 1-1-1 1-1-1-1zm5.6-2.4l1 1 1-1 1 1-1 1 1 1-1 1-1-1-1 1-1-1 1-1-1-1zm31.1 .4l1 1 1-1 1 1-1 1 1 1-1 1-1-1-1 1-1-1 1-1-1-1zm32.1-1.9l1 1 1-1 1 1-1 1 1 1-1 1-1-1-1 1-1-1 1-1-1-1zm-184.4 9.7l1 1 1-1 1 1-1 1 1 1-1 1-1-1-1 1-1-1 1-1-1-1zm4.5 .6l1 1 1-1 1 1-1 1 1 1-1 1-1-1-1 1-1-1 1-1-1-1zm16.7-2.1l1 1 1-1 1 1-1 1 1 1-1 1-1-1-1 1-1-1 1-1-1-1zm13.9 1.5l1 1 1-1 1 1-1 1 1 1-1 1-1-1-1 1-1-1 1-1-1-1zm17.9-.4l1 1 1-1 1 1-1 1 1 1-1 1-1-1-1 1-1-1 1-1-1-1zm30.3-.3l1 1 1-1 1 1-1 1 1 1-1 1-1-1-1 1-1-1 1-1-1-1zm33.7 2.2l1 1 1-1 1 1-1 1 1 1-1 1-1-1-1 1-1-1 1-1-1-1zm12.3-.5l1 1 1-1 1 1-1 1 1 1-1 1-1-1-1 1-1-1 1-1-1-1zm12.4-2.7l1 1 1-1 1 1-1 1 1 1-1 1-1-1-1 1-1-1 1-1-1-1zm14.1-.6l1 1 1-1 1 1-1 1 1 1-1 1-1-1-1 1-1-1 1-1-1-1zm8.5-1.3l1 1 1-1 1 1-1 1 1 1-1 1-1-1-1 1-1-1 1-1-1-1zm-153.9 8l1 1 1-1 1 1-1 1 1 1-1 1-1-1-1 1-1-1 1-1-1-1zm16.4 1.2l1 1 1-1 1 1-1 1 1 1-1 1-1-1-1 1-1-1 1-1-1-1zm7.6 .6l1 1 1-1 1 1-1 1 1 1-1 1-1-1-1 1-1-1 1-1-1-1zm8.5-2.6l1 1 1-1 1 1-1 1 1 1-1 1-1-1-1 1-1-1 1-1-1-1zm28.9 4l1 1 1-1 1 1-1 1 1 1-1 1-1-1-1 1-1-1 1-1-1-1zm24.7-3.6l1 1 1-1 1 1-1 1 1 1-1 1-1-1-1 1-1-1 1-1-1-1zm7.7 1.9l1 1 1-1 1 1-1 1 1 1-1 1-1-1-1 1-1-1 1-1-1-1zm26.5 .1l1 1 1-1 1 1-1 1 1 1-1 1-1-1-1 1-1-1 1-1-1-1zm22.3-.3l1 1 1-1 1 1-1 1 1 1-1 1-1-1-1 1-1-1 1-1-1-1zm-166.1 2.9l1 1 1-1 1 1-1 1 1 1-1 1-1-1-1 1-1-1 1-1-1-1zm13.4 .3l1 1 1-1 1 1-1 1 1 1-1 1-1-1-1 1-1-1 1-1-1-1zm19.4 2.3l1 1 1-1 1 1-1 1 1 1-1 1-1-1-1 1-1-1 1-1-1-1zm16.4 1.3l1 1 1-1 1 1-1 1 1 1-1 1-1-1-1 1-1-1 1-1-1-1zm4.5 1.2l1 1 1-1 1 1-1 1 1 1-1 1-1-1-1 1-1-1 1-1-1-1zm40.6-3.8l1 1 1-1 1 1-1 1 1 1-1 1-1-1-1 1-1-1 1-1-1-1zm30.6 2.3l1 1 1-1 1 1-1 1 1 1-1 1-1-1-1 1-1-1 1-1-1-1zm26.3-.1l1 1 1-1 1 1-1 1 1 1-1 1-1-1-1 1-1-1 1-1-1-1zm7.2-.4l1 1 1-1 1 1-1 1 1 1-1 1-1-1-1 1-1-1 1-1-1-1zm15.8-1.3l1 1 1-1 1 1-1 1 1 1-1 1-1-1-1 1-1-1 1-1-1-1zm-186.9 5.6l1 1 1-1 1 1-1 1 1 1-1 1-1-1-1 1-1-1 1-1-1-1zm27.8 1.2l1 1 1-1 1 1-1 1 1 1-1 1-1-1-1 1-1-1 1-1-1-1zm24.8 0l1 1 1-1 1 1-1 1 1 1-1 1-1-1-1 1-1-1 1-1-1-1zm19.4-.8l1 1 1-1 1 1-1 1 1 1-1 1-1-1-1 1-1-1 1-1-1-1zm7.7-1.9l1 1 1-1 1 1-1 1 1 1-1 1-1-1-1 1-1-1 1-1-1-1zm13.9 2.1l1 1 1-1 1 1-1 1 1 1-1 1-1-1-1 1-1-1 1-1-1-1zm16-1.1l1 1 1-1 1 1-1 1 1 1-1 1-1-1-1 1-1-1 1-1-1-1zm16.6 1.8l1 1 1-1 1 1-1 1 1 1-1 1-1-1-1 1-1-1 1-1-1-1zm9.1 .1l1 1 1-1 1 1-1 1 1 1-1 1-1-1-1 1-1-1 1-1-1-1zm37.4 .3l1 1 1-1 1 1-1 1 1 1-1 1-1-1-1 1-1-1 1-1-1-1zm22.2 .1l1 1 1-1 1 1-1 1 1 1-1 1-1-1-1 1-1-1 1-1-1-1zm-136.2 3l1 1 1-1 1 1-1 1 1 1-1 1-1-1-1 1-1-1 1-1-1-1zm5.2 1l1 1 1-1 1 1-1 1 1 1-1 1-1-1-1 1-1-1 1-1-1-1zm9.1 1.8l1 1 1-1 1 1-1 1 1 1-1 1-1-1-1 1-1-1 1-1-1-1zm9.1-3.8l1 1 1-1 1 1-1 1 1 1-1 1-1-1-1 1-1-1 1-1-1-1zm4 5.5l1 1 1-1 1 1-1 1 1 1-1 1-1-1-1 1-1-1 1-1-1-1zm6.4-4.3l1 1 1-1 1 1-1 1 1 1-1 1-1-1-1 1-1-1 1-1-1-1zm10.7 .8l1 1 1-1 1 1-1 1 1 1-1 1-1-1-1 1-1-1 1-1-1-1zm46.6 .1l1 1 1-1 1 1-1 1 1 1-1 1-1-1-1 1-1-1 1-1-1-1zm19.6 2.8l1 1 1-1 1 1-1 1 1 1-1 1-1-1-1 1-1-1 1-1-1-1zm-195.5 6.1l1 1 1-1 1 1-1 1 1 1-1 1-1-1-1 1-1-1 1-1-1-1zm58.5-2.6l1 1 1-1 1 1-1 1 1 1-1 1-1-1-1 1-1-1 1-1-1-1zm10.3-.2l1 1 1-1 1 1-1 1 1 1-1 1-1-1-1 1-1-1 1-1-1-1zm20.3-.4l1 1 1-1 1 1-1 1 1 1-1 1-1-1-1 1-1-1 1-1-1-1zm8.4 3.6l1 1 1-1 1 1-1 1 1 1-1 1-1-1-1 1-1-1 1-1-1-1zm7.3-5.3l1 1 1-1 1 1-1 1 1 1-1 1-1-1-1 1-1-1 1-1-1-1zm25 5l1 1 1-1 1 1-1 1 1 1-1 1-1-1-1 1-1-1 1-1-1-1zm25.1 .2l1 1 1-1 1 1-1 1 1 1-1 1-1-1-1 1-1-1 1-1-1-1zm19.9-2.9l1 1 1-1 1 1-1 1 1 1-1 1-1-1-1 1-1-1 1-1-1-1zm5.9-.7l1 1 1-1 1 1-1 1 1 1-1 1-1-1-1 1-1-1 1-1-1-1zm10.1 .5l1 1 1-1 1 1-1 1 1 1-1 1-1-1-1 1-1-1 1-1-1-1zm12.3 2.2l1 1 1-1 1 1-1 1 1 1-1 1-1-1-1 1-1-1 1-1-1-1zm17.2-2.3l1 1 1-1 1 1-1 1 1 1-1 1-1-1-1 1-1-1 1-1-1-1zm-155.7 5.7l1 1 1-1 1 1-1 1 1 1-1 1-1-1-1 1-1-1 1-1-1-1zm5.7 3.4l1 1 1-1 1 1-1 1 1 1-1 1-1-1-1 1-1-1 1-1-1-1zm13.1 .4l1 1 1-1 1 1-1 1 1 1-1 1-1-1-1 1-1-1 1-1-1-1zm41.6-.2l1 1 1-1 1 1-1 1 1 1-1 1-1-1-1 1-1-1 1-1-1-1zm25.2-1.5l1 1 1-1 1 1-1 1 1 1-1 1-1-1-1 1-1-1 1-1-1-1zm5.5 .9l1 1 1-1 1 1-1 1 1 1-1 1-1-1-1 1-1-1 1-1-1-1zm9.1 .1l1 1 1-1 1 1-1 1 1 1-1 1-1-1-1 1-1-1 1-1-1-1zm27.8 .1l1 1 1-1 1 1-1 1 1 1-1 1-1-1-1 1-1-1 1-1-1-1zm30.1-4.3l1 1 1-1 1 1-1 1 1 1-1 1-1-1-1 1-1-1 1-1-1-1zm-182.2 6.5l1 1 1-1 1 1-1 1 1 1-1 1-1-1-1 1-1-1 1-1-1-1zm10.1 .9l1 1 1-1 1 1-1 1 1 1-1 1-1-1-1 1-1-1 1-1-1-1zm6.2 2.9l1 1 1-1 1 1-1 1 1 1-1 1-1-1-1 1-1-1 1-1-1-1zm5 .4l1 1 1-1 1 1-1 1 1 1-1 1-1-1-1 1-1-1 1-1-1-1zm17.1-2.6l1 1 1-1 1 1-1 1 1 1-1 1-1-1-1 1-1-1 1-1-1-1zm34.5 2.5l1 1 1-1 1 1-1 1 1 1-1 1-1-1-1 1-1-1 1-1-1-1zm5.7-1.5l1 1 1-1 1 1-1 1 1 1-1 1-1-1-1 1-1-1 1-1-1-1zm26.2-1.2l1 1 1-1 1 1-1 1 1 1-1 1-1-1-1 1-1-1 1-1-1-1zm33.1 3.1l1 1 1-1 1 1-1 1 1 1-1 1-1-1-1 1-1-1 1-1-1-1zm-149.3 .6l1 1 1-1 1 1-1 1 1 1-1 1-1-1-1 1-1-1 1-1-1-1zm46.7 1.9l1 1 1-1 1 1-1 1 1 1-1 1-1-1-1 1-1-1 1-1-1-1zm13.1-1.8l1 1 1-1 1 1-1 1 1 1-1 1-1-1-1 1-1-1 1-1-1-1zm4.5 .8l1 1 1-1 1 1-1 1 1 1-1 1-1-1-1 1-1-1 1-1-1-1zm5.5 2.1l1 1 1-1 1 1-1 1 1 1-1 1-1-1-1 1-1-1 1-1-1-1zm29.7-.2l1 1 1-1 1 1-1 1 1 1-1 1-1-1-1 1-1-1 1-1-1-1zm8.4 .8l1 1 1-1 1 1-1 1 1 1-1 1-1-1-1 1-1-1 1-1-1-1zm16.8 .3l1 1 1-1 1 1-1 1 1 1-1 1-1-1-1 1-1-1 1-1-1-1zm16.2-1.6l1 1 1-1 1 1-1 1 1 1-1 1-1-1-1 1-1-1 1-1-1-1zm20.5-1.4l1 1 1-1 1 1-1 1 1 1-1 1-1-1-1 1-1-1 1-1-1-1zm18.5 2.7l1 1 1-1 1 1-1 1 1 1-1 1-1-1-1 1-1-1 1-1-1-1zm-140.4 5.6l1 1 1-1 1 1-1 1 1 1-1 1-1-1-1 1-1-1 1-1-1-1zm43.3-1.6l1 1 1-1 1 1-1 1 1 1-1 1-1-1-1 1-1-1 1-1-1-1zm6.3 2.5l1 1 1-1 1 1-1 1 1 1-1 1-1-1-1 1-1-1 1-1-1-1zm7.6 .6l1 1 1-1 1 1-1 1 1 1-1 1-1-1-1 1-1-1 1-1-1-1zm28.7-.7l1 1 1-1 1 1-1 1 1 1-1 1-1-1-1 1-1-1 1-1-1-1zm11.2-2.1l1 1 1-1 1 1-1 1 1 1-1 1-1-1-1 1-1-1 1-1-1-1zm13.6 2.3l1 1 1-1 1 1-1 1 1 1-1 1-1-1-1 1-1-1 1-1-1-1zm-111.5 5.4l1 1 1-1 1 1-1 1 1 1-1 1-1-1-1 1-1-1 1-1-1-1zm19.1-3.3l1 1 1-1 1 1-1 1 1 1-1 1-1-1-1 1-1-1 1-1-1-1zm5.1 4.9l1 1 1-1 1 1-1 1 1 1-1 1-1-1-1 1-1-1 1-1-1-1zm10.2-1.6l1 1 1-1 1 1-1 1 1 1-1 1-1-1-1 1-1-1 1-1-1-1zm50.9 .4l1 1 1-1 1 1-1 1 1 1-1 1-1-1-1 1-1-1 1-1-1-1zm55.2-2.6l1 1 1-1 1 1-1 1 1 1-1 1-1-1-1 1-1-1 1-1-1-1zm-92.7 6.9l1 1 1-1 1 1-1 1 1 1-1 1-1-1-1 1-1-1 1-1-1-1zm16.5 .3l1 1 1-1 1 1-1 1 1 1-1 1-1-1-1 1-1-1 1-1-1-1zm57.2 1.6l1 1 1-1 1 1-1 1 1 1-1 1-1-1-1 1-1-1 1-1-1-1zm22.8-1.2l1 1 1-1 1 1-1 1 1 1-1 1-1-1-1 1-1-1 1-1-1-1zm-145.3 6.2l1 1 1-1 1 1-1 1 1 1-1 1-1-1-1 1-1-1 1-1-1-1zm44.6 .3l1 1 1-1 1 1-1 1 1 1-1 1-1-1-1 1-1-1 1-1-1-1zm7.2-2.5l1 1 1-1 1 1-1 1 1 1-1 1-1-1-1 1-1-1 1-1-1-1zm8.1 4.5l1 1 1-1 1 1-1 1 1 1-1 1-1-1-1 1-1-1 1-1-1-1zm23-.3l1 1 1-1 1 1-1 1 1 1-1 1-1-1-1 1-1-1 1-1-1-1zm24.9-3.6l1 1 1-1 1 1-1 1 1 1-1 1-1-1-1 1-1-1 1-1-1-1zm22.9 2.4l1 1 1-1 1 1-1 1 1 1-1 1-1-1-1 1-1-1 1-1-1-1zm-114 3.1l1 1 1-1 1 1-1 1 1 1-1 1-1-1-1 1-1-1 1-1-1-1zm16.1-.4l1 1 1-1 1 1-1 1 1 1-1 1-1-1-1 1-1-1 1-1-1-1zm5.9-.5l1 1 1-1 1 1-1 1 1 1-1 1-1-1-1 1-1-1 1-1-1-1zm27.3 4.1l1 1 1-1 1 1-1 1 1 1-1 1-1-1-1 1-1-1 1-1-1-1zm7.6-3.2l1 1 1-1 1 1-1 1 1 1-1 1-1-1-1 1-1-1 1-1-1-1zm-73.1 8.1l1 1 1-1 1 1-1 1 1 1-1 1-1-1-1 1-1-1 1-1-1-1zm30.6 1.2l1 1 1-1 1 1-1 1 1 1-1 1-1-1-1 1-1-1 1-1-1-1zm7.4 .1l1 1 1-1 1 1-1 1 1 1-1 1-1-1-1 1-1-1 1-1-1-1zm22.2-4.2l1 1 1-1 1 1-1 1 1 1-1 1-1-1-1 1-1-1 1-1-1-1zm10.1 4.9l1 1 1-1 1 1-1 1 1 1-1 1-1-1-1 1-1-1 1-1-1-1zm10.9-4.7l1 1 1-1 1 1-1 1 1 1-1 1-1-1-1 1-1-1 1-1-1-1zm-44.2 11.5l1 1 1-1 1 1-1 1 1 1-1 1-1-1-1 1-1-1 1-1-1-1zm21.8 3l1 1 1-1 1 1-1 1 1 1-1 1-1-1-1 1-1-1 1-1-1-1zm12.8-1l1 1 1-1 1 1-1 1 1 1-1 1-1-1-1 1-1-1 1-1-1-1zm-19 5.8l1 1 1-1 1 1-1 1 1 1-1 1-1-1-1 1-1-1 1-1-1-1zm10.3 3l1 1 1-1 1 1-1 1 1 1-1 1-1-1-1 1-1-1 1-1-1-1zm-30.1 5.7l1 1 1-1 1 1-1 1 1 1-1 1-1-1-1 1-1-1 1-1-1-1zm7.6-3.6l1 1 1-1 1 1-1 1 1 1-1 1-1-1-1 1-1-1 1-1-1-1zm91.9 7.2l1 1 1-1 1 1-1 1 1 1-1 1-1-1-1 1-1-1 1-1-1-1z"/>
<path fill="#dd8452" d="M168.9 83.7l1 1 1-1 1 1-1 1 1 1-1 1-1-1-1 1-1-1 1-1-1-1zm6.6-3.6l1 1 1-1 1 1-1 1 1 1-1 1-1-1-1 1-1-1 1-1-1-1zm5.8 4.3l1 1 1-1 1 1-1 1 1 1-1 1-1-1-1 1-1-1 1-1-1-1zm.1-4.5l1 1 1-1 1 1-1 1 1 1-1 1-1-1-1 1-1-1 1-1-1-1zm69.3 9.1l1 1 1-1 1 1-1 1 1 1-1 1-1-1-1 1-1-1 1-1-1-1zm35.6 3.8l1 1 1-1 1 1-1 1 1 1-1 1-1-1-1 1-1-1 1-1-1-1zm-31.4 7.1l1 1 1-1 1 1-1 1 1 1-1 1-1-1-1 1-1-1 1-1-1-1zm34.4 .3l1 1 1-1 1 1-1 1 1 1-1 1-1-1-1 1-1-1 1-1-1-1zm34.2-2.8l1 1 1-1 1 1-1 1 1 1-1 1-1-1-1 1-1-1 1-1-1-1zm-131 6.3l1 1 1-1 1 1-1 1 1 1-1 1-1-1-1 1-1-1 1-1-1-1zm57.2 3.1l1 1 1-1 1 1-1 1 1 1-1 1-1-1-1 1-1-1 1-1-1-1zm24.3-2.1l1 1 1-1 1 1-1 1 1 1-1 1-1-1-1 1-1-1 1-1-1-1zm-92.6 4.9l1 1 1-1 1 1-1 1 1 1-1 1-1-1-1 1-1-1 1-1-1-1zm27.5 1.1l1 1 1-1 1 1-1 1 1 1-1 1-1-1-1 1-1-1 1-1-1-1zm31 1.3l1 1 1-1 1 1-1 1 1 1-1 1-1-1-1 1-1-1 1-1-1-1zm5.6 2.5l1 1 1-1 1 1-1 1 1 1-1 1-1-1-1 1-1-1 1-1-1-1zm21.7-4l1 1 1-1 1 1-1 1 1 1-1 1-1-1-1 1-1-1 1-1-1-1zm15.2 4l1 1 1-1 1 1-1 1 1 1-1 1-1-1-1 1-1-1 1-1-1-1zm26.7-4.9l1 1 1-1 1 1-1 1 1 1-1 1-1-1-1 1-1-1 1-1-1-1zm-66 10.4l1 1 1-1 1 1-1 1 1 1-1 1-1-1-1 1-1-1 1-1-1-1zm8.6-2.2l1 1 1-1 1 1-1 1 1 1-1 1-1-1-1 1-1-1 1-1-1-1zm8.6-1.9l1 1 1-1 1 1-1 1 1 1-1 1-1-1-1 1-1-1 1-1-1-1zm5 1.5l1 1 1-1 1 1-1 1 1 1-1 1-1-1-1 1-1-1 1-1-1-1zm29 .6l1 1 1-1 1 1-1 1 1 1-1 1-1-1-1 1-1-1 1-1-1-1zm24.2 3l1 1 1-1 1 1-1 1 1 1-1 1-1-1-1 1-1-1 1-1-1-1zm-124.5 1.1l1 1 1-1 1 1-1 1 1 1-1 1-1-1-1 1-1-1 1-1-1-1zm5.1 .5l1 1 1-1 1 1-1 1 1 1-1 1-1-1-1 1-1-1 1-1-1-1zm11.5 .5l1 1 1-1 1 1-1 1 1 1-1 1-1-1-1 1-1-1 1-1-1-1zm5.9 3.7l1 1 1-1 1 1-1 1 1 1-1 1-1-1-1 1-1-1 1-1-1-1zm4.5-2.5l1 1 1-1 1 1-1 1 1 1-1 1-1-1-1 1-1-1 1-1-1-1zm4.4-.8l1 1 1-1 1 1-1 1 1 1-1 1-1-1-1 1-1-1 1-1-1-1zm31.5 2.2l1 1 1-1 1 1-1 1 1 1-1 1-1-1-1 1-1-1 1-1-1-1zm.1-4.3l1 1 1-1 1 1-1 1 1 1-1 1-1-1-1 1-1-1 1-1-1-1zm34.3 1.5l1 1 1-1 1 1-1 1 1 1-1 1-1-1-1 1-1-1 1-1-1-1zm20.6 .3l1 1 1-1 1 1-1 1 1 1-1 1-1-1-1 1-1-1 1-1-1-1zm17.6 1.4l1 1 1-1 1 1-1 1 1 1-1 1-1-1-1 1-1-1 1-1-1-1zm-114.4 7.7l1 1 1-1 1 1-1 1 1 1-1 1-1-1-1 1-1-1 1-1-1-1zm11.7-.6l1 1 1-1 1 1-1 1 1 1-1 1-1-1-1 1-1-1 1-1-1-1zm8.8-2.7l1 1 1-1 1 1-1 1 1 1-1 1-1-1-1 1-1-1 1-1-1-1zm18.7 2.6l1 1 1-1 1 1-1 1 1 1-1 1-1-1-1 1-1-1 1-1-1-1zm15.5-3.8l1 1 1-1 1 1-1 1 1 1-1 1-1-1-1 1-1-1 1-1-1-1zm11.6 3.3l1 1 1-1 1 1-1 1 1 1-1 1-1-1-1 1-1-1 1-1-1-1zm16.2 .2l1 1 1-1 1 1-1 1 1 1-1 1-1-1-1 1-1-1 1-1-1-1zm7.3-2.1l1 1 1-1 1 1-1 1 1 1-1 1-1-1-1 1-1-1 1-1-1-1zm20.3 1.7l1 1 1-1 1 1-1 1 1 1-1 1-1-1-1 1-1-1 1-1-1-1zm-160.2 4.5l1 1 1-1 1 1-1 1 1 1-1 1-1-1-1 1-1-1 1-1-1-1zm27.6-2.1l1 1 1-1 1 1-1 1 1 1-1 1-1-1-1 1-1-1 1-1-1-1zm7.6 .2l1 1 1-1 1 1-1 1 1 1-1 1-1-1-1 1-1-1 1-1-1-1zm2.7 5.2l1 1 1-1 1 1-1 1 1 1-1 1-1-1-1 1-1-1 1-1-1-1zm2.1-5.3l1 1 1-1 1 1-1 1 1 1-1 1-1-1-1 1-1-1 1-1-1-1zm24.6 4.6l1 1 1-1 1 1-1 1 1 1-1 1-1-1-1 1-1-1 1-1-1-1zm13.1-4.7l1 1 1-1 1 1-1 1 1 1-1 1-1-1-1 1-1-1 1-1-1-1zm66.6 1.6l1 1 1-1 1 1-1 1 1 1-1 1-1-1-1 1-1-1 1-1-1-1zm21.1 2.1l1 1 1-1 1 1-1 1 1 1-1 1-1-1-1 1-1-1 1-1-1-1zm-177 6.7l1 1 1-1 1 1-1 1 1 1-1 1-1-1-1 1-1-1 1-1-1-1zm14.8-2.4l1 1 1-1 1 1-1 1 1 1-1 1-1-1-1 1-1-1 1-1-1-1zm51.1 3l1 1 1-1 1 1-1 1 1 1-1 1-1-1-1 1-1-1 1-1-1-1zm20.1-3.2l1 1 1-1 1 1-1 1 1 1-1 1-1-1-1 1-1-1 1-1-1-1zm4.4 3.4l1 1 1-1 1 1-1 1 1 1-1 1-1-1-1 1-1-1 1-1-1-1zm5.3-2.5l1 1 1-1 1 1-1 1 1 1-1 1-1-1-1 1-1-1 1-1-1-1zm5.9 .9l1 1 1-1 1 1-1 1 1 1-1 1-1-1-1 1-1-1 1-1-1-1zm14.1-.6l1 1 1-1 1 1-1 1 1 1-1 1-1-1-1 1-1-1 1-1-1-1zm15.4-3.1l1 1 1-1 1 1-1 1 1 1-1 1-1-1-1 1-1-1 1-1-1-1zm32.7 3.5l1 1 1-1 1 1-1 1 1 1-1 1-1-1-1 1-1-1 1-1-1-1zm5.9 .9l1 1 1-1 1 1-1 1 1 1-1 1-1-1-1 1-1-1 1-1-1-1zm-135.7 7.2l1 1 1-1 1 1-1 1 1 1-1 1-1-1-1 1-1-1 1-1-1-1zm11.3-5l1 1 1-1 1 1-1 1 1 1-1 1-1-1-1 1-1-1 1-1-1-1zm8.3 2.9l1 1 1-1 1 1-1 1 1 1-1 1-1-1-1 1-1-1 1-1-1-1zm57.3-1.9l1 1 1-1 1 1-1 1 1 1-1 1-1-1-1 1-1-1 1-1-1-1zm22.1 2.7l1 1 1-1 1 1-1 1 1 1-1 1-1-1-1 1-1-1 1-1-1-1zm-114.7 2.1l1 1 1-1 1 1-1 1 1 1-1 1-1-1-1 1-1-1 1-1-1-1zm5.5 5.1l1 1 1-1 1 1-1 1 1 1-1 1-1-1-1 1-1-1 1-1-1-1zm36.7-.4l1 1 1-1 1 1-1 1 1 1-1 1-1-1-1 1-1-1 1-1-1-1zm16.6 .2l1 1 1-1 1 1-1 1 1 1-1 1-1-1-1 1-1-1 1-1-1-1zm8.9-3l1 1 1-1 1 1-1 1 1 1-1 1-1-1-1 1-1-1 1-1-1-1zm17.3-1l1 1 1-1 1 1-1 1 1 1-1 1-1-1-1 1-1-1 1-1-1-1zm16 1.3l1 1 1-1 1 1-1 1 1 1-1 1-1-1-1 1-1-1 1-1-1-1zm-79.6 6.4l1 1 1-1 1 1-1 1 1 1-1 1-1-1-1 1-1-1 1-1-1-1zm25.9-2.1l1 1 1-1 1 1-1 1 1 1-1 1-1-1-1 1-1-1 1-1-1-1zm18.4 .3l1 1 1-1 1 1-1 1 1 1-1 1-1-1-1 1-1-1 1-1-1-1zm25.5-.9l1 1 1-1 1 1-1 1 1 1-1 1-1-1-1 1-1-1 1-1-1-1zm25.6 4.6l1 1 1-1 1 1-1 1 1 1-1 1-1-1-1 1-1-1 1-1-1-1zm11.1-2.5l1 1 1-1 1 1-1 1 1 1-1 1-1-1-1 1-1-1 1-1-1-1zm-108.2 8.8l1 1 1-1 1 1-1 1 1 1-1 1-1-1-1 1-1-1 1-1-1-1zm6.4-4.3l1 1 1-1 1 1-1 1 1 1-1 1-1-1-1 1-1-1 1-1-1-1zm7.4 3l1 1 1-1 1 1-1 1 1 1-1 1-1-1-1 1-1-1 1-1-1-1zm11.3-1.6l1 1 1-1 1 1-1 1 1 1-1 1-1-1-1 1-1-1 1-1-1-1zm15.2-.8l1 1 1-1 1 1-1 1 1 1-1 1-1-1-1 1-1-1 1-1-1-1zm5.7 2.4l1 1 1-1 1 1-1 1 1 1-1 1-1-1-1 1-1-1 1-1-1-1zm17.6-1.1l1 1 1-1 1 1-1 1 1 1-1 1-1-1-1 1-1-1 1-1-1-1zm4.6-1.4l1 1 1-1 1 1-1 1 1 1-1 1-1-1-1 1-1-1 1-1-1-1zm10.6-1.3l1 1 1-1 1 1-1 1 1 1-1 1-1-1-1 1-1-1 1-1-1-1zm11.3-.2l1 1 1-1 1 1-1 1 1 1-1 1-1-1-1 1-1-1 1-1-1-1zm11.7 4l1 1 1-1 1 1-1 1 1 1-1 1-1-1-1 1-1-1 1-1-1-1zm43.4-3.6l1 1 1-1 1 1-1 1 1 1-1 1-1-1-1 1-1-1 1-1-1-1zm-157.4 8.7l1 1 1-1 1 1-1 1 1 1-1 1-1-1-1 1-1-1 1-1-1-1zm20.7 1.6l1 1 1-1 1 1-1 1 1 1-1 1-1-1-1 1-1-1 1-1-1-1zm9.9-3.7l1 1 1-1 1 1-1 1 1 1-1 1-1-1-1 1-1-1 1-1-1-1zm5.9 .2l1 1 1-1 1 1-1 1 1 1-1 1-1-1-1 1-1-1 1-1-1-1zm6.1 2.8l1 1 1-1 1 1-1 1 1 1-1 1-1-1-1 1-1-1 1-1-1-1zm95 .1l1 1 1-1 1 1-1 1 1 1-1 1-1-1-1 1-1-1 1-1-1-1zm20.5-3.3l1 1 1-1 1 1-1 1 1 1-1 1-1-1-1 1-1-1 1-1-1-1zm-189.6 5.7l1 1 1-1 1 1-1 1 1 1-1 1-1-1-1 1-1-1 1-1-1-1zm41.2 1.3l1 1 1-1 1 1-1 1 1 1-1 1-1-1-1 1-1-1 1-1-1-1zm17.3 2.6l1 1 1-1 1 1-1 1 1 1-1 1-1-1-1 1-1-1 1-1-1-1zm9.6-1l1 1 1-1 1 1-1 1 1 1-1 1-1-1-1 1-1-1 1-1-1-1zm18-2.7l1 1 1-1 1 1-1 1 1 1-1 1-1-1-1 1-1-1 1-1-1-1zm14.8 1.2l1 1 1-1 1 1-1 1 1 1-1 1-1-1-1 1-1-1 1-1-1-1zm21 .6l1 1 1-1 1 1-1 1 1 1-1 1-1-1-1 1-1-1 1-1-1-1zm13.5 2.2l1 1 1-1 1 1-1 1 1 1-1 1-1-1-1 1-1-1 1-1-1-1zm6.5 .1l1 1 1-1 1 1-1 1 1 1-1 1-1-1-1 1-1-1 1-1-1-1zm25.1-1.2l1 1 1-1 1 1-1 1 1 1-1 1-1-1-1 1-1-1 1-1-1-1zm-155.2 8.1l1 1 1-1 1 1-1 1 1 1-1 1-1-1-1 1-1-1 1-1-1-1zm7.2 0l1 1 1-1 1 1-1 1 1 1-1 1-1-1-1 1-1-1 1-1-1-1zm7.8-2.5l1 1 1-1 1 1-1 1 1 1-1 1-1-1-1 1-1-1 1-1-1-1zm5.3-.2l1 1 1-1 1 1-1 1 1 1-1 1-1-1-1 1-1-1 1-1-1-1zm8 2.6l1 1 1-1 1 1-1 1 1 1-1 1-1-1-1 1-1-1 1-1-1-1zm41.3-.2l1 1 1-1 1 1-1 1 1 1-1 1-1-1-1 1-1-1 1-1-1-1zm5.9-.9l1 1 1-1 1 1-1 1 1 1-1 1-1-1-1 1-1-1 1-1-1-1zm9 .8l1 1 1-1 1 1-1 1 1 1-1 1-1-1-1 1-1-1 1-1-1-1zm33.2-4.7l1 1 1-1 1 1-1 1 1 1-1 1-1-1-1 1-1-1 1-1-1-1zm6.4 3.9l1 1 1-1 1 1-1 1 1 1-1 1-1-1-1 1-1-1 1-1-1-1zm10.7-4.2l1 1 1-1 1 1-1 1 1 1-1 1-1-1-1 1-1-1 1-1-1-1zm12 3.1l1 1 1-1 1 1-1 1 1 1-1 1-1-1-1 1-1-1 1-1-1-1zm-150.9 8.3l1 1 1-1 1 1-1 1 1 1-1 1-1-1-1 1-1-1 1-1-1-1zm51.5-.1l1 1 1-1 1 1-1 1 1 1-1 1-1-1-1 1-1-1 1-1-1-1zm44.8-4.4l1 1 1-1 1 1-1 1 1 1-1 1-1-1-1 1-1-1 1-1-1-1zm14.4 .8l1 1 1-1 1 1-1 1 1 1-1 1-1-1-1 1-1-1 1-1-1-1zm32.6-.2l1 1 1-1 1 1-1 1 1 1-1 1-1-1-1 1-1-1 1-1-1-1zm10.4 2.9l1 1 1-1 1 1-1 1 1 1-1 1-1-1-1 1-1-1 1-1-1-1zm-161.1 5.9l1 1 1-1 1 1-1 1 1 1-1 1-1-1-1 1-1-1 1-1-1-1zm18.1-3.7l1 1 1-1 1 1-1 1 1 1-1 1-1-1-1 1-1-1 1-1-1-1zm5.9 .6l1 1 1-1 1 1-1 1 1 1-1 1-1-1-1 1-1-1 1-1-1-1zm8.7 2.2l1 1 1-1 1 1-1 1 1 1-1 1-1-1-1 1-1-1 1-1-1-1zm9.7 1.8l1 1 1-1 1 1-1 1 1 1-1 1-1-1-1 1-1-1 1-1-1-1zm10.5-5.4l1 1 1-1 1 1-1 1 1 1-1 1-1-1-1 1-1-1 1-1-1-1zm36.2 4.1l1 1 1-1 1 1-1 1 1 1-1 1-1-1-1 1-1-1 1-1-1-1zm35.8 .5l1 1 1-1 1 1-1 1 1 1-1 1-1-1-1 1-1-1 1-1-1-1zm13.3-3.4l1 1 1-1 1 1-1 1 1 1-1 1-1-1-1 1-1-1 1-1-1-1zm-102.1 10.5l1 1 1-1 1 1-1 1 1 1-1 1-1-1-1 1-1-1 1-1-1-1zm18.3-5.7l1 1 1-1 1 1-1 1 1 1-1 1-1-1-1 1-1-1 1-1-1-1zm9.6 2.5l1 1 1-1 1 1-1 1 1 1-1 1-1-1-1 1-1-1 1-1-1-1zm13.5 1.6l1 1 1-1 1 1-1 1 1 1-1 1-1-1-1 1-1-1 1-1-1-1zm67-3.1l1 1 1-1 1 1-1 1 1 1-1 1-1-1-1 1-1-1 1-1-1-1zm4.4 4.1l1 1 1-1 1 1-1 1 1 1-1 1-1-1-1 1-1-1 1-1-1-1zm17.8-.4l1 1 1-1 1 1-1 1 1 1-1 1-1-1-1 1-1-1 1-1-1-1zm5.6-.9l1 1 1-1 1 1-1 1 1 1-1 1-1-1-1 1-1-1 1-1-1-1zm-160.3 5.6l1 1 1-1 1 1-1 1 1 1-1 1-1-1-1 1-1-1 1-1-1-1zm7.4 1.5l1 1 1-1 1 1-1 1 1 1-1 1-1-1-1 1-1-1 1-1-1-1zm42.1-2.8l1 1 1-1 1 1-1 1 1 1-1 1-1-1-1 1-1-1 1-1-1-1zm21.7-1.2l1 1 1-1 1 1-1 1 1 1-1 1-1-1-1 1-1-1 1-1-1-1zm19.5 2.6l1 1 1-1 1 1-1 1 1 1-1 1-1-1-1 1-1-1 1-1-1-1zm18.4-2.4l1 1 1-1 1 1-1 1 1 1-1 1-1-1-1 1-1-1 1-1-1-1zm13.4-.9l1 1 1-1 1 1-1 1 1 1-1 1-1-1-1 1-1-1 1-1-1-1zm34.6 3.1l1 1 1-1 1 1-1 1 1 1-1 1-1-1-1 1-1-1 1-1-1-1zm6.5 2l1 1 1-1 1 1-1 1 1 1-1 1-1-1-1 1-1-1 1-1-1-1zm-139.3 3.5l1 1 1-1 1 1-1 1 1 1-1 1-1-1-1 1-1-1 1-1-1-1zm31.4 3.1l1 1 1-1 1 1-1 1 1 1-1 1-1-1-1 1-1-1 1-1-1-1zm13.4-3.2l1 1 1-1 1 1-1 1 1 1-1 1-1-1-1 1-1-1 1-1-1-1zm10.8 2.6l1 1 1-1 1 1-1 1 1 1-1 1-1-1-1 1-1-1 1-1-1-1zm6.2-2.7l1 1 1-1 1 1-1 1 1 1-1 1-1-1-1 1-1-1 1-1-1-1zm10.9-2.2l1 1 1-1 1 1-1 1 1 1-1 1-1-1-1 1-1-1 1-1-1-1zm.4 4.8l1 1 1-1 1 1-1 1 1 1-1 1-1-1-1 1-1-1 1-1-1-1zm-116.5 4.4l1 1 1-1 1 1-1 1 1 1-1 1-1-1-1 1-1-1 1-1-1-1zm29.1-1.3l1 1 1-1 1 1-1 1 1 1-1 1-1-1-1 1-1-1 1-1-1-1zm4.6-1.8l1 1 1-1 1 1-1 1 1 1-1 1-1-1-1 1-1-1 1-1-1-1zm9.2 2.2l1 1 1-1 1 1-1 1 1 1-1 1-1-1-1 1-1-1 1-1-1-1zm11.2 .2l1 1 1-1 1 1-1 1 1 1-1 1-1-1-1 1-1-1 1-1-1-1zm15.9-1.2l1 1 1-1 1 1-1 1 1 1-1 1-1-1-1 1-1-1 1-1-1-1zm29 3.2l1 1 1-1 1 1-1 1 1 1-1 1-1-1-1 1-1-1 1-1-1-1zm11.8-1.8l1 1 1-1 1 1-1 1 1 1-1 1-1-1-1 1-1-1 1-1-1-1zm19.5 2.8l1 1 1-1 1 1-1 1 1 1-1 1-1-1-1 1-1-1 1-1-1-1zm17.7-5.2l1 1 1-1 1 1-1 1 1 1-1 1-1-1-1 1-1-1 1-1-1-1zm-135.2 7.2l1 1 1-1 1 1-1 1 1 1-1 1-1-1-1 1-1-1 1-1-1-1zm7.1 1.6l1 1 1-1 1 1-1 1 1 1-1 1-1-1-1 1-1-1 1-1-1-1zm10.3 1l1 1 1-1 1 1-1 1 1 1-1 1-1-1-1 1-1-1 1-1-1-1zm19.3-1.1l1 1 1-1 1 1-1 1 1 1-1 1-1-1-1 1-1-1 1-1-1-1zm21.8 2.1l1 1 1-1 1 1-1 1 1 1-1 1-1-1-1 1-1-1 1-1-1-1zm8.3-3.6l1 1 1-1 1 1-1 1 1 1-1 1-1-1-1 1-1-1 1-1-1-1zm55.1 .7l1 1 1-1 1 1-1 1 1 1-1 1-1-1-1 1-1-1 1-1-1-1zm11.1 1.7l1 1 1-1 1 1-1 1 1 1-1 1-1-1-1 1-1-1 1-1-1-1zm-101.7 4.9l1 1 1-1 1 1-1 1 1 1-1 1-1-1-1 1-1-1 1-1-1-1zm33.8-.3l1 1 1-1 1 1-1 1 1 1-1 1-1-1-1 1-1-1 1-1-1-1zm43.3 2.7l1 1 1-1 1 1-1 1 1 1-1 1-1-1-1 1-1-1 1-1-1-1zm13-3.5l1 1 1-1 1 1-1 1 1 1-1 1-1-1-1 1-1-1 1-1-1-1zm5.3 1.4l1 1 1-1 1 1-1 1 1 1-1 1-1-1-1 1-1-1 1-1-1-1zm-96.3 6.2l1 1 1-1 1 1-1 1 1 1-1 1-1-1-1 1-1-1 1-1-1-1zm9-.6l1 1 1-1 1 1-1 1 1 1-1 1-1-1-1 1-1-1 1-1-1-1zm24.7 2.2l1 1 1-1 1 1-1 1 1 1-1 1-1-1-1 1-1-1 1-1-1-1zm5.4-3.5l1 1 1-1 1 1-1 1 1 1-1 1-1-1-1 1-1-1 1-1-1-1zm4.7 4.1l1 1 1-1 1 1-1 1 1 1-1 1-1-1-1 1-1-1 1-1-1-1zm20.9-3.3l1 1 1-1 1 1-1 1 1 1-1 1-1-1-1 1-1-1 1-1-1-1zm60.3 1.1l1 1 1-1 1 1-1 1 1 1-1 1-1-1-1 1-1-1 1-1-1-1zm-144.1 2.6l1 1 1-1 1 1-1 1 1 1-1 1-1-1-1 1-1-1 1-1-1-1zm27.4 1.9l1 1 1-1 1 1-1 1 1 1-1 1-1-1-1 1-1-1 1-1-1-1zm41.1-.2l1 1 1-1 1 1-1 1 1 1-1 1-1-1-1 1-1-1 1-1-1-1zm21.9 .3l1 1 1-1 1 1-1 1 1 1-1 1-1-1-1 1-1-1 1-1-1-1zm52.7-.1l1 1 1-1 1 1-1 1 1 1-1 1-1-1-1 1-1-1 1-1-1-1zm-123.7 8.9l1 1 1-1 1 1-1 1 1 1-1 1-1-1-1 1-1-1 1-1-1-1zm22.2-3.7l1 1 1-1 1 1-1 1 1 1-1 1-1-1-1 1-1-1 1-1-1-1zm4.4-.5l1 1 1-1 1 1-1 1 1 1-1 1-1-1-1 1-1-1 1-1-1-1zm59.1 .6l1 1 1-1 1 1-1 1 1 1-1 1-1-1-1 1-1-1 1-1-1-1zm-104.6 10.1l1 1 1-1 1 1-1 1 1 1-1 1-1-1-1 1-1-1 1-1-1-1zm12.1-.6l1 1 1-1 1 1-1 1 1 1-1 1-1-1-1 1-1-1 1-1-1-1zm17.4-4.4l1 1 1-1 1 1-1 1 1 1-1 1-1-1-1 1-1-1 1-1-1-1zm41.2-.1l1 1 1-1 1 1-1 1 1 1-1 1-1-1-1 1-1-1 1-1-1-1zm5.3 2.8l1 1 1-1 1 1-1 1 1 1-1 1-1-1-1 1-1-1 1-1-1-1zm7.5-1.2l1 1 1-1 1 1-1 1 1 1-1 1-1-1-1 1-1-1 1-1-1-1zm49.3-1.9l1 1 1-1 1 1-1 1 1 1-1 1-1-1-1 1-1-1 1-1-1-1zm-91.2 10.3l1 1 1-1 1 1-1 1 1 1-1 1-1-1-1 1-1-1 1-1-1-1zm38.1-.6l1 1 1-1 1 1-1 1 1 1-1 1-1-1-1 1-1-1 1-1-1-1zm-48.4 4.8l1 1 1-1 1 1-1 1 1 1-1 1-1-1-1 1-1-1 1-1-1-1zm7.9 1.9l1 1 1-1 1 1-1 1 1 1-1 1-1-1-1 1-1-1 1-1-1-1zm-3.2 4.9l1 1 1-1 1 1-1 1 1 1-1 1-1-1-1 1-1-1 1-1-1-1zm2.2 6.8l1 1 1-1 1 1-1 1 1 1-1 1-1-1-1 1-1-1 1-1-1-1zm16.2 .3l1 1 1-1 1 1-1 1 1 1-1 1-1-1-1 1-1-1 1-1-1-1zm-21 2.4l1 1 1-1 1 1-1 1 1 1-1 1-1-1-1 1-1-1 1-1-1-1zm11.1 2.4l1 1 1-1 1 1-1 1 1 1-1 1-1-1-1 1-1-1 1-1-1-1zm86.3 3.1l1 1 1-1 1 1-1 1 1 1-1 1-1-1-1 1-1-1 1-1-1-1z"/>
<path fill="#dd8452" d="M179 77.3l1 1 1-1 1 1-1 1 1 1-1 1-1-1-1 1-1-1 1-1-1-1zm-13.4 4.1l1 1 1-1 1 1-1 1 1 1-1 1-1-1-1 1-1-1 1-1-1-1zm9.9 1.9l1 1 1-1 1 1-1 1 1 1-1 1-1-1-1 1-1-1 1-1-1-1zm-4.5 3.7l1 1 1-1 1 1-1 1 1 1-1 1-1-1-1 1-1-1 1-1-1-1zm75.4 6.2l1 1 1-1 1 1-1 1 1 1-1 1-1-1-1 1-1-1 1-1-1-1zm11.9 2.6l1 1 1-1 1 1-1 1 1 1-1 1-1-1-1 1-1-1 1-1-1-1zm64.9-1.5l1 1 1-1 1 1-1 1 1 1-1 1-1-1-1 1-1-1 1-1-1-1zm-130.8 12.9l1 1 1-1 1 1-1 1 1 1-1 1-1-1-1 1-1-1 1-1-1-1zm47.7 1.4l1 1 1-1 1 1-1 1 1 1-1 1-1-1-1 1-1-1 1-1-1-1zm12.1 .4l1 1 1-1 1 1-1 1 1 1-1 1-1-1-1 1-1-1 1-1-1-1zm12.4-.9l1 1 1-1 1 1-1 1 1 1-1 1-1-1-1 1-1-1 1-1-1-1zm5.4-4.5l1 1 1-1 1 1-1 1 1 1-1 1-1-1-1 1-1-1 1-1-1-1zm.1 11l1 1 1-1 1 1-1 1 1 1-1 1-1-1-1 1-1-1 1-1-1-1zm-31.1 .6l1 1 1-1 1 1-1 1 1 1-1 1-1-1-1 1-1-1 1-1-1-1zm47.4 .3l1 1 1-1 1 1-1 1 1 1-1 1-1-1-1 1-1-1 1-1-1-1zm8.4-.1l1 1 1-1 1 1-1 1 1 1-1 1-1-1-1 1-1-1 1-1-1-1zm-77.1 8.9l1 1 1-1 1 1-1 1 1 1-1 1-1-1-1 1-1-1 1-1-1-1zm21.3-3l1 1 1-1 1 1-1 1 1 1-1 1-1-1-1 1-1-1 1-1-1-1zm6 1.8l1 1 1-1 1 1-1 1 1 1-1 1-1-1-1 1-1-1 1-1-1-1zm28.4 2.5l1 1 1-1 1 1-1 1 1 1-1 1-1-1-1 1-1-1 1-1-1-1zm14.1-3.3l1 1 1-1 1 1-1 1 1 1-1 1-1-1-1 1-1-1 1-1-1-1zm21.6 .2l1 1 1-1 1 1-1 1 1 1-1 1-1-1-1 1-1-1 1-1-1-1zm16.6-.7l1 1 1-1 1 1-1 1 1 1-1 1-1-1-1 1-1-1 1-1-1-1zm8.1 2.1l1 1 1-1 1 1-1 1 1 1-1 1-1-1-1 1-1-1 1-1-1-1zm-109.5 7.6l1 1 1-1 1 1-1 1 1 1-1 1-1-1-1 1-1-1 1-1-1-1zm26.7 .1l1 1 1-1 1 1-1 1 1 1-1 1-1-1-1 1-1-1 1-1-1-1zm33.1-4.3l1 1 1-1 1 1-1 1 1 1-1 1-1-1-1 1-1-1 1-1-1-1zm38.1-.1l1 1 1-1 1 1-1 1 1 1-1 1-1-1-1 1-1-1 1-1-1-1zm5.3 3.8l1 1 1-1 1 1-1 1 1 1-1 1-1-1-1 1-1-1 1-1-1-1zm-165.3 2.9l1 1 1-1 1 1-1 1 1 1-1 1-1-1-1 1-1-1 1-1-1-1zm67.2 1l1 1 1-1 1 1-1 1 1 1-1 1-1-1-1 1-1-1 1-1-1-1zm17.1-.6l1 1 1-1 1 1-1 1 1 1-1 1-1-1-1 1-1-1 1-1-1-1zm12.1 1.5l1 1 1-1 1 1-1 1 1 1-1 1-1-1-1 1-1-1 1-1-1-1zm20.1-1.9l1 1 1-1 1 1-1 1 1 1-1 1-1-1-1 1-1-1 1-1-1-1zm28.4 2.4l1 1 1-1 1 1-1 1 1 1-1 1-1-1-1 1-1-1 1-1-1-1zm-84.2 8.5l1 1 1-1 1 1-1 1 1 1-1 1-1-1-1 1-1-1 1-1-1-1zm5.6-2.5l1 1 1-1 1 1-1 1 1 1-1 1-1-1-1 1-1-1 1-1-1-1zm8.2 0l1 1 1-1 1 1-1 1 1 1-1 1-1-1-1 1-1-1 1-1-1-1zm30-1.1l1 1 1-1 1 1-1 1 1 1-1 1-1-1-1 1-1-1 1-1-1-1zm17.1 .8l1 1 1-1 1 1-1 1 1 1-1 1-1-1-1 1-1-1 1-1-1-1zm34 2.2l1 1 1-1 1 1-1 1 1 1-1 1-1-1-1 1-1-1 1-1-1-1zm-133.7 2.6l1 1 1-1 1 1-1 1 1 1-1 1-1-1-1 1-1-1 1-1-1-1zm20.1 1.4l1 1 1-1 1 1-1 1 1 1-1 1-1-1-1 1-1-1 1-1-1-1zm11.4-1.9l1 1 1-1 1 1-1 1 1 1-1 1-1-1-1 1-1-1 1-1-1-1zm29.9 .5l1 1 1-1 1 1-1 1 1 1-1 1-1-1-1 1-1-1 1-1-1-1zm27.2 4l1 1 1-1 1 1-1 1 1 1-1 1-1-1-1 1-1-1 1-1-1-1zm.7-4.6l1 1 1-1 1 1-1 1 1 1-1 1-1-1-1 1-1-1 1-1-1-1zm8.9 2.8l1 1 1-1 1 1-1 1 1 1-1 1-1-1-1 1-1-1 1-1-1-1zm-39.6 4.5l1 1 1-1 1 1-1 1 1 1-1 1-1-1-1 1-1-1 1-1-1-1zm30.1 3.5l1 1 1-1 1 1-1 1 1 1-1 1-1-1-1 1-1-1 1-1-1-1zm-75.3 4.2l1 1 1-1 1 1-1 1 1 1-1 1-1-1-1 1-1-1 1-1-1-1zm13.4-3.1l1 1 1-1 1 1-1 1 1 1-1 1-1-1-1 1-1-1 1-1-1-1zm5.4 4.9l1 1 1-1 1 1-1 1 1 1-1 1-1-1-1 1-1-1 1-1-1-1zm14.6-3l1 1 1-1 1 1-1 1 1 1-1 1-1-1-1 1-1-1 1-1-1-1zm20.3 2.2l1 1 1-1 1 1-1 1 1 1-1 1-1-1-1 1-1-1 1-1-1-1zm36.6-3.1l1 1 1-1 1 1-1 1 1 1-1 1-1-1-1 1-1-1 1-1-1-1zm14.8-1.2l1 1 1-1 1 1-1 1 1 1-1 1-1-1-1 1-1-1 1-1-1-1zm-103.3 9.3l1 1 1-1 1 1-1 1 1 1-1 1-1-1-1 1-1-1 1-1-1-1zm30-1.1l1 1 1-1 1 1-1 1 1 1-1 1-1-1-1 1-1-1 1-1-1-1zm9.7-1.7l1 1 1-1 1 1-1 1 1 1-1 1-1-1-1 1-1-1 1-1-1-1zm22.2 3.1l1 1 1-1 1 1-1 1 1 1-1 1-1-1-1 1-1-1 1-1-1-1zm12.2-2.3l1 1 1-1 1 1-1 1 1 1-1 1-1-1-1 1-1-1 1-1-1-1zm10.6-1.1l1 1 1-1 1 1-1 1 1 1-1 1-1-1-1 1-1-1 1-1-1-1zm-104.4 5.5l1 1 1-1 1 1-1 1 1 1-1 1-1-1-1 1-1-1 1-1-1-1zm2.2 4.6l1 1 1-1 1 1-1 1 1 1-1 1-1-1-1 1-1-1 1-1-1-1zm6.2-4.1l1 1 1-1 1 1-1 1 1 1-1 1-1-1-1 1-1-1 1-1-1-1zm31.9-.1l1 1 1-1 1 1-1 1 1 1-1 1-1-1-1 1-1-1 1-1-1-1zm11.2 1.7l1 1 1-1 1 1-1 1 1 1-1 1-1-1-1 1-1-1 1-1-1-1zm7.4-2l1 1 1-1 1 1-1 1 1 1-1 1-1-1-1 1-1-1 1-1-1-1zm56.4-.2l1 1 1-1 1 1-1 1 1 1-1 1-1-1-1 1-1-1 1-1-1-1zm44.8 2.4l1 1 1-1 1 1-1 1 1 1-1 1-1-1-1 1-1-1 1-1-1-1zm-131.5 4.5l1 1 1-1 1 1-1 1 1 1-1 1-1-1-1 1-1-1 1-1-1-1zm15.6 .7l1 1 1-1 1 1-1 1 1 1-1 1-1-1-1 1-1-1 1-1-1-1zm55.8-.2l1 1 1-1 1 1-1 1 1 1-1 1-1-1-1 1-1-1 1-1-1-1zm7.2 2.9l1 1 1-1 1 1-1 1 1 1-1 1-1-1-1 1-1-1 1-1-1-1zm11 1l1 1 1-1 1 1-1 1 1 1-1 1-1-1-1 1-1-1 1-1-1-1zm-130.5 2.4l1 1 1-1 1 1-1 1 1 1-1 1-1-1-1 1-1-1 1-1-1-1zm24.8 2.3l1 1 1-1 1 1-1 1 1 1-1 1-1-1-1 1-1-1 1-1-1-1zm41.9-3.5l1 1 1-1 1 1-1 1 1 1-1 1-1-1-1 1-1-1 1-1-1-1zm14.4-.7l1 1 1-1 1 1-1 1 1 1-1 1-1-1-1 1-1-1 1-1-1-1zm14.7 5.6l1 1 1-1 1 1-1 1 1 1-1 1-1-1-1 1-1-1 1-1-1-1zm6.8-1.9l1 1 1-1 1 1-1 1 1 1-1 1-1-1-1 1-1-1 1-1-1-1zm32.7-2.4l1 1 1-1 1 1-1 1 1 1-1 1-1-1-1 1-1-1 1-1-1-1zm-144.9 8.1l1 1 1-1 1 1-1 1 1 1-1 1-1-1-1 1-1-1 1-1-1-1zm40.1-.9l1 1 1-1 1 1-1 1 1 1-1 1-1-1-1 1-1-1 1-1-1-1zm5.4 1.7l1 1 1-1 1 1-1 1 1 1-1 1-1-1-1 1-1-1 1-1-1-1zm23.6-2.8l1 1 1-1 1 1-1 1 1 1-1 1-1-1-1 1-1-1 1-1-1-1zm12.9 1l1 1 1-1 1 1-1 1 1 1-1 1-1-1-1 1-1-1 1-1-1-1zm14.6-1.6l1 1 1-1 1 1-1 1 1 1-1 1-1-1-1 1-1-1 1-1-1-1zm13.5 3.1l1 1 1-1 1 1-1 1 1 1-1 1-1-1-1 1-1-1 1-1-1-1zm15.4-.6l1 1 1-1 1 1-1 1 1 1-1 1-1-1-1 1-1-1 1-1-1-1zm-138.2 5l1 1 1-1 1 1-1 1 1 1-1 1-1-1-1 1-1-1 1-1-1-1zm18.8 .8l1 1 1-1 1 1-1 1 1 1-1 1-1-1-1 1-1-1 1-1-1-1zm5.1-1.5l1 1 1-1 1 1-1 1 1 1-1 1-1-1-1 1-1-1 1-1-1-1zm11.7-1l1 1 1-1 1 1-1 1 1 1-1 1-1-1-1 1-1-1 1-1-1-1zm28.8-.1l1 1 1-1 1 1-1 1 1 1-1 1-1-1-1 1-1-1 1-1-1-1zm66.1 2.9l1 1 1-1 1 1-1 1 1 1-1 1-1-1-1 1-1-1 1-1-1-1zm17 .2l1 1 1-1 1 1-1 1 1 1-1 1-1-1-1 1-1-1 1-1-1-1zm16.1-1.3l1 1 1-1 1 1-1 1 1 1-1 1-1-1-1 1-1-1 1-1-1-1zm-122.4 7.4l1 1 1-1 1 1-1 1 1 1-1 1-1-1-1 1-1-1 1-1-1-1zm51.1-2.7l1 1 1-1 1 1-1 1 1 1-1 1-1-1-1 1-1-1 1-1-1-1zm40 1.2l1 1 1-1 1 1-1 1 1 1-1 1-1-1-1 1-1-1 1-1-1-1zm39.6-2.1l1 1 1-1 1 1-1 1 1 1-1 1-1-1-1 1-1-1 1-1-1-1zm-159.2 11.3l1 1 1-1 1 1-1 1 1 1-1 1-1-1-1 1-1-1 1-1-1-1zm4.2-5.5l1 1 1-1 1 1-1 1 1 1-1 1-1-1-1 1-1-1 1-1-1-1zm8.5 1.1l1 1 1-1 1 1-1 1 1 1-1 1-1-1-1 1-1-1 1-1-1-1zm9.6 1.9l1 1 1-1 1 1-1 1 1 1-1 1-1-1-1 1-1-1 1-1-1-1zm51.7 .8l1 1 1-1 1 1-1 1 1 1-1 1-1-1-1 1-1-1 1-1-1-1zm20.6-2.5l1 1 1-1 1 1-1 1 1 1-1 1-1-1-1 1-1-1 1-1-1-1zm7.3 1.9l1 1 1-1 1 1-1 1 1 1-1 1-1-1-1 1-1-1 1-1-1-1zm25.9-2.8l1 1 1-1 1 1-1 1 1 1-1 1-1-1-1 1-1-1 1-1-1-1zm7.1 .7l1 1 1-1 1 1-1 1 1 1-1 1-1-1-1 1-1-1 1-1-1-1zm23.6 2.3l1 1 1-1 1 1-1 1 1 1-1 1-1-1-1 1-1-1 1-1-1-1zm-130.7 2.8l1 1 1-1 1 1-1 1 1 1-1 1-1-1-1 1-1-1 1-1-1-1zm10.2 4.6l1 1 1-1 1 1-1 1 1 1-1 1-1-1-1 1-1-1 1-1-1-1zm11.4-.6l1 1 1-1 1 1-1 1 1 1-1 1-1-1-1 1-1-1 1-1-1-1zm10.6-.2l1 1 1-1 1 1-1 1 1 1-1 1-1-1-1 1-1-1 1-1-1-1zm9.7 1.3l1 1 1-1 1 1-1 1 1 1-1 1-1-1-1 1-1-1 1-1-1-1zm15.6-1.5l1 1 1-1 1 1-1 1 1 1-1 1-1-1-1 1-1-1 1-1-1-1zm6.7-2.4l1 1 1-1 1 1-1 1 1 1-1 1-1-1-1 1-1-1 1-1-1-1zm74.7 2.1l1 1 1-1 1 1-1 1 1 1-1 1-1-1-1 1-1-1 1-1-1-1zm-132.2 6.9l1 1 1-1 1 1-1 1 1 1-1 1-1-1-1 1-1-1 1-1-1-1zm5.7-.5l1 1 1-1 1 1-1 1 1 1-1 1-1-1-1 1-1-1 1-1-1-1zm9.3-.4l1 1 1-1 1 1-1 1 1 1-1 1-1-1-1 1-1-1 1-1-1-1zm79.6-.8l1 1 1-1 1 1-1 1 1 1-1 1-1-1-1 1-1-1 1-1-1-1zm-102.5 3.3l1 1 1-1 1 1-1 1 1 1-1 1-1-1-1 1-1-1 1-1-1-1zm1.9 5.2l1 1 1-1 1 1-1 1 1 1-1 1-1-1-1 1-1-1 1-1-1-1zm35.3-.7l1 1 1-1 1 1-1 1 1 1-1 1-1-1-1 1-1-1 1-1-1-1zm19.8-1.4l1 1 1-1 1 1-1 1 1 1-1 1-1-1-1 1-1-1 1-1-1-1zm-79.8 3l1 1 1-1 1 1-1 1 1 1-1 1-1-1-1 1-1-1 1-1-1-1zm20.6 4.1l1 1 1-1 1 1-1 1 1 1-1 1-1-1-1 1-1-1 1-1-1-1zm75.7-1.3l1 1 1-1 1 1-1 1 1 1-1 1-1-1-1 1-1-1 1-1-1-1zm13.3 1l1 1 1-1 1 1-1 1 1 1-1 1-1-1-1 1-1-1 1-1-1-1zm-101.9 6.1l1 1 1-1 1 1-1 1 1 1-1 1-1-1-1 1-1-1 1-1-1-1zm45.5-1.3l1 1 1-1 1 1-1 1 1 1-1 1-1-1-1 1-1-1 1-1-1-1zm11.2 1.5l1 1 1-1 1 1-1 1 1 1-1 1-1-1-1 1-1-1 1-1-1-1zm36.5-1.4l1 1 1-1 1 1-1 1 1 1-1 1-1-1-1 1-1-1 1-1-1-1zm-100 4.4l1 1 1-1 1 1-1 1 1 1-1 1-1-1-1 1-1-1 1-1-1-1zm25-.3l1 1 1-1 1 1-1 1 1 1-1 1-1-1-1 1-1-1 1-1-1-1zm22 3l1 1 1-1 1 1-1 1 1 1-1 1-1-1-1 1-1-1 1-1-1-1zm12-3.3l1 1 1-1 1 1-1 1 1 1-1 1-1-1-1 1-1-1 1-1-1-1zm30.2 1l1 1 1-1 1 1-1 1 1 1-1 1-1-1-1 1-1-1 1-1-1-1zm-58.8 7.3l1 1 1-1 1 1-1 1 1 1-1 1-1-1-1 1-1-1 1-1-1-1zm9.8-2.9l1 1 1-1 1 1-1 1 1 1-1 1-1-1-1 1-1-1 1-1-1-1zm26.9 .1l1 1 1-1 1 1-1 1 1 1-1 1-1-1-1 1-1-1 1-1-1-1zm-37.1 8.7l1 1 1-1 1 1-1 1 1 1-1 1-1-1-1 1-1-1 1-1-1-1zm50.6-2.2l1 1 1-1 1 1-1 1 1 1-1 1-1-1-1 1-1-1 1-1-1-1zm6.2 4.5l1 1 1-1 1 1-1 1 1 1-1 1-1-1-1 1-1-1 1-1-1-1zm-38.3 5.7l1 1 1-1 1 1-1 1 1 1-1 1-1-1-1 1-1-1 1-1-1-1zm-17.5 3.7l1 1 1-1 1 1-1 1 1 1-1 1-1-1-1 1-1-1 1-1-1-1zm5.9-.9l1 1 1-1 1 1-1 1 1 1-1 1-1-1-1 1-1-1 1-1-1-1zm45.5-.7l1 1 1-1 1 1-1 1 1 1-1 1-1-1-1 1-1-1 1-1-1-1zm-22.4 18.7l1 1 1-1 1 1-1 1 1 1-1 1-1-1-1 1-1-1 1-1-1-1z"/>
<path fill="#dd8452" d="M245.1 96.1l1 1 1-1 1 1-1 1 1 1-1 1-1-1-1 1-1-1 1-1-1-1zm29 4.7l1 1 1-1 1 1-1 1 1 1-1 1-1-1-1 1-1-1 1-1-1-1zm-18.1 5.3l1 1 1-1 1 1-1 1 1 1-1 1-1-1-1 1-1-1 1-1-1-1zm4.5-1.5l1 1 1-1 1 1-1 1 1 1-1 1-1-1-1 1-1-1 1-1-1-1zm-23.2 4.8l1 1 1-1 1 1-1 1 1 1-1 1-1-1-1 1-1-1 1-1-1-1zm6.8 2.3l1 1 1-1 1 1-1 1 1 1-1 1-1-1-1 1-1-1 1-1-1-1zm30.2 4.1l1 1 1-1 1 1-1 1 1 1-1 1-1-1-1 1-1-1 1-1-1-1zm1.4 11.1l1 1 1-1 1 1-1 1 1 1-1 1-1-1-1 1-1-1 1-1-1-1zm5.2-1.1l1 1 1-1 1 1-1 1 1 1-1 1-1-1-1 1-1-1 1-1-1-1zm-56.8 2.7l1 1 1-1 1 1-1 1 1 1-1 1-1-1-1 1-1-1 1-1-1-1zm26.4-.5l1 1 1-1 1 1-1 1 1 1-1 1-1-1-1 1-1-1 1-1-1-1zm-91.3 9.2l1 1 1-1 1 1-1 1 1 1-1 1-1-1-1 1-1-1 1-1-1-1zm72.9-1.1l1 1 1-1 1 1-1 1 1 1-1 1-1-1-1 1-1-1 1-1-1-1zm11.7 1.5l1 1 1-1 1 1-1 1 1 1-1 1-1-1-1 1-1-1 1-1-1-1zm19.7 .4l1 1 1-1 1 1-1 1 1 1-1 1-1-1-1 1-1-1 1-1-1-1zm11.6-3.2l1 1 1-1 1 1-1 1 1 1-1 1-1-1-1 1-1-1 1-1-1-1zm6.2 3.1l1 1 1-1 1 1-1 1 1 1-1 1-1-1-1 1-1-1 1-1-1-1zm-54 6.9l1 1 1-1 1 1-1 1 1 1-1 1-1-1-1 1-1-1 1-1-1-1zm46.2-1.7l1 1 1-1 1 1-1 1 1 1-1 1-1-1-1 1-1-1 1-1-1-1zm13.2-1.9l1 1 1-1 1 1-1 1 1 1-1 1-1-1-1 1-1-1 1-1-1-1zm-74.4 4.9l1 1 1-1 1 1-1 1 1 1-1 1-1-1-1 1-1-1 1-1-1-1zm24.8-1l1 1 1-1 1 1-1 1 1 1-1 1-1-1-1 1-1-1 1-1-1-1zm4.6 2.9l1 1 1-1 1 1-1 1 1 1-1 1-1-1-1 1-1-1 1-1-1-1zm6.5-2l1 1 1-1 1 1-1 1 1 1-1 1-1-1-1 1-1-1 1-1-1-1zm31.2 2.5l1 1 1-1 1 1-1 1 1 1-1 1-1-1-1 1-1-1 1-1-1-1zm-71.5 5.5l1 1 1-1 1 1-1 1 1 1-1 1-1-1-1 1-1-1 1-1-1-1zm78.3-1.5l1 1 1-1 1 1-1 1 1 1-1 1-1-1-1 1-1-1 1-1-1-1zm19.7 4l1 1 1-1 1 1-1 1 1 1-1 1-1-1-1 1-1-1 1-1-1-1zm-105.8 2.7l1 1 1-1 1 1-1 1 1 1-1 1-1-1-1 1-1-1 1-1-1-1zm10.9 2.8l1 1 1-1 1 1-1 1 1 1-1 1-1-1-1 1-1-1 1-1-1-1zm36.1 1.1l1 1 1-1 1 1-1 1 1 1-1 1-1-1-1 1-1-1 1-1-1-1zm38.1-5.8l1 1 1-1 1 1-1 1 1 1-1 1-1-1-1 1-1-1 1-1-1-1zm6.5 5.1l1 1 1-1 1 1-1 1 1 1-1 1-1-1-1 1-1-1 1-1-1-1zm12.7-1.3l1 1 1-1 1 1-1 1 1 1-1 1-1-1-1 1-1-1 1-1-1-1zm-128.3 4.5l1 1 1-1 1 1-1 1 1 1-1 1-1-1-1 1-1-1 1-1-1-1zm20.1 .7l1 1 1-1 1 1-1 1 1 1-1 1-1-1-1 1-1-1 1-1-1-1zm32.1 7.7l1 1 1-1 1 1-1 1 1 1-1 1-1-1-1 1-1-1 1-1-1-1zm13.3-3.2l1 1 1-1 1 1-1 1 1 1-1 1-1-1-1 1-1-1 1-1-1-1zm15.4-.4l1 1 1-1 1 1-1 1 1 1-1 1-1-1-1 1-1-1 1-1-1-1zm6.9-1l1 1 1-1 1 1-1 1 1 1-1 1-1-1-1 1-1-1 1-1-1-1zm28.3 3.8l1 1 1-1 1 1-1 1 1 1-1 1-1-1-1 1-1-1 1-1-1-1zm5.6-2.9l1 1 1-1 1 1-1 1 1 1-1 1-1-1-1 1-1-1 1-1-1-1zm-92.8 6.6l1 1 1-1 1 1-1 1 1 1-1 1-1-1-1 1-1-1 1-1-1-1zm4.5 2.7l1 1 1-1 1 1-1 1 1 1-1 1-1-1-1 1-1-1 1-1-1-1zm34.5-2.5l1 1 1-1 1 1-1 1 1 1-1 1-1-1-1 1-1-1 1-1-1-1zm38.4-1.2l1 1 1-1 1 1-1 1 1 1-1 1-1-1-1 1-1-1 1-1-1-1zm-111.2 10.1l1 1 1-1 1 1-1 1 1 1-1 1-1-1-1 1-1-1 1-1-1-1zm59.6-3.8l1 1 1-1 1 1-1 1 1 1-1 1-1-1-1 1-1-1 1-1-1-1zm8.7 4.8l1 1 1-1 1 1-1 1 1 1-1 1-1-1-1 1-1-1 1-1-1-1zm12.7-5.8l1 1 1-1 1 1-1 1 1 1-1 1-1-1-1 1-1-1 1-1-1-1zm33.7 1.8l1 1 1-1 1 1-1 1 1 1-1 1-1-1-1 1-1-1 1-1-1-1zm-123.4 10l1 1 1-1 1 1-1 1 1 1-1 1-1-1-1 1-1-1 1-1-1-1zm20.9-1.8l1 1 1-1 1 1-1 1 1 1-1 1-1-1-1 1-1-1 1-1-1-1zm10.5 .5l1 1 1-1 1 1-1 1 1 1-1 1-1-1-1 1-1-1 1-1-1-1zm8.6-3.3l1 1 1-1 1 1-1 1 1 1-1 1-1-1-1 1-1-1 1-1-1-1zm7.8 2.8l1 1 1-1 1 1-1 1 1 1-1 1-1-1-1 1-1-1 1-1-1-1zm17.5 1.7l1 1 1-1 1 1-1 1 1 1-1 1-1-1-1 1-1-1 1-1-1-1zm45.9-5.4l1 1 1-1 1 1-1 1 1 1-1 1-1-1-1 1-1-1 1-1-1-1zm-66.5 8.5l1 1 1-1 1 1-1 1 1 1-1 1-1-1-1 1-1-1 1-1-1-1zm61.6-1.2l1 1 1-1 1 1-1 1 1 1-1 1-1-1-1 1-1-1 1-1-1-1zm9.2 1l1 1 1-1 1 1-1 1 1 1-1 1-1-1-1 1-1-1 1-1-1-1zm-111.2 4l1 1 1-1 1 1-1 1 1 1-1 1-1-1-1 1-1-1 1-1-1-1zm121.5 4.5l1 1 1-1 1 1-1 1 1 1-1 1-1-1-1 1-1-1 1-1-1-1zm16.7-4.9l1 1 1-1 1 1-1 1 1 1-1 1-1-1-1 1-1-1 1-1-1-1zm7 .5l1 1 1-1 1 1-1 1 1 1-1 1-1-1-1 1-1-1 1-1-1-1zm-135 7.7l1 1 1-1 1 1-1 1 1 1-1 1-1-1-1 1-1-1 1-1-1-1zm4.8 2.7l1 1 1-1 1 1-1 1 1 1-1 1-1-1-1 1-1-1 1-1-1-1zm7 .3l1 1 1-1 1 1-1 1 1 1-1 1-1-1-1 1-1-1 1-1-1-1zm46.7-4.5l1 1 1-1 1 1-1 1 1 1-1 1-1-1-1 1-1-1 1-1-1-1zm12.2 3.2l1 1 1-1 1 1-1 1 1 1-1 1-1-1-1 1-1-1 1-1-1-1zm12.2 1.7l1 1 1-1 1 1-1 1 1 1-1 1-1-1-1 1-1-1 1-1-1-1zm2.5-4.6l1 1 1-1 1 1-1 1 1 1-1 1-1-1-1 1-1-1 1-1-1-1zm20.5 3l1 1 1-1 1 1-1 1 1 1-1 1-1-1-1 1-1-1 1-1-1-1zm12.7-1.4l1 1 1-1 1 1-1 1 1 1-1 1-1-1-1 1-1-1 1-1-1-1zm-135.9 4.4l1 1 1-1 1 1-1 1 1 1-1 1-1-1-1 1-1-1 1-1-1-1zm38.9 4.4l1 1 1-1 1 1-1 1 1 1-1 1-1-1-1 1-1-1 1-1-1-1zm11.4-2.4l1 1 1-1 1 1-1 1 1 1-1 1-1-1-1 1-1-1 1-1-1-1zm4.4-1.5l1 1 1-1 1 1-1 1 1 1-1 1-1-1-1 1-1-1 1-1-1-1zm17.1-.9l1 1 1-1 1 1-1 1 1 1-1 1-1-1-1 1-1-1 1-1-1-1zm90 2.6l1 1 1-1 1 1-1 1 1 1-1 1-1-1-1 1-1-1 1-1-1-1zm-141.2 6.3l1 1 1-1 1 1-1 1 1 1-1 1-1-1-1 1-1-1 1-1-1-1zm11.5-2.5l1 1 1-1 1 1-1 1 1 1-1 1-1-1-1 1-1-1 1-1-1-1zm37.9 1.4l1 1 1-1 1 1-1 1 1 1-1 1-1-1-1 1-1-1 1-1-1-1zm9.8-.5l1 1 1-1 1 1-1 1 1 1-1 1-1-1-1 1-1-1 1-1-1-1zm-37.6 5.6l1 1 1-1 1 1-1 1 1 1-1 1-1-1-1 1-1-1 1-1-1-1zm22 3.7l1 1 1-1 1 1-1 1 1 1-1 1-1-1-1 1-1-1 1-1-1-1zm14.9-3.9l1 1 1-1 1 1-1 1 1 1-1 1-1-1-1 1-1-1 1-1-1-1zm4.7 4.2l1 1 1-1 1 1-1 1 1 1-1 1-1-1-1 1-1-1 1-1-1-1zm-59.9 .6l1 1 1-1 1 1-1 1 1 1-1 1-1-1-1 1-1-1 1-1-1-1zm35.7-.1l1 1 1-1 1 1-1 1 1 1-1 1-1-1-1 1-1-1 1-1-1-1zm46.2 5.6l1 1 1-1 1 1-1 1 1 1-1 1-1-1-1 1-1-1 1-1-1-1zm-84.6 2l1 1 1-1 1 1-1 1 1 1-1 1-1-1-1 1-1-1 1-1-1-1zm31.1-.2l1 1 1-1 1 1-1 1 1 1-1 1-1-1-1 1-1-1 1-1-1-1zm-39.8 4.4l1 1 1-1 1 1-1 1 1 1-1 1-1-1-1 1-1-1 1-1-1-1zm11.7 1.8l1 1 1-1 1 1-1 1 1 1-1 1-1-1-1 1-1-1 1-1-1-1zm35.4 2.5l1 1 1-1 1 1-1 1 1 1-1 1-1-1-1 1-1-1 1-1-1-1zm41.5-3.2l1 1 1-1 1 1-1 1 1 1-1 1-1-1-1 1-1-1 1-1-1-1zm-72 6.5l1 1 1-1 1 1-1 1 1 1-1 1-1-1-1 1-1-1 1-1-1-1zm5.3-.9l1 1 1-1 1 1-1 1 1 1-1 1-1-1-1 1-1-1 1-1-1-1zm-3.7 11.3l1 1 1-1 1 1-1 1 1 1-1 1-1-1-1 1-1-1 1-1-1-1zm12.5 8.3l1 1 1-1 1 1-1 1 1 1-1 1-1-1-1 1-1-1 1-1-1-1z"/>
<path fill="#dd8452" d="M233.9 107.5l1 1 1-1 1 1-1 1 1 1-1 1-1-1-1 1-1-1 1-1-1-1zm37.2 9.6l1 1 1-1 1 1-1 1 1 1-1 1-1-1-1 1-1-1 1-1-1-1zm3.9 14.3l1 1 1-1 1 1-1 1 1 1-1 1-1-1-1 1-1-1 1-1-1-1zm-9.7 3.3l1 1 1-1 1 1-1 1 1 1-1 1-1-1-1 1-1-1 1-1-1-1zm8.1 3.4l1 1 1-1 1 1-1 1 1 1-1 1-1-1-1 1-1-1 1-1-1-1zm-57 3.6l1 1 1-1 1 1-1 1 1 1-1 1-1-1-1 1-1-1 1-1-1-1zm17.6 .2l1 1 1-1 1 1-1 1 1 1-1 1-1-1-1 1-1-1 1-1-1-1zm7.5-2.6l1 1 1-1 1 1-1 1 1 1-1 1-1-1-1 1-1-1 1-1-1-1zm-33.2 6.5l1 1 1-1 1 1-1 1 1 1-1 1-1-1-1 1-1-1 1-1-1-1zm73.7-.1l1 1 1-1 1 1-1 1 1 1-1 1-1-1-1 1-1-1 1-1-1-1zm-85.4 9.1l1 1 1-1 1 1-1 1 1 1-1 1-1-1-1 1-1-1 1-1-1-1zm81.3-2.6l1 1 1-1 1 1-1 1 1 1-1 1-1-1-1 1-1-1 1-1-1-1zm28.2 .7l1 1 1-1 1 1-1 1 1 1-1 1-1-1-1 1-1-1 1-1-1-1zm-102.7 8.7l1 1 1-1 1 1-1 1 1 1-1 1-1-1-1 1-1-1 1-1-1-1zm43.3-1.8l1 1 1-1 1 1-1 1 1 1-1 1-1-1-1 1-1-1 1-1-1-1zm55.2 2.1l1 1 1-1 1 1-1 1 1 1-1 1-1-1-1 1-1-1 1-1-1-1zm-57.4 3.3l1 1 1-1 1 1-1 1 1 1-1 1-1-1-1 1-1-1 1-1-1-1zm12.6 2.4l1 1 1-1 1 1-1 1 1 1-1 1-1-1-1 1-1-1 1-1-1-1zm32.5 1.3l1 1 1-1 1 1-1 1 1 1-1 1-1-1-1 1-1-1 1-1-1-1zm-61 1.6l1 1 1-1 1 1-1 1 1 1-1 1-1-1-1 1-1-1 1-1-1-1zm10.4 2.7l1 1 1-1 1 1-1 1 1 1-1 1-1-1-1 1-1-1 1-1-1-1zm49.7 2.2l1 1 1-1 1 1-1 1 1 1-1 1-1-1-1 1-1-1 1-1-1-1zm-86.8 10.1l1 1 1-1 1 1-1 1 1 1-1 1-1-1-1 1-1-1 1-1-1-1zm36.3-1.5l1 1 1-1 1 1-1 1 1 1-1 1-1-1-1 1-1-1 1-1-1-1zm37.7 .7l1 1 1-1 1 1-1 1 1 1-1 1-1-1-1 1-1-1 1-1-1-1zm6.3-1.9l1 1 1-1 1 1-1 1 1 1-1 1-1-1-1 1-1-1 1-1-1-1zm-38.5 7.1l1 1 1-1 1 1-1 1 1 1-1 1-1-1-1 1-1-1 1-1-1-1zm26.7-.7l1 1 1-1 1 1-1 1 1 1-1 1-1-1-1 1-1-1 1-1-1-1zm-100.7 9.9l1 1 1-1 1 1-1 1 1 1-1 1-1-1-1 1-1-1 1-1-1-1zm24.5-4.5l1 1 1-1 1 1-1 1 1 1-1 1-1-1-1 1-1-1 1-1-1-1zm74.3 3.3l1 1 1-1 1 1-1 1 1 1-1 1-1-1-1 1-1-1 1-1-1-1zm13.7-3.6l1 1 1-1 1 1-1 1 1 1-1 1-1-1-1 1-1-1 1-1-1-1zm-101.4 10.6l1 1 1-1 1 1-1 1 1 1-1 1-1-1-1 1-1-1 1-1-1-1zm79.2-.6l1 1 1-1 1 1-1 1 1 1-1 1-1-1-1 1-1-1 1-1-1-1zm42.4-1.1l1 1 1-1 1 1-1 1 1 1-1 1-1-1-1 1-1-1 1-1-1-1zm4.9-1.6l1 1 1-1 1 1-1 1 1 1-1 1-1-1-1 1-1-1 1-1-1-1zm-114.2 8.7l1 1 1-1 1 1-1 1 1 1-1 1-1-1-1 1-1-1 1-1-1-1zm17.1-.5l1 1 1-1 1 1-1 1 1 1-1 1-1-1-1 1-1-1 1-1-1-1zm6.6 1.3l1 1 1-1 1 1-1 1 1 1-1 1-1-1-1 1-1-1 1-1-1-1zm69-2.2l1 1 1-1 1 1-1 1 1 1-1 1-1-1-1 1-1-1 1-1-1-1zm-124.4 6.7l1 1 1-1 1 1-1 1 1 1-1 1-1-1-1 1-1-1 1-1-1-1zm17.7 1.2l1 1 1-1 1 1-1 1 1 1-1 1-1-1-1 1-1-1 1-1-1-1zm22.6-4.4l1 1 1-1 1 1-1 1 1 1-1 1-1-1-1 1-1-1 1-1-1-1zm10.5 3.7l1 1 1-1 1 1-1 1 1 1-1 1-1-1-1 1-1-1 1-1-1-1zm106.3-3.3l1 1 1-1 1 1-1 1 1 1-1 1-1-1-1 1-1-1 1-1-1-1zm.3 5.7l1 1 1-1 1 1-1 1 1 1-1 1-1-1-1 1-1-1 1-1-1-1zm-135.1 8l1 1 1-1 1 1-1 1 1 1-1 1-1-1-1 1-1-1 1-1-1-1zm19.9 1.1l1 1 1-1 1 1-1 1 1 1-1 1-1-1-1 1-1-1 1-1-1-1zm14-.7l1 1 1-1 1 1-1 1 1 1-1 1-1-1-1 1-1-1 1-1-1-1zm14.2-3.5l1 1 1-1 1 1-1 1 1 1-1 1-1-1-1 1-1-1 1-1-1-1zm14.4 3.2l1 1 1-1 1 1-1 1 1 1-1 1-1-1-1 1-1-1 1-1-1-1zm-5.9 5.7l1 1 1-1 1 1-1 1 1 1-1 1-1-1-1 1-1-1 1-1-1-1zm-31.1 6.7l1 1 1-1 1 1-1 1 1 1-1 1-1-1-1 1-1-1 1-1-1-1zm-23.3 8.6l1 1 1-1 1 1-1 1 1 1-1 1-1-1-1 1-1-1 1-1-1-1z"/>
<path fill="#dd8452" d="M237 105.5l1 1 1-1 1 1-1 1 1 1-1 1-1-1-1 1-1-1 1-1-1-1zm-7.3 3.8l1 1 1-1 1 1-1 1 1 1-1 1-1-1-1 1-1-1 1-1-1-1zm39.6 23.9l1 1 1-1 1 1-1 1 1 1-1 1-1-1-1 1-1-1 1-1-1-1zm-25.9 7.9l1 1 1-1 1 1-1 1 1 1-1 1-1-1-1 1-1-1 1-1-1-1zm41.9 3.2l1 1 1-1 1 1-1 1 1 1-1 1-1-1-1 1-1-1 1-1-1-1zm-86.9 7.5l1 1 1-1 1 1-1 1 1 1-1 1-1-1-1 1-1-1 1-1-1-1zm8.3 12.5l1 1 1-1 1 1-1 1 1 1-1 1-1-1-1 1-1-1 1-1-1-1zm-1.7 17.6l1 1 1-1 1 1-1 1 1 1-1 1-1-1-1 1-1-1 1-1-1-1zm71.4 6.8l1 1 1-1 1 1-1 1 1 1-1 1-1-1-1 1-1-1 1-1-1-1zm5.4 8.4l1 1 1-1 1 1-1 1 1 1-1 1-1-1-1 1-1-1 1-1-1-1zm-103.2 6l1 1 1-1 1 1-1 1 1 1-1 1-1-1-1 1-1-1 1-1-1-1zm28.7 7.4l1 1 1-1 1 1-1 1 1 1-1 1-1-1-1 1-1-1 1-1-1-1zm11.7-.8l1 1 1-1 1 1-1 1 1 1-1 1-1-1-1 1-1-1 1-1-1-1zm-23.5 3.6l1 1 1-1 1 1-1 1 1 1-1 1-1-1-1 1-1-1 1-1-1-1zm38 6.4l1 1 1-1 1 1-1 1 1 1-1 1-1-1-1 1-1-1 1-1-1-1zm12.3 10.8l1 1 1-1 1 1-1 1 1 1-1 1-1-1-1 1-1-1 1-1-1-1zm-64.1 20.9l1 1 1-1 1 1-1 1 1 1-1 1-1-1-1 1-1-1 1-1-1-1z"/>
<path fill="#dd8452" d="M229.1 106.8l1 1 1-1 1 1-1 1 1 1-1 1-1-1-1 1-1-1 1-1-1-1zm37.7 24.7l1 1 1-1 1 1-1 1 1 1-1 1-1-1-1 1-1-1 1-1-1-1zm3.5 5.8l1 1 1-1 1 1-1 1 1 1-1 1-1-1-1 1-1-1 1-1-1-1zm18.9 2.6l1 1 1-1 1 1-1 1 1 1-1 1-1-1-1 1-1-1 1-1-1-1zm-93.7 12.2l1 1 1-1 1 1-1 1 1 1-1 1-1-1-1 1-1-1 1-1-1-1zm-18.8 52.9l1 1 1-1 1 1-1 1 1 1-1 1-1-1-1 1-1-1 1-1-1-1zm28.6 3.7l1 1 1-1 1 1-1 1 1 1-1 1-1-1-1 1-1-1 1-1-1-1zm39 25.8l1 1 1-1 1 1-1 1 1 1-1 1-1-1-1 1-1-1 1-1-1-1z"/>
<path fill="#dd8452" d="M172.9 208.5l1 1 1-1 1 1-1 1 1 1-1 1-1-1-1 1-1-1 1-1-1-1z"/>
<path fill="#4c72b0" d="M163.7 107.1a2 2 0 1 0 4 0a2 2 0 1 0-4 0zm6.9 50.3a2 2 0 1 0 4 0a2 2 0 1 0-4 0zm-62.6 6.2a2 2 0 1 0 4 0a2 2 0 1 0-4 0zm18.3-2.7a2 2 0 1 0 4 0a2 2 0 1 0-4 0zm-40.3 14.4a2 2 0 1 0 4 0a2 2 0 1 0-4 0zm66.4-3.1a2 2 0 1 0 4 0a2 2 0 1 0-4 0zm15.7-.9a2 2 0 1 0 4 0a2 2 0 1 0-4 0zm48.6 1.8a2 2 0 1 0 4 0a2 2 0 1 0-4 0zm124.9-.9a2 2 0 1 0 4 0a2 2 0 1 0-4 0zm-283.5 5.7a2 2 0 1 0 4 0a2 2 0 1 0-4 0zm242.6 8.7a2 2 0 1 0 4 0a2 2 0 1 0-4 0zm-162.2 2.7a2 2 0 1 0 4 0a2 2 0 1 0-4 0zm4.3 5.1a2 2 0 1 0 4 0a2 2 0 1 0-4 0zm64 6.1a2 2 0 1 0 4 0a2 2 0 1 0-4 0zm39.6 4.3a2 2 0 1 0 4 0a2 2 0 1 0-4 0zm-154.3 19a2 2 0 1 0 4 0a2 2 0 1 0-4 0zm203.5-3.5a2 2 0 1 0 4 0a2 2 0 1 0-4 0zm-41.7 11.2a2 2 0 1 0 4 0a2 2 0 1 0-4 0zm-121.6 9.6a2 2 0 1 0 4 0a2 2 0 1 0-4 0zm239.6-3.3a2 2 0 1 0 4 0a2 2 0 1 0-4 0zm-287.4 5.6a2 2 0 1 0 4 0a2 2 0 1 0-4 0zm173.2 11a2 2 0 1 0 4 0a2 2 0 1 0-4 0zm-64.6 6a2 2 0 1 0 4 0a2 2 0 1 0-4 0zm39.5-3.8a2 2 0 1 0 4 0a2 2 0 1 0-4 0zm97.2-.8a2 2 0 1 0 4 0a2 2 0 1 0-4 0zm-111.9 11a2 2 0 1 0 4 0a2 2 0 1 0-4 0zm69.9-4.2a2 2 0 1 0 4 0a2 2 0 1 0-4 0zm-46.6 5.2a2 2 0 1 0 4 0a2 2 0 1 0-4 0zm75.5 1.7a2 2 0 1 0 4 0a2 2 0 1 0-4 0zm-68.4 3.8a2 2 0 1 0 4 0a2 2 0 1 0-4 0zm-36.8 14.9a2 2 0 1 0 4 0a2 2 0 1 0-4 0z"/>
<path fill="#4c72b0" d="M154.1 173.4a2 2 0 1 0 4 0a2 2 0 1 0-4 0zm217.5 65a2 2 0 1 0 4 0a2 2 0 1 0-4 0zm-115.7 14.7a2 2 0 1 0 4 0a2 2 0 1 0-4 0zm-64.8 6.1a2 2 0 1 0 4 0a2 2 0 1 0-4 0z"/>
<path fill="#4c72b0" d="M372.3 240.6a2 2 0 1 0 4 0a2 2 0 1 0-4 0z"/>
<path fill="#4c72b0" d="M372.9 237.6a2 2 0 1 0 4 0a2 2 0 1 0-4 0z"/>
<path fill="#4c72b0" d="M371.6 238.6a2 2 0 1 0 4 0a2 2 0 1 0-4 0z"/>
<path fill="#4c72b0" d="M371.2 239.7a2 2 0 1 0 4 0a2 2 0 1 0-4 0z"/>
<path fill="#55a868" d="M241.4 21.4h2.8v2.8h-2.8zm-2.6 6.4h2.8v2.8h-2.8zm8.1-1.1h2.8v2.8h-2.8zm2.4 3.8h2.8v2.8h-2.8zm2.2-3.2h2.8v2.8h-2.8zm-55.2 5.3h2.8v2.8h-2.8zm45.1 4.8h2.8v2.8h-2.8zm13-5h2.8v2.8h-2.8zm-71.8 11.9h2.8v2.8h-2.8zm37.8-.2h2.8v2.8h-2.8zm56.9 2.3h2.8v2.8h-2.8zm-132.6 8.7h2.8v2.8h-2.8zm23.8-4h2.8v2.8h-2.8zm33.9 .3h2.8v2.8h-2.8zm-8.1 7.7h2.8v2.8h-2.8zm21.3-1.2h2.8v2.8h-2.8zm39.2-1.1h2.8v2.8h-2.8zm30.6 .8h2.8v2.8h-2.8zm-134.9 8h2.8v2.8h-2.8zm16.2-.8h2.8v2.8h-2.8zm6 2.1h2.8v2.8h-2.8zm12.2-.2h2.8v2.8h-2.8zm9.3 .8h2.8v2.8h-2.8zm7-1.1h2.8v2.8h-2.8zm5.4-.9h2.8v2.8h-2.8zm14 .3h2.8v2.8h-2.8zm20.8-.5h2.8v2.8h-2.8zm10 1.2h2.8v2.8h-2.8zm3.5-.3h2.8v2.8h-2.8zm13.7-.3h2.8v2.8h-2.8zm42.4-3.9h2.8v2.8h-2.8zm3.6 .2h2.8v2.8h-2.8zm-144.6 9.2h2.8v2.8h-2.8zm16.2-1.4h2.8v2.8h-2.8zm19.1 3.5h2.8v2.8h-2.8zm.4-4.7h2.8v2.8h-2.8zm8.9 4.1h2.8v2.8h-2.8zm10.1-3.9h2.8v2.8h-2.8zm10.1 1.7h2.8v2.8h-2.8zm3.5 .1h2.8v2.8h-2.8zm7.8-1h2.8v2.8h-2.8zm14.5 1.8h2.8v2.8h-2.8zm20 .2h2.8v2.8h-2.8zm10-2.3h2.8v2.8h-2.8zm8.6 2.8h2.8v2.8h-2.8zm23.9 .7h2.8v2.8h-2.8zm-151.8 4.9h2.8v2.8h-2.8zm7-2.7h2.8v2.8h-2.8zm10.1-1h2.8v2.8h-2.8zm6.4 2.3h2.8v2.8h-2.8zm14.3 3.1h2.8v2.8h-2.8zm24.6-4.6h2.8v2.8h-2.8zm6.4 .8h2.8v2.8h-2.8zm3.8-1.3h2.8v2.8h-2.8zm7.6 2.7h2.8v2.8h-2.8zm8.1 1.5h2.8v2.8h-2.8zm25.5-.4h2.8v2.8h-2.8zm11-2.2h2.8v2.8h-2.8zm5 1h2.8v2.8h-2.8zm11.9 .3h2.8v2.8h-2.8zm4.1 .2h2.8v2.8h-2.8zm2.4-3.8h2.8v2.8h-2.8zm5.1 5.3h2.8v2.8h-2.8zm-183.8 2.7h2.8v2.8h-2.8zm9.9 3h2.8v2.8h-2.8zm25.1-.6h2.8v2.8h-2.8zm10.8-.2h2.8v2.8h-2.8zm2.7-3.6h2.8v2.8h-2.8zm5.3 1.8h2.8v2.8h-2.8zm14.9 2.6h2.8v2.8h-2.8zm7.4-2.1h2.8v2.8h-2.8zm4.1-2h2.8v2.8h-2.8zm1.4 4.4h2.8v2.8h-2.8zm6-3.9h2.8v2.8h-2.8zm4.3-.3h2.8v2.8h-2.8zm7.5-.1h2.8v2.8h-2.8zm4.3 3h2.8v2.8h-2.8zm6.8-.6h2.8v2.8h-2.8zm21.9-2h2.8v2.8h-2.8zm9.9 2.3h2.8v2.8h-2.8zm12.4 .2h2.8v2.8h-2.8zm16.9-2.7h2.8v2.8h-2.8zm2.6 3.3h2.8v2.8h-2.8zm.8-3.4h2.8v2.8h-2.8zm-206.5 6.5h2.8v2.8h-2.8zm40.6 1.3h2.8v2.8h-2.8zm13.5 .7h2.8v2.8h-2.8zm5.4-3.1h2.8v2.8h-2.8zm12.4 2h2.8v2.8h-2.8zm9.1 .4h2.8v2.8h-2.8zm7.5 0h2.8v2.8h-2.8zm4.3-.9h2.8v2.8h-2.8zm12.1 2.5h2.8v2.8h-2.8zm.3-3.7h2.8v2.8h-2.8zm3.2 3.6h2.8v2.8h-2.8zm5.5 .7h2.8v2.8h-2.8zm11-.9h2.8v2.8h-2.8zm5-2.8h2.8v2.8h-2.8zm5.1 3.9h2.8v2.8h-2.8zm5.2-4.5h2.8v2.8h-2.8zm3.5 4.3h2.8v2.8h-2.8zm4.5-3.5h2.8v2.8h-2.8zm4.8-1.2h2.8v2.8h-2.8zm8.7 4.5h2.8v2.8h-2.8zm3.3-4.2h2.8v2.8h-2.8zm6 .5h2.8v2.8h-2.8zm6.3 2.9h2.8v2.8h-2.8zm4.3-2.5h2.8v2.8h-2.8zm1.4 3.5h2.8v2.8h-2.8zm11-2.8h2.8v2.8h-2.8zm7.4-2.1h2.8v2.8h-2.8zm1.5 3.8h2.8v2.8h-2.8zm4.7-2.1h2.8v2.8h-2.8zm6-1h2.8v2.8h-2.8zm4.8 2.8h2.8v2.8h-2.8zm-200.3 3.1h2.8v2.8h-2.8zm16.9 4.8h2.8v2.8h-2.8zm12.5 0h2.8v2.8h-2.8zm7.8-2.1h2.8v2.8h-2.8zm6-2.9h2.8v2.8h-2.8zm2.9 3.5h2.8v2.8h-2.8zm7.2-2.8h2.8v2.8h-2.8zm3.8-.3h2.8v2.8h-2.8zm3.2-.8h2.8v2.8h-2.8zm3.6 3.7h2.8v2.8h-2.8zm2.8-3.6h2.8v2.8h-2.8zm5.3 4.3h2.8v2.8h-2.8zm4.9-3.1h2.8v2.8h-2.8zm12.9 1.7h2.8v2.8h-2.8zm3.3 1.3h2.8v2.8h-2.8zm6.1-3h2.8v2.8h-2.8zm9.3 .9h2.8v2.8h-2.8zm3.2-1.4h2.8v2.8h-2.8zm9.7-1.1h2.8v2.8h-2.8zm2.2 4.4h2.8v2.8h-2.8zm3.6-.3h2.8v2.8h-2.8zm8.4-2.1h2.8v2.8h-2.8zm15.2-.3h2.8v2.8h-2.8zm3.3-1.4h2.8v2.8h-2.8zm.3 3.8h2.8v2.8h-2.8zm6.3-.5h2.8v2.8h-2.8zm9.1-3.2h2.8v2.8h-2.8zm.1 4.9h2.8v2.8h-2.8zm10.9-.9h2.8v2.8h-2.8zm9.8 1.4h2.8v2.8h-2.8zm1.5-5.4h2.8v2.8h-2.8zm10.3 1.3h2.8v2.8h-2.8zm-188.8 4.9h2.8v2.8h-2.8zm12.7 2.9h2.8v2.8h-2.8zm16.6 2.2h2.8v2.8h-2.8zm1.7-4.2h2.8v2.8h-2.8zm7.4 .9h2.8v2.8h-2.8zm3.7 1.8h2.8v2.8h-2.8zm6-.6h2.8v2.8h-2.8zm6.3-1.9h2.8v2.8h-2.8zm4.9 1.1h2.8v2.8h-2.8zm3.3 .1h2.8v2.8h-2.8zm3.2-1.7h2.8v2.8h-2.8zm3.3 .4h2.8v2.8h-2.8zm15.6-1.4h2.8v2.8h-2.8zm4.1-.2h2.8v2.8h-2.8zm9.4 3.8h2.8v2.8h-2.8zm6.7 1.2h2.8v2.8h-2.8zm0-4.2h2.8v2.8h-2.8zm13.4 .8h2.8v2.8h-2.8zm4.6-.9h2.8v2.8h-2.8zm8.2 0h2.8v2.8h-2.8zm12.7 4.1h2.8v2.8h-2.8zm4.6-.1h2.8v2.8h-2.8zm15.2-2.9h2.8v2.8h-2.8zm3.5 .4h2.8v2.8h-2.8zm1.6 3.6h2.8v2.8h-2.8zm4.9-1.7h2.8v2.8h-2.8zm6.5-.3h2.8v2.8h-2.8zm-206.6 2.7h2.8v2.8h-2.8zm18 3.8h2.8v2.8h-2.8zm30.9-3.5h2.8v2.8h-2.8zm3.8 3h2.8v2.8h-2.8zm9.2-.5h2.8v2.8h-2.8zm5.5 .8h2.8v2.8h-2.8zm7.2-2.9h2.8v2.8h-2.8zm4.5-.7h2.8v2.8h-2.8zm3.3 3.8h2.8v2.8h-2.8zm1.7-4.2h2.8v2.8h-2.8zm1.8 5.1h2.8v2.8h-2.8zm4.6-2.8h2.8v2.8h-2.8zm4.8-2h2.8v2.8h-2.8zm3.5 2.5h2.8v2.8h-2.8zm5.1-.1h2.8v2.8h-2.8zm11.2-.3h2.8v2.8h-2.8zm3.4-.2h2.8v2.8h-2.8zm1.4 3.4h2.8v2.8h-2.8zm15.4-1.9h2.8v2.8h-2.8zm20.1 .2h2.8v2.8h-2.8zm3.8 1.3h2.8v2.8h-2.8zm6-1.7h2.8v2.8h-2.8zm5.6 .8h2.8v2.8h-2.8zm13.2-4h2.8v2.8h-2.8zm6.9 1.2h2.8v2.8h-2.8zm8.4 2.5h2.8v2.8h-2.8zm5.6-2h2.8v2.8h-2.8zm6.4-.1h2.8v2.8h-2.8zm8.9-.7h2.8v2.8h-2.8zm17.8 2.6h2.8v2.8h-2.8zm-260.7 2.5h2.8v2.8h-2.8zm3.4-.2h2.8v2.8h-2.8zm40.6 4.4h2.8v2.8h-2.8zm24.2 .3h2.8v2.8h-2.8zm19.2-.3h2.8v2.8h-2.8zm8.8-3.4h2.8v2.8h-2.8zm3.6 .5h2.8v2.8h-2.8zm4.6-.2h2.8v2.8h-2.8zm12.4 1.6h2.8v2.8h-2.8zm3.4 1.3h2.8v2.8h-2.8zm7.5-3.8h2.8v2.8h-2.8zm2.2 4h2.8v2.8h-2.8zm3.9-2.6h2.8v2.8h-2.8zm31.5-1.7h2.8v2.8h-2.8zm2.9 4.9h2.8v2.8h-2.8zm7.9-1.3h2.8v2.8h-2.8zm8.4 1.2h2.8v2.8h-2.8zm4.1-.4h2.8v2.8h-2.8zm3.9-.7h2.8v2.8h-2.8zm9.3-3h2.8v2.8h-2.8zm4.9 .4h2.8v2.8h-2.8zm5.9 1.8h2.8v2.8h-2.8zm7.6-1h2.8v2.8h-2.8zm11.8 1.5h2.8v2.8h-2.8zm20.1 .5h2.8v2.8h-2.8zm-225.1 4.1h2.8v2.8h-2.8zm3.6-1.6h2.8v2.8h-2.8zm1 5h2.8v2.8h-2.8zm33.8-.9h2.8v2.8h-2.8zm3.4-2.5h2.8v2.8h-2.8zm4.4-.4h2.8v2.8h-2.8zm12.3 2.2h2.8v2.8h-2.8zm5.8-.4h2.8v2.8h-2.8zm.3-3.3h2.8v2.8h-2.8zm6 .4h2.8v2.8h-2.8zm6.9 1h2.8v2.8h-2.8zm6.4 2.9h2.8v2.8h-2.8zm6.2-1.1h2.8v2.8h-2.8zm10.6 1.3h2.8v2.8h-2.8zm8.6-1.9h2.8v2.8h-2.8zm7.9 .8h2.8v2.8h-2.8zm7.2-3.8h2.8v2.8h-2.8zm4.5 4.2h2.8v2.8h-2.8zm3.6-3.7h2.8v2.8h-2.8zm6.1 2.9h2.8v2.8h-2.8zm15.1 2.2h2.8v2.8h-2.8zm10.3-1.9h2.8v2.8h-2.8zm3.4-1.1h2.8v2.8h-2.8zm4.1 1.3h2.8v2.8h-2.8zm9.9-3.3h2.8v2.8h-2.8zm3.4 3.6h2.8v2.8h-2.8zm9.2-3.9h2.8v2.8h-2.8zm5.3 0h2.8v2.8h-2.8zm1.7 3.7h2.8v2.8h-2.8zm8.4-1.7h2.8v2.8h-2.8zm20.8-.9h2.8v2.8h-2.8zm-269.5 10.3h2.8v2.8h-2.8zm20-3.4h2.8v2.8h-2.8zm31.7 2.8h2.8v2.8h-2.8zm14.8-4.5h2.8v2.8h-2.8zm19.8 1.2h2.8v2.8h-2.8zm6.4 2.7h2.8v2.8h-2.8zm4.6-1.4h2.8v2.8h-2.8zm4.5 1h2.8v2.8h-2.8zm11.9-1.6h2.8v2.8h-2.8zm3.8 .6h2.8v2.8h-2.8zm8.4-1.2h2.8v2.8h-2.8zm15.5 .4h2.8v2.8h-2.8zm6.4 2.8h2.8v2.8h-2.8zm2.2-4.4h2.8v2.8h-2.8zm6.3 3.1h2.8v2.8h-2.8zm5.7-.3h2.8v2.8h-2.8zm7.3 2h2.8v2.8h-2.8zm2.5-4.5h2.8v2.8h-2.8zm5.9 3.4h2.8v2.8h-2.8zm10.1-3.8h2.8v2.8h-2.8zm13.7 3h2.8v2.8h-2.8zm7.1 1.2h2.8v2.8h-2.8zm5.4 .1h2.8v2.8h-2.8zm1.1-3.6h2.8v2.8h-2.8zm5.8 0h2.8v2.8h-2.8zm8.7 .1h2.8v2.8h-2.8zm.5 4.1h2.8v2.8h-2.8zm3.4-2.7h2.8v2.8h-2.8zm3.9 .5h2.8v2.8h-2.8zm5.9 0h2.8v2.8h-2.8zm3.3-2.6h2.8v2.8h-2.8zm7.3 .6h2.8v2.8h-2.8zm-255 7.8h2.8v2.8h-2.8zm21.6-2h2.8v2.8h-2.8zm5.1 3.3h2.8v2.8h-2.8zm31.9-.6h2.8v2.8h-2.8zm28.3-1.6h2.8v2.8h-2.8zm16.1 2.2h2.8v2.8h-2.8zm5.6-4h2.8v2.8h-2.8zm.2 5.4h2.8v2.8h-2.8zm7.1-.2h2.8v2.8h-2.8zm18.1 0h2.8v2.8h-2.8zm3.6-4.6h2.8v2.8h-2.8zm5.6 0h2.8v2.8h-2.8zm6.5 3h2.8v2.8h-2.8zm3.5-2h2.8v2.8h-2.8zm4.6-.1h2.8v2.8h-2.8zm8.3-.3h2.8v2.8h-2.8zm5.7 2.4h2.8v2.8h-2.8zm4.7-2.2h2.8v2.8h-2.8zm5.9 2.4h2.8v2.8h-2.8zm4.9-4.2h2.8v2.8h-2.8zm3.9 4.4h2.8v2.8h-2.8zm3.5-3h2.8v2.8h-2.8zm6.8 .9h2.8v2.8h-2.8zm11.3 .4h2.8v2.8h-2.8zm5.3 .1h2.8v2.8h-2.8zm6.3 .6h2.8v2.8h-2.8zm9.4-.6h2.8v2.8h-2.8zm4.3 1.6h2.8v2.8h-2.8zm7.3-2.6h2.8v2.8h-2.8zm6 .5h2.8v2.8h-2.8zm13.7-1.7h2.8v2.8h-2.8zm6.1 4.6h2.8v2.8h-2.8zm8.1-3.4h2.8v2.8h-2.8zm-218.6 5.7h2.8v2.8h-2.8zm5.1 1.9h2.8v2.8h-2.8zm14.9 .6h2.8v2.8h-2.8zm5.1-2.6h2.8v2.8h-2.8zm5.2 4.3h2.8v2.8h-2.8zm5.4-2h2.8v2.8h-2.8zm5.9-.4h2.8v2.8h-2.8zm13.4 1.2h2.8v2.8h-2.8zm7 .9h2.8v2.8h-2.8zm1.4-4.2h2.8v2.8h-2.8zm8.8 3.8h2.8v2.8h-2.8zm8.1-3.9h2.8v2.8h-2.8zm9.1 .1h2.8v2.8h-2.8zm3.7-.8h2.8v2.8h-2.8zm3.9 .4h2.8v2.8h-2.8zm7.6 .6h2.8v2.8h-2.8zm3.9 3h2.8v2.8h-2.8zm6-2.3h2.8v2.8h-2.8zm10.6-.3h2.8v2.8h-2.8zm8.6 .3h2.8v2.8h-2.8zm8.5-1.6h2.8v2.8h-2.8zm4.2 5.4h2.8v2.8h-2.8zm0-4.1h2.8v2.8h-2.8zm4.4 3.6h2.8v2.8h-2.8zm7.2-5.3h2.8v2.8h-2.8zm8.9 3h2.8v2.8h-2.8zm4.7-1.4h2.8v2.8h-2.8zm3.3 .8h2.8v2.8h-2.8zm6.9 1.5h2.8v2.8h-2.8zm15-3.6h2.8v2.8h-2.8zm15.3 4h2.8v2.8h-2.8zm25.4-3.4h2.8v2.8h-2.8zm-295.9 10.7h2.8v2.8h-2.8zm25.9-3.4h2.8v2.8h-2.8zm15.3-1.4h2.8v2.8h-2.8zm5.2 1.5h2.8v2.8h-2.8zm13.6-2.3h2.8v2.8h-2.8zm2.3 4.1h2.8v2.8h-2.8zm8.9-2.9h2.8v2.8h-2.8zm.7 3.4h2.8v2.8h-2.8zm10.2-3.5h2.8v2.8h-2.8zm19.8 4.3h2.8v2.8h-2.8zm6.7-4.9h2.8v2.8h-2.8zm1.4 5.2h2.8v2.8h-2.8zm9.2-.2h2.8v2.8h-2.8zm10.7 .4h2.8v2.8h-2.8zm5.7-3.5h2.8v2.8h-2.8zm3.8 2.9h2.8v2.8h-2.8zm2.4-3.3h2.8v2.8h-2.8zm11.5-.5h2.8v2.8h-2.8zm3.8 1.8h2.8v2.8h-2.8zm.5-3.3h2.8v2.8h-2.8zm4.1 2.4h2.8v2.8h-2.8zm6.2 1.3h2.8v2.8h-2.8zm3.9-3.4h2.8v2.8h-2.8zm2.2 5.6h2.8v2.8h-2.8zm4.1-.3h2.8v2.8h-2.8zm4.3-5.3h2.8v2.8h-2.8zm3.7 1.8h2.8v2.8h-2.8zm8.7-.5h2.8v2.8h-2.8zm6.5 2.8h2.8v2.8h-2.8zm12.8-.5h2.8v2.8h-2.8zm3.7-3.2h2.8v2.8h-2.8zm4.9 1.7h2.8v2.8h-2.8zm3.4 3.5h2.8v2.8h-2.8zm11.8-4.6h2.8v2.8h-2.8zm8.2-.8h2.8v2.8h-2.8zm8.7 1.4h2.8v2.8h-2.8zm13.7 .9h2.8v2.8h-2.8zm5.8 2.7h2.8v2.8h-2.8zm-285.4 .7h2.8v2.8h-2.8zm5-.1h2.8v2.8h-2.8zm22.3 2.1h2.8v2.8h-2.8zm13-.9h2.8v2.8h-2.8zm33.4 .5h2.8v2.8h-2.8zm8.1 1.6h2.8v2.8h-2.8zm10.8-1.2h2.8v2.8h-2.8zm32.9-2.3h2.8v2.8h-2.8zm.9 3.5h2.8v2.8h-2.8zm9.5 .2h2.8v2.8h-2.8zm21.2-3h2.8v2.8h-2.8zm.2 3.6h2.8v2.8h-2.8zm3.7-.7h2.8v2.8h-2.8zm15.2-.5h2.8v2.8h-2.8zm17.6-2.1h2.8v2.8h-2.8zm7 4.6h2.8v2.8h-2.8zm2.5-4.3h2.8v2.8h-2.8zm2.5 3.5h2.8v2.8h-2.8zm2.8-3.7h2.8v2.8h-2.8zm8.5 .6h2.8v2.8h-2.8zm8.6 .9h2.8v2.8h-2.8zm3.8 1h2.8v2.8h-2.8zm9.5-.4h2.8v2.8h-2.8zm4.5 .1h2.8v2.8h-2.8zm6.4-2.3h2.8v2.8h-2.8zm5.6 1.2h2.8v2.8h-2.8zm4.2-.4h2.8v2.8h-2.8zm3.5 .1h2.8v2.8h-2.8zm9.5-1.6h2.8v2.8h-2.8zm32.3 3.6h2.8v2.8h-2.8zm-313.3 4.8h2.8v2.8h-2.8zm34.2-2.7h2.8v2.8h-2.8zm25.9 2.7h2.8v2.8h-2.8zm20.3-2.6h2.8v2.8h-2.8zm11.7 2.7h2.8v2.8h-2.8zm6 .6h2.8v2.8h-2.8zm8.6 .9h2.8v2.8h-2.8zm2.3-3.8h2.8v2.8h-2.8zm10.7 3.6h2.8v2.8h-2.8zm7-.2h2.8v2.8h-2.8zm6 .9h2.8v2.8h-2.8zm5.7-4h2.8v2.8h-2.8zm6.8 2.1h2.8v2.8h-2.8zm6.3 .9h2.8v2.8h-2.8zm4.7-1h2.8v2.8h-2.8zm3.6 2.9h2.8v2.8h-2.8zm13-4.8h2.8v2.8h-2.8zm2.8 4.8h2.8v2.8h-2.8zm.5-5.4h2.8v2.8h-2.8zm8 2.2h2.8v2.8h-2.8zm4.7 .7h2.8v2.8h-2.8zm7.4-2.6h2.8v2.8h-2.8zm5.8 .8h2.8v2.8h-2.8zm15.8 1.8h2.8v2.8h-2.8zm6.8 2h2.8v2.8h-2.8zm7.1-3.2h2.8v2.8h-2.8zm4.4 .8h2.8v2.8h-2.8zm3.6 .9h2.8v2.8h-2.8zm28.7 1.8h2.8v2.8h-2.8zm4.8-.4h2.8v2.8h-2.8zm8.7-1.3h2.8v2.8h-2.8zm-259.6 4.9h2.8v2.8h-2.8zm9.8-.3h2.8v2.8h-2.8zm13.3 1.6h2.8v2.8h-2.8zm21.2-1h2.8v2.8h-2.8zm6.3 2.4h2.8v2.8h-2.8zm2.5-3.7h2.8v2.8h-2.8zm10.8-.5h2.8v2.8h-2.8zm3.5 4.5h2.8v2.8h-2.8zm19.1-2.4h2.8v2.8h-2.8zm6.1-.3h2.8v2.8h-2.8zm14.2 1.5h2.8v2.8h-2.8zm11.2-2.1h2.8v2.8h-2.8zm7.7 1.1h2.8v2.8h-2.8zm12.8 .6h2.8v2.8h-2.8zm6.4-4.1h2.8v2.8h-2.8zm11 5.4h2.8v2.8h-2.8zm4.2-5.1h2.8v2.8h-2.8zm6.1 3.6h2.8v2.8h-2.8zm5-3.5h2.8v2.8h-2.8zm3.3 1.4h2.8v2.8h-2.8zm7.7-1.6h2.8v2.8h-2.8zm9 2.3h2.8v2.8h-2.8zm7.4 1.4h2.8v2.8h-2.8zm9.8-2.3h2.8v2.8h-2.8zm.4 3.5h2.8v2.8h-2.8zm10.9-2.2h2.8v2.8h-2.8zm6.9-1h2.8v2.8h-2.8zm3.9 0h2.8v2.8h-2.8zm2.7 3.9h2.8v2.8h-2.8zm1.5-4.9h2.8v2.8h-2.8zm12.1 2.6h2.8v2.8h-2.8zm15.9-2.5h2.8v2.8h-2.8zm5.8 1.6h2.8v2.8h-2.8zm7.8 3h2.8v2.8h-2.8zm31.4-1.1h2.8v2.8h-2.8zm-276.2 2.5h2.8v2.8h-2.8zm7.9 4.3h2.8v2.8h-2.8zm20.4-4.9h2.8v2.8h-2.8zm18.7 1h2.8v2.8h-2.8zm9.8 3.6h2.8v2.8h-2.8zm6.4-2.2h2.8v2.8h-2.8zm4.4-1.9h2.8v2.8h-2.8zm5.8 3.3h2.8v2.8h-2.8zm3.2-.8h2.8v2.8h-2.8zm4 2h2.8v2.8h-2.8zm.6-4.5h2.8v2.8h-2.8zm9.8 3.6h2.8v2.8h-2.8zm14-2.9h2.8v2.8h-2.8zm7.7 3.3h2.8v2.8h-2.8zm4.7-3.6h2.8v2.8h-2.8zm11.2 1.2h2.8v2.8h-2.8zm12.6-.7h2.8v2.8h-2.8zm8.5 4h2.8v2.8h-2.8zm1-3.3h2.8v2.8h-2.8zm8.1 2.6h2.8v2.8h-2.8zm13.2-5h2.8v2.8h-2.8zm8.1 5.4h2.8v2.8h-2.8zm3.3-2.4h2.8v2.8h-2.8zm7 .9h2.8v2.8h-2.8zm7.8 1.1h2.8v2.8h-2.8zm8.8-4.3h2.8v2.8h-2.8zm6.7 1h2.8v2.8h-2.8zm8.8 1h2.8v2.8h-2.8zm9.2 3.1h2.8v2.8h-2.8zm6.6-4.4h2.8v2.8h-2.8zm18.9 1.5h2.8v2.8h-2.8zm-304.9 3.6h2.8v2.8h-2.8zm13.6 5h2.8v2.8h-2.8zm5.2-2.6h2.8v2.8h-2.8zm34.4 1.5h2.8v2.8h-2.8zm13.4-4.1h2.8v2.8h-2.8zm4.2 1.6h2.8v2.8h-2.8zm.5 3.2h2.8v2.8h-2.8zm4.8-3.5h2.8v2.8h-2.8zm4.3 3h2.8v2.8h-2.8zm8.3-4.3h2.8v2.8h-2.8zm4.5 5.6h2.8v2.8h-2.8zm3.6-3.9h2.8v2.8h-2.8zm6.9 2.7h2.8v2.8h-2.8zm5.3-3h2.8v2.8h-2.8zm6.2 1.4h2.8v2.8h-2.8zm3.9-1.7h2.8v2.8h-2.8zm3.3 .3h2.8v2.8h-2.8zm10.5 4.1h2.8v2.8h-2.8zm10.6-4.5h2.8v2.8h-2.8zm.9 3.4h2.8v2.8h-2.8zm5.5-3h2.8v2.8h-2.8zm5.5 .3h2.8v2.8h-2.8zm9.5-.9h2.8v2.8h-2.8zm3.3-1.2h2.8v2.8h-2.8zm2.1 6h2.8v2.8h-2.8zm8-4.8h2.8v2.8h-2.8zm5.4 2.8h2.8v2.8h-2.8zm9.7-2.8h2.8v2.8h-2.8zm16.8 1.2h2.8v2.8h-2.8zm4.7-.1h2.8v2.8h-2.8zm7.1-.7h2.8v2.8h-2.8zm10.2-.8h2.8v2.8h-2.8zm4.7 3.7h2.8v2.8h-2.8zm9.1-1h2.8v2.8h-2.8zm3.2 .7h2.8v2.8h-2.8zm3.6-3.7h2.8v2.8h-2.8zm4.3-.2h2.8v2.8h-2.8zm16.9 1.8h2.8v2.8h-2.8zm21.2 1.2h2.8v2.8h-2.8zm-305.5 3.3h2.8v2.8h-2.8zm49.4 .9h2.8v2.8h-2.8zm3.3-1.4h2.8v2.8h-2.8zm6.8 1.4h2.8v2.8h-2.8zm8.8 3.9h2.8v2.8h-2.8zm8.8-4h2.8v2.8h-2.8zm.7 4.3h2.8v2.8h-2.8zm7.8-4h2.8v2.8h-2.8zm11.3-1.4h2.8v2.8h-2.8zm11.8-.1h2.8v2.8h-2.8zm4.9 3.3h2.8v2.8h-2.8zm7.6-2.4h2.8v2.8h-2.8zm5.8 3.8h2.8v2.8h-2.8zm5.9-.7h2.8v2.8h-2.8zm5-2.2h2.8v2.8h-2.8zm12.9 3.7h2.8v2.8h-2.8zm6-2.8h2.8v2.8h-2.8zm5.8-.7h2.8v2.8h-2.8zm9.4 .7h2.8v2.8h-2.8zm7.6 2.6h2.8v2.8h-2.8zm4.6-.8h2.8v2.8h-2.8zm2.9-3.8h2.8v2.8h-2.8zm3.6 1.8h2.8v2.8h-2.8zm6.6 2.9h2.8v2.8h-2.8zm3.3-1.6h2.8v2.8h-2.8zm8.4 1.3h2.8v2.8h-2.8zm5.3 .2h2.8v2.8h-2.8zm1.7-5.4h2.8v2.8h-2.8zm1.6 3.6h2.8v2.8h-2.8zm8.1 1.6h2.8v2.8h-2.8zm3.8-1h2.8v2.8h-2.8zm3.8-3.1h2.8v2.8h-2.8zm1.9 3.2h2.8v2.8h-2.8zm5.9-2.8h2.8v2.8h-2.8zm12.6 3.4h2.8v2.8h-2.8zm9.8-.8h2.8v2.8h-2.8zm4.1 1h2.8v2.8h-2.8zm8-3.6h2.8v2.8h-2.8zm15-.8h2.8v2.8h-2.8zm32.6 1.3h2.8v2.8h-2.8zm-319.2 6.7h2.8v2.8h-2.8zm30.4 3.2h2.8v2.8h-2.8zm2.9-3.4h2.8v2.8h-2.8zm16.6 2.5h2.8v2.8h-2.8zm.1-4.1h2.8v2.8h-2.8zm10.5 5h2.8v2.8h-2.8zm6-3.2h2.8v2.8h-2.8zm15.7-.6h2.8v2.8h-2.8zm6.3 1.7h2.8v2.8h-2.8zm4.4 1.1h2.8v2.8h-2.8zm3.8-4.1h2.8v2.8h-2.8zm9.2 4.5h2.8v2.8h-2.8zm1.6-3.7h2.8v2.8h-2.8zm5.9 2h2.8v2.8h-2.8zm4.4-2.1h2.8v2.8h-2.8zm10.3 3.9h2.8v2.8h-2.8zm7.2-3h2.8v2.8h-2.8zm13.8 2.2h2.8v2.8h-2.8zm6.9-.6h2.8v2.8h-2.8zm3.5-1.3h2.8v2.8h-2.8zm8.1 .9h2.8v2.8h-2.8zm1-3.5h2.8v2.8h-2.8zm4.3 3.9h2.8v2.8h-2.8zm3.2-1h2.8v2.8h-2.8zm6 2.7h2.8v2.8h-2.8zm18-3.9h2.8v2.8h-2.8zm10 1h2.8v2.8h-2.8zm7.3 1.4h2.8v2.8h-2.8zm6.1-.1h2.8v2.8h-2.8zm13.4-3.1h2.8v2.8h-2.8zm5.5 .8h2.8v2.8h-2.8zm3.9-1.4h2.8v2.8h-2.8zm9.5 1.7h2.8v2.8h-2.8zm5.9 2.1h2.8v2.8h-2.8zm8.1-2.8h2.8v2.8h-2.8zm6.2-.6h2.8v2.8h-2.8zm.7 3.9h2.8v2.8h-2.8zm6.5-1.2h2.8v2.8h-2.8zm7-.7h2.8v2.8h-2.8zm9.5-2.1h2.8v2.8h-2.8zm19.1 .3h2.8v2.8h-2.8zm-298.5 6.2h2.8v2.8h-2.8zm25.4 2.9h2.8v2.8h-2.8zm23.9 1.4h2.8v2.8h-2.8zm1.8-3.6h2.8v2.8h-2.8zm7.6-1.6h2.8v2.8h-2.8zm.5 4.3h2.8v2.8h-2.8zm18.3-3.8h2.8v2.8h-2.8zm4.5 0h2.8v2.8h-2.8zm5.9 4.1h2.8v2.8h-2.8zm2.2-3.8h2.8v2.8h-2.8zm2.4 4h2.8v2.8h-2.8zm5.2-1.8h2.8v2.8h-2.8zm7.4-.1h2.8v2.8h-2.8zm14.3-.6h2.8v2.8h-2.8zm3.4-1.9h2.8v2.8h-2.8zm6.2 3.3h2.8v2.8h-2.8zm5.7-2.6h2.8v2.8h-2.8zm8.4 1.7h2.8v2.8h-2.8zm3.5-1h2.8v2.8h-2.8zm5.5 3.2h2.8v2.8h-2.8zm7.9-2.3h2.8v2.8h-2.8zm5.2-2.2h2.8v2.8h-2.8zm3.3 3.6h2.8v2.8h-2.8zm6.1-3.7h2.8v2.8h-2.8zm4.5 3.4h2.8v2.8h-2.8zm.9-3.4h2.8v2.8h-2.8zm7.2 4.2h2.8v2.8h-2.8zm.7-3.8h2.8v2.8h-2.8zm4 .6h2.8v2.8h-2.8zm16.1 .4h2.8v2.8h-2.8zm3.4 2.2h2.8v2.8h-2.8zm13.4-2.3h2.8v2.8h-2.8zm10.7 3.9h2.8v2.8h-2.8zm7.1 0h2.8v2.8h-2.8zm20.7-1h2.8v2.8h-2.8zm12.5-3.6h2.8v2.8h-2.8zm24.9 .2h2.8v2.8h-2.8zm-286.7 10.3h2.8v2.8h-2.8zm9.6-4.2h2.8v2.8h-2.8zm4.5 2.4h2.8v2.8h-2.8zm13.5 1.1h2.8v2.8h-2.8zm13.1-4.6h2.8v2.8h-2.8zm4.3 2.5h2.8v2.8h-2.8zm3.6-2h2.8v2.8h-2.8zm.1 4.5h2.8v2.8h-2.8zm4.4-3.2h2.8v2.8h-2.8zm7.6-1.7h2.8v2.8h-2.8zm0 3.5h2.8v2.8h-2.8zm3.4-2.9h2.8v2.8h-2.8zm2.2 4.7h2.8v2.8h-2.8zm8.5-3.6h2.8v2.8h-2.8zm9.8 1.4h2.8v2.8h-2.8zm5.1 .6h2.8v2.8h-2.8zm3.8 .7h2.8v2.8h-2.8zm4-3.7h2.8v2.8h-2.8zm3.4 2.7h2.8v2.8h-2.8zm4-2.6h2.8v2.8h-2.8zm5.9-.4h2.8v2.8h-2.8zm1.8 4.1h2.8v2.8h-2.8zm14.1-4.4h2.8v2.8h-2.8zm2.4 4.7h2.8v2.8h-2.8zm3.4-1.7h2.8v2.8h-2.8zm3.3-.7h2.8v2.8h-2.8zm4.6 2.2h2.8v2.8h-2.8zm1.4-3.4h2.8v2.8h-2.8zm5.3-1h2.8v2.8h-2.8zm4.1 1.3h2.8v2.8h-2.8zm.9 3.3h2.8v2.8h-2.8zm5.5-1.6h2.8v2.8h-2.8zm7.2-2.3h2.8v2.8h-2.8zm7.6 2.9h2.8v2.8h-2.8zm8.1-1.8h2.8v2.8h-2.8zm6-.2h2.8v2.8h-2.8zm14 1h2.8v2.8h-2.8zm7.3 .8h2.8v2.8h-2.8zm4.3-3.1h2.8v2.8h-2.8zm13.6 2.6h2.8v2.8h-2.8zm10.7 0h2.8v2.8h-2.8zm17.9-1.7h2.8v2.8h-2.8zm16.1 2h2.8v2.8h-2.8zm-303.3 7.7h2.8v2.8h-2.8zm20.7-5.6h2.8v2.8h-2.8zm17.6 5.7h2.8v2.8h-2.8zm6.9-3.2h2.8v2.8h-2.8zm3.3 1.7h2.8v2.8h-2.8zm5.2-2.1h2.8v2.8h-2.8zm6 1.5h2.8v2.8h-2.8zm6.8-2.9h2.8v2.8h-2.8zm3.7 .4h2.8v2.8h-2.8zm6.7-.8h2.8v2.8h-2.8zm6.2 4.5h2.8v2.8h-2.8zm8.2-3.3h2.8v2.8h-2.8zm9.6 3.5h2.8v2.8h-2.8zm4.5-1.1h2.8v2.8h-2.8zm7.1-1.3h2.8v2.8h-2.8zm12.2 .7h2.8v2.8h-2.8zm3.8-.4h2.8v2.8h-2.8zm14-.1h2.8v2.8h-2.8zm8.1 1.6h2.8v2.8h-2.8zm7.1 .9h2.8v2.8h-2.8zm6.3-.8h2.8v2.8h-2.8zm4.9-1.8h2.8v2.8h-2.8zm4.3-.4h2.8v2.8h-2.8zm4.3 1.2h2.8v2.8h-2.8zm12.8-2.3h2.8v2.8h-2.8zm3.3 .9h2.8v2.8h-2.8zm7.2-2.3h2.8v2.8h-2.8zm7.1 5.1h2.8v2.8h-2.8zm7 0h2.8v2.8h-2.8zm5.1-4.1h2.8v2.8h-2.8zm6.4 4h2.8v2.8h-2.8zm3.6-4.4h2.8v2.8h-2.8zm3.2 5h2.8v2.8h-2.8zm13.2-4.6h2.8v2.8h-2.8zm3.1 4.4h2.8v2.8h-2.8zm.6-3.6h2.8v2.8h-2.8zm5.6 .6h2.8v2.8h-2.8zm9.4-.7h2.8v2.8h-2.8zm-242.6 5.9h2.8v2.8h-2.8zm15.8 2.3h2.8v2.8h-2.8zm16.5-1.2h2.8v2.8h-2.8zm4.7-.1h2.8v2.8h-2.8zm8.3-2.4h2.8v2.8h-2.8zm5.6 .4h2.8v2.8h-2.8zm4.7 4.5h2.8v2.8h-2.8zm.2-3.8h2.8v2.8h-2.8zm12.5 1.3h2.8v2.8h-2.8zm4.3-.7h2.8v2.8h-2.8zm6.7 1.9h2.8v2.8h-2.8zm5.8 .8h2.8v2.8h-2.8zm7.3-3.7h2.8v2.8h-2.8zm4.8-.3h2.8v2.8h-2.8zm2.5 3.4h2.8v2.8h-2.8zm5.8 .8h2.8v2.8h-2.8zm5.8-1.5h2.8v2.8h-2.8zm4.6-3h2.8v2.8h-2.8zm9 2h2.8v2.8h-2.8zm5.4 1.5h2.8v2.8h-2.8zm7.4-.8h2.8v2.8h-2.8zm4 3h2.8v2.8h-2.8zm4-2.9h2.8v2.8h-2.8zm11.6 2.6h2.8v2.8h-2.8zm7.1-3.6h2.8v2.8h-2.8zm10.9 2.5h2.8v2.8h-2.8zm7.2-.7h2.8v2.8h-2.8zm6.4 1.6h2.8v2.8h-2.8zm22.5-.4h2.8v2.8h-2.8zm6.1-3.1h2.8v2.8h-2.8zm11.8 1.6h2.8v2.8h-2.8zm8.4-3.5h2.8v2.8h-2.8zm16.5 .4h2.8v2.8h-2.8zm4 .7h2.8v2.8h-2.8zm9.6-.5h2.8v2.8h-2.8zm-278.8 6.2h2.8v2.8h-2.8zm20.8 2.5h2.8v2.8h-2.8zm13.8-2h2.8v2.8h-2.8zm6.7 1.7h2.8v2.8h-2.8zm13.6-2.2h2.8v2.8h-2.8zm1.2 4.1h2.8v2.8h-2.8zm12.1-2.5h2.8v2.8h-2.8zm10.8-1.7h2.8v2.8h-2.8zm7 .6h2.8v2.8h-2.8zm5.6 4.2h2.8v2.8h-2.8zm12.2-2.5h2.8v2.8h-2.8zm6.4 .8h2.8v2.8h-2.8zm6.4 .9h2.8v2.8h-2.8zm6.5-1.2h2.8v2.8h-2.8zm3.4-.2h2.8v2.8h-2.8zm6.7-1.5h2.8v2.8h-2.8zm3.4 .8h2.8v2.8h-2.8zm6.2 1.1h2.8v2.8h-2.8zm4 1h2.8v2.8h-2.8zm10 .7h2.8v2.8h-2.8zm7.2-1.6h2.8v2.8h-2.8zm11-1.7h2.8v2.8h-2.8zm6.8-2.1h2.8v2.8h-2.8zm.2 5.9h2.8v2.8h-2.8zm3.4-1.3h2.8v2.8h-2.8zm4.6 .9h2.8v2.8h-2.8zm2.5-3.4h2.8v2.8h-2.8zm.9 3.4h2.8v2.8h-2.8zm4.3-.4h2.8v2.8h-2.8zm9.1-4h2.8v2.8h-2.8zm3.4 2.7h2.8v2.8h-2.8zm10-.6h2.8v2.8h-2.8zm10-2.1h2.8v2.8h-2.8zm7.5 4.1h2.8v2.8h-2.8zm8-5.1h2.8v2.8h-2.8zm6.4 .7h2.8v2.8h-2.8zm10.7-.4h2.8v2.8h-2.8zm11.5 4.7h2.8v2.8h-2.8zm13.1-5.2h2.8v2.8h-2.8zm2.8 4.1h2.8v2.8h-2.8zm-277.2 7.5h2.8v2.8h-2.8zm.9-3.3h2.8v2.8h-2.8zm20.3 1.6h2.8v2.8h-2.8zm9.6-3.2h2.8v2.8h-2.8zm3.5 .6h2.8v2.8h-2.8zm5.4-.1h2.8v2.8h-2.8zm1.1 3.9h2.8v2.8h-2.8zm9.8-2.6h2.8v2.8h-2.8zm3.9-.3h2.8v2.8h-2.8zm8.3-.3h2.8v2.8h-2.8zm3.3 .5h2.8v2.8h-2.8zm4.4 3.2h2.8v2.8h-2.8zm3.3-5.5h2.8v2.8h-2.8zm4.5 3h2.8v2.8h-2.8zm7.6-1h2.8v2.8h-2.8zm6.6-1.6h2.8v2.8h-2.8zm4.2 .6h2.8v2.8h-2.8zm3 4.7h2.8v2.8h-2.8zm4.4-1.7h2.8v2.8h-2.8zm17.3 .6h2.8v2.8h-2.8zm3.6-3.8h2.8v2.8h-2.8zm29.4 2.1h2.8v2.8h-2.8zm10.9-1.5h2.8v2.8h-2.8zm2.5 4.3h2.8v2.8h-2.8zm23.3-5.6h2.8v2.8h-2.8zm3.2 5.6h2.8v2.8h-2.8zm2.7-4.6h2.8v2.8h-2.8zm23.6 .4h2.8v2.8h-2.8zm19.7 1.9h2.8v2.8h-2.8zm5.9 .9h2.8v2.8h-2.8zm4.4-1h2.8v2.8h-2.8zm10.2 .4h2.8v2.8h-2.8zm-233.7 4.8h2.8v2.8h-2.8zm7.5-.4h2.8v2.8h-2.8zm11.8-.7h2.8v2.8h-2.8zm6.5 .2h2.8v2.8h-2.8zm5.9 4.2h2.8v2.8h-2.8zm7.6-2.9h2.8v2.8h-2.8zm7.3-.3h2.8v2.8h-2.8zm11.5 .4h2.8v2.8h-2.8zm7.3-2h2.8v2.8h-2.8zm6.1 4.5h2.8v2.8h-2.8zm11-3.6h2.8v2.8h-2.8zm4.6 1.5h2.8v2.8h-2.8zm6.6 2.5h2.8v2.8h-2.8zm3.1-3.6h2.8v2.8h-2.8zm9.7 1.4h2.8v2.8h-2.8zm4.6-3h2.8v2.8h-2.8zm3.5 .7h2.8v2.8h-2.8zm7.2 1.5h2.8v2.8h-2.8zm7.2 0h2.8v2.8h-2.8zm6-2.2h2.8v2.8h-2.8zm.6 4.1h2.8v2.8h-2.8zm3.3 .9h2.8v2.8h-2.8zm8-5.5h2.8v2.8h-2.8zm11.1 4.2h2.8v2.8h-2.8zm6.2-1h2.8v2.8h-2.8zm8-2.9h2.8v2.8h-2.8zm3.7 2.1h2.8v2.8h-2.8zm11-1h2.8v2.8h-2.8zm1.9 3.8h2.8v2.8h-2.8zm1.6-3.6h2.8v2.8h-2.8zm9.2-.1h2.8v2.8h-2.8zm9.2 2.1h2.8v2.8h-2.8zm3.4 1.4h2.8v2.8h-2.8zm30.3-5.2h2.8v2.8h-2.8zm-275.3 8.9h2.8v2.8h-2.8zm24.8-1.7h2.8v2.8h-2.8zm8.5-.4h2.8v2.8h-2.8zm17.5 .4h2.8v2.8h-2.8zm3.3 0h2.8v2.8h-2.8zm2.5 4.3h2.8v2.8h-2.8zm5.8 .4h2.8v2.8h-2.8zm6.4-1.7h2.8v2.8h-2.8zm6.9-.5h2.8v2.8h-2.8zm2.3-3.5h2.8v2.8h-2.8zm3.3 4.4h2.8v2.8h-2.8zm4.2-.9h2.8v2.8h-2.8zm3.6 1.4h2.8v2.8h-2.8zm6.7-4.5h2.8v2.8h-2.8zm13.8 3.3h2.8v2.8h-2.8zm6.5 .2h2.8v2.8h-2.8zm4.6 1h2.8v2.8h-2.8zm.4-3.3h2.8v2.8h-2.8zm9.2-1.4h2.8v2.8h-2.8zm.4 3.3h2.8v2.8h-2.8zm7.8-2.4h2.8v2.8h-2.8zm3.9-.4h2.8v2.8h-2.8zm7.9 2.6h2.8v2.8h-2.8zm5-3.1h2.8v2.8h-2.8zm10.6 4.4h2.8v2.8h-2.8zm3.3-.5h2.8v2.8h-2.8zm7.3-1.7h2.8v2.8h-2.8zm4.3-2.3h2.8v2.8h-2.8zm5.5 4.2h2.8v2.8h-2.8zm15.3-2.9h2.8v2.8h-2.8zm32.8 2.1h2.8v2.8h-2.8zm8.5-1.2h2.8v2.8h-2.8zm14.9-1.5h2.8v2.8h-2.8zm7.1 4.6h2.8v2.8h-2.8zm-267.2 3.5h2.8v2.8h-2.8zm6.3-.8h2.8v2.8h-2.8zm28.7-2.1h2.8v2.8h-2.8zm1.5 3.7h2.8v2.8h-2.8zm7.7-.3h2.8v2.8h-2.8zm6.2 .9h2.8v2.8h-2.8zm11.8 1.4h2.8v2.8h-2.8zm8.8-3.5h2.8v2.8h-2.8zm5.4 .4h2.8v2.8h-2.8zm4.3 1.4h2.8v2.8h-2.8zm9.7-.1h2.8v2.8h-2.8zm11.2-3h2.8v2.8h-2.8zm2.3 3.7h2.8v2.8h-2.8zm5.7-.8h2.8v2.8h-2.8zm3.4-.6h2.8v2.8h-2.8zm4.5-2h2.8v2.8h-2.8zm11.9-.7h2.8v2.8h-2.8zm6 2.1h2.8v2.8h-2.8zm7.6-1.4h2.8v2.8h-2.8zm7.6 3.8h2.8v2.8h-2.8zm2.7-3.6h2.8v2.8h-2.8zm8.9 2.6h2.8v2.8h-2.8zm15.6-.3h2.8v2.8h-2.8zm11 .9h2.8v2.8h-2.8zm18.6-1.8h2.8v2.8h-2.8zm7.2 .7h2.8v2.8h-2.8zm.2-3.2h2.8v2.8h-2.8zm7.6 1h2.8v2.8h-2.8zm30.2-.7h2.8v2.8h-2.8zm16.5 4.3h2.8v2.8h-2.8zm23.5-4.1h2.8v2.8h-2.8zm-292.9 9.8h2.8v2.8h-2.8zm24.8-1.7h2.8v2.8h-2.8zm14.7 2.1h2.8v2.8h-2.8zm18.6-2.9h2.8v2.8h-2.8zm7.3 1h2.8v2.8h-2.8zm15.5 .2h2.8v2.8h-2.8zm6.8 1.2h2.8v2.8h-2.8zm4.5 .3h2.8v2.8h-2.8zm4.7-3.4h2.8v2.8h-2.8zm2.5 4.2h2.8v2.8h-2.8zm1.9-3.2h2.8v2.8h-2.8zm4.8 .3h2.8v2.8h-2.8zm5.9-.2h2.8v2.8h-2.8zm4.6 2.7h2.8v2.8h-2.8zm2.2-4h2.8v2.8h-2.8zm3.8-.7h2.8v2.8h-2.8zm4.4 4.3h2.8v2.8h-2.8zm1.3-3.9h2.8v2.8h-2.8zm18.5 3.3h2.8v2.8h-2.8zm7.4-3.2h2.8v2.8h-2.8zm7.5 .4h2.8v2.8h-2.8zm3.7 1.7h2.8v2.8h-2.8zm3.5 2.3h2.8v2.8h-2.8zm10.2 .2h2.8v2.8h-2.8zm3.7-4.6h2.8v2.8h-2.8zm4.7 3.2h2.8v2.8h-2.8zm12.9 .6h2.8v2.8h-2.8zm11.6-.2h2.8v2.8h-2.8zm3.3 0h2.8v2.8h-2.8zm17.3 .3h2.8v2.8h-2.8zm.4-4.7h2.8v2.8h-2.8zm3.2 4.6h2.8v2.8h-2.8zm11.8-1.8h2.8v2.8h-2.8zm-189.4 5h2.8v2.8h-2.8zm13.4 1.8h2.8v2.8h-2.8zm1.6-3.4h2.8v2.8h-2.8zm3.6 3.8h2.8v2.8h-2.8zm6.5-.9h2.8v2.8h-2.8zm6 .6h2.8v2.8h-2.8zm11.9 .7h2.8v2.8h-2.8zm8-3.9h2.8v2.8h-2.8zm10.8 .5h2.8v2.8h-2.8zm11.9 2.2h2.8v2.8h-2.8zm5.6 2.3h2.8v2.8h-2.8zm15.9-3.5h2.8v2.8h-2.8zm7 3.1h2.8v2.8h-2.8zm6.7-2.6h2.8v2.8h-2.8zm17.2-.7h2.8v2.8h-2.8zm4.3-.6h2.8v2.8h-2.8zm15.1 1.6h2.8v2.8h-2.8zm10.8 1.8h2.8v2.8h-2.8zm8.3-2.2h2.8v2.8h-2.8zm42.3 1.5h2.8v2.8h-2.8zm-222.8 2.6h2.8v2.8h-2.8zm8.7 2.1h2.8v2.8h-2.8zm10.2-.1h2.8v2.8h-2.8zm4.2-.7h2.8v2.8h-2.8zm20.8 .2h2.8v2.8h-2.8zm7.2-1.8h2.8v2.8h-2.8zm3.5 2.3h2.8v2.8h-2.8zm9.1-2h2.8v2.8h-2.8zm.5 4h2.8v2.8h-2.8zm12.5-3.6h2.8v2.8h-2.8zm3.5 2.7h2.8v2.8h-2.8zm7.5-2.1h2.8v2.8h-2.8zm14.1-1.1h2.8v2.8h-2.8zm5.4 1.6h2.8v2.8h-2.8zm7.3-.3h2.8v2.8h-2.8zm8.9-.2h2.8v2.8h-2.8zm7.9-1.8h2.8v2.8h-2.8zm15.2 1.9h2.8v2.8h-2.8zm2.3 3.6h2.8v2.8h-2.8zm6.4-.3h2.8v2.8h-2.8zm6.7-1.4h2.8v2.8h-2.8zm5.6 .7h2.8v2.8h-2.8zm.7-3.9h2.8v2.8h-2.8zm8.4 2.9h2.8v2.8h-2.8zm5.8 .6h2.8v2.8h-2.8zm2.2-3.9h2.8v2.8h-2.8zm14.7 2.3h2.8v2.8h-2.8zm10.2-2.2h2.8v2.8h-2.8zm-238.7 8h2.8v2.8h-2.8zm20.6-.5h2.8v2.8h-2.8zm2.5 3.2h2.8v2.8h-2.8zm15-4h2.8v2.8h-2.8zm2.8 4h2.8v2.8h-2.8zm3.9-4h2.8v2.8h-2.8zm6.5 .3h2.8v2.8h-2.8zm4.5 2.3h2.8v2.8h-2.8zm7.9-2.2h2.8v2.8h-2.8zm1.6 4.4h2.8v2.8h-2.8zm11.5-5.1h2.8v2.8h-2.8zm.4 5h2.8v2.8h-2.8zm3.3-4.4h2.8v2.8h-2.8zm9.8 3.9h2.8v2.8h-2.8zm3.6-.5h2.8v2.8h-2.8zm21.6-2.1h2.8v2.8h-2.8zm7 2h2.8v2.8h-2.8zm3.3 1.2h2.8v2.8h-2.8zm4.6-5.1h2.8v2.8h-2.8zm7.1 2.1h2.8v2.8h-2.8zm6.9-1.4h2.8v2.8h-2.8zm13.5 .3h2.8v2.8h-2.8zm7.5 2.7h2.8v2.8h-2.8zm4.1-3.1h2.8v2.8h-2.8zm16.9 2.4h2.8v2.8h-2.8zm31.6-3h2.8v2.8h-2.8zm13.1 4.4h2.8v2.8h-2.8zm-183.4 3.1h2.8v2.8h-2.8zm9.6 2.7h2.8v2.8h-2.8zm3.4 .8h2.8v2.8h-2.8zm3.8-1.8h2.8v2.8h-2.8zm11.4-.1h2.8v2.8h-2.8zm15.8-.5h2.8v2.8h-2.8zm8 .8h2.8v2.8h-2.8zm4.3 0h2.8v2.8h-2.8zm3.4-2.5h2.8v2.8h-2.8zm1.2 4.2h2.8v2.8h-2.8zm13.1-1.3h2.8v2.8h-2.8zm9.3 1h2.8v2.8h-2.8zm.4-4.4h2.8v2.8h-2.8zm6.3 2.8h2.8v2.8h-2.8zm5.6-.9h2.8v2.8h-2.8zm3.9 .7h2.8v2.8h-2.8zm5.9-1h2.8v2.8h-2.8zm3.5-2.2h2.8v2.8h-2.8zm4.5 2.9h2.8v2.8h-2.8zm3.4-1.1h2.8v2.8h-2.8zm3.8 2h2.8v2.8h-2.8zm5.6-.3h2.8v2.8h-2.8zm3.6 0h2.8v2.8h-2.8zm9-3h2.8v2.8h-2.8zm6.3 0h2.8v2.8h-2.8zm11.9-1h2.8v2.8h-2.8zm28.8 4.6h2.8v2.8h-2.8zm3.4-3.4h2.8v2.8h-2.8zm-202.6 8.3h2.8v2.8h-2.8zm24.5 2.3h2.8v2.8h-2.8zm12.3-4.3h2.8v2.8h-2.8zm6.8-.4h2.8v2.8h-2.8zm5.6 3.7h2.8v2.8h-2.8zm8.4 .8h2.8v2.8h-2.8zm3-4.6h2.8v2.8h-2.8zm6.7 3.2h2.8v2.8h-2.8zm5.3-.7h2.8v2.8h-2.8zm8.1-2.8h2.8v2.8h-2.8zm5.5 3.5h2.8v2.8h-2.8zm3.3 1.5h2.8v2.8h-2.8zm6.9-2.3h2.8v2.8h-2.8zm3.3-.1h2.8v2.8h-2.8zm5.2 1.5h2.8v2.8h-2.8zm4.8-4.4h2.8v2.8h-2.8zm10-.1h2.8v2.8h-2.8zm.4 3.9h2.8v2.8h-2.8zm9.7 1.4h2.8v2.8h-2.8zm4.7-2.4h2.8v2.8h-2.8zm16.3 .8h2.8v2.8h-2.8zm10.6-2.3h2.8v2.8h-2.8zm5.7 3.3h2.8v2.8h-2.8zm7.2-1.3h2.8v2.8h-2.8zm6.7-1.5h2.8v2.8h-2.8zm23.6 3.2h2.8v2.8h-2.8zm-188.1 2.9h2.8v2.8h-2.8zm8.1 1.3h2.8v2.8h-2.8zm13.5 0h2.8v2.8h-2.8zm6.3 .5h2.8v2.8h-2.8zm10.9 1.5h2.8v2.8h-2.8zm16.9-.8h2.8v2.8h-2.8zm6.9-3.1h2.8v2.8h-2.8zm4.1 3.8h2.8v2.8h-2.8zm10.9-2.6h2.8v2.8h-2.8zm4.2 2.4h2.8v2.8h-2.8zm8.3-2.3h2.8v2.8h-2.8zm4.5-2.1h2.8v2.8h-2.8zm12.3 1.6h2.8v2.8h-2.8zm32.9-1.4h2.8v2.8h-2.8zm8.7 4.4h2.8v2.8h-2.8zm8.1-3.9h2.8v2.8h-2.8zm8.9 1.1h2.8v2.8h-2.8zm21.6 2.5h2.8v2.8h-2.8zm4.5-.9h2.8v2.8h-2.8zm.4-3.4h2.8v2.8h-2.8zm-206.3 10.3h2.8v2.8h-2.8zm15.8-4.8h2.8v2.8h-2.8zm45 2.3h2.8v2.8h-2.8zm7.1 .7h2.8v2.8h-2.8zm9 1.4h2.8v2.8h-2.8zm7.9-4.4h2.8v2.8h-2.8zm1 5.4h2.8v2.8h-2.8zm3.1-5.5h2.8v2.8h-2.8zm22.6 1.2h2.8v2.8h-2.8zm6.7 2.8h2.8v2.8h-2.8zm10.8-3.9h2.8v2.8h-2.8zm3.7 4.6h2.8v2.8h-2.8zm9.6-2.8h2.8v2.8h-2.8zm7.1-.6h2.8v2.8h-2.8zm-105.6 6.9h2.8v2.8h-2.8zm15.3 2.4h2.8v2.8h-2.8zm11.5-.9h2.8v2.8h-2.8zm10.2-2.6h2.8v2.8h-2.8zm18.4 1.6h2.8v2.8h-2.8zm7.4-3.1h2.8v2.8h-2.8zm5.6 5.8h2.8v2.8h-2.8zm5.2-3.6h2.8v2.8h-2.8zm48 0h2.8v2.8h-2.8zm3.5-1.4h2.8v2.8h-2.8zm8.8 2.6h2.8v2.8h-2.8zm-164.1 5.3h2.8v2.8h-2.8zm18.8-2.3h2.8v2.8h-2.8zm3.4 4.4h2.8v2.8h-2.8zm29.5-2.4h2.8v2.8h-2.8zm8.2 2.6h2.8v2.8h-2.8zm11-4.3h2.8v2.8h-2.8zm14.9 1.6h2.8v2.8h-2.8zm24.1-1.3h2.8v2.8h-2.8zm2.9 3.2h2.8v2.8h-2.8zm41.1-3.6h2.8v2.8h-2.8zm-148.9 10.4h2.8v2.8h-2.8zm28.3-3h2.8v2.8h-2.8zm23.4-1.8h2.8v2.8h-2.8zm41.7 3.5h2.8v2.8h-2.8zm19.3 .9h2.8v2.8h-2.8zm6.3-.6h2.8v2.8h-2.8zm12.8-3.7h2.8v2.8h-2.8zm22.6 1.7h2.8v2.8h-2.8zm-153.9 6.4h2.8v2.8h-2.8zm28.6 .1h2.8v2.8h-2.8zm14.4-1.7h2.8v2.8h-2.8zm21.9 5.1h2.8v2.8h-2.8zm34.3-2.5h2.8v2.8h-2.8zm-75.9 7.2h2.8v2.8h-2.8zm4.2-3.3h2.8v2.8h-2.8zm6.4 .3h2.8v2.8h-2.8zm1.7 3.3h2.8v2.8h-2.8zm10.2-2.4h2.8v2.8h-2.8zm5.4-.7h2.8v2.8h-2.8zm2.6 3.4h2.8v2.8h-2.8zm19.3-3h2.8v2.8h-2.8zm3.8-.3h2.8v2.8h-2.8zm39.6-.2h2.8v2.8h-2.8zm-85.4 8.4h2.8v2.8h-2.8zm9.8-.3h2.8v2.8h-2.8zm4.4 1.4h2.8v2.8h-2.8zm4.2-3.3h2.8v2.8h-2.8zm4.1 .8h2.8v2.8h-2.8zm52.7-1.5h2.8v2.8h-2.8zm-57.6 5.5h2.8v2.8h-2.8zm6.1 .7h2.8v2.8h-2.8zm20.6 16.7h2.8v2.8h-2.8z"/>
<path fill="#55a868" d="M241.4 18.6h2.8v2.8h-2.8zm-1.1 6.9h2.8v2.8h-2.8zm-41.5 5.3h2.8v2.8h-2.8zm53.3-1.8h2.8v2.8h-2.8zm4.1 2.3h2.8v2.8h-2.8zm-37.8 13.5h2.8v2.8h-2.8zm58.1 2.3h2.8v2.8h-2.8zm-107.3 5.9h2.8v2.8h-2.8zm45.8 5.1h2.8v2.8h-2.8zm39.9-.2h2.8v2.8h-2.8zm31.3 .6h2.8v2.8h-2.8zm29.7 2.7h2.8v2.8h-2.8zm-165.9 5.4h2.8v2.8h-2.8zm17.3-.8h2.8v2.8h-2.8zm18.5 .2h2.8v2.8h-2.8zm17.5 .6h2.8v2.8h-2.8zm16.7-3.6h2.8v2.8h-2.8zm21.9-.3h2.8v2.8h-2.8zm2.1 4h2.8v2.8h-2.8zm-18.1 3.2h2.8v2.8h-2.8zm14.7-1.4h2.8v2.8h-2.8zm1.9 3.5h2.8v2.8h-2.8zm3.8 .6h2.8v2.8h-2.8zm6.3-3h2.8v2.8h-2.8zm18.6-.9h2.8v2.8h-2.8zm-92.9 9.6h2.8v2.8h-2.8zm17.4-3.7h2.8v2.8h-2.8zm8.3 1.4h2.8v2.8h-2.8zm14.4 2.6h2.8v2.8h-2.8zm18.2-3.2h2.8v2.8h-2.8zm12.1 .7h2.8v2.8h-2.8zm4-1.7h2.8v2.8h-2.8zm7.9 1.9h2.8v2.8h-2.8zm39.4 2.1h2.8v2.8h-2.8zm4.2-2.9h2.8v2.8h-2.8zm6 3.7h2.8v2.8h-2.8zm-167.1 .7h2.8v2.8h-2.8zm7 3.9h2.8v2.8h-2.8zm19.5-3.8h2.8v2.8h-2.8zm9.4 1.9h2.8v2.8h-2.8zm14-2.2h2.8v2.8h-2.8zm.8 5.2h2.8v2.8h-2.8zm3.9-2.1h2.8v2.8h-2.8zm6.3 2.1h2.8v2.8h-2.8zm7.7-5.2h2.8v2.8h-2.8zm13.8 1.3h2.8v2.8h-2.8zm7.5 2.6h2.8v2.8h-2.8zm5 .3h2.8v2.8h-2.8zm11.9-4.2h2.8v2.8h-2.8zm32.3 1.2h2.8v2.8h-2.8zm7.4 4.3h2.8v2.8h-2.8zm18.3-1.5h2.8v2.8h-2.8zm-198.3 3h2.8v2.8h-2.8zm42 2.3h2.8v2.8h-2.8zm25.2-2.3h2.8v2.8h-2.8zm6.5 3.5h2.8v2.8h-2.8zm7.7 1.2h2.8v2.8h-2.8zm2.2-3.3h2.8v2.8h-2.8zm4.3 3.5h2.8v2.8h-2.8zm13.4-4.2h2.8v2.8h-2.8zm5.4 .7h2.8v2.8h-2.8zm5.9 0h2.8v2.8h-2.8zm3.3-.4h2.8v2.8h-2.8zm8.6-.6h2.8v2.8h-2.8zm7 3.9h2.8v2.8h-2.8zm.7-3.2h2.8v2.8h-2.8zm3.4-.9h2.8v2.8h-2.8zm5.1 2.2h2.8v2.8h-2.8zm9.3-3.3h2.8v2.8h-2.8zm.9 5.4h2.8v2.8h-2.8zm14.8 .1h2.8v2.8h-2.8zm1.1-5.4h2.8v2.8h-2.8zm6.4-.2h2.8v2.8h-2.8zm1.3 5.4h2.8v2.8h-2.8zm10.4-2.4h2.8v2.8h-2.8zm10.5 1.6h2.8v2.8h-2.8zm17.3 .1h2.8v2.8h-2.8zm6.7-.6h2.8v2.8h-2.8zm-161.6 2h2.8v2.8h-2.8zm8.9 2.1h2.8v2.8h-2.8zm25.3-1.3h2.8v2.8h-2.8zm11.1 4.2h2.8v2.8h-2.8zm1.9-3.5h2.8v2.8h-2.8zm9.3 2h2.8v2.8h-2.8zm4.8-.2h2.8v2.8h-2.8zm4.6 1.4h2.8v2.8h-2.8zm5.3 .1h2.8v2.8h-2.8zm16.5-3.6h2.8v2.8h-2.8zm10.1-.7h2.8v2.8h-2.8zm4.6 4.7h2.8v2.8h-2.8zm6.7-.7h2.8v2.8h-2.8zm9 1h2.8v2.8h-2.8zm3.9-4.6h2.8v2.8h-2.8zm5.5 2.5h2.8v2.8h-2.8zm4.8-1.3h2.8v2.8h-2.8zm5.1 3h2.8v2.8h-2.8zm10.2 .2h2.8v2.8h-2.8zm13.9-2.1h2.8v2.8h-2.8zm-215.3 7.6h2.8v2.8h-2.8zm27.1-4.9h2.8v2.8h-2.8zm3.6 2.5h2.8v2.8h-2.8zm25 .2h2.8v2.8h-2.8zm16.4 1.5h2.8v2.8h-2.8zm3.2-3.8h2.8v2.8h-2.8zm3.4 1.7h2.8v2.8h-2.8zm5.8-.9h2.8v2.8h-2.8zm3.4 4.2h2.8v2.8h-2.8zm5.8-.2h2.8v2.8h-2.8zm10.3 .6h2.8v2.8h-2.8zm1.3-4.9h2.8v2.8h-2.8zm2.5 4.8h2.8v2.8h-2.8zm1.1-3.7h2.8v2.8h-2.8zm7.4 3.4h2.8v2.8h-2.8zm4.4 .4h2.8v2.8h-2.8zm22-5.4h2.8v2.8h-2.8zm1.5 3.5h2.8v2.8h-2.8zm4.2-1.2h2.8v2.8h-2.8zm12.5 .9h2.8v2.8h-2.8zm7.8-2h2.8v2.8h-2.8zm9.5 1.6h2.8v2.8h-2.8zm3.5-1.1h2.8v2.8h-2.8zm3.8-.2h2.8v2.8h-2.8zm12.9 .9h2.8v2.8h-2.8zm12.2-.5h2.8v2.8h-2.8zm-228.9 9.2h2.8v2.8h-2.8zm77.8-5.4h2.8v2.8h-2.8zm.2 3.4h2.8v2.8h-2.8zm13 1h2.8v2.8h-2.8zm4.9-1.1h2.8v2.8h-2.8zm22.7-3.3h2.8v2.8h-2.8zm1.7 4.4h2.8v2.8h-2.8zm20.6-1.1h2.8v2.8h-2.8zm6.9-2.8h2.8v2.8h-2.8zm5.9 .7h2.8v2.8h-2.8zm11.2 4.5h2.8v2.8h-2.8zm17.2-3.9h2.8v2.8h-2.8zm11 3h2.8v2.8h-2.8zm5.2-.7h2.8v2.8h-2.8zm9.3-3.7h2.8v2.8h-2.8zm5.4 3.4h2.8v2.8h-2.8zm9.2 .2h2.8v2.8h-2.8zm1.4-3.3h2.8v2.8h-2.8zm3.7-.7h2.8v2.8h-2.8zm10.4 2.1h2.8v2.8h-2.8zm3.5-.6h2.8v2.8h-2.8zm14.1 3.1h2.8v2.8h-2.8zm-184.4 6.8h2.8v2.8h-2.8zm10.1-2h2.8v2.8h-2.8zm4.7-1.8h2.8v2.8h-2.8zm3.9 0h2.8v2.8h-2.8zm4.9 2.1h2.8v2.8h-2.8zm5.1 .4h2.8v2.8h-2.8zm7.4-2h2.8v2.8h-2.8zm9.3-.4h2.8v2.8h-2.8zm16.5 1.9h2.8v2.8h-2.8zm8.5-1.5h2.8v2.8h-2.8zm4.5 1.1h2.8v2.8h-2.8zm3.6 .1h2.8v2.8h-2.8zm4.1 1.8h2.8v2.8h-2.8zm2.1-5h2.8v2.8h-2.8zm26.1 .3h2.8v2.8h-2.8zm9.9 3.6h2.8v2.8h-2.8zm9.7 .3h2.8v2.8h-2.8zm5.5-3.5h2.8v2.8h-2.8zm20.9 1.8h2.8v2.8h-2.8zm21.6 2.1h2.8v2.8h-2.8zm-220.1 1.7h2.8v2.8h-2.8zm19.9 3.3h2.8v2.8h-2.8zm34.7-2.4h2.8v2.8h-2.8zm12.1 4.2h2.8v2.8h-2.8zm8.5-.5h2.8v2.8h-2.8zm3.7-3.4h2.8v2.8h-2.8zm4.9-.7h2.8v2.8h-2.8zm8.7 1.4h2.8v2.8h-2.8zm8.4-1h2.8v2.8h-2.8zm14.8-.7h2.8v2.8h-2.8zm10.3 3.7h2.8v2.8h-2.8zm4.3 .3h2.8v2.8h-2.8zm4.9 .4h2.8v2.8h-2.8zm10.1-4.6h2.8v2.8h-2.8zm4.3 1.1h2.8v2.8h-2.8zm18.8 1h2.8v2.8h-2.8zm3.9 2.9h2.8v2.8h-2.8zm10.1-.2h2.8v2.8h-2.8zm22.6-2.6h2.8v2.8h-2.8zm4 2.3h2.8v2.8h-2.8zm17.6-4h2.8v2.8h-2.8zm-228.2 5.5h2.8v2.8h-2.8zm20.4 1.4h2.8v2.8h-2.8zm12.6-.2h2.8v2.8h-2.8zm18.9-1.6h2.8v2.8h-2.8zm6.5 .9h2.8v2.8h-2.8zm3.5-1h2.8v2.8h-2.8zm6.3 5.4h2.8v2.8h-2.8zm15.4-1.1h2.8v2.8h-2.8zm1.5-3.4h2.8v2.8h-2.8zm5.6 2.9h2.8v2.8h-2.8zm2.9-3.2h2.8v2.8h-2.8zm2 4.8h2.8v2.8h-2.8zm5.4-5h2.8v2.8h-2.8zm5.7 3h2.8v2.8h-2.8zm3-3.4h2.8v2.8h-2.8zm5.4 5.5h2.8v2.8h-2.8zm2.5-4.9h2.8v2.8h-2.8zm24.1 1.9h2.8v2.8h-2.8zm3.8 .4h2.8v2.8h-2.8zm9.4-1.7h2.8v2.8h-2.8zm1.3 4.3h2.8v2.8h-2.8zm2.2-4.8h2.8v2.8h-2.8zm9.4 .4h2.8v2.8h-2.8zm.1 3.3h2.8v2.8h-2.8zm9.4 0h2.8v2.8h-2.8zm6-1.7h2.8v2.8h-2.8zm6.5 3.2h2.8v2.8h-2.8zm5.7-1.5h2.8v2.8h-2.8zm10.7-3.6h2.8v2.8h-2.8zm13.6 2.7h2.8v2.8h-2.8zm-242.2 5.5h2.8v2.8h-2.8zm39.1 .9h2.8v2.8h-2.8zm40.5-2.2h2.8v2.8h-2.8zm11.8 1.2h2.8v2.8h-2.8zm21.2-.7h2.8v2.8h-2.8zm8.7 1.5h2.8v2.8h-2.8zm12.3 .8h2.8v2.8h-2.8zm7.2-3.9h2.8v2.8h-2.8zm6 2.4h2.8v2.8h-2.8zm18 1.8h2.8v2.8h-2.8zm4.8-3h2.8v2.8h-2.8zm13.8 3.5h2.8v2.8h-2.8zm2.9-4.2h2.8v2.8h-2.8zm1.4 4.1h2.8v2.8h-2.8zm16.3 .5h2.8v2.8h-2.8zm3.7-.3h2.8v2.8h-2.8zm19.1-2.9h2.8v2.8h-2.8zm-162.3 5.5h2.8v2.8h-2.8zm4.6 .6h2.8v2.8h-2.8zm3.7-1.5h2.8v2.8h-2.8zm14 3.7h2.8v2.8h-2.8zm11.6-1h2.8v2.8h-2.8zm6.1-.7h2.8v2.8h-2.8zm5.5-1.3h2.8v2.8h-2.8zm3.7 0h2.8v2.8h-2.8zm5.9 2h2.8v2.8h-2.8zm8.4 .5h2.8v2.8h-2.8zm5.6-1.1h2.8v2.8h-2.8zm16.4-1.1h2.8v2.8h-2.8zm7.4-1.8h2.8v2.8h-2.8zm8.6 4.6h2.8v2.8h-2.8zm3.9-1.3h2.8v2.8h-2.8zm4 1.5h2.8v2.8h-2.8zm4.4-3.8h2.8v2.8h-2.8zm3.8 3.1h2.8v2.8h-2.8zm13 1.2h2.8v2.8h-2.8zm16-.8h2.8v2.8h-2.8zm12.6 0h2.8v2.8h-2.8zm30.2-.3h2.8v2.8h-2.8zm22.1-1.6h2.8v2.8h-2.8zm-254.9 3.8h2.8v2.8h-2.8zm49 1.8h2.8v2.8h-2.8zm16.5 1.2h2.8v2.8h-2.8zm9.4-.1h2.8v2.8h-2.8zm15.8-.3h2.8v2.8h-2.8zm4 2.4h2.8v2.8h-2.8zm3.1-3.7h2.8v2.8h-2.8zm25.7-1.4h2.8v2.8h-2.8zm9.6 2.3h2.8v2.8h-2.8zm10 1.5h2.8v2.8h-2.8zm4.8 .8h2.8v2.8h-2.8zm3.5-1.1h2.8v2.8h-2.8zm3.8-.1h2.8v2.8h-2.8zm5.4-2.4h2.8v2.8h-2.8zm3.9 3.5h2.8v2.8h-2.8zm12.4-1.2h2.8v2.8h-2.8zm20.5 .8h2.8v2.8h-2.8zm16.3-1.7h2.8v2.8h-2.8zm21.3 .5h2.8v2.8h-2.8zm-282.4 2.6h2.8v2.8h-2.8zm19.9 4h2.8v2.8h-2.8zm50.2-1.2h2.8v2.8h-2.8zm5.8-2.6h2.8v2.8h-2.8zm10.1 4.2h2.8v2.8h-2.8zm4.8-4.4h2.8v2.8h-2.8zm23.1 2.8h2.8v2.8h-2.8zm10.5-.7h2.8v2.8h-2.8zm8.9-2h2.8v2.8h-2.8zm4.9 2.2h2.8v2.8h-2.8zm11.6-.9h2.8v2.8h-2.8zm7.1-.9h2.8v2.8h-2.8zm4.1 3.2h2.8v2.8h-2.8zm8.6 1.3h2.8v2.8h-2.8zm.7-5.1h2.8v2.8h-2.8zm3.7 1.1h2.8v2.8h-2.8zm12.4 4.5h2.8v2.8h-2.8zm19.9-1.8h2.8v2.8h-2.8zm4.2 .1h2.8v2.8h-2.8zm4.6-1.8h2.8v2.8h-2.8zm3.5-.7h2.8v2.8h-2.8zm4.9-.3h2.8v2.8h-2.8zm7.6 1.3h2.8v2.8h-2.8zm5 3.5h2.8v2.8h-2.8zm6.1-3.6h2.8v2.8h-2.8zm5.6 2.6h2.8v2.8h-2.8zm31-4.5h2.8v2.8h-2.8zm21.2 2.9h2.8v2.8h-2.8zm-312.9 7.2h2.8v2.8h-2.8zm1.4-4.1h2.8v2.8h-2.8zm61.4 2.9h2.8v2.8h-2.8zm38.5 1.8h2.8v2.8h-2.8zm24.8-3.8h2.8v2.8h-2.8zm4.8 1.1h2.8v2.8h-2.8zm10.7 3.5h2.8v2.8h-2.8zm1.4-5h2.8v2.8h-2.8zm5.7 1.4h2.8v2.8h-2.8zm4.8-.8h2.8v2.8h-2.8zm9.2-1.2h2.8v2.8h-2.8zm3.2 3.1h2.8v2.8h-2.8zm4.2-1.5h2.8v2.8h-2.8zm7.6 1.5h2.8v2.8h-2.8zm3.7-1h2.8v2.8h-2.8zm4.7 3.2h2.8v2.8h-2.8zm9.8-2.2h2.8v2.8h-2.8zm12-1.3h2.8v2.8h-2.8zm4.3-.8h2.8v2.8h-2.8zm.5 4h2.8v2.8h-2.8zm2.7-3.7h2.8v2.8h-2.8zm27.3 3.5h2.8v2.8h-2.8zm13.1-.9h2.8v2.8h-2.8zm12.3-1.4h2.8v2.8h-2.8zm3.6 .5h2.8v2.8h-2.8zm3.4 .5h2.8v2.8h-2.8zm3.8 2.2h2.8v2.8h-2.8zm-253.5 3.7h2.8v2.8h-2.8zm8.5-1.7h2.8v2.8h-2.8zm11.4 2.5h2.8v2.8h-2.8zm19.7-1.4h2.8v2.8h-2.8zm11.6-2.4h2.8v2.8h-2.8zm10 .4h2.8v2.8h-2.8zm19.4 3.7h2.8v2.8h-2.8zm3.5-4.4h2.8v2.8h-2.8zm3.3 .2h2.8v2.8h-2.8zm13.1 2.1h2.8v2.8h-2.8zm4.9-.7h2.8v2.8h-2.8zm4.7-.6h2.8v2.8h-2.8zm1.9 4h2.8v2.8h-2.8zm12.4-3.8h2.8v2.8h-2.8zm.9 3.7h2.8v2.8h-2.8zm6.8-3.4h2.8v2.8h-2.8zm7.3 .2h2.8v2.8h-2.8zm15.7 .4h2.8v2.8h-2.8zm9.9-1.7h2.8v2.8h-2.8zm7.9 3.7h2.8v2.8h-2.8zm8.4-2h2.8v2.8h-2.8zm3.7 .3h2.8v2.8h-2.8zm5 1.8h2.8v2.8h-2.8zm3.7 1.4h2.8v2.8h-2.8zm7.8-5.3h2.8v2.8h-2.8zm6.6 2.3h2.8v2.8h-2.8zm5.3 1.8h2.8v2.8h-2.8zm8.1-1.1h2.8v2.8h-2.8zm19.6-1h2.8v2.8h-2.8zm4.7-1h2.8v2.8h-2.8zm-173.5 9.1h2.8v2.8h-2.8zm11.2-2.7h2.8v2.8h-2.8zm6.3-1.7h2.8v2.8h-2.8zm.4 4.9h2.8v2.8h-2.8zm7.5-1.4h2.8v2.8h-2.8zm3.4-3.6h2.8v2.8h-2.8zm10.7 4.5h2.8v2.8h-2.8zm9.9-4.4h2.8v2.8h-2.8zm8.3 4.9h2.8v2.8h-2.8zm6.1-1.4h2.8v2.8h-2.8zm3.6-1.8h2.8v2.8h-2.8zm8.5 1h2.8v2.8h-2.8zm3.5 1.9h2.8v2.8h-2.8zm9.6-.9h2.8v2.8h-2.8zm7.1 .1h2.8v2.8h-2.8zm8.2-2.5h2.8v2.8h-2.8zm5.2 .8h2.8v2.8h-2.8zm3.5 .4h2.8v2.8h-2.8zm4.6 3.1h2.8v2.8h-2.8zm3.3-.1h2.8v2.8h-2.8zm3.3-.4h2.8v2.8h-2.8zm.6-5h2.8v2.8h-2.8zm4.3 2.1h2.8v2.8h-2.8zm7-.2h2.8v2.8h-2.8zm19.4-1.3h2.8v2.8h-2.8zm12.2-.3h2.8v2.8h-2.8zm3.6 .7h2.8v2.8h-2.8zm5.7-1h2.8v2.8h-2.8zm3.7 .1h2.8v2.8h-2.8zm14.5 1.9h2.8v2.8h-2.8zm37.5-1.6h2.8v2.8h-2.8zm-331.8 11.1h2.8v2.8h-2.8zm8.6-2.5h2.8v2.8h-2.8zm18.1-.1h2.8v2.8h-2.8zm22.5 .5h2.8v2.8h-2.8zm5.9 1.4h2.8v2.8h-2.8zm20.9-.3h2.8v2.8h-2.8zm18.8-1.6h2.8v2.8h-2.8zm3.5 1.3h2.8v2.8h-2.8zm9.3-1.1h2.8v2.8h-2.8zm7.1 1.4h2.8v2.8h-2.8zm24.2-1.8h2.8v2.8h-2.8zm5.7-2h2.8v2.8h-2.8zm3.4-.6h2.8v2.8h-2.8zm11.1 5h2.8v2.8h-2.8zm.9-3.2h2.8v2.8h-2.8zm4.4 2.6h2.8v2.8h-2.8zm4.8-3.7h2.8v2.8h-2.8zm8.5 1.6h2.8v2.8h-2.8zm5.1 1.2h2.8v2.8h-2.8zm4.1 1.3h2.8v2.8h-2.8zm1.6-3.5h2.8v2.8h-2.8zm15.1 1.2h2.8v2.8h-2.8zm6.9 .4h2.8v2.8h-2.8zm8.5 1.2h2.8v2.8h-2.8zm7.4-1.3h2.8v2.8h-2.8zm6.4 1.6h2.8v2.8h-2.8zm5-.2h2.8v2.8h-2.8zm3.7-1.5h2.8v2.8h-2.8zm6-2.3h2.8v2.8h-2.8zm3.7 4.1h2.8v2.8h-2.8zm5.6-3.6h2.8v2.8h-2.8zm10.7-.3h2.8v2.8h-2.8zm15.6 1.3h2.8v2.8h-2.8zm19.4 3.3h2.8v2.8h-2.8zm-256.2 3.1h2.8v2.8h-2.8zm16.1 2.1h2.8v2.8h-2.8zm14.2-2.1h2.8v2.8h-2.8zm7.4 1.2h2.8v2.8h-2.8zm2.2-3.3h2.8v2.8h-2.8zm8.9 3.4h2.8v2.8h-2.8zm3.9-.1h2.8v2.8h-2.8zm7 1.6h2.8v2.8h-2.8zm6.9-.5h2.8v2.8h-2.8zm3.4-2.2h2.8v2.8h-2.8zm10.2 .1h2.8v2.8h-2.8zm6.4-2.9h2.8v2.8h-2.8zm16.4 1h2.8v2.8h-2.8zm14.2 4.8h2.8v2.8h-2.8zm15.5-2.9h2.8v2.8h-2.8zm6.1 .9h2.8v2.8h-2.8zm5.5-.2h2.8v2.8h-2.8zm9.7 1.5h2.8v2.8h-2.8zm5-3.2h2.8v2.8h-2.8zm3.3 .4h2.8v2.8h-2.8zm11.5-.3h2.8v2.8h-2.8zm7.6-1.4h2.8v2.8h-2.8zm13.3 3h2.8v2.8h-2.8zm3.2 1h2.8v2.8h-2.8zm11-3.5h2.8v2.8h-2.8zm10.1 1.1h2.8v2.8h-2.8zm5.1 .3h2.8v2.8h-2.8zm3.2-1.1h2.8v2.8h-2.8zm15.7 1.5h2.8v2.8h-2.8zm-289.3 6.3h2.8v2.8h-2.8zm.6-3.4h2.8v2.8h-2.8zm34.9 3.2h2.8v2.8h-2.8zm32.5 2.3h2.8v2.8h-2.8zm4.6-3.7h2.8v2.8h-2.8zm4.9 3.7h2.8v2.8h-2.8zm9.3-3h2.8v2.8h-2.8zm9.9 2.5h2.8v2.8h-2.8zm7.9-1h2.8v2.8h-2.8zm6.3-.7h2.8v2.8h-2.8zm5.3-2.6h2.8v2.8h-2.8zm1.2 4h2.8v2.8h-2.8zm5.3-3.3h2.8v2.8h-2.8zm7.6-.2h2.8v2.8h-2.8zm3.5-.4h2.8v2.8h-2.8zm.6 3.7h2.8v2.8h-2.8zm4.3-4h2.8v2.8h-2.8zm3.4 4.4h2.8v2.8h-2.8zm5.5-1.9h2.8v2.8h-2.8zm5.8 .2h2.8v2.8h-2.8zm27.1-1.7h2.8v2.8h-2.8zm.2 3.8h2.8v2.8h-2.8zm15.6-2.7h2.8v2.8h-2.8zm7.1 2.3h2.8v2.8h-2.8zm8.5 .7h2.8v2.8h-2.8zm9.5-2.7h2.8v2.8h-2.8zm6.1 2.1h2.8v2.8h-2.8zm7.8-4.9h2.8v2.8h-2.8zm5.4 2.3h2.8v2.8h-2.8zm3.7 2.8h2.8v2.8h-2.8zm6.1-3.3h2.8v2.8h-2.8zm9.3 .2h2.8v2.8h-2.8zm3.7-.6h2.8v2.8h-2.8zm4.6 0h2.8v2.8h-2.8zm7.9 4.4h2.8v2.8h-2.8zm44.6-5.6h2.8v2.8h-2.8zm-287.2 6.8h2.8v2.8h-2.8zm12.5 0h2.8v2.8h-2.8zm27.6 4.1h2.8v2.8h-2.8zm4.1-1h2.8v2.8h-2.8zm15.4-2.4h2.8v2.8h-2.8zm6.1 2.6h2.8v2.8h-2.8zm3.4-1.1h2.8v2.8h-2.8zm4 .5h2.8v2.8h-2.8zm19.5-3.2h2.8v2.8h-2.8zm5.2 1.3h2.8v2.8h-2.8zm7 .8h2.8v2.8h-2.8zm8.6 0h2.8v2.8h-2.8zm6.1-2.3h2.8v2.8h-2.8zm6.9 .8h2.8v2.8h-2.8zm11.6 1.3h2.8v2.8h-2.8zm5.3-1.6h2.8v2.8h-2.8zm8.8 3.9h2.8v2.8h-2.8zm8.5-1.8h2.8v2.8h-2.8zm9.1 2h2.8v2.8h-2.8zm12.5 .5h2.8v2.8h-2.8zm1.5-4.5h2.8v2.8h-2.8zm4.7 .2h2.8v2.8h-2.8zm1.6 4.2h2.8v2.8h-2.8zm6.5 .1h2.8v2.8h-2.8zm4.1-3.7h2.8v2.8h-2.8zm9.8 2.8h2.8v2.8h-2.8zm5.3-3h2.8v2.8h-2.8zm12.1 3h2.8v2.8h-2.8zm25.9 .6h2.8v2.8h-2.8zm-227.9 6.8h2.8v2.8h-2.8zm9.7-4.1h2.8v2.8h-2.8zm17.2 1.6h2.8v2.8h-2.8zm.7-3.4h2.8v2.8h-2.8zm4.3 3.3h2.8v2.8h-2.8zm11.5-.2h2.8v2.8h-2.8zm10.3-1.5h2.8v2.8h-2.8zm4.8 3.4h2.8v2.8h-2.8zm1-4.5h2.8v2.8h-2.8zm4.9 1.6h2.8v2.8h-2.8zm6.4 .2h2.8v2.8h-2.8zm15.2 3.4h2.8v2.8h-2.8zm5.6-.4h2.8v2.8h-2.8zm8.6-1.7h2.8v2.8h-2.8zm5.9-.8h2.8v2.8h-2.8zm8.5-.9h2.8v2.8h-2.8zm5.3 2.7h2.8v2.8h-2.8zm10.9-2.5h2.8v2.8h-2.8zm4.8-1.2h2.8v2.8h-2.8zm1 3.3h2.8v2.8h-2.8zm3.9 0h2.8v2.8h-2.8zm3.2-2h2.8v2.8h-2.8zm6.8-.5h2.8v2.8h-2.8zm10.2 3.4h2.8v2.8h-2.8zm5.4-.3h2.8v2.8h-2.8zm8.5-3.9h2.8v2.8h-2.8zm4.4-.1h2.8v2.8h-2.8zm19.3 1.9h2.8v2.8h-2.8zm6.8 1.2h2.8v2.8h-2.8zm8.2 .3h2.8v2.8h-2.8zm19.7-2.8h2.8v2.8h-2.8zm14.1 1.1h2.8v2.8h-2.8zm-281.4 6.7h2.8v2.8h-2.8zm27.1-2.5h2.8v2.8h-2.8zm6.6 4.8h2.8v2.8h-2.8zm14.4-.4h2.8v2.8h-2.8zm5.3-.2h2.8v2.8h-2.8zm8.5-3.3h2.8v2.8h-2.8zm5.2 2.8h2.8v2.8h-2.8zm6.7-3h2.8v2.8h-2.8zm2.2 3.3h2.8v2.8h-2.8zm23.5-1.2h2.8v2.8h-2.8zm8-3.1h2.8v2.8h-2.8zm17.9 3h2.8v2.8h-2.8zm14.6-.9h2.8v2.8h-2.8zm4-.4h2.8v2.8h-2.8zm14.1-1h2.8v2.8h-2.8zm5.7 1.3h2.8v2.8h-2.8zm2.8 3.4h2.8v2.8h-2.8zm9.6-3.7h2.8v2.8h-2.8zm7.1-.8h2.8v2.8h-2.8zm17.5 1.7h2.8v2.8h-2.8zm11.2-2.9h2.8v2.8h-2.8zm3.8 .1h2.8v2.8h-2.8zm5 .8h2.8v2.8h-2.8zm9.5 3.8h2.8v2.8h-2.8zm23.8-1.2h2.8v2.8h-2.8zm-278.5 3h2.8v2.8h-2.8zm54.4 1h2.8v2.8h-2.8zm.3 3.5h2.8v2.8h-2.8zm3.7-.3h2.8v2.8h-2.8zm6.2-2.2h2.8v2.8h-2.8zm3.9-.1h2.8v2.8h-2.8zm29.4 2.4h2.8v2.8h-2.8zm11.2-3.1h2.8v2.8h-2.8zm12.4 2.1h2.8v2.8h-2.8zm5.2-1.3h2.8v2.8h-2.8zm7.7 3h2.8v2.8h-2.8zm2.9-5.1h2.8v2.8h-2.8zm5.7 2.4h2.8v2.8h-2.8zm6.7 3h2.8v2.8h-2.8zm3.1-3.9h2.8v2.8h-2.8zm6.5 1.9h2.8v2.8h-2.8zm9.6-3.3h2.8v2.8h-2.8zm8.5 0h2.8v2.8h-2.8zm9-.4h2.8v2.8h-2.8zm2.1 4.5h2.8v2.8h-2.8zm14.3 .9h2.8v2.8h-2.8zm10.1-5.3h2.8v2.8h-2.8zm7.4 4h2.8v2.8h-2.8zm7-3h2.8v2.8h-2.8zm5.2-1.2h2.8v2.8h-2.8zm6.2 2.9h2.8v2.8h-2.8zm5.7-2.4h2.8v2.8h-2.8zm2.4 4.7h2.8v2.8h-2.8zm10-1.1h2.8v2.8h-2.8zm20.4-3.2h2.8v2.8h-2.8zm-262.7 8.1h2.8v2.8h-2.8zm26.3-2.5h2.8v2.8h-2.8zm21.2 3.8h2.8v2.8h-2.8zm9.9-1.3h2.8v2.8h-2.8zm11 2.1h2.8v2.8h-2.8zm1.6-4.3h2.8v2.8h-2.8zm11 1.2h2.8v2.8h-2.8zm7.5-1.9h2.8v2.8h-2.8zm9.3 0h2.8v2.8h-2.8zm15.7 1.1h2.8v2.8h-2.8zm6.1 1.6h2.8v2.8h-2.8zm4.6-2.4h2.8v2.8h-2.8zm4 2.1h2.8v2.8h-2.8zm22.6 .2h2.8v2.8h-2.8zm9.5 1.3h2.8v2.8h-2.8zm3.7-3.2h2.8v2.8h-2.8zm3.3 1.6h2.8v2.8h-2.8zm3.8 .9h2.8v2.8h-2.8zm8 .6h2.8v2.8h-2.8zm5.1-2.5h2.8v2.8h-2.8zm13.4 .7h2.8v2.8h-2.8zm14.2-1.1h2.8v2.8h-2.8zm4.3-.1h2.8v2.8h-2.8zm6.2 1.1h2.8v2.8h-2.8zm26.8 .7h2.8v2.8h-2.8zm21.9 2.1h2.8v2.8h-2.8zm15.5 .6h2.8v2.8h-2.8zm-274.1 6h2.8v2.8h-2.8zm23.5-.6h2.8v2.8h-2.8zm24.8-4.7h2.8v2.8h-2.8zm3.8 .2h2.8v2.8h-2.8zm7.8 .6h2.8v2.8h-2.8zm1.6 3.8h2.8v2.8h-2.8zm13.8-1h2.8v2.8h-2.8zm5.7-3.3h2.8v2.8h-2.8zm5.5 4.1h2.8v2.8h-2.8zm9.2-.9h2.8v2.8h-2.8zm6.4-2.1h2.8v2.8h-2.8zm12.6-1.4h2.8v2.8h-2.8zm4.3 1.8h2.8v2.8h-2.8zm9.9-1.6h2.8v2.8h-2.8zm7.5 1.2h2.8v2.8h-2.8zm9.7 .4h2.8v2.8h-2.8zm5.1-1.1h2.8v2.8h-2.8zm5.7 4h2.8v2.8h-2.8zm3.5-1.2h2.8v2.8h-2.8zm4.1 1.1h2.8v2.8h-2.8zm11.8 .2h2.8v2.8h-2.8zm23.8-1.1h2.8v2.8h-2.8zm25.3-2.2h2.8v2.8h-2.8zm12-1.4h2.8v2.8h-2.8zm.5 4.2h2.8v2.8h-2.8zm3.3-.4h2.8v2.8h-2.8zm-211.5 6.4h2.8v2.8h-2.8zm0-3.3h2.8v2.8h-2.8zm7.3 3.3h2.8v2.8h-2.8zm6.5-4h2.8v2.8h-2.8zm19.6 5.4h2.8v2.8h-2.8zm5.4-4.1h2.8v2.8h-2.8zm7.2-.7h2.8v2.8h-2.8zm6.2 1.1h2.8v2.8h-2.8zm5.5 2.2h2.8v2.8h-2.8zm10-2.8h2.8v2.8h-2.8zm22.5 1.5h2.8v2.8h-2.8zm6.2-2.2h2.8v2.8h-2.8zm6.6-.1h2.8v2.8h-2.8zm5.2 3.2h2.8v2.8h-2.8zm8.8 1h2.8v2.8h-2.8zm2.4-4.8h2.8v2.8h-2.8zm4.1 4.4h2.8v2.8h-2.8zm18.3-1.5h2.8v2.8h-2.8zm17.7-1.7h2.8v2.8h-2.8zm8 1.1h2.8v2.8h-2.8zm7-2.5h2.8v2.8h-2.8zm19.6 4.4h2.8v2.8h-2.8zm-230.1 5.2h2.8v2.8h-2.8zm83-2.4h2.8v2.8h-2.8zm5.9 1.2h2.8v2.8h-2.8zm4.1 1.1h2.8v2.8h-2.8zm4.2-.3h2.8v2.8h-2.8zm3.8 .8h2.8v2.8h-2.8zm7.2-3.2h2.8v2.8h-2.8zm5.8 2.2h2.8v2.8h-2.8zm3.3-1.7h2.8v2.8h-2.8zm7.1 .1h2.8v2.8h-2.8zm3.3 2.2h2.8v2.8h-2.8zm26.5 .9h2.8v2.8h-2.8zm11.3-2.5h2.8v2.8h-2.8zm15.5 1.4h2.8v2.8h-2.8zm24-.3h2.8v2.8h-2.8zm14-.8h2.8v2.8h-2.8zm46.6 1.5h2.8v2.8h-2.8zm-266.5 3.1h2.8v2.8h-2.8zm4.1-.1h2.8v2.8h-2.8zm35.8 1.9h2.8v2.8h-2.8zm5.9-1.6h2.8v2.8h-2.8zm28 3.9h2.8v2.8h-2.8zm4-3.6h2.8v2.8h-2.8zm3.7 .3h2.8v2.8h-2.8zm5.6-.9h2.8v2.8h-2.8zm11.9 5.1h2.8v2.8h-2.8zm20.1-5.4h2.8v2.8h-2.8zm5.5 5.2h2.8v2.8h-2.8zm4.2-.5h2.8v2.8h-2.8zm2.8-4.3h2.8v2.8h-2.8zm5.3-.4h2.8v2.8h-2.8zm3.6 3.2h2.8v2.8h-2.8zm8.7-3.3h2.8v2.8h-2.8zm4.6 4.1h2.8v2.8h-2.8zm15.6-3.3h2.8v2.8h-2.8zm6.7-.3h2.8v2.8h-2.8zm12.7 1h2.8v2.8h-2.8zm33.6 2.5h2.8v2.8h-2.8zm40.5-3.3h2.8v2.8h-2.8zm2.7 3.7h2.8v2.8h-2.8zm2-3.5h2.8v2.8h-2.8zm24.8 .8h2.8v2.8h-2.8zm-270 6.8h2.8v2.8h-2.8zm44.4 1.8h2.8v2.8h-2.8zm6.1-.9h2.8v2.8h-2.8zm3.7-.8h2.8v2.8h-2.8zm7.3 0h2.8v2.8h-2.8zm11.5 1.6h2.8v2.8h-2.8zm6.2 1.3h2.8v2.8h-2.8zm4.7-5.2h2.8v2.8h-2.8zm6.2 3.8h2.8v2.8h-2.8zm10.5-.8h2.8v2.8h-2.8zm6.2 .2h2.8v2.8h-2.8zm21.7 .3h2.8v2.8h-2.8zm3.8-.7h2.8v2.8h-2.8zm11.3-2.4h2.8v2.8h-2.8zm12 1.6h2.8v2.8h-2.8zm10.8 2.3h2.8v2.8h-2.8zm22.9-3h2.8v2.8h-2.8zm17.1-.3h2.8v2.8h-2.8zm1.3 3.8h2.8v2.8h-2.8zm3.5-.3h2.8v2.8h-2.8zm-153.7 5.5h2.8v2.8h-2.8zm4.9-.3h2.8v2.8h-2.8zm3-3.5h2.8v2.8h-2.8zm3.8 2.7h2.8v2.8h-2.8zm3.3 .9h2.8v2.8h-2.8zm16.3-2.5h2.8v2.8h-2.8zm4.1 3.8h2.8v2.8h-2.8zm7.7-3.9h2.8v2.8h-2.8zm5 .5h2.8v2.8h-2.8zm7 1.1h2.8v2.8h-2.8zm3.9 1.2h2.8v2.8h-2.8zm4-4.3h2.8v2.8h-2.8zm12 .8h2.8v2.8h-2.8zm2 3.4h2.8v2.8h-2.8zm4.1-2.1h2.8v2.8h-2.8zm14.6 .1h2.8v2.8h-2.8zm5.4 1.1h2.8v2.8h-2.8zm19.1-1.3h2.8v2.8h-2.8zm-189.6 9.4h2.8v2.8h-2.8zm55.5-1h2.8v2.8h-2.8zm16.8 .2h2.8v2.8h-2.8zm24.9-4.4h2.8v2.8h-2.8zm7.6 2.8h2.8v2.8h-2.8zm7.7-1.6h2.8v2.8h-2.8zm3.4 1.8h2.8v2.8h-2.8zm8.9-1.1h2.8v2.8h-2.8zm4.3 .4h2.8v2.8h-2.8zm6.2 .7h2.8v2.8h-2.8zm3.6 1.4h2.8v2.8h-2.8zm1.6-3.9h2.8v2.8h-2.8zm30.4 3.6h2.8v2.8h-2.8zm10.4-1.1h2.8v2.8h-2.8zm14-2.5h2.8v2.8h-2.8zm-175.1 6.4h2.8v2.8h-2.8zm55.8 2.4h2.8v2.8h-2.8zm4.2-.4h2.8v2.8h-2.8zm4.9-1.2h2.8v2.8h-2.8zm7 .3h2.8v2.8h-2.8zm22.2-.6h2.8v2.8h-2.8zm5.8-1.6h2.8v2.8h-2.8zm6 2.2h2.8v2.8h-2.8zm10.3 1.6h2.8v2.8h-2.8zm6.6-2.4h2.8v2.8h-2.8zm5.8-.2h2.8v2.8h-2.8zm6.6 3.7h2.8v2.8h-2.8zm23-3.3h2.8v2.8h-2.8zm-121.3 9h2.8v2.8h-2.8zm12.7-2.4h2.8v2.8h-2.8zm6.5-.8h2.8v2.8h-2.8zm3.2 1.1h2.8v2.8h-2.8zm18.7-2.5h2.8v2.8h-2.8zm7.1 1.1h2.8v2.8h-2.8zm13.2 2.6h2.8v2.8h-2.8zm11.1 1.6h2.8v2.8h-2.8zm6.7-4h2.8v2.8h-2.8zm.3 3.7h2.8v2.8h-2.8zm14.9-3.8h2.8v2.8h-2.8zm18.7-.3h2.8v2.8h-2.8zm5.9 3.4h2.8v2.8h-2.8zm3.3-.3h2.8v2.8h-2.8zm15.8 1.5h2.8v2.8h-2.8zm22.3-.1h2.8v2.8h-2.8zm15.3-4.9h2.8v2.8h-2.8zm-198.1 7.4h2.8v2.8h-2.8zm26.7-1.5h2.8v2.8h-2.8zm16.2 .4h2.8v2.8h-2.8zm22.9 .5h2.8v2.8h-2.8zm5 1h2.8v2.8h-2.8zm6.1 .1h2.8v2.8h-2.8zm7.7-1.4h2.8v2.8h-2.8zm9.2 3.6h2.8v2.8h-2.8zm10.2-2.2h2.8v2.8h-2.8zm3.8-1h2.8v2.8h-2.8zm7.9-1.7h2.8v2.8h-2.8zm36.5 1.8h2.8v2.8h-2.8zm23.4 2.6h2.8v2.8h-2.8zm-155.7 7.4h2.8v2.8h-2.8zm4.4-2.9h2.8v2.8h-2.8zm15.7 1.2h2.8v2.8h-2.8zm29.5-3.5h2.8v2.8h-2.8zm1 4.1h2.8v2.8h-2.8zm5.7-1.1h2.8v2.8h-2.8zm5.7 .5h2.8v2.8h-2.8zm9.6-.5h2.8v2.8h-2.8zm5.6-2.9h2.8v2.8h-2.8zm5 1.7h2.8v2.8h-2.8zm12.3 .2h2.8v2.8h-2.8zm5-1.2h2.8v2.8h-2.8zm12.7 1.9h2.8v2.8h-2.8zm41 .3h2.8v2.8h-2.8zm4.3-.2h2.8v2.8h-2.8zm29.2-3.1h2.8v2.8h-2.8zm2.1 5.2h2.8v2.8h-2.8zm-205.7 4.1h2.8v2.8h-2.8zm20.3-3h2.8v2.8h-2.8zm31.1 1.1h2.8v2.8h-2.8zm16.1 1.8h2.8v2.8h-2.8zm7 0h2.8v2.8h-2.8zm5.8-1.1h2.8v2.8h-2.8zm8.5 1.7h2.8v2.8h-2.8zm18-1.1h2.8v2.8h-2.8zm36.4-1.7h2.8v2.8h-2.8zm4.2 .3h2.8v2.8h-2.8zm-71.9 5.2h2.8v2.8h-2.8zm8.3 1.3h2.8v2.8h-2.8zm13.6-2.1h2.8v2.8h-2.8zm15.5 3.9h2.8v2.8h-2.8zm3.2-1.1h2.8v2.8h-2.8zm17-2.5h2.8v2.8h-2.8zm37.3 5.3h2.8v2.8h-2.8zm-159 1.8h2.8v2.8h-2.8zm23.7 2.4h2.8v2.8h-2.8zm23.1-2.1h2.8v2.8h-2.8zm41.1 1.9h2.8v2.8h-2.8zm14.2-2.1h2.8v2.8h-2.8zm11.3 4.3h2.8v2.8h-2.8zm3.5-4.7h2.8v2.8h-2.8zm-17 10.7h2.8v2.8h-2.8zm26.5-.5h2.8v2.8h-2.8zm11.7-4.2h2.8v2.8h-2.8zm-128.1 7.6h2.8v2.8h-2.8zm26.3 1.7h2.8v2.8h-2.8zm15.5-3.8h2.8v2.8h-2.8zm4.4 4.8h2.8v2.8h-2.8zm-15.8 1.5h2.8v2.8h-2.8zm3.6 3.3h2.8v2.8h-2.8zm7.7 .1h2.8v2.8h-2.8zm5.8 1.2h2.8v2.8h-2.8zm5.6-.5h2.8v2.8h-2.8zm-31.4 2.6h2.8v2.8h-2.8zm6.1-.8h2.8v2.8h-2.8zm2.7 3.6h2.8v2.8h-2.8zm10.2-1.1h2.8v2.8h-2.8zm4.6 0h2.8v2.8h-2.8zm-2.2 3.5h2.8v2.8h-2.8zm10.1-.4h2.8v2.8h-2.8zm2 3.3h2.8v2.8h-2.8zm16.4 13.5h2.8v2.8h-2.8zm3.7-.2h2.8v2.8h-2.8z"/>
<path fill="#55a868" d="M241.4 23.7h2.8v2.8h-2.8zm-42.8 4.7h2.8v2.8h-2.8zm44.8-1.1h2.8v2.8h-2.8zm-45.3 6.1h2.8v2.8h-2.8zm3.3 .5h2.8v2.8h-2.8zm16.6 9.4h2.8v2.8h-2.8zm58.7 6.2h2.8v2.8h-2.8zm-106.6 3.2h2.8v2.8h-2.8zm41.9 6.1h2.8v2.8h-2.8zm43.3-.6h2.8v2.8h-2.8zm-85 7.2h2.8v2.8h-2.8zm17.6 1.3h2.8v2.8h-2.8zm14.8-1.6h2.8v2.8h-2.8zm3.6 1.8h2.8v2.8h-2.8zm15.9-2.3h2.8v2.8h-2.8zm47.7 .9h2.8v2.8h-2.8zm45.9-3.3h2.8v2.8h-2.8zm-168.1 6.9h2.8v2.8h-2.8zm76.1 .8h2.8v2.8h-2.8zm5-1.4h2.8v2.8h-2.8zm20.8 4.4h2.8v2.8h-2.8zm-80.6 4.4h2.8v2.8h-2.8zm25.5 0h2.8v2.8h-2.8zm30.1 1.5h2.8v2.8h-2.8zm21.4-1h2.8v2.8h-2.8zm-104.7 2.3h2.8v2.8h-2.8zm3.3 2.6h2.8v2.8h-2.8zm3.8 0h2.8v2.8h-2.8zm3.4-.1h2.8v2.8h-2.8zm25.7-1.6h2.8v2.8h-2.8zm34.3 .5h2.8v2.8h-2.8zm25.3-.5h2.8v2.8h-2.8zm4 3.6h2.8v2.8h-2.8zm7.6-2.4h2.8v2.8h-2.8zm4-2.4h2.8v2.8h-2.8zm31.2 .8h2.8v2.8h-2.8zm8.3 2.3h2.8v2.8h-2.8zm13.5 2.5h2.8v2.8h-2.8zm5.3-1.9h2.8v2.8h-2.8zm-200 3h2.8v2.8h-2.8zm39.2 2.5h2.8v2.8h-2.8zm16.4-.1h2.8v2.8h-2.8zm11.5 2.5h2.8v2.8h-2.8zm12.8-5.7h2.8v2.8h-2.8zm37.5 4h2.8v2.8h-2.8zm63.2-2.1h2.8v2.8h-2.8zm5 .9h2.8v2.8h-2.8zm-156.4 8.7h2.8v2.8h-2.8zm28.2-2.8h2.8v2.8h-2.8zm34 .9h2.8v2.8h-2.8zm30.3-1.8h2.8v2.8h-2.8zm41.8 1.1h2.8v2.8h-2.8zm17.2 2.1h2.8v2.8h-2.8zm30.3-5h2.8v2.8h-2.8zm5.2 .5h2.8v2.8h-2.8zm-214.4 10.9h2.8v2.8h-2.8zm30.1-1.8h2.8v2.8h-2.8zm33.1 0h2.8v2.8h-2.8zm10.1-2.9h2.8v2.8h-2.8zm25.6 3.5h2.8v2.8h-2.8zm23.6-3.4h2.8v2.8h-2.8zm5.8-.4h2.8v2.8h-2.8zm10.5 4.6h2.8v2.8h-2.8zm20.1-1.5h2.8v2.8h-2.8zm6.1 1.8h2.8v2.8h-2.8zm24.1-2.8h2.8v2.8h-2.8zm3.3 2.1h2.8v2.8h-2.8zm12.9 .5h2.8v2.8h-2.8zm8.5-4.3h2.8v2.8h-2.8zm-153.9 6.3h2.8v2.8h-2.8zm11.7 1.4h2.8v2.8h-2.8zm16.7-.2h2.8v2.8h-2.8zm3.9 3h2.8v2.8h-2.8zm5.2-.2h2.8v2.8h-2.8zm11.8-2.6h2.8v2.8h-2.8zm74 3.4h2.8v2.8h-2.8zm3.9-2.4h2.8v2.8h-2.8zm11.2-.4h2.8v2.8h-2.8zm24.7-1.2h2.8v2.8h-2.8zm-135.4 9h2.8v2.8h-2.8zm29.4-3.7h2.8v2.8h-2.8zm20.8 1.9h2.8v2.8h-2.8zm7.5-.3h2.8v2.8h-2.8zm4.8-1.5h2.8v2.8h-2.8zm23.5-.5h2.8v2.8h-2.8zm3.3 2h2.8v2.8h-2.8zm3.8 3h2.8v2.8h-2.8zm8-1.8h2.8v2.8h-2.8zm15.1-3.1h2.8v2.8h-2.8zm6 2.4h2.8v2.8h-2.8zm3.6-1.5h2.8v2.8h-2.8zm26.6 0h2.8v2.8h-2.8zm-228.6 8.1h2.8v2.8h-2.8zm17.8 .1h2.8v2.8h-2.8zm17 1.7h2.8v2.8h-2.8zm54.9-2.7h2.8v2.8h-2.8zm6.1-1.4h2.8v2.8h-2.8zm11.1 2.2h2.8v2.8h-2.8zm8 .4h2.8v2.8h-2.8zm7.8-2.9h2.8v2.8h-2.8zm24.6 1.7h2.8v2.8h-2.8zm7.6 1.9h2.8v2.8h-2.8zm10-3.8h2.8v2.8h-2.8zm8.8 1.4h2.8v2.8h-2.8zm34.1 .9h2.8v2.8h-2.8zm17.8-.8h2.8v2.8h-2.8zm-208.1 6.4h2.8v2.8h-2.8zm13.3 1.1h2.8v2.8h-2.8zm35.3-1.7h2.8v2.8h-2.8zm3.5 2.8h2.8v2.8h-2.8zm9.7-.1h2.8v2.8h-2.8zm20.2-1.9h2.8v2.8h-2.8zm9.3-.1h2.8v2.8h-2.8zm4.4-1.5h2.8v2.8h-2.8zm5.9-1.5h2.8v2.8h-2.8zm4.2 .9h2.8v2.8h-2.8zm14.4 2.5h2.8v2.8h-2.8zm.9-3.5h2.8v2.8h-2.8zm7.2 5.1h2.8v2.8h-2.8zm.8-3.4h2.8v2.8h-2.8zm3.8 1.6h2.8v2.8h-2.8zm9.5-1.1h2.8v2.8h-2.8zm13.1 2.6h2.8v2.8h-2.8zm8.9 .6h2.8v2.8h-2.8zm14.3-2.4h2.8v2.8h-2.8zm13.3-2.4h2.8v2.8h-2.8zm6.8 4.2h2.8v2.8h-2.8zm-242.3 1.5h2.8v2.8h-2.8zm78.7 3.3h2.8v2.8h-2.8zm18-.6h2.8v2.8h-2.8zm16.2-2.8h2.8v2.8h-2.8zm5.5 5.2h2.8v2.8h-2.8zm7.6-4.2h2.8v2.8h-2.8zm14.8 2.3h2.8v2.8h-2.8zm16.8 1.1h2.8v2.8h-2.8zm16.6-.2h2.8v2.8h-2.8zm3.8-2h2.8v2.8h-2.8zm6.3 0h2.8v2.8h-2.8zm37.8-1.9h2.8v2.8h-2.8zm7 4.1h2.8v2.8h-2.8zm-202.8 7h2.8v2.8h-2.8zm13.3-5.3h2.8v2.8h-2.8zm24.6 .1h2.8v2.8h-2.8zm23.1 1.4h2.8v2.8h-2.8zm11 .6h2.8v2.8h-2.8zm11.7 1.9h2.8v2.8h-2.8zm8-.8h2.8v2.8h-2.8zm6.7-2.9h2.8v2.8h-2.8zm14.3 2.6h2.8v2.8h-2.8zm5 .8h2.8v2.8h-2.8zm4-4h2.8v2.8h-2.8zm13.5 2.2h2.8v2.8h-2.8zm17.4 2.7h2.8v2.8h-2.8zm16.5-1.1h2.8v2.8h-2.8zm8.1-2.4h2.8v2.8h-2.8zm7.3 2.8h2.8v2.8h-2.8zm66.9-.9h2.8v2.8h-2.8zm-227.9 6.5h2.8v2.8h-2.8zm4.1-.4h2.8v2.8h-2.8zm42-1.1h2.8v2.8h-2.8zm3.9-1.7h2.8v2.8h-2.8zm15.5 5.2h2.8v2.8h-2.8zm.6-4.9h2.8v2.8h-2.8zm8.7 3.9h2.8v2.8h-2.8zm6.5-1.1h2.8v2.8h-2.8zm2.3-3.7h2.8v2.8h-2.8zm10.1 5.8h2.8v2.8h-2.8zm6.4-4.6h2.8v2.8h-2.8zm2.6 4.4h2.8v2.8h-2.8zm6.9-3.7h2.8v2.8h-2.8zm30.5 .8h2.8v2.8h-2.8zm4.3-1.3h2.8v2.8h-2.8zm10.8 4.1h2.8v2.8h-2.8zm22.4-4.7h2.8v2.8h-2.8zm10.5 .1h2.8v2.8h-2.8zm18.6 1.8h2.8v2.8h-2.8zm-283.2 3.9h2.8v2.8h-2.8zm24.1 4.6h2.8v2.8h-2.8zm49.7-.2h2.8v2.8h-2.8zm40-.5h2.8v2.8h-2.8zm16.7 .5h2.8v2.8h-2.8zm2.6-3.9h2.8v2.8h-2.8zm7.7 4.3h2.8v2.8h-2.8zm3.6-.4h2.8v2.8h-2.8zm5.1-1.6h2.8v2.8h-2.8zm19.9 2.6h2.8v2.8h-2.8zm9.4-2.3h2.8v2.8h-2.8zm13.3 .6h2.8v2.8h-2.8zm4.1-2h2.8v2.8h-2.8zm13.4-1.2h2.8v2.8h-2.8zm6.2 4.9h2.8v2.8h-2.8zm5.1-1.7h2.8v2.8h-2.8zm13.9 .6h2.8v2.8h-2.8zm65.8 .9h2.8v2.8h-2.8zm-310 2.8h2.8v2.8h-2.8zm62.8-.3h2.8v2.8h-2.8zm13 3.2h2.8v2.8h-2.8zm24.8-4.8h2.8v2.8h-2.8zm21.6 4.9h2.8v2.8h-2.8zm17.9-3.1h2.8v2.8h-2.8zm6.9 2.9h2.8v2.8h-2.8zm11.8-2.5h2.8v2.8h-2.8zm3.5 .9h2.8v2.8h-2.8zm4-3.3h2.8v2.8h-2.8zm5.3 3.5h2.8v2.8h-2.8zm20.3-2.1h2.8v2.8h-2.8zm6 .3h2.8v2.8h-2.8zm6.5 1.3h2.8v2.8h-2.8zm40.2 1.2h2.8v2.8h-2.8zm26.8 0h2.8v2.8h-2.8zm7.2 .3h2.8v2.8h-2.8zm-255.5 2.8h2.8v2.8h-2.8zm11.1 .7h2.8v2.8h-2.8zm10.9 3.3h2.8v2.8h-2.8zm21.8-1.8h2.8v2.8h-2.8zm16.5-1.6h2.8v2.8h-2.8zm14.4-1.4h2.8v2.8h-2.8zm6.8 1h2.8v2.8h-2.8zm17.9 2.1h2.8v2.8h-2.8zm4.8-3.1h2.8v2.8h-2.8zm6.5 3.1h2.8v2.8h-2.8zm10.4-.9h2.8v2.8h-2.8zm10.1 0h2.8v2.8h-2.8zm9 1.8h2.8v2.8h-2.8zm13.6-3.6h2.8v2.8h-2.8zm4.5 3.4h2.8v2.8h-2.8zm18.7-1.7h2.8v2.8h-2.8zm4.6 2.7h2.8v2.8h-2.8zm3.9 .1h2.8v2.8h-2.8zm8.5-2.4h2.8v2.8h-2.8zm9.1 0h2.8v2.8h-2.8zm50.2 .1h2.8v2.8h-2.8zm3.6 .4h2.8v2.8h-2.8zm49.9 1h2.8v2.8h-2.8zm-210.3 4.5h2.8v2.8h-2.8zm32.2 1h2.8v2.8h-2.8zm.3-3.6h2.8v2.8h-2.8zm18.1 3.2h2.8v2.8h-2.8zm5-2.4h2.8v2.8h-2.8zm3.6 .4h2.8v2.8h-2.8zm6.9-.6h2.8v2.8h-2.8zm5.4 .4h2.8v2.8h-2.8zm7.4-.9h2.8v2.8h-2.8zm1.8 3.4h2.8v2.8h-2.8zm7.6 1.6h2.8v2.8h-2.8zm8.3-3.4h2.8v2.8h-2.8zm9.1 3.1h2.8v2.8h-2.8zm3.6-1h2.8v2.8h-2.8zm11.7-2.8h2.8v2.8h-2.8zm3.8-1.8h2.8v2.8h-2.8zm5.1 1.6h2.8v2.8h-2.8zm18.7 .4h2.8v2.8h-2.8zm10.8 3.6h2.8v2.8h-2.8zm12.5-3.5h2.8v2.8h-2.8zm-285.5 4.3h2.8v2.8h-2.8zm17.5 2.7h2.8v2.8h-2.8zm23.1 2.4h2.8v2.8h-2.8zm50-3.7h2.8v2.8h-2.8zm44.1 1.7h2.8v2.8h-2.8zm3.8 .5h2.8v2.8h-2.8zm19-3.7h2.8v2.8h-2.8zm3.7 3.7h2.8v2.8h-2.8zm5.5 1.8h2.8v2.8h-2.8zm6.1-5h2.8v2.8h-2.8zm16.6 0h2.8v2.8h-2.8zm23.8 4.8h2.8v2.8h-2.8zm38.1-1.6h2.8v2.8h-2.8zm44.4 .9h2.8v2.8h-2.8zm-304.3 3.3h2.8v2.8h-2.8zm55.5-.5h2.8v2.8h-2.8zm17 3.3h2.8v2.8h-2.8zm14.5-.3h2.8v2.8h-2.8zm6-2h2.8v2.8h-2.8zm9.5 1.6h2.8v2.8h-2.8zm18.2 0h2.8v2.8h-2.8zm8-3.2h2.8v2.8h-2.8zm12 2.4h2.8v2.8h-2.8zm15.9-3.2h2.8v2.8h-2.8zm9.9 1.7h2.8v2.8h-2.8zm14.8-1.3h2.8v2.8h-2.8zm21.6 2.2h2.8v2.8h-2.8zm13.5-2.2h2.8v2.8h-2.8zm2.9 5h2.8v2.8h-2.8zm5.9-4.1h2.8v2.8h-2.8zm9.8-.6h2.8v2.8h-2.8zm19 2.6h2.8v2.8h-2.8zm67 2h2.8v2.8h-2.8zm-320.3 1.5h2.8v2.8h-2.8zm38 1.9h2.8v2.8h-2.8zm24.9-1.1h2.8v2.8h-2.8zm21.5 3.6h2.8v2.8h-2.8zm10.6-4.6h2.8v2.8h-2.8zm4.3 3h2.8v2.8h-2.8zm23 .4h2.8v2.8h-2.8zm5.2-1.9h2.8v2.8h-2.8zm11.4 2.8h2.8v2.8h-2.8zm11-3.7h2.8v2.8h-2.8zm4.7-1h2.8v2.8h-2.8zm7.9 5.1h2.8v2.8h-2.8zm3.6-4.4h2.8v2.8h-2.8zm4 4.7h2.8v2.8h-2.8zm21.1 0h2.8v2.8h-2.8zm7.5-2.6h2.8v2.8h-2.8zm5.5-1h2.8v2.8h-2.8zm24.3 .3h2.8v2.8h-2.8zm5.9 2.2h2.8v2.8h-2.8zm3.5 .1h2.8v2.8h-2.8zm15-1.2h2.8v2.8h-2.8zm16.5 .7h2.8v2.8h-2.8zm-220.7 2.7h2.8v2.8h-2.8zm67.2 2.4h2.8v2.8h-2.8zm8.9 2.1h2.8v2.8h-2.8zm5.4-.8h2.8v2.8h-2.8zm4.6-3.1h2.8v2.8h-2.8zm8.9 2.3h2.8v2.8h-2.8zm24.8 .8h2.8v2.8h-2.8zm6.6-1.7h2.8v2.8h-2.8zm21.9 2h2.8v2.8h-2.8zm7.8-4.3h2.8v2.8h-2.8zm14.4 1.7h2.8v2.8h-2.8zm7.4 2.7h2.8v2.8h-2.8zm8.9-.2h2.8v2.8h-2.8zm4.8-.5h2.8v2.8h-2.8zm10.5-1.1h2.8v2.8h-2.8zm-185.1 7h2.8v2.8h-2.8zm5.6-2h2.8v2.8h-2.8zm20.5 3.3h2.8v2.8h-2.8zm.9-4.7h2.8v2.8h-2.8zm6.1 3.7h2.8v2.8h-2.8zm5.3-4.3h2.8v2.8h-2.8zm1 3.8h2.8v2.8h-2.8zm10.1-2.1h2.8v2.8h-2.8zm34.8 0h2.8v2.8h-2.8zm6.2 2.5h2.8v2.8h-2.8zm16.7 .5h2.8v2.8h-2.8zm11.2-.9h2.8v2.8h-2.8zm6 1.3h2.8v2.8h-2.8zm21.3-5.5h2.8v2.8h-2.8zm7.2 2.1h2.8v2.8h-2.8zm53.2 2.3h2.8v2.8h-2.8zm12.8-2.7h2.8v2.8h-2.8zm21.7 2.2h2.8v2.8h-2.8zm-284 2.9h2.8v2.8h-2.8zm52.2 2.4h2.8v2.8h-2.8zm19.9 1.9h2.8v2.8h-2.8zm23.2-3.1h2.8v2.8h-2.8zm3.8 1.9h2.8v2.8h-2.8zm13.5 1.7h2.8v2.8h-2.8zm7.4-3.8h2.8v2.8h-2.8zm5.2 3.1h2.8v2.8h-2.8zm14.2-4.6h2.8v2.8h-2.8zm.9 4.1h2.8v2.8h-2.8zm20.9-.3h2.8v2.8h-2.8zm10.1 0h2.8v2.8h-2.8zm13.3 .2h2.8v2.8h-2.8zm3.8-2.9h2.8v2.8h-2.8zm8.3 .7h2.8v2.8h-2.8zm8.1-1.4h2.8v2.8h-2.8zm16.4 2.8h2.8v2.8h-2.8zm-200.7 6.8h2.8v2.8h-2.8zm23.3 1.2h2.8v2.8h-2.8zm24.7-4.5h2.8v2.8h-2.8zm21.3 .2h2.8v2.8h-2.8zm13.8-1.2h2.8v2.8h-2.8zm3.2 .5h2.8v2.8h-2.8zm10.7 3.2h2.8v2.8h-2.8zm12.4 1h2.8v2.8h-2.8zm5.4-3.5h2.8v2.8h-2.8zm5 4.4h2.8v2.8h-2.8zm3.4-3h2.8v2.8h-2.8zm9.3-.2h2.8v2.8h-2.8zm4.3 1.7h2.8v2.8h-2.8zm4.3-2.3h2.8v2.8h-2.8zm7.5 2.3h2.8v2.8h-2.8zm19-2h2.8v2.8h-2.8zm7 3.5h2.8v2.8h-2.8zm7.3-3.4h2.8v2.8h-2.8zm4.6 2.6h2.8v2.8h-2.8zm3.8 .6h2.8v2.8h-2.8zm43-3.2h2.8v2.8h-2.8zm4.9-1.9h2.8v2.8h-2.8zm-266.6 7.4h2.8v2.8h-2.8zm38.4-1h2.8v2.8h-2.8zm12.6 3h2.8v2.8h-2.8zm7.6-3.6h2.8v2.8h-2.8zm6.5 3.6h2.8v2.8h-2.8zm24.7-.6h2.8v2.8h-2.8zm6.7 1.9h2.8v2.8h-2.8zm11.8-4.7h2.8v2.8h-2.8zm4.4 4h2.8v2.8h-2.8zm4.1-2.3h2.8v2.8h-2.8zm22.6 2.2h2.8v2.8h-2.8zm4.5-3.4h2.8v2.8h-2.8zm10.1 2.3h2.8v2.8h-2.8zm16.5-2.8h2.8v2.8h-2.8zm4.1 5.4h2.8v2.8h-2.8zm13.6-3.4h2.8v2.8h-2.8zm7.9-2.3h2.8v2.8h-2.8zm12.8 .5h2.8v2.8h-2.8zm16.4 1.9h2.8v2.8h-2.8zm62.5 1.3h2.8v2.8h-2.8zm-231.4 6h2.8v2.8h-2.8zm13.8-1.4h2.8v2.8h-2.8zm14.9 .4h2.8v2.8h-2.8zm8.9 .5h2.8v2.8h-2.8zm7-.7h2.8v2.8h-2.8zm23.9-1.1h2.8v2.8h-2.8zm4.1 .8h2.8v2.8h-2.8zm11.9 .8h2.8v2.8h-2.8zm3.2-1.2h2.8v2.8h-2.8zm12.5 1.7h2.8v2.8h-2.8zm4.9-.2h2.8v2.8h-2.8zm7.2-3h2.8v2.8h-2.8zm44.3 .6h2.8v2.8h-2.8zm22.8 2.5h2.8v2.8h-2.8zm14.8-.8h2.8v2.8h-2.8zm4.2 1.9h2.8v2.8h-2.8zm-220.4 2.5h2.8v2.8h-2.8zm37.3 .8h2.8v2.8h-2.8zm19 3h2.8v2.8h-2.8zm3.5 .5h2.8v2.8h-2.8zm7.4-3.3h2.8v2.8h-2.8zm5.4 .9h2.8v2.8h-2.8zm17.1 1.5h2.8v2.8h-2.8zm19.3-1.4h2.8v2.8h-2.8zm4.5-1.2h2.8v2.8h-2.8zm21.8 3.7h2.8v2.8h-2.8zm13.8 .4h2.8v2.8h-2.8zm8.3-3.7h2.8v2.8h-2.8zm32.8 3.1h2.8v2.8h-2.8zm23.3-5.1h2.8v2.8h-2.8zm-196.2 6.4h2.8v2.8h-2.8zm55 .4h2.8v2.8h-2.8zm3.5 4.8h2.8v2.8h-2.8zm31.3-1.7h2.8v2.8h-2.8zm4 .4h2.8v2.8h-2.8zm7.6-3.3h2.8v2.8h-2.8zm12 0h2.8v2.8h-2.8zm14.5 3.2h2.8v2.8h-2.8zm92.2 .5h2.8v2.8h-2.8zm-267.9 4.7h2.8v2.8h-2.8zm.8-3.6h2.8v2.8h-2.8zm45.3 4.1h2.8v2.8h-2.8zm39 .4h2.8v2.8h-2.8zm10.1-4.3h2.8v2.8h-2.8zm19.9-.2h2.8v2.8h-2.8zm10.4 3h2.8v2.8h-2.8zm7.8 1.2h2.8v2.8h-2.8zm11.1 1.4h2.8v2.8h-2.8zm3.8-5.6h2.8v2.8h-2.8zm10.1 4h2.8v2.8h-2.8zm17.3 0h2.8v2.8h-2.8zm5.3-1.6h2.8v2.8h-2.8zm45.8 1.1h2.8v2.8h-2.8zm42-.5h2.8v2.8h-2.8zm27.3-1.4h2.8v2.8h-2.8zm-269.6 8.9h2.8v2.8h-2.8zm44.3-3h2.8v2.8h-2.8zm9.1-.6h2.8v2.8h-2.8zm41.7 3.4h2.8v2.8h-2.8zm36.9-2.6h2.8v2.8h-2.8zm4.3 3.9h2.8v2.8h-2.8zm7.1-2.8h2.8v2.8h-2.8zm6.2 2.8h2.8v2.8h-2.8zm13.4-3.4h2.8v2.8h-2.8zm-109.8 6.6h2.8v2.8h-2.8zm4-2.8h2.8v2.8h-2.8zm11.3 .2h2.8v2.8h-2.8zm14.3 3.4h2.8v2.8h-2.8zm6.8-1.3h2.8v2.8h-2.8zm6.4 2.2h2.8v2.8h-2.8zm5.8 .2h2.8v2.8h-2.8zm6.1-3.8h2.8v2.8h-2.8zm.1 5h2.8v2.8h-2.8zm4.8-4h2.8v2.8h-2.8zm8.2 .2h2.8v2.8h-2.8zm2.4 3.3h2.8v2.8h-2.8zm15.2 .2h2.8v2.8h-2.8zm-68.6 6.2h2.8v2.8h-2.8zm36.9-2.3h2.8v2.8h-2.8zm48.8-2.7h2.8v2.8h-2.8zm-168.6 6.7h2.8v2.8h-2.8zm17.5 1.8h2.8v2.8h-2.8zm86.4-2.9h2.8v2.8h-2.8zm2.4 4.9h2.8v2.8h-2.8zm7.1-.6h2.8v2.8h-2.8zm19.2-2.1h2.8v2.8h-2.8zm48.6-2h2.8v2.8h-2.8zm-54.3 8.3h2.8v2.8h-2.8zm105.8-2.3h2.8v2.8h-2.8zm-199.5 9.7h2.8v2.8h-2.8zm21.5-3.6h2.8v2.8h-2.8zm7.5 .9h2.8v2.8h-2.8zm51.1 1.1h2.8v2.8h-2.8zm3.6 1.1h2.8v2.8h-2.8zm9.1-1.5h2.8v2.8h-2.8zm22.9 3.3h2.8v2.8h-2.8zm26.8-4.7h2.8v2.8h-2.8zm11.4 1.9h2.8v2.8h-2.8zm30.6-1.1h2.8v2.8h-2.8zm-166.9 9.4h2.8v2.8h-2.8zm5.3-4.7h2.8v2.8h-2.8zm.3 3.3h2.8v2.8h-2.8zm16.4 .9h2.8v2.8h-2.8zm33.7-2.5h2.8v2.8h-2.8zm5.6 2.4h2.8v2.8h-2.8zm10.2-1.8h2.8v2.8h-2.8zm10.8-1.4h2.8v2.8h-2.8zm4.8 4.1h2.8v2.8h-2.8zm7.4-1h2.8v2.8h-2.8zm21.5-2.6h2.8v2.8h-2.8zm37.3 2.7h2.8v2.8h-2.8zm4.9 .4h2.8v2.8h-2.8zm33.1-.7h2.8v2.8h-2.8zm-154.1 4.4h2.8v2.8h-2.8zm13.2-.4h2.8v2.8h-2.8zm4.9 0h2.8v2.8h-2.8zm7.1-.3h2.8v2.8h-2.8zm5.7 2.8h2.8v2.8h-2.8zm8.7-2.5h2.8v2.8h-2.8zm27.6 3.5h2.8v2.8h-2.8zm23.7-4.9h2.8v2.8h-2.8zm4.8-.4h2.8v2.8h-2.8zm-134.9 11.5h2.8v2.8h-2.8zm74.3-3.3h2.8v2.8h-2.8zm45.5 .8h2.8v2.8h-2.8zm1.1-3.3h2.8v2.8h-2.8zm38 4.6h2.8v2.8h-2.8zm-137.2 6.6h2.8v2.8h-2.8zm25.1-4.5h2.8v2.8h-2.8zm40.4 2.8h2.8v2.8h-2.8zm12.3-3.3h2.8v2.8h-2.8zm12.2 4.8h2.8v2.8h-2.8zm3.7-.5h2.8v2.8h-2.8zm42.5-2.6h2.8v2.8h-2.8zm-20 6.8h2.8v2.8h-2.8zm-128.2 4.1h2.8v2.8h-2.8zm40.3 1h2.8v2.8h-2.8zm50.8-1.4h2.8v2.8h-2.8zm26.5 1.1h2.8v2.8h-2.8zm-92.5 8.3h2.8v2.8h-2.8zm5.1-3.7h2.8v2.8h-2.8zm5.7 2h2.8v2.8h-2.8zm5.4 2.7h2.8v2.8h-2.8zm4.9-2.9h2.8v2.8h-2.8zm7 .8h2.8v2.8h-2.8zm-28.7 5.3h2.8v2.8h-2.8zm5.1 2.5h2.8v2.8h-2.8zm13.1 .9h2.8v2.8h-2.8zm11.2-1.4h2.8v2.8h-2.8z"/>
<path fill="#55a868" d="M196.1 29.2h2.8v2.8h-2.8zm45.9-.8h2.8v2.8h-2.8zm3.7 1.7h2.8v2.8h-2.8zm-49.2 3.3h2.8v2.8h-2.8zm22.8 10h2.8v2.8h-2.8zm-51.4 6.5h2.8v2.8h-2.8zm45.2 9.8h2.8v2.8h-2.8zm39.7-2.4h2.8v2.8h-2.8zm60.2 3.7h2.8v2.8h-2.8zm-144 6.2h2.8v2.8h-2.8zm37.4-3.3h2.8v2.8h-2.8zm13.8-.4h2.8v2.8h-2.8zm47.7 1.5h2.8v2.8h-2.8zm-117.5 2.9h2.8v2.8h-2.8zm54.3 .9h2.8v2.8h-2.8zm19 3.6h2.8v2.8h-2.8zm-57.1 5.2h2.8v2.8h-2.8zm9.3 .5h2.8v2.8h-2.8zm4.7 .1h2.8v2.8h-2.8zm15.1-2.7h2.8v2.8h-2.8zm41 2.8h2.8v2.8h-2.8zm6.9 .8h2.8v2.8h-2.8zm11.1-1.5h2.8v2.8h-2.8zm28.9 .9h2.8v2.8h-2.8zm-131.4 7h2.8v2.8h-2.8zm26.3-3.1h2.8v2.8h-2.8zm47.9-2h2.8v2.8h-2.8zm79.1 2.1h2.8v2.8h-2.8zm-129.5 6.9h2.8v2.8h-2.8zm12.1-3h2.8v2.8h-2.8zm43.2 3.1h2.8v2.8h-2.8zm57.4-1.4h2.8v2.8h-2.8zm-118.3 8.9h2.8v2.8h-2.8zm15.3-1.8h2.8v2.8h-2.8zm57.3 .7h2.8v2.8h-2.8zm77.9-3.2h2.8v2.8h-2.8zm-207.8 10.3h2.8v2.8h-2.8zm62.2-4.3h2.8v2.8h-2.8zm49.6 4.7h2.8v2.8h-2.8zm10.8-2.2h2.8v2.8h-2.8zm7.6-1.5h2.8v2.8h-2.8zm5.6 1.8h2.8v2.8h-2.8zm19.9-1.2h2.8v2.8h-2.8zm11.9 2.3h2.8v2.8h-2.8zm-110.2 2.9h2.8v2.8h-2.8zm37.8 1.2h2.8v2.8h-2.8zm19.9 1.8h2.8v2.8h-2.8zm101.1 .3h2.8v2.8h-2.8zm-123.6 3h2.8v2.8h-2.8zm25.8 2.3h2.8v2.8h-2.8zm52.1-3.6h2.8v2.8h-2.8zm20.1 5h2.8v2.8h-2.8zm21.8-1.2h2.8v2.8h-2.8zm28.2-2.8h2.8v2.8h-2.8zm-229.2 7.4h2.8v2.8h-2.8zm15.8 1.7h2.8v2.8h-2.8zm4.6-2.2h2.8v2.8h-2.8zm12 .8h2.8v2.8h-2.8zm54.3-2.5h2.8v2.8h-2.8zm.7 4.9h2.8v2.8h-2.8zm3.5-5.6h2.8v2.8h-2.8zm21.2 .9h2.8v2.8h-2.8zm5.1 1.9h2.8v2.8h-2.8zm3.2 .3h2.8v2.8h-2.8zm35.6-1.5h2.8v2.8h-2.8zm68.7-.8h2.8v2.8h-2.8zm-148.1 7.2h2.8v2.8h-2.8zm102.4 .5h2.8v2.8h-2.8zm17.6 .1h2.8v2.8h-2.8zm21.9 1.6h2.8v2.8h-2.8zm-244.8 1.7h2.8v2.8h-2.8zm99.8 .7h2.8v2.8h-2.8zm20.7 2.8h2.8v2.8h-2.8zm23.5 .2h2.8v2.8h-2.8zm10.9 .8h2.8v2.8h-2.8zm4.9-1.6h2.8v2.8h-2.8zm41.9 1.7h2.8v2.8h-2.8zm5.3-2.5h2.8v2.8h-2.8zm15.1-.5h2.8v2.8h-2.8zm-196.5 8.6h2.8v2.8h-2.8zm13.6-3.2h2.8v2.8h-2.8zm27.2-.4h2.8v2.8h-2.8zm61.3 2.8h2.8v2.8h-2.8zm5-.5h2.8v2.8h-2.8zm26.8 1.2h2.8v2.8h-2.8zm17.8-1.9h2.8v2.8h-2.8zm27.4 1.5h2.8v2.8h-2.8zm3.6 1.9h2.8v2.8h-2.8zm70.4-4.9h2.8v2.8h-2.8zm-222.7 9.8h2.8v2.8h-2.8zm37.8-4.1h2.8v2.8h-2.8zm13.4 3.8h2.8v2.8h-2.8zm121.1-2.1h2.8v2.8h-2.8zm30.1 1.7h2.8v2.8h-2.8zm-284.2 3.1h2.8v2.8h-2.8zm71.2 1.2h2.8v2.8h-2.8zm4.4 2.1h2.8v2.8h-2.8zm16.1 0h2.8v2.8h-2.8zm52.8-2.1h2.8v2.8h-2.8zm2.6 3.4h2.8v2.8h-2.8zm19.6-3.6h2.8v2.8h-2.8zm16 3.3h2.8v2.8h-2.8zm118.1 .5h2.8v2.8h-2.8zm-251.5 2.6h2.8v2.8h-2.8zm3.5 1h2.8v2.8h-2.8zm11.6 .3h2.8v2.8h-2.8zm6.1-3.7h2.8v2.8h-2.8zm56.7 5.6h2.8v2.8h-2.8zm31.3-.9h2.8v2.8h-2.8zm10 .7h2.8v2.8h-2.8zm6.8-5h2.8v2.8h-2.8zm3.4-.1h2.8v2.8h-2.8zm9.2 4.6h2.8v2.8h-2.8zm3.2-.9h2.8v2.8h-2.8zm4.9 1.5h2.8v2.8h-2.8zm36.4-3.1h2.8v2.8h-2.8zm4.8 2.6h2.8v2.8h-2.8zm23.3-2.1h2.8v2.8h-2.8zm6-1h2.8v2.8h-2.8zm-255.2 7h2.8v2.8h-2.8zm12.7-2.5h2.8v2.8h-2.8zm11.2 2.8h2.8v2.8h-2.8zm20.5-2.4h2.8v2.8h-2.8zm85.7 1.5h2.8v2.8h-2.8zm20.5-1.7h2.8v2.8h-2.8zm2.7 3.7h2.8v2.8h-2.8zm10.3 .3h2.8v2.8h-2.8zm6.5 .5h2.8v2.8h-2.8zm11.3-2.5h2.8v2.8h-2.8zm8.3 2.2h2.8v2.8h-2.8zm12-3.1h2.8v2.8h-2.8zm56.9-1.7h2.8v2.8h-2.8zm-131 8.8h2.8v2.8h-2.8zm5.8-1.4h2.8v2.8h-2.8zm5.8-.4h2.8v2.8h-2.8zm7 .9h2.8v2.8h-2.8zm28.3 1.8h2.8v2.8h-2.8zm27.1-.7h2.8v2.8h-2.8zm45.6-2h2.8v2.8h-2.8zm21.6 3.6h2.8v2.8h-2.8zm37-4.6h2.8v2.8h-2.8zm-300.8 9.5h2.8v2.8h-2.8zm92.7-3.4h2.8v2.8h-2.8zm4.2 4.8h2.8v2.8h-2.8zm29-1.1h2.8v2.8h-2.8zm12.2-1h2.8v2.8h-2.8zm29.6 .5h2.8v2.8h-2.8zm11.3-.7h2.8v2.8h-2.8zm5.3-.1h2.8v2.8h-2.8zm19.3-.8h2.8v2.8h-2.8zm50.4 1.1h2.8v2.8h-2.8zm-282.9 5h2.8v2.8h-2.8zm47.6-1.3h2.8v2.8h-2.8zm9-.3h2.8v2.8h-2.8zm80.9 2.9h2.8v2.8h-2.8zm13.8 1.7h2.8v2.8h-2.8zm6.7 .4h2.8v2.8h-2.8zm13.8-5.2h2.8v2.8h-2.8zm3.4 2.5h2.8v2.8h-2.8zm24.3-1.1h2.8v2.8h-2.8zm105.2-1.2h2.8v2.8h-2.8zm14.4 3.7h2.8v2.8h-2.8zm-280 7.2h2.8v2.8h-2.8zm53.2-2.8h2.8v2.8h-2.8zm10 .3h2.8v2.8h-2.8zm22.8 .2h2.8v2.8h-2.8zm16.6-2.5h2.8v2.8h-2.8zm46.9 3.9h2.8v2.8h-2.8zm19.1-1h2.8v2.8h-2.8zm23-2.8h2.8v2.8h-2.8zm90 1.3h2.8v2.8h-2.8zm-225.2 8.3h2.8v2.8h-2.8zm27-.2h2.8v2.8h-2.8zm13.2 .9h2.8v2.8h-2.8zm38.4-3.9h2.8v2.8h-2.8zm4.3 4.4h2.8v2.8h-2.8zm28.4-2h2.8v2.8h-2.8zm46-2.3h2.8v2.8h-2.8zm17.8-.3h2.8v2.8h-2.8zm13.7 4.9h2.8v2.8h-2.8zm-209.4 3.2h2.8v2.8h-2.8zm32.6-1.7h2.8v2.8h-2.8zm19.8 .8h2.8v2.8h-2.8zm26.5 1.1h2.8v2.8h-2.8zm3.5-1.3h2.8v2.8h-2.8zm9.7-.9h2.8v2.8h-2.8zm86.8-.6h2.8v2.8h-2.8zm19.4 2.2h2.8v2.8h-2.8zm-248.1 6.9h2.8v2.8h-2.8zm64 1.6h2.8v2.8h-2.8zm8.4-1.1h2.8v2.8h-2.8zm10.7-2.9h2.8v2.8h-2.8zm12.1-.4h2.8v2.8h-2.8zm16.7 2.3h2.8v2.8h-2.8zm6.4 2.2h2.8v2.8h-2.8zm12.3-3.7h2.8v2.8h-2.8zm4.9 1.4h2.8v2.8h-2.8zm44.9-.6h2.8v2.8h-2.8zm8.2 1.4h2.8v2.8h-2.8zm9.5 2.1h2.8v2.8h-2.8zm-179.9 1.9h2.8v2.8h-2.8zm28.4 2h2.8v2.8h-2.8zm3.9-.2h2.8v2.8h-2.8zm39.4-.6h2.8v2.8h-2.8zm17.4-1.6h2.8v2.8h-2.8zm15 .9h2.8v2.8h-2.8zm26.2-1.7h2.8v2.8h-2.8zm1 5.3h2.8v2.8h-2.8zm6.4-5.1h2.8v2.8h-2.8zm12.7 1.6h2.8v2.8h-2.8zm12-1h2.8v2.8h-2.8zm12.8 1.5h2.8v2.8h-2.8zm22.9 3.2h2.8v2.8h-2.8zm-121.1 1.4h2.8v2.8h-2.8zm25.9 4.2h2.8v2.8h-2.8zm25.5-2.5h2.8v2.8h-2.8zm43.6-.4h2.8v2.8h-2.8zm3.5 .1h2.8v2.8h-2.8zm11.2 1.7h2.8v2.8h-2.8zm8.9 .6h2.8v2.8h-2.8zm-152.6 5.8h2.8v2.8h-2.8zm10.9-1.7h2.8v2.8h-2.8zm39.4 1.1h2.8v2.8h-2.8zm4 1.4h2.8v2.8h-2.8zm27.4-5.1h2.8v2.8h-2.8zm41.4 5.3h2.8v2.8h-2.8zm50.8-2h2.8v2.8h-2.8zm-154.5 2.4h2.8v2.8h-2.8zm49.4 5h2.8v2.8h-2.8zm13.9-.7h2.8v2.8h-2.8zm27.3-1.4h2.8v2.8h-2.8zm7.8 1.2h2.8v2.8h-2.8zm55.9-2.8h2.8v2.8h-2.8zm-240.8 8.1h2.8v2.8h-2.8zm145.5 .5h2.8v2.8h-2.8zm120.4-1.1h2.8v2.8h-2.8zm-264.1 6.8h2.8v2.8h-2.8zm66 1.9h2.8v2.8h-2.8zm224.7-3.2h2.8v2.8h-2.8zm-160.7 5h2.8v2.8h-2.8zm5.4 4.3h2.8v2.8h-2.8zm3.8-.5h2.8v2.8h-2.8zm3.3-2.8h2.8v2.8h-2.8zm14.5 2.5h2.8v2.8h-2.8zm17.6-3.7h2.8v2.8h-2.8zm-32 9h2.8v2.8h-2.8zm-30.1 7.1h2.8v2.8h-2.8zm-99 2.9h2.8v2.8h-2.8zm15.1 1h2.8v2.8h-2.8zm93.2 1.1h2.8v2.8h-2.8zm-56.4 5.5h2.8v2.8h-2.8zm57-1.8h2.8v2.8h-2.8zm4.7-1.7h2.8v2.8h-2.8zm8.4 1.9h2.8v2.8h-2.8zm4.7-1.2h2.8v2.8h-2.8zm-95.2 9.1h2.8v2.8h-2.8zm25.3-2.7h2.8v2.8h-2.8zm52.1 4.2h2.8v2.8h-2.8zm35.1-1.2h2.8v2.8h-2.8zm39.6-2h2.8v2.8h-2.8zm30.7 .8h2.8v2.8h-2.8zm-144.8 6.9h2.8v2.8h-2.8zm68.8 1.8h2.8v2.8h-2.8zm27-3.9h2.8v2.8h-2.8zm76.3 1.9h2.8v2.8h-2.8zm-133.2 3h2.8v2.8h-2.8zm24.8 .3h2.8v2.8h-2.8zm20.9 6.6h2.8v2.8h-2.8zm49.6 .7h2.8v2.8h-2.8zm-156.3 4.9h2.8v2.8h-2.8zm46.7 .2h2.8v2.8h-2.8zm109.6-1.3h2.8v2.8h-2.8zm-59.6 9.3h2.8v2.8h-2.8zm5.1 .7h2.8v2.8h-2.8zm24.1 1.4h2.8v2.8h-2.8zm11.8-4.1h2.8v2.8h-2.8zm-90.6 4.6h2.8v2.8h-2.8zm-12.4 11.2h2.8v2.8h-2.8zm3.6-3.4h2.8v2.8h-2.8zm19.1-1.1h2.8v2.8h-2.8zm2.8 4.7h2.8v2.8h-2.8zm-30.1 1.4h2.8v2.8h-2.8zm3.9 3.4h2.8v2.8h-2.8zm17.3 .6h2.8v2.8h-2.8zm.9-4.2h2.8v2.8h-2.8zm11.9 4h2.8v2.8h-2.8zm.1-3.8h2.8v2.8h-2.8z"/>
<path fill="#55a868" d="M243.3 30.5h2.8v2.8h-2.8zm1.8-4.4h2.8v2.8h-2.8zm3.8 1.8h2.8v2.8h-2.8zm-53.4 5h2.8v2.8h-2.8zm24.2 10.3h2.8v2.8h-2.8zm-52.6 21.7h2.8v2.8h-2.8zm-18.4 3.1h2.8v2.8h-2.8zm77 2.2h2.8v2.8h-2.8zm-50 7.6h2.8v2.8h-2.8zm21.2-1.3h2.8v2.8h-2.8zm30.9 2.1h2.8v2.8h-2.8zm-49 3.6h2.8v2.8h-2.8zm4.1-2h2.8v2.8h-2.8zm41.2 .9h2.8v2.8h-2.8zm21.8-.1h2.8v2.8h-2.8zm39.8-.7h2.8v2.8h-2.8zm-107.9 16.6h2.8v2.8h-2.8zm68.4-3.6h2.8v2.8h-2.8zm-73.6 9.2h2.8v2.8h-2.8zm53 5h2.8v2.8h-2.8zm11.5-3.3h2.8v2.8h-2.8zm45.9 1.3h2.8v2.8h-2.8zm-78.1 8.8h2.8v2.8h-2.8zm29.2 .1h2.8v2.8h-2.8zm46.5-3.2h2.8v2.8h-2.8zm-140.1 9.8h2.8v2.8h-2.8zm3.7-3.6h2.8v2.8h-2.8zm14.8 2.5h2.8v2.8h-2.8zm158.9 5.1h2.8v2.8h-2.8zm-220.3 2.8h2.8v2.8h-2.8zm100.1 3.9h2.8v2.8h-2.8zm78.8 1.3h2.8v2.8h-2.8zm-154.5 3.9h2.8v2.8h-2.8zm39.6-2.3h2.8v2.8h-2.8zm62.1 4.4h2.8v2.8h-2.8zm1.9-4.6h2.8v2.8h-2.8zm15.3-.4h2.8v2.8h-2.8zm14.4 5.4h2.8v2.8h-2.8zm45.7 .1h2.8v2.8h-2.8zm-147.6 4.7h2.8v2.8h-2.8zm37.2-1.4h2.8v2.8h-2.8zm134.5-2.7h2.8v2.8h-2.8zm28.7 2.9h2.8v2.8h-2.8zm5.6 1.2h2.8v2.8h-2.8zm-234.9 6.9h2.8v2.8h-2.8zm112.6-5.3h2.8v2.8h-2.8zm17.2 2.7h2.8v2.8h-2.8zm16.9 8.7h2.8v2.8h-2.8zm65.2-5.3h2.8v2.8h-2.8zm5.1 .3h2.8v2.8h-2.8zm-234.7 6.8h2.8v2.8h-2.8zm2.4 3.4h2.8v2.8h-2.8zm106.1-4.5h2.8v2.8h-2.8zm3.7 4.9h2.8v2.8h-2.8zm9.8 .5h2.8v2.8h-2.8zm5.3-.9h2.8v2.8h-2.8zm-14.7 5.8h2.8v2.8h-2.8zm31.2-3.3h2.8v2.8h-2.8zm24.4 .5h2.8v2.8h-2.8zm57-.6h2.8v2.8h-2.8zm8 4.7h2.8v2.8h-2.8zm-106.2 3.6h2.8v2.8h-2.8zm20.5-1.9h2.8v2.8h-2.8zm0 3.6h2.8v2.8h-2.8zm4.7-1h2.8v2.8h-2.8zm9 1.7h2.8v2.8h-2.8zm76.5-1.6h2.8v2.8h-2.8zm-194.2 7.8h2.8v2.8h-2.8zm47.2-5.6h2.8v2.8h-2.8zm7.1 2.8h2.8v2.8h-2.8zm29 1.7h2.8v2.8h-2.8zm-29.6 3.5h2.8v2.8h-2.8zm16.5-2.3h2.8v2.8h-2.8zm29.8 2h2.8v2.8h-2.8zm65.1 3.7h2.8v2.8h-2.8zm63.9-2.9h2.8v2.8h-2.8zm-164.9 8.2h2.8v2.8h-2.8zm4.9-.2h2.8v2.8h-2.8zm-36.8 6.3h2.8v2.8h-2.8zm57.6-3h2.8v2.8h-2.8zm93.7 2.7h2.8v2.8h-2.8zm-251.6 5h2.8v2.8h-2.8zm3.5 1.7h2.8v2.8h-2.8zm109.4-4.9h2.8v2.8h-2.8zm4.2 .6h2.8v2.8h-2.8zm13.5 .1h2.8v2.8h-2.8zm4 2.7h2.8v2.8h-2.8zm46.3 1.7h2.8v2.8h-2.8zm-163 3.1h2.8v2.8h-2.8zm3.3 1.7h2.8v2.8h-2.8zm33.5 .9h2.8v2.8h-2.8zm39.5-.1h2.8v2.8h-2.8zm104.3-4.5h2.8v2.8h-2.8zm-49.6 5.2h2.8v2.8h-2.8zm55.8 4.1h2.8v2.8h-2.8zm9.2 1.4h2.8v2.8h-2.8zm-101.4 2h2.8v2.8h-2.8zm14.4-.4h2.8v2.8h-2.8zm57.3 4.2h2.8v2.8h-2.8zm3.6-2.8h2.8v2.8h-2.8zm48-1h2.8v2.8h-2.8zm-86.3 7.5h2.8v2.8h-2.8zm21.3-1.3h2.8v2.8h-2.8zm18.5-.3h2.8v2.8h-2.8zm48 2.6h2.8v2.8h-2.8zm-237.6 4.6h2.8v2.8h-2.8zm261.2 3.1h2.8v2.8h-2.8zm30.5 3.7h2.8v2.8h-2.8zm-157.1 5.4h2.8v2.8h-2.8zm-24.7 11.6h2.8v2.8h-2.8zm-1.1 3.8h2.8v2.8h-2.8zm10.4 1.6h2.8v2.8h-2.8zm4 9h2.8v2.8h-2.8zm-53.7 4.8h2.8v2.8h-2.8zm84 .8h2.8v2.8h-2.8zm-5.2 4.3h2.8v2.8h-2.8zm27.7-2h2.8v2.8h-2.8zm-20.3 27.8h2.8v2.8h-2.8zm32.3 .3h2.8v2.8h-2.8zm-3.3 3.3h2.8v2.8h-2.8zm-89.3 8.2h2.8v2.8h-2.8zm15.5 0h2.8v2.8h-2.8zm7.2-.2h2.8v2.8h-2.8zm-21.8 7.4h2.8v2.8h-2.8zm1.1-3.6h2.8v2.8h-2.8zm20.7 .4h2.8v2.8h-2.8z"/>
<path fill="#55a868" d="M172.6 76.4h2.8v2.8h-2.8zm12.5 1.6h2.8v2.8h-2.8zm43.7-1.8h2.8v2.8h-2.8zm-53.6 4.6h2.8v2.8h-2.8zm73 15.6h2.8v2.8h-2.8zm-76.1 6.1h2.8v2.8h-2.8zm55.1 2.4h2.8v2.8h-2.8zm59 .5h2.8v2.8h-2.8zm-63.1 4.9h2.8v2.8h-2.8zm-77.4 7.7h2.8v2.8h-2.8zm11.6 3.4h2.8v2.8h-2.8zm162.3 1.8h2.8v2.8h-2.8zm-219.2 5.5h2.8v2.8h-2.8zm50.8 14.4h2.8v2.8h-2.8zm75.4-1.9h2.8v2.8h-2.8zm8.1 3.2h2.8v2.8h-2.8zm116.5-4.4h2.8v2.8h-2.8zm-93.7 8h2.8v2.8h-2.8zm80.2 .9h2.8v2.8h-2.8zm-229.8 13.9h2.8v2.8h-2.8zm123.9-2.9h2.8v2.8h-2.8zm19.5 7.7h2.8v2.8h-2.8zm77.8-.2h2.8v2.8h-2.8zm14.5 5.8h2.8v2.8h-2.8zm-139.4 2.8h2.8v2.8h-2.8zm19.1 2.7h2.8v2.8h-2.8zm24.5 2.8h2.8v2.8h-2.8zm4.3-5.1h2.8v2.8h-2.8zm3.3 .9h2.8v2.8h-2.8zm-32 7.2h2.8v2.8h-2.8zm-22.8 13.4h2.8v2.8h-2.8zm133.5 1.8h2.8v2.8h-2.8zm-234.3 10.4h2.8v2.8h-2.8zm160.5-3.9h2.8v2.8h-2.8zm37 13.7h2.8v2.8h-2.8zm19 2.1h2.8v2.8h-2.8zm-42.4 1.9h2.8v2.8h-2.8zm100.7 13h2.8v2.8h-2.8zm-155.4 5.4h2.8v2.8h-2.8zm-26.8 11.1h2.8v2.8h-2.8zm6.1 5.3h2.8v2.8h-2.8zm8.1 9.6h2.8v2.8h-2.8zm22 9.2h2.8v2.8h-2.8zm31.9 2.6h2.8v2.8h-2.8zm-20.9 23.3h2.8v2.8h-2.8zm29.5 5.7h2.8v2.8h-2.8zm-92.9 10h2.8v2.8h-2.8zm3.4-2.8h2.8v2.8h-2.8zm14.7 1.2h2.8v2.8h-2.8zm5.5 0h2.8v2.8h-2.8zm-24.4 6.8h2.8v2.8h-2.8zm3.6 .2h2.8v2.8h-2.8zm18.2-1.4h2.8v2.8h-2.8zm5.3 2h2.8v2.8h-2.8z"/>
<path fill="#55a868" d="M171.1 79.5h2.8v2.8h-2.8zm4.2-3h2.8v2.8h-2.8zm56.5 1.6h2.8v2.8h-2.8zm-62.1 25.7h2.8v2.8h-2.8zm4.2 1.7h2.8v2.8h-2.8zm-30.7 12.8h2.8v2.8h-2.8zm210.2 18.7h2.8v2.8h-2.8zm-201.4 7.2h2.8v2.8h-2.8zm198.8-3.1h2.8v2.8h-2.8zm-19.1 24.3h2.8v2.8h-2.8zm11.9 5.7h2.8v2.8h-2.8zm-97.6 13.2h2.8v2.8h-2.8zm-48.3 10.4h2.8v2.8h-2.8zm5.2 1.4h2.8v2.8h-2.8zm129.5 1.1h2.8v2.8h-2.8zm-74.9 7.8h2.8v2.8h-2.8zm-154.7 3.8h2.8v2.8h-2.8zm160.5-.1h2.8v2.8h-2.8zm-46.6 32.6h2.8v2.8h-2.8zm41.3 37.8h2.8v2.8h-2.8zm-77.5 35.9h2.8v2.8h-2.8zm13.6 2.2h2.8v2.8h-2.8zm3.4 1h2.8v2.8h-2.8zm-24.1 5.3h2.8v2.8h-2.8zm20.7-2.2h2.8v2.8h-2.8zm5.9 .4h2.8v2.8h-2.8z"/>
<path fill="#55a868" d="M176.9 78.7h2.8v2.8h-2.8zm-27.4 62.5h2.8v2.8h-2.8zm.9 4.3h2.8v2.8h-2.8zm199.1-4.2h2.8v2.8h-2.8zm-14.6 25.4h2.8v2.8h-2.8zm8.2 2.8h2.8v2.8h-2.8zm3.6 .7h2.8v2.8h-2.8zm-103.4 13.7h2.8v2.8h-2.8zm-64.1 127.9h2.8v2.8h-2.8zm3.2 4.9h2.8v2.8h-2.8zm10.2 4.6h2.8v2.8h-2.8z"/>
<path fill="#55a868" d="M342.6 169h2.8v2.8h-2.8zm-159.6 150.5h2.8v2.8h-2.8zm7.5 1.7h2.8v2.8h-2.8zm3.8 1.1h2.8v2.8h-2.8z"/>
<path fill="#55a868" d="M342.4 166.7h2.8v2.8h-2.8z"/>
<path fill="#4c72b0" d="M111.8 106a2 2 0 1 0 4 0a2 2 0 1 0-4 0zm268.1 110.2a2 2 0 1 0 4 0a2 2 0 1 0-4 0zm-255.6 24.1a2 2 0 1 0 4 0a2 2 0 1 0-4 0zm160.7-2.7a2 2 0 1 0 4 0a2 2 0 1 0-4 0zm-13.6 6.1a2 2 0 1 0 4 0a2 2 0 1 0-4 0zm6.9 .6a2 2 0 1 0 4 0a2 2 0 1 0-4 0zm6.4 .6a2 2 0 1 0 4 0a2 2 0 1 0-4 0zm76.8 16.1a2 2 0 1 0 4 0a2 2 0 1 0-4 0z"/>
<path fill="#4c72b0" d="M380.5 213.9a2 2 0 1 0 4 0a2 2 0 1 0-4 0zm-94.6 22.3a2 2 0 1 0 4 0a2 2 0 1 0-4 0zm-157.4 5a2 2 0 1 0 4 0a2 2 0 1 0-4 0zm148.7 4.6a2 2 0 1 0 4 0a2 2 0 1 0-4 0zm83.2 15.3a2 2 0 1 0 4 0a2 2 0 1 0-4 0z"/>
<path fill="#4c72b0" d="M381.9 214.6a2 2 0 1 0 4 0a2 2 0 1 0-4 0zm-95.7 19.9a2 2 0 1 0 4 0a2 2 0 1 0-4 0zm-158.2 7.9a2 2 0 1 0 4 0a2 2 0 1 0-4 0zm153.8-2.8a2 2 0 1 0 4 0a2 2 0 1 0-4 0zm5.9-.2a2 2 0 1 0 4 0a2 2 0 1 0-4 0zm-11.7 8.9a2 2 0 1 0 4 0a2 2 0 1 0-4 0zm85.1 12.1a2 2 0 1 0 4 0a2 2 0 1 0-4 0z"/>
<path fill="#4c72b0" d="M381.1 215.7a2 2 0 1 0 4 0a2 2 0 1 0-4 0zm-97.5 19.2a2 2 0 1 0 4 0a2 2 0 1 0-4 0zm-157.5 6.7a2 2 0 1 0 4 0a2 2 0 1 0-4 0zm157.1 .1a2 2 0 1 0 4 0a2 2 0 1 0-4 0zm-9.8 6.7a2 2 0 1 0 4 0a2 2 0 1 0-4 0zm86.7 12.6a2 2 0 1 0 4 0a2 2 0 1 0-4 0z"/>
<path fill="#4c72b0" d="M380.2 214.9a2 2 0 1 0 4 0a2 2 0 1 0-4 0zm-98.1 23a2 2 0 1 0 4 0a2 2 0 1 0-4 0zm-11.3 7.5a2 2 0 1 0 4 0a2 2 0 1 0-4 0zm9.4 0a2 2 0 1 0 4 0a2 2 0 1 0-4 0zm83.5 16.7a2 2 0 1 0 4 0a2 2 0 1 0-4 0z"/>
<path fill="#4c72b0" d="M380.8 217a2 2 0 1 0 4 0a2 2 0 1 0-4 0zm-101.3 26.1a2 2 0 1 0 4 0a2 2 0 1 0-4 0zm82.3 20.2a2 2 0 1 0 4 0a2 2 0 1 0-4 0z"/>
<path fill="#4c72b0" d="M379.2 213.7a2 2 0 1 0 4 0a2 2 0 1 0-4 0zm-98 27.4a2 2 0 1 0 4 0a2 2 0 1 0-4 0zm-2 5.8a2 2 0 1 0 4 0a2 2 0 1 0-4 0zm82.4 15a2 2 0 1 0 4 0a2 2 0 1 0-4 0z"/>
<path fill="#4c72b0" d="M380.8 217.9a2 2 0 1 0 4 0a2 2 0 1 0-4 0zm-17.8 43.6a2 2 0 1 0 4 0a2 2 0 1 0-4 0z"/>
<path fill="#4c72b0" d="M378.8 214.6a2 2 0 1 0 4 0a2 2 0 1 0-4 0zm-15.8 45.4a2 2 0 1 0 4 0a2 2 0 1 0-4 0z"/>
<path fill="#4c72b0" d="M380.7 216.8a2 2 0 1 0 4 0a2 2 0 1 0-4 0zm-19.3 44.3a2 2 0 1 0 4 0a2 2 0 1 0-4 0z"/>
</g>
</g>
<g fill="none" stroke="#ee1c1c" stroke-width="1.45">
<rect x="361.6" y="307.7" width="27.8" height="28.2"/>
<rect x="497" y="276.4" width="23.5" height="23.5"/>
<rect x="473.7" y="336" width="23.8" height="23.5"/>
</g>
<g>
<rect x="465.2" y="8.7" width="76" height="60.3" rx="2.5" fill="#eaeaf2" fill-opacity="0.8" stroke="#cccccc" stroke-opacity="0.8" stroke-width="0.7"/>
<text x="503.2" y="20.6" text-anchor="middle" font-size="10.6">label</text>
<circle cx="478.8" cy="32.1" r="3.4" fill="#4c72b0" stroke="#fff" stroke-width="0.48"/>
<path d="M477.10 42.50l1.70 1.70l1.70 -1.70l1.70 1.70l-1.70 1.70l1.70 1.70l-1.70 1.70l-1.70 -1.70l-1.70 1.70l-1.70 -1.70l1.70 -1.70l-1.70 -1.70z" fill="#dd8452" stroke="#fff" stroke-width="0.48"/>
<path d="M476.20 57.80h4.81v4.81h-4.81z" fill="#55a868" stroke="#fff" stroke-width="0.48"/>
<text x="496.3" y="35.3" font-size="9.6">exp_neg</text>
<text x="496.3" y="49.3" font-size="9.6">gen_neg</text>
<text x="496.3" y="63.2" font-size="9.6">csd_pos</text>
</g>
<g font-size="9.6"><text x="94.41" y="499.6" text-anchor="middle">−150</text><text x="163.86" y="499.6" text-anchor="middle">−100</text><text x="233.31" y="499.6" text-anchor="middle">−50</text><text x="302.75" y="499.6" text-anchor="middle">0</text><text x="372.19" y="499.6" text-anchor="middle">50</text><text x="441.64" y="499.6" text-anchor="middle">100</text><text x="511.09" y="499.6" text-anchor="middle">150</text><text x="45.8" y="67.90" text-anchor="end">150</text><text x="45.8" y="128.90" text-anchor="end">100</text><text x="45.8" y="189.90" text-anchor="end">50</text><text x="45.8" y="250.90" text-anchor="end">0</text><text x="45.8" y="311.90" text-anchor="end">−50</text><text x="45.8" y="372.90" text-anchor="end">−100</text><text x="45.8" y="433.90" text-anchor="end">−150</text></g>
<text x="300.3" y="512.3" text-anchor="middle" font-size="10.6">tSNE_1</text>
<text transform="translate(13.3 243.3) rotate(-90)" text-anchor="middle" font-size="10.6">tSNE_2</text>
</svg></div>
</body></html>
